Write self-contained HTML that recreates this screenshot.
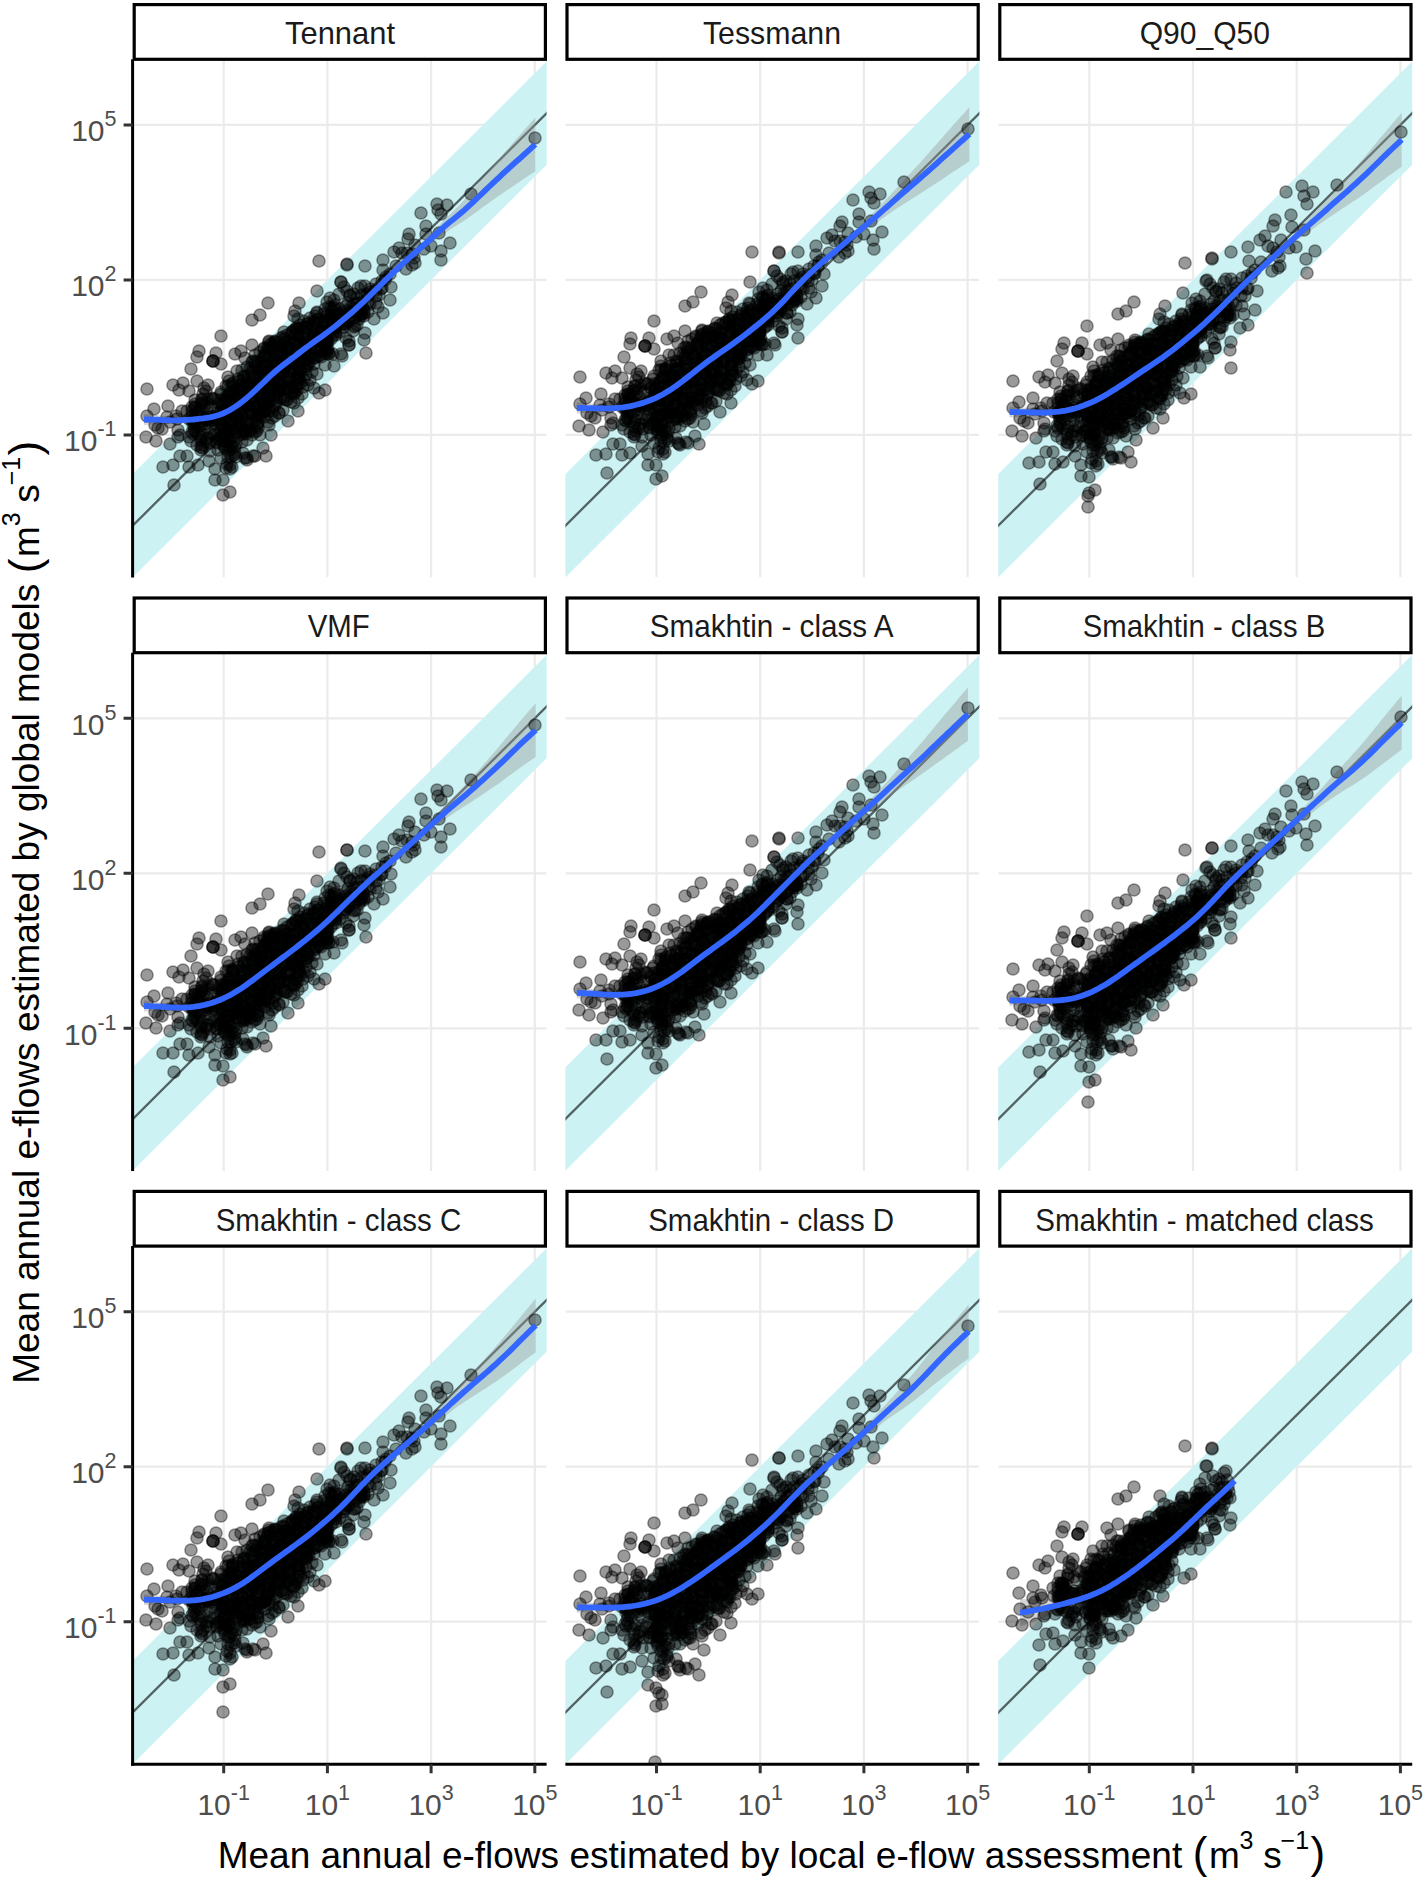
<!DOCTYPE html><html><head><meta charset="utf-8"><title>e-flows</title><style>
html,body{margin:0;padding:0;background:#fff;width:1425px;height:1880px;overflow:hidden}
svg{display:block;font-family:"Liberation Sans", Arial, sans-serif}
</style></head><body>
<svg width="1425" height="1880" viewBox="0 0 1425 1880">
<rect width="1425" height="1880" fill="#fff"/>
<defs>
<clipPath id="c0"><rect x="132.6" y="59.3" width="414.0" height="518.2"/></clipPath>
<clipPath id="c1"><rect x="565.4" y="59.3" width="414.0" height="518.2"/></clipPath>
<clipPath id="c2"><rect x="998.2" y="59.3" width="414.0" height="518.2"/></clipPath>
<clipPath id="c3"><rect x="132.6" y="652.7" width="414.0" height="518.2"/></clipPath>
<clipPath id="c4"><rect x="565.4" y="652.7" width="414.0" height="518.2"/></clipPath>
<clipPath id="c5"><rect x="998.2" y="652.7" width="414.0" height="518.2"/></clipPath>
<clipPath id="c6"><rect x="132.6" y="1246.1" width="414.0" height="518.2"/></clipPath>
<clipPath id="c7"><rect x="565.4" y="1246.1" width="414.0" height="518.2"/></clipPath>
<clipPath id="c8"><rect x="998.2" y="1246.1" width="414.0" height="518.2"/></clipPath>
</defs>
<g clip-path="url(#c0)">
<path d="M223.7 59.3V577.5M327.4 59.3V577.5M431.1 59.3V577.5M534.8 59.3V577.5M132.6 434.9H546.6M132.6 279.9H546.6M132.6 124.9H546.6" stroke="#ebebeb" stroke-width="2.2" fill="none"/>
<path d="M80.8 525.7 L598.5 9.8 L598.5 113.1 L80.8 629Z" fill="#ccf2f3"/>
<path d="M80.8 577.4L598.5 61.5" stroke="#000" stroke-opacity="0.6" stroke-width="2.3"/>
<path d="M144.0 414.0 L147.3 414.2 L150.6 414.5 L153.9 414.8 L157.2 415.1 L160.4 415.5 L163.7 415.9 L167.0 416.3 L170.3 416.6 L173.6 416.8 L176.9 416.9 L180.2 416.9 L183.5 417.0 L186.8 416.9 L190.0 416.8 L193.3 416.7 L196.6 416.5 L199.9 416.2 L203.2 415.8 L206.5 415.4 L209.8 414.9 L213.1 414.3 L216.3 413.5 L219.6 412.6 L222.9 411.4 L226.2 409.9 L229.5 408.2 L232.8 406.2 L236.1 404.1 L239.4 401.7 L242.7 399.3 L245.9 396.6 L249.2 393.8 L252.5 390.9 L255.8 387.8 L259.1 384.6 L262.4 381.4 L265.7 378.2 L269.0 375.1 L272.2 372.1 L275.5 369.2 L278.8 366.5 L282.1 363.9 L285.4 361.3 L288.7 358.9 L292.0 356.4 L295.3 353.9 L298.6 351.4 L301.8 348.9 L305.1 346.4 L308.4 343.9 L311.7 341.5 L315.0 339.1 L318.3 336.8 L321.6 334.5 L324.9 332.2 L328.1 329.7 L331.4 327.2 L334.7 324.6 L338.0 322.0 L341.3 319.3 L344.6 316.5 L347.9 313.7 L351.2 310.9 L354.5 308.0 L357.7 305.0 L361.0 302.0 L364.3 298.9 L367.6 295.7 L370.9 292.5 L374.2 289.3 L377.5 286.0 L380.8 282.8 L384.0 279.5 L387.3 276.2 L390.6 273.0 L393.9 269.8 L397.2 266.7 L400.5 263.7 L403.8 260.7 L407.1 257.5 L410.3 254.3 L413.6 251.1 L416.9 247.9 L420.2 244.7 L423.5 241.5 L426.8 238.2 L430.1 235.0 L433.4 231.5 L436.7 228.0 L439.9 224.5 L443.2 221.0 L446.5 217.7 L449.8 214.5 L453.1 211.3 L456.4 208.1 L459.7 204.8 L463.0 201.2 L466.2 197.6 L469.5 193.9 L472.8 190.1 L476.1 186.2 L479.4 182.3 L482.7 178.4 L486.0 174.5 L489.3 170.6 L492.6 166.6 L495.8 162.8 L499.1 158.9 L502.4 155.1 L505.7 151.3 L509.0 147.5 L512.3 143.8 L515.6 140.0 L518.9 136.3 L522.1 132.5 L525.4 128.7 L528.7 125.0 L532.0 121.3 L535.3 117.6 L535.3 171.2 L532.0 173.4 L528.7 175.6 L525.4 177.8 L522.1 180.0 L518.9 182.2 L515.6 184.5 L512.3 186.7 L509.0 188.9 L505.7 191.1 L502.4 193.4 L499.1 195.6 L495.8 197.9 L492.6 200.2 L489.3 202.5 L486.0 204.9 L482.7 207.3 L479.4 209.7 L476.1 212.2 L472.8 214.6 L469.5 216.9 L466.2 219.2 L463.0 221.4 L459.7 223.5 L456.4 225.5 L453.1 227.6 L449.8 229.8 L446.5 231.9 L443.2 234.2 L439.9 236.6 L436.7 239.0 L433.4 241.5 L430.1 244.1 L426.8 246.7 L423.5 249.3 L420.2 251.8 L416.9 254.3 L413.6 256.9 L410.3 259.4 L407.1 262.0 L403.8 264.8 L400.5 267.8 L397.2 270.9 L393.9 274.0 L390.6 277.1 L387.3 280.4 L384.0 283.6 L380.8 286.9 L377.5 290.2 L374.2 293.4 L370.9 296.7 L367.6 299.9 L364.3 303.0 L361.0 306.1 L357.7 309.2 L354.5 312.1 L351.2 315.0 L347.9 317.9 L344.6 320.6 L341.3 323.4 L338.0 326.1 L334.7 328.8 L331.4 331.4 L328.1 333.9 L324.9 336.3 L321.6 338.6 L318.3 341.0 L315.0 343.3 L311.7 345.6 L308.4 348.0 L305.1 350.5 L301.8 353.0 L298.6 355.5 L295.3 358.0 L292.0 360.5 L288.7 363.0 L285.4 365.5 L282.1 368.0 L278.8 370.6 L275.5 373.3 L272.2 376.2 L269.0 379.2 L265.7 382.3 L262.4 385.5 L259.1 388.7 L255.8 391.9 L252.5 395.0 L249.2 397.9 L245.9 400.8 L242.7 403.4 L239.4 405.9 L236.1 408.2 L232.8 410.3 L229.5 412.3 L226.2 414.1 L222.9 415.6 L219.6 416.9 L216.3 418.0 L213.1 418.9 L209.8 419.6 L206.5 420.2 L203.2 420.8 L199.9 421.3 L196.6 421.8 L193.3 422.2 L190.0 422.6 L186.8 423.0 L183.5 423.3 L180.2 423.5 L176.9 423.7 L173.6 423.9 L170.3 424.0 L167.0 424.1 L163.7 424.2 L160.4 424.3 L157.2 424.3 L153.9 424.4 L150.6 424.6 L147.3 424.7 L144.0 424.9Z" fill="#999" fill-opacity="0.4"/>
<g class="pts" fill="#000" fill-opacity="0.4" stroke="#000" stroke-opacity="0.4" stroke-width="1.5">
<circle cx="248" cy="392" r="6.1"/><circle cx="287" cy="357" r="6.1"/><circle cx="319" cy="261" r="6.1"/><circle cx="222" cy="428" r="6.1"/><circle cx="412" cy="265" r="6.1"/><circle cx="183" cy="383" r="6.1"/><circle cx="304" cy="353" r="6.1"/><circle cx="202" cy="448" r="6.1"/><circle cx="348" cy="322" r="6.1"/><circle cx="266" cy="356" r="6.1"/><circle cx="233" cy="386" r="6.1"/><circle cx="450" cy="243" r="6.1"/><circle cx="235" cy="354" r="6.1"/><circle cx="146" cy="437" r="6.1"/><circle cx="255" cy="367" r="6.1"/><circle cx="298" cy="353" r="6.1"/><circle cx="376" cy="296" r="6.1"/><circle cx="189" cy="419" r="6.1"/><circle cx="326" cy="338" r="6.1"/><circle cx="321" cy="332" r="6.1"/><circle cx="278" cy="376" r="6.1"/><circle cx="304" cy="346" r="6.1"/><circle cx="227" cy="417" r="6.1"/><circle cx="228" cy="377" r="6.1"/><circle cx="193" cy="424" r="6.1"/><circle cx="272" cy="389" r="6.1"/><circle cx="308" cy="363" r="6.1"/><circle cx="279" cy="351" r="6.1"/><circle cx="298" cy="398" r="6.1"/><circle cx="268" cy="349" r="6.1"/><circle cx="288" cy="358" r="6.1"/><circle cx="252" cy="415" r="6.1"/><circle cx="266" cy="375" r="6.1"/><circle cx="306" cy="367" r="6.1"/><circle cx="276" cy="354" r="6.1"/><circle cx="297" cy="351" r="6.1"/><circle cx="361" cy="314" r="6.1"/><circle cx="334" cy="307" r="6.1"/><circle cx="229" cy="424" r="6.1"/><circle cx="173" cy="385" r="6.1"/><circle cx="236" cy="444" r="6.1"/><circle cx="263" cy="389" r="6.1"/><circle cx="218" cy="412" r="6.1"/><circle cx="344" cy="327" r="6.1"/><circle cx="288" cy="348" r="6.1"/><circle cx="229" cy="440" r="6.1"/><circle cx="247" cy="428" r="6.1"/><circle cx="288" cy="389" r="6.1"/><circle cx="415" cy="263" r="6.1"/><circle cx="209" cy="417" r="6.1"/><circle cx="249" cy="431" r="6.1"/><circle cx="264" cy="349" r="6.1"/><circle cx="221" cy="423" r="6.1"/><circle cx="200" cy="410" r="6.1"/><circle cx="253" cy="361" r="6.1"/><circle cx="307" cy="346" r="6.1"/><circle cx="284" cy="339" r="6.1"/><circle cx="402" cy="253" r="6.1"/><circle cx="329" cy="319" r="6.1"/><circle cx="341" cy="354" r="6.1"/><circle cx="274" cy="396" r="6.1"/><circle cx="221" cy="430" r="6.1"/><circle cx="386" cy="277" r="6.1"/><circle cx="233" cy="407" r="6.1"/><circle cx="286" cy="359" r="6.1"/><circle cx="202" cy="424" r="6.1"/><circle cx="315" cy="316" r="6.1"/><circle cx="202" cy="434" r="6.1"/><circle cx="306" cy="375" r="6.1"/><circle cx="281" cy="347" r="6.1"/><circle cx="294" cy="394" r="6.1"/><circle cx="240" cy="391" r="6.1"/><circle cx="277" cy="374" r="6.1"/><circle cx="240" cy="419" r="6.1"/><circle cx="317" cy="313" r="6.1"/><circle cx="347" cy="264" r="6.1"/><circle cx="195" cy="404" r="6.1"/><circle cx="223" cy="480" r="6.1"/><circle cx="308" cy="359" r="6.1"/><circle cx="244" cy="377" r="6.1"/><circle cx="367" cy="294" r="6.1"/><circle cx="298" cy="384" r="6.1"/><circle cx="301" cy="359" r="6.1"/><circle cx="270" cy="397" r="6.1"/><circle cx="245" cy="358" r="6.1"/><circle cx="265" cy="410" r="6.1"/><circle cx="306" cy="346" r="6.1"/><circle cx="276" cy="404" r="6.1"/><circle cx="268" cy="396" r="6.1"/><circle cx="242" cy="408" r="6.1"/><circle cx="230" cy="439" r="6.1"/><circle cx="269" cy="411" r="6.1"/><circle cx="394" cy="252" r="6.1"/><circle cx="362" cy="314" r="6.1"/><circle cx="239" cy="381" r="6.1"/><circle cx="243" cy="432" r="6.1"/><circle cx="266" cy="367" r="6.1"/><circle cx="269" cy="357" r="6.1"/><circle cx="216" cy="417" r="6.1"/><circle cx="421" cy="213" r="6.1"/><circle cx="230" cy="450" r="6.1"/><circle cx="221" cy="394" r="6.1"/><circle cx="203" cy="394" r="6.1"/><circle cx="156" cy="441" r="6.1"/><circle cx="348" cy="303" r="6.1"/><circle cx="272" cy="348" r="6.1"/><circle cx="374" cy="319" r="6.1"/><circle cx="213" cy="361" r="6.1"/><circle cx="207" cy="410" r="6.1"/><circle cx="267" cy="365" r="6.1"/><circle cx="221" cy="458" r="6.1"/><circle cx="268" cy="303" r="6.1"/><circle cx="202" cy="399" r="6.1"/><circle cx="314" cy="364" r="6.1"/><circle cx="283" cy="410" r="6.1"/><circle cx="216" cy="424" r="6.1"/><circle cx="321" cy="331" r="6.1"/><circle cx="288" cy="380" r="6.1"/><circle cx="317" cy="312" r="6.1"/><circle cx="234" cy="413" r="6.1"/><circle cx="215" cy="431" r="6.1"/><circle cx="329" cy="353" r="6.1"/><circle cx="286" cy="400" r="6.1"/><circle cx="224" cy="406" r="6.1"/><circle cx="290" cy="371" r="6.1"/><circle cx="233" cy="402" r="6.1"/><circle cx="291" cy="333" r="6.1"/><circle cx="187" cy="411" r="6.1"/><circle cx="269" cy="425" r="6.1"/><circle cx="170" cy="422" r="6.1"/><circle cx="441" cy="214" r="6.1"/><circle cx="332" cy="324" r="6.1"/><circle cx="260" cy="415" r="6.1"/><circle cx="414" cy="258" r="6.1"/><circle cx="174" cy="485" r="6.1"/><circle cx="353" cy="312" r="6.1"/><circle cx="191" cy="369" r="6.1"/><circle cx="244" cy="376" r="6.1"/><circle cx="346" cy="321" r="6.1"/><circle cx="230" cy="393" r="6.1"/><circle cx="251" cy="414" r="6.1"/><circle cx="237" cy="427" r="6.1"/><circle cx="266" cy="409" r="6.1"/><circle cx="211" cy="406" r="6.1"/><circle cx="383" cy="270" r="6.1"/><circle cx="247" cy="458" r="6.1"/><circle cx="336" cy="335" r="6.1"/><circle cx="256" cy="386" r="6.1"/><circle cx="305" cy="361" r="6.1"/><circle cx="221" cy="411" r="6.1"/><circle cx="209" cy="461" r="6.1"/><circle cx="298" cy="374" r="6.1"/><circle cx="294" cy="393" r="6.1"/><circle cx="334" cy="366" r="6.1"/><circle cx="247" cy="460" r="6.1"/><circle cx="307" cy="366" r="6.1"/><circle cx="269" cy="342" r="6.1"/><circle cx="221" cy="392" r="6.1"/><circle cx="180" cy="435" r="6.1"/><circle cx="325" cy="321" r="6.1"/><circle cx="249" cy="387" r="6.1"/><circle cx="321" cy="357" r="6.1"/><circle cx="225" cy="441" r="6.1"/><circle cx="251" cy="393" r="6.1"/><circle cx="258" cy="405" r="6.1"/><circle cx="291" cy="367" r="6.1"/><circle cx="306" cy="344" r="6.1"/><circle cx="263" cy="376" r="6.1"/><circle cx="258" cy="423" r="6.1"/><circle cx="338" cy="314" r="6.1"/><circle cx="325" cy="390" r="6.1"/><circle cx="260" cy="395" r="6.1"/><circle cx="275" cy="416" r="6.1"/><circle cx="315" cy="347" r="6.1"/><circle cx="342" cy="313" r="6.1"/><circle cx="359" cy="319" r="6.1"/><circle cx="249" cy="422" r="6.1"/><circle cx="232" cy="467" r="6.1"/><circle cx="227" cy="464" r="6.1"/><circle cx="242" cy="401" r="6.1"/><circle cx="412" cy="254" r="6.1"/><circle cx="208" cy="399" r="6.1"/><circle cx="204" cy="421" r="6.1"/><circle cx="282" cy="373" r="6.1"/><circle cx="258" cy="373" r="6.1"/><circle cx="252" cy="345" r="6.1"/><circle cx="195" cy="427" r="6.1"/><circle cx="314" cy="388" r="6.1"/><circle cx="354" cy="294" r="6.1"/><circle cx="246" cy="404" r="6.1"/><circle cx="162" cy="429" r="6.1"/><circle cx="290" cy="379" r="6.1"/><circle cx="192" cy="416" r="6.1"/><circle cx="269" cy="409" r="6.1"/><circle cx="271" cy="377" r="6.1"/><circle cx="218" cy="450" r="6.1"/><circle cx="228" cy="436" r="6.1"/><circle cx="256" cy="365" r="6.1"/><circle cx="366" cy="353" r="6.1"/><circle cx="268" cy="403" r="6.1"/><circle cx="251" cy="385" r="6.1"/><circle cx="285" cy="368" r="6.1"/><circle cx="206" cy="391" r="6.1"/><circle cx="233" cy="397" r="6.1"/><circle cx="197" cy="424" r="6.1"/><circle cx="234" cy="455" r="6.1"/><circle cx="282" cy="353" r="6.1"/><circle cx="268" cy="399" r="6.1"/><circle cx="277" cy="393" r="6.1"/><circle cx="250" cy="410" r="6.1"/><circle cx="301" cy="356" r="6.1"/><circle cx="241" cy="351" r="6.1"/><circle cx="426" cy="234" r="6.1"/><circle cx="376" cy="290" r="6.1"/><circle cx="284" cy="397" r="6.1"/><circle cx="208" cy="403" r="6.1"/><circle cx="226" cy="413" r="6.1"/><circle cx="246" cy="430" r="6.1"/><circle cx="244" cy="432" r="6.1"/><circle cx="264" cy="384" r="6.1"/><circle cx="205" cy="419" r="6.1"/><circle cx="345" cy="324" r="6.1"/><circle cx="286" cy="342" r="6.1"/><circle cx="310" cy="318" r="6.1"/><circle cx="230" cy="492" r="6.1"/><circle cx="195" cy="408" r="6.1"/><circle cx="226" cy="397" r="6.1"/><circle cx="340" cy="332" r="6.1"/><circle cx="326" cy="345" r="6.1"/><circle cx="265" cy="354" r="6.1"/><circle cx="232" cy="446" r="6.1"/><circle cx="279" cy="413" r="6.1"/><circle cx="182" cy="411" r="6.1"/><circle cx="310" cy="380" r="6.1"/><circle cx="269" cy="391" r="6.1"/><circle cx="439" cy="233" r="6.1"/><circle cx="318" cy="319" r="6.1"/><circle cx="273" cy="411" r="6.1"/><circle cx="274" cy="346" r="6.1"/><circle cx="354" cy="318" r="6.1"/><circle cx="251" cy="385" r="6.1"/><circle cx="328" cy="342" r="6.1"/><circle cx="299" cy="337" r="6.1"/><circle cx="331" cy="315" r="6.1"/><circle cx="246" cy="434" r="6.1"/><circle cx="357" cy="325" r="6.1"/><circle cx="272" cy="369" r="6.1"/><circle cx="327" cy="341" r="6.1"/><circle cx="319" cy="356" r="6.1"/><circle cx="278" cy="390" r="6.1"/><circle cx="378" cy="307" r="6.1"/><circle cx="297" cy="390" r="6.1"/><circle cx="409" cy="234" r="6.1"/><circle cx="230" cy="401" r="6.1"/><circle cx="331" cy="315" r="6.1"/><circle cx="370" cy="289" r="6.1"/><circle cx="263" cy="411" r="6.1"/><circle cx="257" cy="431" r="6.1"/><circle cx="332" cy="327" r="6.1"/><circle cx="309" cy="364" r="6.1"/><circle cx="242" cy="409" r="6.1"/><circle cx="245" cy="384" r="6.1"/><circle cx="298" cy="335" r="6.1"/><circle cx="349" cy="313" r="6.1"/><circle cx="228" cy="441" r="6.1"/><circle cx="238" cy="379" r="6.1"/><circle cx="354" cy="304" r="6.1"/><circle cx="255" cy="421" r="6.1"/><circle cx="351" cy="307" r="6.1"/><circle cx="198" cy="434" r="6.1"/><circle cx="328" cy="349" r="6.1"/><circle cx="299" cy="340" r="6.1"/><circle cx="247" cy="367" r="6.1"/><circle cx="333" cy="316" r="6.1"/><circle cx="340" cy="314" r="6.1"/><circle cx="306" cy="354" r="6.1"/><circle cx="281" cy="366" r="6.1"/><circle cx="302" cy="350" r="6.1"/><circle cx="216" cy="353" r="6.1"/><circle cx="297" cy="329" r="6.1"/><circle cx="255" cy="355" r="6.1"/><circle cx="197" cy="381" r="6.1"/><circle cx="316" cy="323" r="6.1"/><circle cx="318" cy="320" r="6.1"/><circle cx="233" cy="415" r="6.1"/><circle cx="283" cy="386" r="6.1"/><circle cx="226" cy="399" r="6.1"/><circle cx="215" cy="399" r="6.1"/><circle cx="535" cy="138" r="6.1"/><circle cx="330" cy="330" r="6.1"/><circle cx="274" cy="406" r="6.1"/><circle cx="327" cy="337" r="6.1"/><circle cx="199" cy="412" r="6.1"/><circle cx="368" cy="303" r="6.1"/><circle cx="257" cy="415" r="6.1"/><circle cx="206" cy="418" r="6.1"/><circle cx="339" cy="294" r="6.1"/><circle cx="349" cy="341" r="6.1"/><circle cx="349" cy="345" r="6.1"/><circle cx="301" cy="383" r="6.1"/><circle cx="147" cy="389" r="6.1"/><circle cx="243" cy="406" r="6.1"/><circle cx="333" cy="354" r="6.1"/><circle cx="231" cy="457" r="6.1"/><circle cx="331" cy="308" r="6.1"/><circle cx="319" cy="341" r="6.1"/><circle cx="235" cy="392" r="6.1"/><circle cx="382" cy="288" r="6.1"/><circle cx="229" cy="381" r="6.1"/><circle cx="250" cy="409" r="6.1"/><circle cx="225" cy="448" r="6.1"/><circle cx="274" cy="386" r="6.1"/><circle cx="207" cy="419" r="6.1"/><circle cx="278" cy="381" r="6.1"/><circle cx="241" cy="389" r="6.1"/><circle cx="233" cy="430" r="6.1"/><circle cx="301" cy="363" r="6.1"/><circle cx="307" cy="324" r="6.1"/><circle cx="224" cy="417" r="6.1"/><circle cx="235" cy="447" r="6.1"/><circle cx="317" cy="341" r="6.1"/><circle cx="249" cy="389" r="6.1"/><circle cx="274" cy="342" r="6.1"/><circle cx="295" cy="311" r="6.1"/><circle cx="268" cy="422" r="6.1"/><circle cx="223" cy="435" r="6.1"/><circle cx="287" cy="381" r="6.1"/><circle cx="241" cy="390" r="6.1"/><circle cx="437" cy="204" r="6.1"/><circle cx="224" cy="445" r="6.1"/><circle cx="178" cy="430" r="6.1"/><circle cx="285" cy="383" r="6.1"/><circle cx="317" cy="291" r="6.1"/><circle cx="259" cy="411" r="6.1"/><circle cx="305" cy="369" r="6.1"/><circle cx="383" cy="260" r="6.1"/><circle cx="229" cy="394" r="6.1"/><circle cx="236" cy="408" r="6.1"/><circle cx="196" cy="432" r="6.1"/><circle cx="237" cy="389" r="6.1"/><circle cx="288" cy="421" r="6.1"/><circle cx="346" cy="338" r="6.1"/><circle cx="226" cy="468" r="6.1"/><circle cx="199" cy="427" r="6.1"/><circle cx="313" cy="323" r="6.1"/><circle cx="261" cy="362" r="6.1"/><circle cx="291" cy="387" r="6.1"/><circle cx="247" cy="406" r="6.1"/><circle cx="274" cy="357" r="6.1"/><circle cx="193" cy="420" r="6.1"/><circle cx="299" cy="362" r="6.1"/><circle cx="217" cy="443" r="6.1"/><circle cx="326" cy="321" r="6.1"/><circle cx="330" cy="329" r="6.1"/><circle cx="265" cy="417" r="6.1"/><circle cx="283" cy="337" r="6.1"/><circle cx="319" cy="393" r="6.1"/><circle cx="424" cy="249" r="6.1"/><circle cx="303" cy="387" r="6.1"/><circle cx="297" cy="378" r="6.1"/><circle cx="260" cy="383" r="6.1"/><circle cx="354" cy="327" r="6.1"/><circle cx="298" cy="411" r="6.1"/><circle cx="245" cy="400" r="6.1"/><circle cx="364" cy="310" r="6.1"/><circle cx="431" cy="246" r="6.1"/><circle cx="300" cy="371" r="6.1"/><circle cx="314" cy="356" r="6.1"/><circle cx="292" cy="363" r="6.1"/><circle cx="327" cy="351" r="6.1"/><circle cx="365" cy="286" r="6.1"/><circle cx="334" cy="309" r="6.1"/><circle cx="226" cy="435" r="6.1"/><circle cx="228" cy="431" r="6.1"/><circle cx="250" cy="369" r="6.1"/><circle cx="189" cy="437" r="6.1"/><circle cx="361" cy="316" r="6.1"/><circle cx="237" cy="371" r="6.1"/><circle cx="315" cy="358" r="6.1"/><circle cx="299" cy="303" r="6.1"/><circle cx="441" cy="260" r="6.1"/><circle cx="223" cy="425" r="6.1"/><circle cx="261" cy="393" r="6.1"/><circle cx="332" cy="311" r="6.1"/><circle cx="334" cy="300" r="6.1"/><circle cx="247" cy="440" r="6.1"/><circle cx="255" cy="456" r="6.1"/><circle cx="155" cy="425" r="6.1"/><circle cx="222" cy="405" r="6.1"/><circle cx="263" cy="386" r="6.1"/><circle cx="180" cy="456" r="6.1"/><circle cx="201" cy="447" r="6.1"/><circle cx="304" cy="332" r="6.1"/><circle cx="294" cy="363" r="6.1"/><circle cx="317" cy="374" r="6.1"/><circle cx="201" cy="417" r="6.1"/><circle cx="364" cy="316" r="6.1"/><circle cx="325" cy="309" r="6.1"/><circle cx="250" cy="431" r="6.1"/><circle cx="304" cy="321" r="6.1"/><circle cx="364" cy="313" r="6.1"/><circle cx="192" cy="432" r="6.1"/><circle cx="237" cy="400" r="6.1"/><circle cx="271" cy="435" r="6.1"/><circle cx="358" cy="288" r="6.1"/><circle cx="251" cy="398" r="6.1"/><circle cx="283" cy="362" r="6.1"/><circle cx="327" cy="323" r="6.1"/><circle cx="213" cy="361" r="6.1"/><circle cx="300" cy="325" r="6.1"/><circle cx="254" cy="383" r="6.1"/><circle cx="304" cy="380" r="6.1"/><circle cx="281" cy="398" r="6.1"/><circle cx="415" cy="245" r="6.1"/><circle cx="334" cy="321" r="6.1"/><circle cx="252" cy="423" r="6.1"/><circle cx="163" cy="467" r="6.1"/><circle cx="221" cy="336" r="6.1"/><circle cx="308" cy="385" r="6.1"/><circle cx="212" cy="398" r="6.1"/><circle cx="272" cy="418" r="6.1"/><circle cx="279" cy="390" r="6.1"/><circle cx="225" cy="441" r="6.1"/><circle cx="362" cy="295" r="6.1"/><circle cx="355" cy="326" r="6.1"/><circle cx="326" cy="349" r="6.1"/><circle cx="252" cy="414" r="6.1"/><circle cx="236" cy="432" r="6.1"/><circle cx="273" cy="380" r="6.1"/><circle cx="315" cy="352" r="6.1"/><circle cx="225" cy="400" r="6.1"/><circle cx="223" cy="411" r="6.1"/><circle cx="213" cy="420" r="6.1"/><circle cx="263" cy="389" r="6.1"/><circle cx="241" cy="421" r="6.1"/><circle cx="223" cy="495" r="6.1"/><circle cx="323" cy="323" r="6.1"/><circle cx="260" cy="315" r="6.1"/><circle cx="228" cy="457" r="6.1"/><circle cx="264" cy="412" r="6.1"/><circle cx="300" cy="370" r="6.1"/><circle cx="291" cy="393" r="6.1"/><circle cx="272" cy="385" r="6.1"/><circle cx="362" cy="302" r="6.1"/><circle cx="263" cy="368" r="6.1"/><circle cx="240" cy="399" r="6.1"/><circle cx="228" cy="451" r="6.1"/><circle cx="368" cy="312" r="6.1"/><circle cx="187" cy="456" r="6.1"/><circle cx="218" cy="418" r="6.1"/><circle cx="347" cy="265" r="6.1"/><circle cx="341" cy="282" r="6.1"/><circle cx="295" cy="391" r="6.1"/><circle cx="344" cy="287" r="6.1"/><circle cx="192" cy="411" r="6.1"/><circle cx="353" cy="309" r="6.1"/><circle cx="296" cy="343" r="6.1"/><circle cx="360" cy="309" r="6.1"/><circle cx="221" cy="437" r="6.1"/><circle cx="365" cy="266" r="6.1"/><circle cx="339" cy="315" r="6.1"/><circle cx="441" cy="251" r="6.1"/><circle cx="293" cy="368" r="6.1"/><circle cx="274" cy="360" r="6.1"/><circle cx="327" cy="302" r="6.1"/><circle cx="215" cy="469" r="6.1"/><circle cx="205" cy="424" r="6.1"/><circle cx="275" cy="341" r="6.1"/><circle cx="265" cy="403" r="6.1"/><circle cx="281" cy="338" r="6.1"/><circle cx="357" cy="303" r="6.1"/><circle cx="379" cy="295" r="6.1"/><circle cx="252" cy="362" r="6.1"/><circle cx="368" cy="296" r="6.1"/><circle cx="284" cy="368" r="6.1"/><circle cx="208" cy="385" r="6.1"/><circle cx="230" cy="447" r="6.1"/><circle cx="299" cy="380" r="6.1"/><circle cx="396" cy="266" r="6.1"/><circle cx="201" cy="437" r="6.1"/><circle cx="198" cy="465" r="6.1"/><circle cx="197" cy="445" r="6.1"/><circle cx="335" cy="322" r="6.1"/><circle cx="313" cy="337" r="6.1"/><circle cx="303" cy="336" r="6.1"/><circle cx="275" cy="361" r="6.1"/><circle cx="266" cy="376" r="6.1"/><circle cx="264" cy="406" r="6.1"/><circle cx="270" cy="372" r="6.1"/><circle cx="382" cy="281" r="6.1"/><circle cx="201" cy="404" r="6.1"/><circle cx="255" cy="390" r="6.1"/><circle cx="196" cy="413" r="6.1"/><circle cx="280" cy="372" r="6.1"/><circle cx="242" cy="413" r="6.1"/><circle cx="294" cy="342" r="6.1"/><circle cx="346" cy="306" r="6.1"/><circle cx="210" cy="451" r="6.1"/><circle cx="189" cy="391" r="6.1"/><circle cx="230" cy="402" r="6.1"/><circle cx="288" cy="379" r="6.1"/><circle cx="310" cy="351" r="6.1"/><circle cx="299" cy="377" r="6.1"/><circle cx="196" cy="419" r="6.1"/><circle cx="260" cy="398" r="6.1"/><circle cx="237" cy="432" r="6.1"/><circle cx="335" cy="328" r="6.1"/><circle cx="326" cy="344" r="6.1"/><circle cx="341" cy="282" r="6.1"/><circle cx="276" cy="342" r="6.1"/><circle cx="296" cy="359" r="6.1"/><circle cx="357" cy="298" r="6.1"/><circle cx="274" cy="344" r="6.1"/><circle cx="270" cy="344" r="6.1"/><circle cx="342" cy="324" r="6.1"/><circle cx="359" cy="315" r="6.1"/><circle cx="336" cy="328" r="6.1"/><circle cx="314" cy="321" r="6.1"/><circle cx="268" cy="347" r="6.1"/><circle cx="353" cy="331" r="6.1"/><circle cx="327" cy="354" r="6.1"/><circle cx="376" cy="303" r="6.1"/><circle cx="438" cy="210" r="6.1"/><circle cx="335" cy="331" r="6.1"/><circle cx="227" cy="413" r="6.1"/><circle cx="259" cy="411" r="6.1"/><circle cx="319" cy="333" r="6.1"/><circle cx="312" cy="344" r="6.1"/><circle cx="363" cy="308" r="6.1"/><circle cx="260" cy="376" r="6.1"/><circle cx="288" cy="348" r="6.1"/><circle cx="426" cy="226" r="6.1"/><circle cx="381" cy="289" r="6.1"/><circle cx="370" cy="304" r="6.1"/><circle cx="297" cy="342" r="6.1"/><circle cx="179" cy="390" r="6.1"/><circle cx="195" cy="400" r="6.1"/><circle cx="217" cy="419" r="6.1"/><circle cx="390" cy="274" r="6.1"/><circle cx="210" cy="434" r="6.1"/><circle cx="391" cy="287" r="6.1"/><circle cx="242" cy="401" r="6.1"/><circle cx="147" cy="416" r="6.1"/><circle cx="271" cy="363" r="6.1"/><circle cx="204" cy="406" r="6.1"/><circle cx="234" cy="441" r="6.1"/><circle cx="237" cy="421" r="6.1"/><circle cx="307" cy="339" r="6.1"/><circle cx="260" cy="435" r="6.1"/><circle cx="213" cy="418" r="6.1"/><circle cx="296" cy="387" r="6.1"/><circle cx="253" cy="401" r="6.1"/><circle cx="322" cy="339" r="6.1"/><circle cx="284" cy="389" r="6.1"/><circle cx="255" cy="362" r="6.1"/><circle cx="212" cy="416" r="6.1"/><circle cx="229" cy="396" r="6.1"/><circle cx="258" cy="428" r="6.1"/><circle cx="219" cy="404" r="6.1"/><circle cx="279" cy="413" r="6.1"/><circle cx="285" cy="366" r="6.1"/><circle cx="233" cy="383" r="6.1"/><circle cx="290" cy="389" r="6.1"/><circle cx="264" cy="348" r="6.1"/><circle cx="258" cy="361" r="6.1"/><circle cx="286" cy="348" r="6.1"/><circle cx="245" cy="458" r="6.1"/><circle cx="193" cy="434" r="6.1"/><circle cx="261" cy="384" r="6.1"/><circle cx="217" cy="439" r="6.1"/><circle cx="260" cy="352" r="6.1"/><circle cx="349" cy="321" r="6.1"/><circle cx="300" cy="328" r="6.1"/><circle cx="234" cy="391" r="6.1"/><circle cx="228" cy="426" r="6.1"/><circle cx="243" cy="434" r="6.1"/><circle cx="247" cy="423" r="6.1"/><circle cx="170" cy="444" r="6.1"/><circle cx="251" cy="390" r="6.1"/><circle cx="305" cy="353" r="6.1"/><circle cx="234" cy="411" r="6.1"/><circle cx="447" cy="205" r="6.1"/><circle cx="276" cy="365" r="6.1"/><circle cx="390" cy="300" r="6.1"/><circle cx="335" cy="305" r="6.1"/><circle cx="226" cy="386" r="6.1"/><circle cx="252" cy="320" r="6.1"/><circle cx="178" cy="437" r="6.1"/><circle cx="210" cy="421" r="6.1"/><circle cx="242" cy="384" r="6.1"/><circle cx="267" cy="387" r="6.1"/><circle cx="173" cy="465" r="6.1"/><circle cx="213" cy="399" r="6.1"/><circle cx="299" cy="374" r="6.1"/><circle cx="201" cy="450" r="6.1"/><circle cx="407" cy="253" r="6.1"/><circle cx="309" cy="323" r="6.1"/><circle cx="313" cy="326" r="6.1"/><circle cx="376" cy="284" r="6.1"/><circle cx="194" cy="422" r="6.1"/><circle cx="290" cy="382" r="6.1"/><circle cx="245" cy="420" r="6.1"/><circle cx="294" cy="316" r="6.1"/><circle cx="314" cy="333" r="6.1"/><circle cx="298" cy="319" r="6.1"/><circle cx="307" cy="327" r="6.1"/><circle cx="311" cy="339" r="6.1"/><circle cx="322" cy="331" r="6.1"/><circle cx="312" cy="372" r="6.1"/><circle cx="289" cy="359" r="6.1"/><circle cx="317" cy="330" r="6.1"/><circle cx="189" cy="467" r="6.1"/><circle cx="197" cy="357" r="6.1"/><circle cx="167" cy="417" r="6.1"/><circle cx="254" cy="377" r="6.1"/><circle cx="291" cy="402" r="6.1"/><circle cx="192" cy="420" r="6.1"/><circle cx="314" cy="358" r="6.1"/><circle cx="370" cy="292" r="6.1"/><circle cx="360" cy="309" r="6.1"/><circle cx="206" cy="439" r="6.1"/><circle cx="237" cy="417" r="6.1"/><circle cx="232" cy="384" r="6.1"/><circle cx="230" cy="465" r="6.1"/><circle cx="364" cy="340" r="6.1"/><circle cx="225" cy="431" r="6.1"/><circle cx="280" cy="384" r="6.1"/><circle cx="293" cy="371" r="6.1"/><circle cx="209" cy="428" r="6.1"/><circle cx="322" cy="332" r="6.1"/><circle cx="243" cy="453" r="6.1"/><circle cx="317" cy="356" r="6.1"/><circle cx="296" cy="328" r="6.1"/><circle cx="257" cy="426" r="6.1"/><circle cx="293" cy="331" r="6.1"/><circle cx="399" cy="248" r="6.1"/><circle cx="471" cy="194" r="6.1"/><circle cx="284" cy="399" r="6.1"/><circle cx="239" cy="389" r="6.1"/><circle cx="242" cy="370" r="6.1"/><circle cx="224" cy="446" r="6.1"/><circle cx="266" cy="456" r="6.1"/><circle cx="239" cy="423" r="6.1"/><circle cx="269" cy="341" r="6.1"/><circle cx="219" cy="439" r="6.1"/><circle cx="203" cy="445" r="6.1"/><circle cx="298" cy="378" r="6.1"/><circle cx="345" cy="324" r="6.1"/><circle cx="313" cy="335" r="6.1"/><circle cx="238" cy="410" r="6.1"/><circle cx="264" cy="362" r="6.1"/><circle cx="258" cy="406" r="6.1"/><circle cx="270" cy="401" r="6.1"/><circle cx="192" cy="407" r="6.1"/><circle cx="204" cy="388" r="6.1"/><circle cx="202" cy="403" r="6.1"/><circle cx="235" cy="425" r="6.1"/><circle cx="297" cy="352" r="6.1"/><circle cx="264" cy="356" r="6.1"/><circle cx="325" cy="365" r="6.1"/><circle cx="260" cy="417" r="6.1"/><circle cx="298" cy="347" r="6.1"/><circle cx="261" cy="399" r="6.1"/><circle cx="350" cy="296" r="6.1"/><circle cx="194" cy="430" r="6.1"/><circle cx="199" cy="413" r="6.1"/><circle cx="328" cy="327" r="6.1"/><circle cx="214" cy="435" r="6.1"/><circle cx="280" cy="373" r="6.1"/><circle cx="324" cy="314" r="6.1"/><circle cx="280" cy="357" r="6.1"/><circle cx="271" cy="373" r="6.1"/><circle cx="278" cy="371" r="6.1"/><circle cx="345" cy="316" r="6.1"/><circle cx="317" cy="349" r="6.1"/><circle cx="221" cy="364" r="6.1"/><circle cx="242" cy="417" r="6.1"/><circle cx="191" cy="441" r="6.1"/><circle cx="320" cy="344" r="6.1"/><circle cx="331" cy="339" r="6.1"/><circle cx="365" cy="333" r="6.1"/><circle cx="246" cy="398" r="6.1"/><circle cx="293" cy="331" r="6.1"/><circle cx="236" cy="457" r="6.1"/><circle cx="168" cy="406" r="6.1"/><circle cx="264" cy="395" r="6.1"/><circle cx="339" cy="309" r="6.1"/><circle cx="264" cy="405" r="6.1"/><circle cx="208" cy="438" r="6.1"/><circle cx="329" cy="354" r="6.1"/><circle cx="296" cy="334" r="6.1"/><circle cx="333" cy="336" r="6.1"/><circle cx="213" cy="361" r="6.1"/><circle cx="408" cy="239" r="6.1"/><circle cx="349" cy="345" r="6.1"/><circle cx="284" cy="332" r="6.1"/><circle cx="252" cy="435" r="6.1"/><circle cx="294" cy="343" r="6.1"/><circle cx="274" cy="379" r="6.1"/><circle cx="289" cy="341" r="6.1"/><circle cx="252" cy="371" r="6.1"/><circle cx="346" cy="311" r="6.1"/><circle cx="327" cy="316" r="6.1"/><circle cx="216" cy="442" r="6.1"/><circle cx="223" cy="411" r="6.1"/><circle cx="215" cy="480" r="6.1"/><circle cx="361" cy="286" r="6.1"/><circle cx="221" cy="438" r="6.1"/><circle cx="243" cy="380" r="6.1"/><circle cx="259" cy="415" r="6.1"/><circle cx="280" cy="391" r="6.1"/><circle cx="201" cy="440" r="6.1"/><circle cx="263" cy="448" r="6.1"/><circle cx="221" cy="400" r="6.1"/><circle cx="327" cy="342" r="6.1"/><circle cx="284" cy="346" r="6.1"/><circle cx="336" cy="325" r="6.1"/><circle cx="285" cy="342" r="6.1"/><circle cx="302" cy="394" r="6.1"/><circle cx="294" cy="403" r="6.1"/><circle cx="222" cy="405" r="6.1"/><circle cx="253" cy="407" r="6.1"/><circle cx="270" cy="385" r="6.1"/><circle cx="341" cy="318" r="6.1"/><circle cx="335" cy="333" r="6.1"/><circle cx="406" cy="269" r="6.1"/><circle cx="304" cy="347" r="6.1"/><circle cx="262" cy="367" r="6.1"/><circle cx="278" cy="388" r="6.1"/><circle cx="292" cy="368" r="6.1"/><circle cx="264" cy="373" r="6.1"/><circle cx="202" cy="400" r="6.1"/><circle cx="275" cy="354" r="6.1"/><circle cx="291" cy="355" r="6.1"/><circle cx="158" cy="428" r="6.1"/><circle cx="206" cy="442" r="6.1"/><circle cx="253" cy="398" r="6.1"/><circle cx="195" cy="407" r="6.1"/><circle cx="240" cy="435" r="6.1"/><circle cx="287" cy="349" r="6.1"/><circle cx="253" cy="377" r="6.1"/><circle cx="257" cy="424" r="6.1"/><circle cx="329" cy="307" r="6.1"/><circle cx="305" cy="327" r="6.1"/><circle cx="254" cy="402" r="6.1"/><circle cx="253" cy="456" r="6.1"/><circle cx="238" cy="395" r="6.1"/><circle cx="307" cy="334" r="6.1"/><circle cx="330" cy="298" r="6.1"/><circle cx="287" cy="400" r="6.1"/><circle cx="177" cy="419" r="6.1"/><circle cx="236" cy="429" r="6.1"/><circle cx="277" cy="401" r="6.1"/><circle cx="385" cy="280" r="6.1"/><circle cx="231" cy="412" r="6.1"/><circle cx="176" cy="416" r="6.1"/><circle cx="154" cy="409" r="6.1"/><circle cx="287" cy="335" r="6.1"/><circle cx="274" cy="399" r="6.1"/><circle cx="210" cy="443" r="6.1"/><circle cx="247" cy="382" r="6.1"/><circle cx="296" cy="329" r="6.1"/><circle cx="321" cy="351" r="6.1"/><circle cx="383" cy="313" r="6.1"/><circle cx="350" cy="295" r="6.1"/><circle cx="264" cy="357" r="6.1"/><circle cx="347" cy="291" r="6.1"/><circle cx="242" cy="442" r="6.1"/><circle cx="255" cy="432" r="6.1"/><circle cx="315" cy="336" r="6.1"/><circle cx="248" cy="376" r="6.1"/><circle cx="306" cy="328" r="6.1"/><circle cx="342" cy="356" r="6.1"/><circle cx="275" cy="367" r="6.1"/><circle cx="228" cy="386" r="6.1"/><circle cx="279" cy="355" r="6.1"/><circle cx="230" cy="469" r="6.1"/><circle cx="208" cy="420" r="6.1"/><circle cx="252" cy="373" r="6.1"/><circle cx="260" cy="370" r="6.1"/><circle cx="222" cy="426" r="6.1"/><circle cx="229" cy="410" r="6.1"/><circle cx="225" cy="419" r="6.1"/><circle cx="325" cy="353" r="6.1"/><circle cx="255" cy="397" r="6.1"/><circle cx="317" cy="341" r="6.1"/><circle cx="289" cy="349" r="6.1"/><circle cx="355" cy="312" r="6.1"/><circle cx="231" cy="429" r="6.1"/><circle cx="231" cy="423" r="6.1"/><circle cx="199" cy="351" r="6.1"/><circle cx="235" cy="453" r="6.1"/>
</g>
<path d="M144.0 419.5 L147.3 419.5 L150.6 419.5 L153.9 419.6 L157.2 419.7 L160.4 419.9 L163.7 420.1 L167.0 420.2 L170.3 420.3 L173.6 420.3 L176.9 420.3 L180.2 420.2 L183.5 420.1 L186.8 419.9 L190.0 419.7 L193.3 419.5 L196.6 419.1 L199.9 418.7 L203.2 418.3 L206.5 417.8 L209.8 417.3 L213.1 416.6 L216.3 415.8 L219.6 414.7 L222.9 413.5 L226.2 412.0 L229.5 410.2 L232.8 408.3 L236.1 406.1 L239.4 403.8 L242.7 401.3 L245.9 398.7 L249.2 395.9 L252.5 392.9 L255.8 389.8 L259.1 386.7 L262.4 383.5 L265.7 380.3 L269.0 377.2 L272.2 374.2 L275.5 371.3 L278.8 368.5 L282.1 365.9 L285.4 363.4 L288.7 360.9 L292.0 358.4 L295.3 356.0 L298.6 353.4 L301.8 350.9 L305.1 348.4 L308.4 346.0 L311.7 343.6 L315.0 341.2 L318.3 338.9 L321.6 336.6 L324.9 334.2 L328.1 331.8 L331.4 329.3 L334.7 326.7 L338.0 324.0 L341.3 321.3 L344.6 318.6 L347.9 315.8 L351.2 313.0 L354.5 310.1 L357.7 307.1 L361.0 304.1 L364.3 301.0 L367.6 297.8 L370.9 294.6 L374.2 291.3 L377.5 288.1 L380.8 284.8 L384.0 281.6 L387.3 278.3 L390.6 275.1 L393.9 271.9 L397.2 268.8 L400.5 265.7 L403.8 262.7 L407.1 259.8 L410.3 256.9 L413.6 254.0 L416.9 251.1 L420.2 248.2 L423.5 245.4 L426.8 242.5 L430.1 239.5 L433.4 236.5 L436.7 233.5 L439.9 230.5 L443.2 227.6 L446.5 224.8 L449.8 222.1 L453.1 219.5 L456.4 216.8 L459.7 214.1 L463.0 211.3 L466.2 208.4 L469.5 205.4 L472.8 202.3 L476.1 199.2 L479.4 196.0 L482.7 192.9 L486.0 189.7 L489.3 186.5 L492.6 183.4 L495.8 180.3 L499.1 177.3 L502.4 174.2 L505.7 171.2 L509.0 168.2 L512.3 165.2 L515.6 162.2 L518.9 159.3 L522.1 156.3 L525.4 153.3 L528.7 150.3 L532.0 147.3 L535.3 144.4" stroke="#3366ff" stroke-width="5.8" fill="none" stroke-linecap="butt"/>
</g>
<rect x="134.2" y="4.6" width="411.2" height="54.7" fill="#fff" stroke="#000" stroke-width="3.2"/>
<text x="340" y="43.7" font-size="31.5" fill="#1a1a1a" text-anchor="middle" textLength="110.0" lengthAdjust="spacingAndGlyphs">Tennant</text>
<path d="M132.6 59.3V577.5" stroke="#000" stroke-width="3"/>
<path d="M123.6 434.9H132.6M123.6 279.9H132.6M123.6 124.9H132.6" stroke="#333" stroke-width="3"/>
<text x="116.5" y="451.2" font-size="30" fill="#4d4d4d" text-anchor="end">10<tspan font-size="21.5" dy="-15">-1</tspan></text>
<text x="116.5" y="296.2" font-size="30" fill="#4d4d4d" text-anchor="end">10<tspan font-size="21.5" dy="-15">2</tspan></text>
<text x="116.5" y="141.2" font-size="30" fill="#4d4d4d" text-anchor="end">10<tspan font-size="21.5" dy="-15">5</tspan></text>
<g clip-path="url(#c1)">
<path d="M656.5 59.3V577.5M760.2 59.3V577.5M863.9 59.3V577.5M967.6 59.3V577.5M565.4 434.9H979.4M565.4 279.9H979.4M565.4 124.9H979.4" stroke="#ebebeb" stroke-width="2.2" fill="none"/>
<path d="M513.5 525.7 L1031.2 9.8 L1031.2 113.1 L513.5 629Z" fill="#ccf2f3"/>
<path d="M513.5 577.4L1031.2 61.5" stroke="#000" stroke-opacity="0.6" stroke-width="2.3"/>
<path d="M576.8 402.6 L580.1 402.8 L583.4 403.0 L586.7 403.3 L590.0 403.5 L593.3 403.8 L596.6 404.1 L599.9 404.4 L603.2 404.7 L606.5 404.8 L609.8 404.9 L613.1 404.9 L616.4 404.8 L619.7 404.7 L623.0 404.4 L626.3 404.1 L629.6 403.6 L632.9 403.0 L636.2 402.3 L639.5 401.5 L642.8 400.6 L646.1 399.5 L649.4 398.4 L652.7 397.1 L656.0 395.7 L659.3 394.2 L662.6 392.4 L665.9 390.6 L669.2 388.5 L672.5 386.3 L675.8 384.0 L679.1 381.6 L682.4 379.1 L685.7 376.6 L689.0 374.0 L692.3 371.4 L695.6 368.8 L698.9 366.2 L702.2 363.6 L705.5 361.1 L708.8 358.6 L712.1 356.2 L715.4 353.9 L718.7 351.6 L722.0 349.4 L725.3 347.1 L728.6 344.8 L731.9 342.4 L735.2 340.1 L738.5 337.6 L741.8 335.1 L745.1 332.6 L748.4 330.1 L751.7 327.5 L755.0 324.8 L758.3 322.1 L761.6 319.4 L764.9 316.6 L768.2 313.7 L771.5 310.7 L774.8 307.6 L778.1 304.4 L781.4 301.0 L784.7 297.6 L787.9 294.1 L791.2 290.5 L794.5 287.0 L797.8 283.5 L801.1 280.1 L804.4 276.7 L807.7 273.5 L811.0 270.3 L814.3 267.2 L817.6 264.2 L820.9 261.3 L824.2 258.5 L827.5 255.7 L830.8 252.9 L834.1 250.1 L837.4 247.3 L840.7 244.2 L844.0 241.0 L847.3 237.9 L850.6 234.7 L853.9 231.6 L857.2 228.4 L860.5 225.3 L863.8 222.3 L867.1 219.0 L870.4 215.6 L873.7 212.3 L877.0 208.9 L880.3 205.5 L883.6 202.1 L886.9 198.6 L890.2 195.2 L893.5 191.6 L896.8 187.9 L900.1 184.3 L903.4 180.7 L906.7 177.2 L910.0 173.6 L913.3 170.1 L916.6 166.5 L919.9 162.9 L923.2 159.2 L926.5 155.5 L929.8 151.8 L933.1 148.0 L936.4 144.3 L939.7 140.5 L943.0 136.8 L946.3 133.0 L949.6 129.3 L952.9 125.6 L956.2 121.8 L959.5 118.1 L962.8 114.4 L966.1 110.7 L969.4 107.0 L969.4 161.2 L966.1 163.4 L962.8 165.6 L959.5 167.7 L956.2 169.9 L952.9 172.1 L949.6 174.3 L946.3 176.5 L943.0 178.7 L939.7 180.9 L936.4 183.1 L933.1 185.3 L929.8 187.4 L926.5 189.6 L923.2 191.7 L919.9 193.8 L916.6 195.9 L913.3 198.0 L910.0 200.1 L906.7 202.2 L903.4 204.3 L900.1 206.4 L896.8 208.6 L893.5 210.7 L890.2 212.9 L886.9 215.3 L883.6 217.7 L880.3 220.0 L877.0 222.4 L873.7 224.7 L870.4 227.0 L867.1 229.3 L863.8 231.5 L860.5 234.0 L857.2 236.4 L853.9 238.9 L850.6 241.4 L847.3 243.9 L844.0 246.4 L840.7 248.9 L837.4 251.4 L834.1 254.2 L830.8 257.0 L827.5 259.8 L824.2 262.6 L820.9 265.5 L817.6 268.4 L814.3 271.4 L811.0 274.4 L807.7 277.6 L804.4 280.9 L801.1 284.2 L797.8 287.7 L794.5 291.2 L791.2 294.7 L787.9 298.2 L784.7 301.7 L781.4 305.2 L778.1 308.5 L774.8 311.7 L771.5 314.8 L768.2 317.8 L764.9 320.7 L761.6 323.5 L758.3 326.3 L755.0 328.9 L751.7 331.6 L748.4 334.2 L745.1 336.8 L741.8 339.3 L738.5 341.8 L735.2 344.2 L731.9 346.6 L728.6 348.9 L725.3 351.2 L722.0 353.5 L718.7 355.7 L715.4 358.0 L712.1 360.4 L708.8 362.7 L705.5 365.2 L702.2 367.7 L698.9 370.3 L695.6 372.9 L692.3 375.5 L689.0 378.1 L685.7 380.7 L682.4 383.2 L679.1 385.7 L675.8 388.1 L672.5 390.5 L669.2 392.7 L665.9 394.7 L662.6 396.6 L659.3 398.3 L656.0 399.9 L652.7 401.4 L649.4 402.8 L646.1 404.1 L642.8 405.3 L639.5 406.3 L636.2 407.3 L632.9 408.1 L629.6 408.9 L626.3 409.6 L623.0 410.2 L619.7 410.7 L616.4 411.1 L613.1 411.5 L609.8 411.7 L606.5 411.9 L603.2 412.1 L599.9 412.3 L596.6 412.4 L593.3 412.5 L590.0 412.7 L586.7 412.9 L583.4 413.1 L580.1 413.3 L576.8 413.5Z" fill="#999" fill-opacity="0.4"/>
<g class="pts" fill="#000" fill-opacity="0.4" stroke="#000" stroke-opacity="0.4" stroke-width="1.5">
<circle cx="750" cy="304" r="6.1"/><circle cx="737" cy="324" r="6.1"/><circle cx="630" cy="453" r="6.1"/><circle cx="693" cy="404" r="6.1"/><circle cx="680" cy="445" r="6.1"/><circle cx="880" cy="194" r="6.1"/><circle cx="818" cy="266" r="6.1"/><circle cx="683" cy="373" r="6.1"/><circle cx="634" cy="437" r="6.1"/><circle cx="686" cy="347" r="6.1"/><circle cx="729" cy="325" r="6.1"/><circle cx="725" cy="349" r="6.1"/><circle cx="746" cy="318" r="6.1"/><circle cx="738" cy="331" r="6.1"/><circle cx="679" cy="368" r="6.1"/><circle cx="717" cy="342" r="6.1"/><circle cx="669" cy="355" r="6.1"/><circle cx="626" cy="407" r="6.1"/><circle cx="658" cy="425" r="6.1"/><circle cx="667" cy="402" r="6.1"/><circle cx="741" cy="376" r="6.1"/><circle cx="668" cy="432" r="6.1"/><circle cx="731" cy="311" r="6.1"/><circle cx="626" cy="421" r="6.1"/><circle cx="693" cy="422" r="6.1"/><circle cx="739" cy="320" r="6.1"/><circle cx="724" cy="393" r="6.1"/><circle cx="711" cy="380" r="6.1"/><circle cx="600" cy="405" r="6.1"/><circle cx="717" cy="390" r="6.1"/><circle cx="634" cy="434" r="6.1"/><circle cx="767" cy="299" r="6.1"/><circle cx="625" cy="403" r="6.1"/><circle cx="720" cy="412" r="6.1"/><circle cx="712" cy="354" r="6.1"/><circle cx="733" cy="320" r="6.1"/><circle cx="733" cy="362" r="6.1"/><circle cx="637" cy="407" r="6.1"/><circle cx="754" cy="322" r="6.1"/><circle cx="703" cy="358" r="6.1"/><circle cx="644" cy="392" r="6.1"/><circle cx="688" cy="341" r="6.1"/><circle cx="768" cy="318" r="6.1"/><circle cx="690" cy="413" r="6.1"/><circle cx="708" cy="366" r="6.1"/><circle cx="657" cy="398" r="6.1"/><circle cx="693" cy="402" r="6.1"/><circle cx="747" cy="350" r="6.1"/><circle cx="847" cy="245" r="6.1"/><circle cx="775" cy="301" r="6.1"/><circle cx="695" cy="436" r="6.1"/><circle cx="666" cy="371" r="6.1"/><circle cx="705" cy="380" r="6.1"/><circle cx="703" cy="385" r="6.1"/><circle cx="882" cy="232" r="6.1"/><circle cx="691" cy="398" r="6.1"/><circle cx="779" cy="252" r="6.1"/><circle cx="648" cy="416" r="6.1"/><circle cx="676" cy="438" r="6.1"/><circle cx="630" cy="432" r="6.1"/><circle cx="661" cy="361" r="6.1"/><circle cx="721" cy="371" r="6.1"/><circle cx="741" cy="356" r="6.1"/><circle cx="665" cy="369" r="6.1"/><circle cx="655" cy="413" r="6.1"/><circle cx="670" cy="380" r="6.1"/><circle cx="654" cy="443" r="6.1"/><circle cx="667" cy="439" r="6.1"/><circle cx="794" cy="300" r="6.1"/><circle cx="758" cy="299" r="6.1"/><circle cx="724" cy="370" r="6.1"/><circle cx="719" cy="350" r="6.1"/><circle cx="661" cy="366" r="6.1"/><circle cx="755" cy="329" r="6.1"/><circle cx="685" cy="384" r="6.1"/><circle cx="649" cy="338" r="6.1"/><circle cx="691" cy="402" r="6.1"/><circle cx="694" cy="388" r="6.1"/><circle cx="702" cy="413" r="6.1"/><circle cx="630" cy="421" r="6.1"/><circle cx="668" cy="416" r="6.1"/><circle cx="739" cy="358" r="6.1"/><circle cx="814" cy="274" r="6.1"/><circle cx="630" cy="411" r="6.1"/><circle cx="702" cy="330" r="6.1"/><circle cx="682" cy="409" r="6.1"/><circle cx="679" cy="444" r="6.1"/><circle cx="779" cy="309" r="6.1"/><circle cx="696" cy="388" r="6.1"/><circle cx="781" cy="310" r="6.1"/><circle cx="642" cy="414" r="6.1"/><circle cx="691" cy="388" r="6.1"/><circle cx="777" cy="313" r="6.1"/><circle cx="726" cy="323" r="6.1"/><circle cx="779" cy="253" r="6.1"/><circle cx="714" cy="352" r="6.1"/><circle cx="675" cy="427" r="6.1"/><circle cx="768" cy="312" r="6.1"/><circle cx="768" cy="320" r="6.1"/><circle cx="688" cy="408" r="6.1"/><circle cx="661" cy="436" r="6.1"/><circle cx="735" cy="342" r="6.1"/><circle cx="767" cy="296" r="6.1"/><circle cx="625" cy="395" r="6.1"/><circle cx="778" cy="305" r="6.1"/><circle cx="842" cy="222" r="6.1"/><circle cx="756" cy="340" r="6.1"/><circle cx="712" cy="341" r="6.1"/><circle cx="736" cy="328" r="6.1"/><circle cx="704" cy="341" r="6.1"/><circle cx="759" cy="312" r="6.1"/><circle cx="793" cy="272" r="6.1"/><circle cx="779" cy="326" r="6.1"/><circle cx="720" cy="325" r="6.1"/><circle cx="606" cy="454" r="6.1"/><circle cx="701" cy="292" r="6.1"/><circle cx="651" cy="397" r="6.1"/><circle cx="697" cy="345" r="6.1"/><circle cx="809" cy="275" r="6.1"/><circle cx="731" cy="390" r="6.1"/><circle cx="745" cy="324" r="6.1"/><circle cx="874" cy="249" r="6.1"/><circle cx="687" cy="366" r="6.1"/><circle cx="662" cy="415" r="6.1"/><circle cx="750" cy="347" r="6.1"/><circle cx="667" cy="437" r="6.1"/><circle cx="664" cy="397" r="6.1"/><circle cx="717" cy="323" r="6.1"/><circle cx="683" cy="355" r="6.1"/><circle cx="702" cy="397" r="6.1"/><circle cx="762" cy="297" r="6.1"/><circle cx="711" cy="403" r="6.1"/><circle cx="741" cy="354" r="6.1"/><circle cx="596" cy="455" r="6.1"/><circle cx="728" cy="345" r="6.1"/><circle cx="785" cy="296" r="6.1"/><circle cx="661" cy="441" r="6.1"/><circle cx="731" cy="403" r="6.1"/><circle cx="675" cy="380" r="6.1"/><circle cx="728" cy="382" r="6.1"/><circle cx="679" cy="376" r="6.1"/><circle cx="620" cy="444" r="6.1"/><circle cx="696" cy="336" r="6.1"/><circle cx="673" cy="404" r="6.1"/><circle cx="747" cy="329" r="6.1"/><circle cx="775" cy="345" r="6.1"/><circle cx="724" cy="346" r="6.1"/><circle cx="732" cy="371" r="6.1"/><circle cx="707" cy="395" r="6.1"/><circle cx="629" cy="400" r="6.1"/><circle cx="754" cy="323" r="6.1"/><circle cx="659" cy="382" r="6.1"/><circle cx="732" cy="366" r="6.1"/><circle cx="736" cy="340" r="6.1"/><circle cx="711" cy="345" r="6.1"/><circle cx="731" cy="357" r="6.1"/><circle cx="655" cy="395" r="6.1"/><circle cx="742" cy="314" r="6.1"/><circle cx="674" cy="336" r="6.1"/><circle cx="730" cy="354" r="6.1"/><circle cx="729" cy="319" r="6.1"/><circle cx="642" cy="419" r="6.1"/><circle cx="636" cy="431" r="6.1"/><circle cx="657" cy="418" r="6.1"/><circle cx="736" cy="339" r="6.1"/><circle cx="727" cy="394" r="6.1"/><circle cx="740" cy="340" r="6.1"/><circle cx="649" cy="409" r="6.1"/><circle cx="759" cy="306" r="6.1"/><circle cx="637" cy="374" r="6.1"/><circle cx="663" cy="424" r="6.1"/><circle cx="708" cy="406" r="6.1"/><circle cx="767" cy="290" r="6.1"/><circle cx="676" cy="419" r="6.1"/><circle cx="751" cy="310" r="6.1"/><circle cx="688" cy="348" r="6.1"/><circle cx="717" cy="329" r="6.1"/><circle cx="822" cy="286" r="6.1"/><circle cx="658" cy="452" r="6.1"/><circle cx="669" cy="392" r="6.1"/><circle cx="580" cy="404" r="6.1"/><circle cx="812" cy="280" r="6.1"/><circle cx="676" cy="361" r="6.1"/><circle cx="708" cy="393" r="6.1"/><circle cx="722" cy="362" r="6.1"/><circle cx="734" cy="354" r="6.1"/><circle cx="677" cy="394" r="6.1"/><circle cx="755" cy="314" r="6.1"/><circle cx="671" cy="375" r="6.1"/><circle cx="669" cy="401" r="6.1"/><circle cx="635" cy="435" r="6.1"/><circle cx="768" cy="295" r="6.1"/><circle cx="728" cy="302" r="6.1"/><circle cx="712" cy="403" r="6.1"/><circle cx="757" cy="304" r="6.1"/><circle cx="718" cy="333" r="6.1"/><circle cx="701" cy="411" r="6.1"/><circle cx="642" cy="446" r="6.1"/><circle cx="708" cy="348" r="6.1"/><circle cx="663" cy="454" r="6.1"/><circle cx="772" cy="304" r="6.1"/><circle cx="659" cy="400" r="6.1"/><circle cx="819" cy="262" r="6.1"/><circle cx="730" cy="331" r="6.1"/><circle cx="751" cy="311" r="6.1"/><circle cx="730" cy="321" r="6.1"/><circle cx="699" cy="444" r="6.1"/><circle cx="722" cy="332" r="6.1"/><circle cx="687" cy="353" r="6.1"/><circle cx="732" cy="369" r="6.1"/><circle cx="704" cy="424" r="6.1"/><circle cx="710" cy="378" r="6.1"/><circle cx="761" cy="317" r="6.1"/><circle cx="625" cy="408" r="6.1"/><circle cx="732" cy="295" r="6.1"/><circle cx="816" cy="246" r="6.1"/><circle cx="643" cy="429" r="6.1"/><circle cx="749" cy="321" r="6.1"/><circle cx="664" cy="378" r="6.1"/><circle cx="753" cy="342" r="6.1"/><circle cx="656" cy="419" r="6.1"/><circle cx="768" cy="322" r="6.1"/><circle cx="782" cy="328" r="6.1"/><circle cx="763" cy="298" r="6.1"/><circle cx="801" cy="281" r="6.1"/><circle cx="754" cy="348" r="6.1"/><circle cx="658" cy="385" r="6.1"/><circle cx="738" cy="336" r="6.1"/><circle cx="692" cy="379" r="6.1"/><circle cx="694" cy="356" r="6.1"/><circle cx="731" cy="364" r="6.1"/><circle cx="639" cy="397" r="6.1"/><circle cx="760" cy="341" r="6.1"/><circle cx="662" cy="476" r="6.1"/><circle cx="609" cy="407" r="6.1"/><circle cx="774" cy="271" r="6.1"/><circle cx="703" cy="390" r="6.1"/><circle cx="698" cy="394" r="6.1"/><circle cx="763" cy="288" r="6.1"/><circle cx="786" cy="281" r="6.1"/><circle cx="685" cy="331" r="6.1"/><circle cx="859" cy="214" r="6.1"/><circle cx="715" cy="336" r="6.1"/><circle cx="904" cy="182" r="6.1"/><circle cx="705" cy="373" r="6.1"/><circle cx="673" cy="385" r="6.1"/><circle cx="702" cy="331" r="6.1"/><circle cx="748" cy="308" r="6.1"/><circle cx="615" cy="399" r="6.1"/><circle cx="700" cy="384" r="6.1"/><circle cx="767" cy="355" r="6.1"/><circle cx="765" cy="300" r="6.1"/><circle cx="768" cy="318" r="6.1"/><circle cx="692" cy="339" r="6.1"/><circle cx="650" cy="428" r="6.1"/><circle cx="712" cy="371" r="6.1"/><circle cx="740" cy="325" r="6.1"/><circle cx="761" cy="309" r="6.1"/><circle cx="697" cy="363" r="6.1"/><circle cx="801" cy="297" r="6.1"/><circle cx="706" cy="367" r="6.1"/><circle cx="656" cy="479" r="6.1"/><circle cx="691" cy="415" r="6.1"/><circle cx="635" cy="386" r="6.1"/><circle cx="664" cy="386" r="6.1"/><circle cx="625" cy="420" r="6.1"/><circle cx="655" cy="399" r="6.1"/><circle cx="698" cy="360" r="6.1"/><circle cx="719" cy="390" r="6.1"/><circle cx="764" cy="328" r="6.1"/><circle cx="816" cy="255" r="6.1"/><circle cx="674" cy="355" r="6.1"/><circle cx="660" cy="399" r="6.1"/><circle cx="731" cy="332" r="6.1"/><circle cx="772" cy="284" r="6.1"/><circle cx="772" cy="298" r="6.1"/><circle cx="811" cy="292" r="6.1"/><circle cx="680" cy="413" r="6.1"/><circle cx="792" cy="296" r="6.1"/><circle cx="668" cy="390" r="6.1"/><circle cx="790" cy="284" r="6.1"/><circle cx="754" cy="321" r="6.1"/><circle cx="708" cy="331" r="6.1"/><circle cx="677" cy="369" r="6.1"/><circle cx="683" cy="399" r="6.1"/><circle cx="634" cy="404" r="6.1"/><circle cx="745" cy="341" r="6.1"/><circle cx="624" cy="429" r="6.1"/><circle cx="645" cy="346" r="6.1"/><circle cx="710" cy="383" r="6.1"/><circle cx="772" cy="303" r="6.1"/><circle cx="674" cy="395" r="6.1"/><circle cx="666" cy="368" r="6.1"/><circle cx="675" cy="369" r="6.1"/><circle cx="706" cy="354" r="6.1"/><circle cx="682" cy="395" r="6.1"/><circle cx="707" cy="334" r="6.1"/><circle cx="744" cy="335" r="6.1"/><circle cx="586" cy="398" r="6.1"/><circle cx="703" cy="334" r="6.1"/><circle cx="656" cy="395" r="6.1"/><circle cx="654" cy="423" r="6.1"/><circle cx="701" cy="364" r="6.1"/><circle cx="650" cy="424" r="6.1"/><circle cx="627" cy="409" r="6.1"/><circle cx="626" cy="411" r="6.1"/><circle cx="646" cy="420" r="6.1"/><circle cx="724" cy="357" r="6.1"/><circle cx="654" cy="321" r="6.1"/><circle cx="685" cy="400" r="6.1"/><circle cx="675" cy="394" r="6.1"/><circle cx="735" cy="386" r="6.1"/><circle cx="748" cy="349" r="6.1"/><circle cx="698" cy="367" r="6.1"/><circle cx="853" cy="200" r="6.1"/><circle cx="696" cy="377" r="6.1"/><circle cx="790" cy="289" r="6.1"/><circle cx="650" cy="404" r="6.1"/><circle cx="727" cy="384" r="6.1"/><circle cx="677" cy="390" r="6.1"/><circle cx="631" cy="414" r="6.1"/><circle cx="668" cy="390" r="6.1"/><circle cx="696" cy="371" r="6.1"/><circle cx="655" cy="390" r="6.1"/><circle cx="662" cy="431" r="6.1"/><circle cx="784" cy="294" r="6.1"/><circle cx="678" cy="406" r="6.1"/><circle cx="681" cy="361" r="6.1"/><circle cx="714" cy="363" r="6.1"/><circle cx="700" cy="389" r="6.1"/><circle cx="774" cy="343" r="6.1"/><circle cx="674" cy="406" r="6.1"/><circle cx="749" cy="327" r="6.1"/><circle cx="715" cy="328" r="6.1"/><circle cx="699" cy="397" r="6.1"/><circle cx="641" cy="424" r="6.1"/><circle cx="707" cy="347" r="6.1"/><circle cx="778" cy="313" r="6.1"/><circle cx="773" cy="303" r="6.1"/><circle cx="625" cy="399" r="6.1"/><circle cx="589" cy="430" r="6.1"/><circle cx="760" cy="327" r="6.1"/><circle cx="611" cy="425" r="6.1"/><circle cx="720" cy="371" r="6.1"/><circle cx="797" cy="295" r="6.1"/><circle cx="637" cy="405" r="6.1"/><circle cx="663" cy="377" r="6.1"/><circle cx="693" cy="357" r="6.1"/><circle cx="759" cy="292" r="6.1"/><circle cx="808" cy="281" r="6.1"/><circle cx="763" cy="305" r="6.1"/><circle cx="702" cy="351" r="6.1"/><circle cx="747" cy="355" r="6.1"/><circle cx="739" cy="367" r="6.1"/><circle cx="659" cy="383" r="6.1"/><circle cx="743" cy="309" r="6.1"/><circle cx="677" cy="362" r="6.1"/><circle cx="707" cy="386" r="6.1"/><circle cx="769" cy="314" r="6.1"/><circle cx="717" cy="354" r="6.1"/><circle cx="665" cy="414" r="6.1"/><circle cx="660" cy="400" r="6.1"/><circle cx="691" cy="376" r="6.1"/><circle cx="698" cy="405" r="6.1"/><circle cx="691" cy="348" r="6.1"/><circle cx="639" cy="377" r="6.1"/><circle cx="713" cy="381" r="6.1"/><circle cx="696" cy="399" r="6.1"/><circle cx="646" cy="405" r="6.1"/><circle cx="667" cy="402" r="6.1"/><circle cx="635" cy="420" r="6.1"/><circle cx="762" cy="345" r="6.1"/><circle cx="639" cy="425" r="6.1"/><circle cx="657" cy="430" r="6.1"/><circle cx="661" cy="370" r="6.1"/><circle cx="622" cy="455" r="6.1"/><circle cx="687" cy="369" r="6.1"/><circle cx="680" cy="408" r="6.1"/><circle cx="751" cy="323" r="6.1"/><circle cx="807" cy="304" r="6.1"/><circle cx="737" cy="352" r="6.1"/><circle cx="654" cy="349" r="6.1"/><circle cx="801" cy="288" r="6.1"/><circle cx="739" cy="345" r="6.1"/><circle cx="687" cy="376" r="6.1"/><circle cx="613" cy="444" r="6.1"/><circle cx="641" cy="371" r="6.1"/><circle cx="782" cy="301" r="6.1"/><circle cx="968" cy="129" r="6.1"/><circle cx="791" cy="274" r="6.1"/><circle cx="628" cy="391" r="6.1"/><circle cx="689" cy="411" r="6.1"/><circle cx="787" cy="291" r="6.1"/><circle cx="745" cy="363" r="6.1"/><circle cx="686" cy="442" r="6.1"/><circle cx="641" cy="389" r="6.1"/><circle cx="679" cy="419" r="6.1"/><circle cx="651" cy="435" r="6.1"/><circle cx="660" cy="410" r="6.1"/><circle cx="717" cy="341" r="6.1"/><circle cx="786" cy="319" r="6.1"/><circle cx="663" cy="449" r="6.1"/><circle cx="864" cy="234" r="6.1"/><circle cx="663" cy="435" r="6.1"/><circle cx="701" cy="335" r="6.1"/><circle cx="685" cy="359" r="6.1"/><circle cx="656" cy="465" r="6.1"/><circle cx="766" cy="306" r="6.1"/><circle cx="738" cy="360" r="6.1"/><circle cx="720" cy="348" r="6.1"/><circle cx="667" cy="339" r="6.1"/><circle cx="701" cy="380" r="6.1"/><circle cx="690" cy="418" r="6.1"/><circle cx="809" cy="269" r="6.1"/><circle cx="660" cy="409" r="6.1"/><circle cx="649" cy="402" r="6.1"/><circle cx="685" cy="357" r="6.1"/><circle cx="613" cy="423" r="6.1"/><circle cx="649" cy="427" r="6.1"/><circle cx="733" cy="317" r="6.1"/><circle cx="724" cy="384" r="6.1"/><circle cx="700" cy="346" r="6.1"/><circle cx="671" cy="366" r="6.1"/><circle cx="734" cy="350" r="6.1"/><circle cx="774" cy="271" r="6.1"/><circle cx="730" cy="342" r="6.1"/><circle cx="654" cy="376" r="6.1"/><circle cx="787" cy="305" r="6.1"/><circle cx="648" cy="384" r="6.1"/><circle cx="630" cy="344" r="6.1"/><circle cx="634" cy="411" r="6.1"/><circle cx="743" cy="372" r="6.1"/><circle cx="750" cy="332" r="6.1"/><circle cx="685" cy="408" r="6.1"/><circle cx="620" cy="399" r="6.1"/><circle cx="764" cy="311" r="6.1"/><circle cx="735" cy="355" r="6.1"/><circle cx="714" cy="370" r="6.1"/><circle cx="827" cy="238" r="6.1"/><circle cx="688" cy="359" r="6.1"/><circle cx="684" cy="348" r="6.1"/><circle cx="745" cy="326" r="6.1"/><circle cx="739" cy="345" r="6.1"/><circle cx="717" cy="359" r="6.1"/><circle cx="757" cy="323" r="6.1"/><circle cx="763" cy="322" r="6.1"/><circle cx="606" cy="373" r="6.1"/><circle cx="822" cy="260" r="6.1"/><circle cx="757" cy="344" r="6.1"/><circle cx="751" cy="341" r="6.1"/><circle cx="639" cy="405" r="6.1"/><circle cx="731" cy="327" r="6.1"/><circle cx="700" cy="372" r="6.1"/><circle cx="748" cy="339" r="6.1"/><circle cx="725" cy="361" r="6.1"/><circle cx="664" cy="394" r="6.1"/><circle cx="748" cy="315" r="6.1"/><circle cx="615" cy="371" r="6.1"/><circle cx="672" cy="408" r="6.1"/><circle cx="705" cy="344" r="6.1"/><circle cx="677" cy="396" r="6.1"/><circle cx="760" cy="344" r="6.1"/><circle cx="687" cy="389" r="6.1"/><circle cx="746" cy="315" r="6.1"/><circle cx="633" cy="391" r="6.1"/><circle cx="788" cy="299" r="6.1"/><circle cx="679" cy="379" r="6.1"/><circle cx="706" cy="401" r="6.1"/><circle cx="670" cy="363" r="6.1"/><circle cx="639" cy="428" r="6.1"/><circle cx="738" cy="319" r="6.1"/><circle cx="702" cy="400" r="6.1"/><circle cx="733" cy="375" r="6.1"/><circle cx="721" cy="349" r="6.1"/><circle cx="793" cy="295" r="6.1"/><circle cx="782" cy="332" r="6.1"/><circle cx="721" cy="378" r="6.1"/><circle cx="648" cy="454" r="6.1"/><circle cx="759" cy="332" r="6.1"/><circle cx="786" cy="299" r="6.1"/><circle cx="685" cy="421" r="6.1"/><circle cx="688" cy="443" r="6.1"/><circle cx="710" cy="355" r="6.1"/><circle cx="667" cy="411" r="6.1"/><circle cx="713" cy="337" r="6.1"/><circle cx="768" cy="305" r="6.1"/><circle cx="669" cy="413" r="6.1"/><circle cx="622" cy="378" r="6.1"/><circle cx="693" cy="391" r="6.1"/><circle cx="640" cy="405" r="6.1"/><circle cx="718" cy="381" r="6.1"/><circle cx="778" cy="294" r="6.1"/><circle cx="685" cy="384" r="6.1"/><circle cx="752" cy="347" r="6.1"/><circle cx="783" cy="282" r="6.1"/><circle cx="641" cy="403" r="6.1"/><circle cx="714" cy="337" r="6.1"/><circle cx="760" cy="332" r="6.1"/><circle cx="705" cy="408" r="6.1"/><circle cx="871" cy="198" r="6.1"/><circle cx="848" cy="233" r="6.1"/><circle cx="829" cy="253" r="6.1"/><circle cx="721" cy="338" r="6.1"/><circle cx="677" cy="371" r="6.1"/><circle cx="680" cy="426" r="6.1"/><circle cx="658" cy="433" r="6.1"/><circle cx="681" cy="389" r="6.1"/><circle cx="691" cy="382" r="6.1"/><circle cx="698" cy="398" r="6.1"/><circle cx="653" cy="379" r="6.1"/><circle cx="781" cy="291" r="6.1"/><circle cx="859" cy="222" r="6.1"/><circle cx="840" cy="241" r="6.1"/><circle cx="697" cy="344" r="6.1"/><circle cx="657" cy="394" r="6.1"/><circle cx="704" cy="358" r="6.1"/><circle cx="720" cy="338" r="6.1"/><circle cx="631" cy="338" r="6.1"/><circle cx="654" cy="414" r="6.1"/><circle cx="683" cy="402" r="6.1"/><circle cx="595" cy="418" r="6.1"/><circle cx="758" cy="355" r="6.1"/><circle cx="761" cy="339" r="6.1"/><circle cx="712" cy="347" r="6.1"/><circle cx="873" cy="240" r="6.1"/><circle cx="659" cy="448" r="6.1"/><circle cx="741" cy="351" r="6.1"/><circle cx="780" cy="279" r="6.1"/><circle cx="793" cy="295" r="6.1"/><circle cx="645" cy="346" r="6.1"/><circle cx="646" cy="404" r="6.1"/><circle cx="670" cy="417" r="6.1"/><circle cx="685" cy="363" r="6.1"/><circle cx="686" cy="387" r="6.1"/><circle cx="703" cy="368" r="6.1"/><circle cx="624" cy="357" r="6.1"/><circle cx="633" cy="397" r="6.1"/><circle cx="712" cy="362" r="6.1"/><circle cx="602" cy="410" r="6.1"/><circle cx="651" cy="388" r="6.1"/><circle cx="726" cy="308" r="6.1"/><circle cx="636" cy="380" r="6.1"/><circle cx="707" cy="389" r="6.1"/><circle cx="787" cy="313" r="6.1"/><circle cx="731" cy="375" r="6.1"/><circle cx="706" cy="375" r="6.1"/><circle cx="726" cy="333" r="6.1"/><circle cx="714" cy="329" r="6.1"/><circle cx="635" cy="386" r="6.1"/><circle cx="794" cy="281" r="6.1"/><circle cx="760" cy="332" r="6.1"/><circle cx="790" cy="312" r="6.1"/><circle cx="704" cy="365" r="6.1"/><circle cx="795" cy="288" r="6.1"/><circle cx="686" cy="393" r="6.1"/><circle cx="697" cy="350" r="6.1"/><circle cx="654" cy="422" r="6.1"/><circle cx="630" cy="368" r="6.1"/><circle cx="661" cy="425" r="6.1"/><circle cx="657" cy="429" r="6.1"/><circle cx="685" cy="398" r="6.1"/><circle cx="773" cy="321" r="6.1"/><circle cx="580" cy="377" r="6.1"/><circle cx="675" cy="389" r="6.1"/><circle cx="628" cy="414" r="6.1"/><circle cx="685" cy="306" r="6.1"/><circle cx="651" cy="402" r="6.1"/><circle cx="579" cy="426" r="6.1"/><circle cx="664" cy="442" r="6.1"/><circle cx="743" cy="331" r="6.1"/><circle cx="634" cy="423" r="6.1"/><circle cx="729" cy="335" r="6.1"/><circle cx="688" cy="372" r="6.1"/><circle cx="729" cy="379" r="6.1"/><circle cx="797" cy="325" r="6.1"/><circle cx="777" cy="276" r="6.1"/><circle cx="635" cy="390" r="6.1"/><circle cx="759" cy="335" r="6.1"/><circle cx="845" cy="242" r="6.1"/><circle cx="752" cy="332" r="6.1"/><circle cx="787" cy="313" r="6.1"/><circle cx="646" cy="384" r="6.1"/><circle cx="665" cy="452" r="6.1"/><circle cx="709" cy="337" r="6.1"/><circle cx="628" cy="419" r="6.1"/><circle cx="668" cy="377" r="6.1"/><circle cx="840" cy="226" r="6.1"/><circle cx="601" cy="394" r="6.1"/><circle cx="738" cy="357" r="6.1"/><circle cx="727" cy="347" r="6.1"/><circle cx="677" cy="417" r="6.1"/><circle cx="720" cy="371" r="6.1"/><circle cx="815" cy="273" r="6.1"/><circle cx="816" cy="298" r="6.1"/><circle cx="628" cy="395" r="6.1"/><circle cx="622" cy="407" r="6.1"/><circle cx="667" cy="409" r="6.1"/><circle cx="765" cy="344" r="6.1"/><circle cx="727" cy="343" r="6.1"/><circle cx="673" cy="420" r="6.1"/><circle cx="702" cy="356" r="6.1"/><circle cx="732" cy="343" r="6.1"/><circle cx="688" cy="419" r="6.1"/><circle cx="642" cy="437" r="6.1"/><circle cx="648" cy="465" r="6.1"/><circle cx="736" cy="372" r="6.1"/><circle cx="869" cy="192" r="6.1"/><circle cx="732" cy="347" r="6.1"/><circle cx="666" cy="370" r="6.1"/><circle cx="768" cy="325" r="6.1"/><circle cx="752" cy="252" r="6.1"/><circle cx="871" cy="221" r="6.1"/><circle cx="814" cy="266" r="6.1"/><circle cx="693" cy="381" r="6.1"/><circle cx="736" cy="379" r="6.1"/><circle cx="759" cy="335" r="6.1"/><circle cx="792" cy="305" r="6.1"/><circle cx="722" cy="342" r="6.1"/><circle cx="797" cy="299" r="6.1"/><circle cx="682" cy="416" r="6.1"/><circle cx="667" cy="408" r="6.1"/><circle cx="711" cy="371" r="6.1"/><circle cx="659" cy="370" r="6.1"/><circle cx="627" cy="417" r="6.1"/><circle cx="739" cy="359" r="6.1"/><circle cx="703" cy="361" r="6.1"/><circle cx="717" cy="379" r="6.1"/><circle cx="755" cy="335" r="6.1"/><circle cx="758" cy="381" r="6.1"/><circle cx="729" cy="320" r="6.1"/><circle cx="782" cy="332" r="6.1"/><circle cx="655" cy="389" r="6.1"/><circle cx="683" cy="416" r="6.1"/><circle cx="658" cy="426" r="6.1"/><circle cx="715" cy="376" r="6.1"/><circle cx="692" cy="353" r="6.1"/><circle cx="764" cy="314" r="6.1"/><circle cx="667" cy="425" r="6.1"/><circle cx="803" cy="274" r="6.1"/><circle cx="791" cy="301" r="6.1"/><circle cx="723" cy="361" r="6.1"/><circle cx="747" cy="312" r="6.1"/><circle cx="662" cy="378" r="6.1"/><circle cx="638" cy="410" r="6.1"/><circle cx="681" cy="412" r="6.1"/><circle cx="603" cy="432" r="6.1"/><circle cx="709" cy="332" r="6.1"/><circle cx="716" cy="364" r="6.1"/><circle cx="680" cy="353" r="6.1"/><circle cx="800" cy="279" r="6.1"/><circle cx="701" cy="346" r="6.1"/><circle cx="750" cy="282" r="6.1"/><circle cx="845" cy="253" r="6.1"/><circle cx="696" cy="369" r="6.1"/><circle cx="670" cy="412" r="6.1"/><circle cx="676" cy="417" r="6.1"/><circle cx="835" cy="241" r="6.1"/><circle cx="723" cy="360" r="6.1"/><circle cx="667" cy="401" r="6.1"/><circle cx="839" cy="257" r="6.1"/><circle cx="716" cy="401" r="6.1"/><circle cx="678" cy="343" r="6.1"/><circle cx="675" cy="381" r="6.1"/><circle cx="766" cy="326" r="6.1"/><circle cx="607" cy="473" r="6.1"/><circle cx="654" cy="396" r="6.1"/><circle cx="669" cy="428" r="6.1"/><circle cx="716" cy="360" r="6.1"/><circle cx="874" cy="203" r="6.1"/><circle cx="630" cy="395" r="6.1"/><circle cx="783" cy="284" r="6.1"/><circle cx="674" cy="377" r="6.1"/><circle cx="612" cy="378" r="6.1"/><circle cx="637" cy="392" r="6.1"/><circle cx="694" cy="381" r="6.1"/><circle cx="764" cy="317" r="6.1"/><circle cx="654" cy="384" r="6.1"/><circle cx="824" cy="274" r="6.1"/><circle cx="693" cy="302" r="6.1"/><circle cx="796" cy="293" r="6.1"/><circle cx="645" cy="383" r="6.1"/><circle cx="632" cy="400" r="6.1"/><circle cx="691" cy="410" r="6.1"/><circle cx="631" cy="399" r="6.1"/><circle cx="779" cy="299" r="6.1"/><circle cx="678" cy="443" r="6.1"/><circle cx="742" cy="333" r="6.1"/><circle cx="641" cy="385" r="6.1"/><circle cx="697" cy="400" r="6.1"/><circle cx="658" cy="416" r="6.1"/><circle cx="803" cy="277" r="6.1"/><circle cx="655" cy="410" r="6.1"/><circle cx="747" cy="380" r="6.1"/><circle cx="758" cy="311" r="6.1"/><circle cx="752" cy="384" r="6.1"/><circle cx="709" cy="372" r="6.1"/><circle cx="671" cy="395" r="6.1"/><circle cx="628" cy="387" r="6.1"/><circle cx="798" cy="338" r="6.1"/><circle cx="698" cy="379" r="6.1"/><circle cx="740" cy="330" r="6.1"/><circle cx="698" cy="342" r="6.1"/><circle cx="717" cy="388" r="6.1"/><circle cx="694" cy="364" r="6.1"/><circle cx="713" cy="357" r="6.1"/><circle cx="724" cy="358" r="6.1"/><circle cx="797" cy="301" r="6.1"/><circle cx="764" cy="305" r="6.1"/><circle cx="723" cy="323" r="6.1"/><circle cx="798" cy="319" r="6.1"/><circle cx="664" cy="386" r="6.1"/><circle cx="681" cy="380" r="6.1"/><circle cx="798" cy="252" r="6.1"/><circle cx="760" cy="313" r="6.1"/><circle cx="723" cy="373" r="6.1"/><circle cx="794" cy="302" r="6.1"/><circle cx="721" cy="379" r="6.1"/><circle cx="714" cy="389" r="6.1"/><circle cx="775" cy="313" r="6.1"/><circle cx="634" cy="427" r="6.1"/><circle cx="628" cy="394" r="6.1"/><circle cx="611" cy="418" r="6.1"/><circle cx="719" cy="391" r="6.1"/><circle cx="749" cy="303" r="6.1"/><circle cx="721" cy="339" r="6.1"/><circle cx="656" cy="390" r="6.1"/><circle cx="696" cy="337" r="6.1"/><circle cx="675" cy="402" r="6.1"/><circle cx="690" cy="369" r="6.1"/><circle cx="655" cy="409" r="6.1"/><circle cx="665" cy="431" r="6.1"/><circle cx="591" cy="416" r="6.1"/><circle cx="659" cy="393" r="6.1"/><circle cx="762" cy="344" r="6.1"/><circle cx="737" cy="312" r="6.1"/><circle cx="691" cy="398" r="6.1"/><circle cx="652" cy="424" r="6.1"/><circle cx="689" cy="374" r="6.1"/><circle cx="629" cy="406" r="6.1"/><circle cx="856" cy="237" r="6.1"/><circle cx="609" cy="404" r="6.1"/><circle cx="659" cy="407" r="6.1"/><circle cx="750" cy="365" r="6.1"/><circle cx="754" cy="323" r="6.1"/><circle cx="661" cy="382" r="6.1"/><circle cx="740" cy="316" r="6.1"/><circle cx="726" cy="334" r="6.1"/><circle cx="723" cy="380" r="6.1"/><circle cx="684" cy="400" r="6.1"/><circle cx="707" cy="332" r="6.1"/><circle cx="726" cy="322" r="6.1"/><circle cx="679" cy="384" r="6.1"/><circle cx="673" cy="376" r="6.1"/><circle cx="732" cy="355" r="6.1"/><circle cx="661" cy="420" r="6.1"/><circle cx="745" cy="341" r="6.1"/><circle cx="701" cy="338" r="6.1"/><circle cx="643" cy="407" r="6.1"/><circle cx="832" cy="235" r="6.1"/><circle cx="710" cy="390" r="6.1"/><circle cx="696" cy="357" r="6.1"/><circle cx="668" cy="413" r="6.1"/><circle cx="688" cy="351" r="6.1"/><circle cx="587" cy="413" r="6.1"/><circle cx="672" cy="383" r="6.1"/><circle cx="747" cy="347" r="6.1"/><circle cx="669" cy="441" r="6.1"/><circle cx="777" cy="316" r="6.1"/><circle cx="731" cy="369" r="6.1"/><circle cx="798" cy="271" r="6.1"/><circle cx="848" cy="251" r="6.1"/><circle cx="727" cy="385" r="6.1"/><circle cx="759" cy="328" r="6.1"/><circle cx="731" cy="334" r="6.1"/><circle cx="641" cy="406" r="6.1"/><circle cx="781" cy="308" r="6.1"/><circle cx="645" cy="346" r="6.1"/><circle cx="676" cy="365" r="6.1"/><circle cx="661" cy="425" r="6.1"/><circle cx="809" cy="288" r="6.1"/><circle cx="795" cy="300" r="6.1"/><circle cx="645" cy="401" r="6.1"/><circle cx="730" cy="381" r="6.1"/><circle cx="753" cy="328" r="6.1"/><circle cx="768" cy="315" r="6.1"/><circle cx="622" cy="425" r="6.1"/><circle cx="803" cy="289" r="6.1"/>
</g>
<path d="M576.8 408.0 L580.1 408.0 L583.4 408.0 L586.7 408.1 L590.0 408.1 L593.3 408.2 L596.6 408.3 L599.9 408.3 L603.2 408.4 L606.5 408.4 L609.8 408.3 L613.1 408.2 L616.4 408.0 L619.7 407.7 L623.0 407.3 L626.3 406.8 L629.6 406.3 L632.9 405.6 L636.2 404.8 L639.5 403.9 L642.8 402.9 L646.1 401.8 L649.4 400.6 L652.7 399.3 L656.0 397.8 L659.3 396.2 L662.6 394.5 L665.9 392.6 L669.2 390.6 L672.5 388.4 L675.8 386.1 L679.1 383.7 L682.4 381.2 L685.7 378.6 L689.0 376.1 L692.3 373.5 L695.6 370.9 L698.9 368.3 L702.2 365.7 L705.5 363.1 L708.8 360.7 L712.1 358.3 L715.4 356.0 L718.7 353.7 L722.0 351.4 L725.3 349.1 L728.6 346.8 L731.9 344.5 L735.2 342.1 L738.5 339.7 L741.8 337.2 L745.1 334.7 L748.4 332.1 L751.7 329.5 L755.0 326.9 L758.3 324.2 L761.6 321.5 L764.9 318.6 L768.2 315.8 L771.5 312.8 L774.8 309.7 L778.1 306.4 L781.4 303.1 L784.7 299.7 L787.9 296.1 L791.2 292.6 L794.5 289.1 L797.8 285.6 L801.1 282.2 L804.4 278.8 L807.7 275.5 L811.0 272.4 L814.3 269.3 L817.6 266.3 L820.9 263.4 L824.2 260.5 L827.5 257.7 L830.8 255.0 L834.1 252.2 L837.4 249.4 L840.7 246.6 L844.0 243.7 L847.3 240.9 L850.6 238.0 L853.9 235.2 L857.2 232.4 L860.5 229.7 L863.8 226.9 L867.1 224.1 L870.4 221.3 L873.7 218.5 L877.0 215.7 L880.3 212.8 L883.6 209.9 L886.9 207.0 L890.2 204.1 L893.5 201.1 L896.8 198.2 L900.1 195.4 L903.4 192.5 L906.7 189.7 L910.0 186.8 L913.3 184.0 L916.6 181.2 L919.9 178.3 L923.2 175.4 L926.5 172.5 L929.8 169.6 L933.1 166.6 L936.4 163.7 L939.7 160.7 L943.0 157.7 L946.3 154.8 L949.6 151.8 L952.9 148.9 L956.2 145.9 L959.5 142.9 L962.8 140.0 L966.1 137.0 L969.4 134.1" stroke="#3366ff" stroke-width="5.8" fill="none" stroke-linecap="butt"/>
</g>
<rect x="567" y="4.6" width="411.2" height="54.7" fill="#fff" stroke="#000" stroke-width="3.2"/>
<text x="772" y="43.7" font-size="31.5" fill="#1a1a1a" text-anchor="middle" textLength="138.1" lengthAdjust="spacingAndGlyphs">Tessmann</text>
<g clip-path="url(#c2)">
<path d="M1089.3 59.3V577.5M1193 59.3V577.5M1296.7 59.3V577.5M1400.4 59.3V577.5M998.2 434.9H1412.2M998.2 279.9H1412.2M998.2 124.9H1412.2" stroke="#ebebeb" stroke-width="2.2" fill="none"/>
<path d="M946.4 525.7 L1464.1 9.8 L1464.1 113.1 L946.4 629Z" fill="#ccf2f3"/>
<path d="M946.4 577.4L1464.1 61.5" stroke="#000" stroke-opacity="0.6" stroke-width="2.3"/>
<path d="M1009.6 406.5 L1012.9 406.8 L1016.2 407.0 L1019.5 407.2 L1022.8 407.5 L1026.1 407.8 L1029.4 408.1 L1032.7 408.5 L1036.0 408.8 L1039.3 409.0 L1042.6 409.1 L1045.9 409.2 L1049.1 409.2 L1052.4 409.2 L1055.7 409.1 L1059.0 408.8 L1062.3 408.5 L1065.6 408.0 L1068.9 407.4 L1072.2 406.7 L1075.5 405.9 L1078.8 404.9 L1082.1 403.8 L1085.4 402.7 L1088.7 401.4 L1092.0 400.0 L1095.3 398.5 L1098.6 396.9 L1101.9 395.1 L1105.2 393.3 L1108.5 391.3 L1111.7 389.3 L1115.0 387.2 L1118.3 385.1 L1121.6 382.9 L1124.9 380.7 L1128.2 378.6 L1131.5 376.3 L1134.8 374.1 L1138.1 371.9 L1141.4 369.7 L1144.7 367.4 L1148.0 365.2 L1151.3 363.1 L1154.6 360.9 L1157.9 358.7 L1161.2 356.4 L1164.5 354.1 L1167.8 351.7 L1171.1 349.2 L1174.4 346.6 L1177.6 344.0 L1180.9 341.4 L1184.2 338.7 L1187.5 336.0 L1190.8 333.3 L1194.1 330.5 L1197.4 327.6 L1200.7 324.7 L1204.0 321.7 L1207.3 318.7 L1210.6 315.6 L1213.9 312.4 L1217.2 309.2 L1220.5 305.9 L1223.8 302.6 L1227.1 299.3 L1230.4 295.9 L1233.7 292.6 L1237.0 289.3 L1240.2 286.0 L1243.5 282.8 L1246.8 279.6 L1250.1 276.4 L1253.4 273.3 L1256.7 270.3 L1260.0 267.2 L1263.3 264.2 L1266.6 261.2 L1269.9 258.2 L1273.2 255.0 L1276.5 251.7 L1279.8 248.3 L1283.1 245.0 L1286.4 241.6 L1289.7 238.3 L1293.0 234.9 L1296.3 231.6 L1299.6 228.2 L1302.9 224.7 L1306.1 221.3 L1309.4 217.9 L1312.7 214.6 L1316.0 211.2 L1319.3 207.8 L1322.6 204.3 L1325.9 200.6 L1329.2 197.0 L1332.5 193.3 L1335.8 189.6 L1339.1 186.0 L1342.4 182.4 L1345.7 178.8 L1349.0 175.1 L1352.3 171.4 L1355.6 167.6 L1358.9 163.8 L1362.2 160.0 L1365.5 156.0 L1368.8 152.1 L1372.0 148.1 L1375.3 144.1 L1378.6 140.1 L1381.9 136.1 L1385.2 132.2 L1388.5 128.2 L1391.8 124.3 L1395.1 120.4 L1398.4 116.6 L1401.7 112.7 L1401.7 166.7 L1398.4 169.0 L1395.1 171.4 L1391.8 173.7 L1388.5 176.1 L1385.2 178.5 L1381.9 180.9 L1378.6 183.4 L1375.3 185.8 L1372.0 188.3 L1368.8 190.7 L1365.5 193.1 L1362.2 195.4 L1358.9 197.7 L1355.6 199.9 L1352.3 202.1 L1349.0 204.3 L1345.7 206.4 L1342.4 208.6 L1339.1 210.8 L1335.8 213.0 L1332.5 215.2 L1329.2 217.4 L1325.9 219.7 L1322.6 221.9 L1319.3 224.3 L1316.0 226.7 L1312.7 229.0 L1309.4 231.3 L1306.1 233.6 L1302.9 236.0 L1299.6 238.4 L1296.3 240.8 L1293.0 243.5 L1289.7 246.2 L1286.4 248.9 L1283.1 251.6 L1279.8 254.3 L1276.5 256.9 L1273.2 259.6 L1269.9 262.3 L1266.6 265.3 L1263.3 268.3 L1260.0 271.4 L1256.7 274.4 L1253.4 277.5 L1250.1 280.6 L1246.8 283.7 L1243.5 286.9 L1240.2 290.1 L1237.0 293.4 L1233.7 296.7 L1230.4 300.1 L1227.1 303.4 L1223.8 306.7 L1220.5 310.0 L1217.2 313.3 L1213.9 316.5 L1210.6 319.7 L1207.3 322.8 L1204.0 325.8 L1200.7 328.8 L1197.4 331.7 L1194.1 334.6 L1190.8 337.4 L1187.5 340.1 L1184.2 342.8 L1180.9 345.5 L1177.6 348.2 L1174.4 350.7 L1171.1 353.3 L1167.8 355.8 L1164.5 358.2 L1161.2 360.5 L1157.9 362.8 L1154.6 365.0 L1151.3 367.2 L1148.0 369.4 L1144.7 371.6 L1141.4 373.8 L1138.1 376.0 L1134.8 378.3 L1131.5 380.5 L1128.2 382.7 L1124.9 384.9 L1121.6 387.1 L1118.3 389.2 L1115.0 391.3 L1111.7 393.4 L1108.5 395.4 L1105.2 397.4 L1101.9 399.2 L1098.6 401.0 L1095.3 402.6 L1092.0 404.1 L1088.7 405.6 L1085.4 407.0 L1082.1 408.3 L1078.8 409.5 L1075.5 410.6 L1072.2 411.5 L1068.9 412.4 L1065.6 413.1 L1062.3 413.8 L1059.0 414.3 L1055.7 414.8 L1052.4 415.2 L1049.1 415.5 L1045.9 415.8 L1042.6 416.0 L1039.3 416.1 L1036.0 416.2 L1032.7 416.3 L1029.4 416.4 L1026.1 416.6 L1022.8 416.7 L1019.5 416.9 L1016.2 417.1 L1012.9 417.3 L1009.6 417.5Z" fill="#999" fill-opacity="0.4"/>
<g class="pts" fill="#000" fill-opacity="0.4" stroke="#000" stroke-opacity="0.4" stroke-width="1.5">
<circle cx="1073" cy="411" r="6.1"/><circle cx="1132" cy="386" r="6.1"/><circle cx="1087" cy="407" r="6.1"/><circle cx="1097" cy="422" r="6.1"/><circle cx="1100" cy="448" r="6.1"/><circle cx="1092" cy="459" r="6.1"/><circle cx="1163" cy="353" r="6.1"/><circle cx="1136" cy="378" r="6.1"/><circle cx="1203" cy="314" r="6.1"/><circle cx="1070" cy="410" r="6.1"/><circle cx="1229" cy="307" r="6.1"/><circle cx="1211" cy="304" r="6.1"/><circle cx="1093" cy="424" r="6.1"/><circle cx="1124" cy="387" r="6.1"/><circle cx="1207" cy="318" r="6.1"/><circle cx="1111" cy="396" r="6.1"/><circle cx="1159" cy="371" r="6.1"/><circle cx="1181" cy="361" r="6.1"/><circle cx="1174" cy="368" r="6.1"/><circle cx="1273" cy="248" r="6.1"/><circle cx="1093" cy="408" r="6.1"/><circle cx="1064" cy="404" r="6.1"/><circle cx="1124" cy="428" r="6.1"/><circle cx="1170" cy="336" r="6.1"/><circle cx="1154" cy="344" r="6.1"/><circle cx="1182" cy="314" r="6.1"/><circle cx="1219" cy="289" r="6.1"/><circle cx="1109" cy="424" r="6.1"/><circle cx="1074" cy="431" r="6.1"/><circle cx="1113" cy="360" r="6.1"/><circle cx="1138" cy="423" r="6.1"/><circle cx="1117" cy="410" r="6.1"/><circle cx="1123" cy="423" r="6.1"/><circle cx="1109" cy="450" r="6.1"/><circle cx="1194" cy="320" r="6.1"/><circle cx="1142" cy="379" r="6.1"/><circle cx="1140" cy="380" r="6.1"/><circle cx="1033" cy="409" r="6.1"/><circle cx="1210" cy="327" r="6.1"/><circle cx="1120" cy="372" r="6.1"/><circle cx="1169" cy="324" r="6.1"/><circle cx="1134" cy="346" r="6.1"/><circle cx="1121" cy="458" r="6.1"/><circle cx="1156" cy="335" r="6.1"/><circle cx="1121" cy="350" r="6.1"/><circle cx="1111" cy="430" r="6.1"/><circle cx="1277" cy="252" r="6.1"/><circle cx="1157" cy="358" r="6.1"/><circle cx="1074" cy="394" r="6.1"/><circle cx="1040" cy="484" r="6.1"/><circle cx="1214" cy="343" r="6.1"/><circle cx="1212" cy="309" r="6.1"/><circle cx="1143" cy="380" r="6.1"/><circle cx="1117" cy="356" r="6.1"/><circle cx="1095" cy="384" r="6.1"/><circle cx="1095" cy="391" r="6.1"/><circle cx="1141" cy="407" r="6.1"/><circle cx="1094" cy="435" r="6.1"/><circle cx="1125" cy="395" r="6.1"/><circle cx="1185" cy="359" r="6.1"/><circle cx="1176" cy="345" r="6.1"/><circle cx="1114" cy="423" r="6.1"/><circle cx="1176" cy="321" r="6.1"/><circle cx="1222" cy="293" r="6.1"/><circle cx="1093" cy="445" r="6.1"/><circle cx="1184" cy="353" r="6.1"/><circle cx="1195" cy="355" r="6.1"/><circle cx="1061" cy="425" r="6.1"/><circle cx="1208" cy="324" r="6.1"/><circle cx="1097" cy="384" r="6.1"/><circle cx="1187" cy="340" r="6.1"/><circle cx="1191" cy="322" r="6.1"/><circle cx="1180" cy="393" r="6.1"/><circle cx="1156" cy="408" r="6.1"/><circle cx="1123" cy="380" r="6.1"/><circle cx="1230" cy="318" r="6.1"/><circle cx="1127" cy="399" r="6.1"/><circle cx="1179" cy="326" r="6.1"/><circle cx="1143" cy="390" r="6.1"/><circle cx="1057" cy="361" r="6.1"/><circle cx="1163" cy="332" r="6.1"/><circle cx="1129" cy="373" r="6.1"/><circle cx="1066" cy="396" r="6.1"/><circle cx="1255" cy="310" r="6.1"/><circle cx="1126" cy="409" r="6.1"/><circle cx="1205" cy="294" r="6.1"/><circle cx="1019" cy="402" r="6.1"/><circle cx="1135" cy="366" r="6.1"/><circle cx="1061" cy="399" r="6.1"/><circle cx="1125" cy="414" r="6.1"/><circle cx="1062" cy="349" r="6.1"/><circle cx="1102" cy="400" r="6.1"/><circle cx="1139" cy="362" r="6.1"/><circle cx="1114" cy="427" r="6.1"/><circle cx="1155" cy="393" r="6.1"/><circle cx="1193" cy="344" r="6.1"/><circle cx="1152" cy="384" r="6.1"/><circle cx="1060" cy="420" r="6.1"/><circle cx="1086" cy="414" r="6.1"/><circle cx="1140" cy="345" r="6.1"/><circle cx="1181" cy="355" r="6.1"/><circle cx="1101" cy="396" r="6.1"/><circle cx="1068" cy="395" r="6.1"/><circle cx="1134" cy="426" r="6.1"/><circle cx="1170" cy="356" r="6.1"/><circle cx="1241" cy="296" r="6.1"/><circle cx="1072" cy="410" r="6.1"/><circle cx="1261" cy="262" r="6.1"/><circle cx="1122" cy="366" r="6.1"/><circle cx="1088" cy="401" r="6.1"/><circle cx="1162" cy="355" r="6.1"/><circle cx="1094" cy="434" r="6.1"/><circle cx="1142" cy="396" r="6.1"/><circle cx="1137" cy="352" r="6.1"/><circle cx="1163" cy="342" r="6.1"/><circle cx="1257" cy="291" r="6.1"/><circle cx="1107" cy="384" r="6.1"/><circle cx="1197" cy="316" r="6.1"/><circle cx="1164" cy="362" r="6.1"/><circle cx="1068" cy="391" r="6.1"/><circle cx="1121" cy="401" r="6.1"/><circle cx="1134" cy="396" r="6.1"/><circle cx="1201" cy="306" r="6.1"/><circle cx="1144" cy="345" r="6.1"/><circle cx="1062" cy="439" r="6.1"/><circle cx="1171" cy="345" r="6.1"/><circle cx="1079" cy="409" r="6.1"/><circle cx="1063" cy="428" r="6.1"/><circle cx="1078" cy="406" r="6.1"/><circle cx="1041" cy="408" r="6.1"/><circle cx="1083" cy="432" r="6.1"/><circle cx="1134" cy="400" r="6.1"/><circle cx="1045" cy="429" r="6.1"/><circle cx="1102" cy="409" r="6.1"/><circle cx="1148" cy="339" r="6.1"/><circle cx="1162" cy="336" r="6.1"/><circle cx="1171" cy="359" r="6.1"/><circle cx="1084" cy="402" r="6.1"/><circle cx="1061" cy="400" r="6.1"/><circle cx="1116" cy="403" r="6.1"/><circle cx="1307" cy="273" r="6.1"/><circle cx="1087" cy="430" r="6.1"/><circle cx="1157" cy="366" r="6.1"/><circle cx="1118" cy="339" r="6.1"/><circle cx="1044" cy="423" r="6.1"/><circle cx="1306" cy="259" r="6.1"/><circle cx="1248" cy="325" r="6.1"/><circle cx="1132" cy="354" r="6.1"/><circle cx="1236" cy="288" r="6.1"/><circle cx="1082" cy="410" r="6.1"/><circle cx="1067" cy="442" r="6.1"/><circle cx="1088" cy="507" r="6.1"/><circle cx="1120" cy="357" r="6.1"/><circle cx="1191" cy="330" r="6.1"/><circle cx="1088" cy="420" r="6.1"/><circle cx="1055" cy="383" r="6.1"/><circle cx="1083" cy="444" r="6.1"/><circle cx="1192" cy="343" r="6.1"/><circle cx="1109" cy="368" r="6.1"/><circle cx="1091" cy="412" r="6.1"/><circle cx="1101" cy="386" r="6.1"/><circle cx="1118" cy="393" r="6.1"/><circle cx="1088" cy="395" r="6.1"/><circle cx="1059" cy="412" r="6.1"/><circle cx="1248" cy="247" r="6.1"/><circle cx="1162" cy="331" r="6.1"/><circle cx="1105" cy="404" r="6.1"/><circle cx="1152" cy="364" r="6.1"/><circle cx="1216" cy="291" r="6.1"/><circle cx="1180" cy="340" r="6.1"/><circle cx="1268" cy="246" r="6.1"/><circle cx="1194" cy="351" r="6.1"/><circle cx="1179" cy="368" r="6.1"/><circle cx="1069" cy="397" r="6.1"/><circle cx="1065" cy="405" r="6.1"/><circle cx="1096" cy="466" r="6.1"/><circle cx="1211" cy="315" r="6.1"/><circle cx="1213" cy="288" r="6.1"/><circle cx="1106" cy="412" r="6.1"/><circle cx="1167" cy="344" r="6.1"/><circle cx="1137" cy="363" r="6.1"/><circle cx="1151" cy="344" r="6.1"/><circle cx="1140" cy="399" r="6.1"/><circle cx="1139" cy="415" r="6.1"/><circle cx="1033" cy="398" r="6.1"/><circle cx="1150" cy="340" r="6.1"/><circle cx="1074" cy="420" r="6.1"/><circle cx="1097" cy="400" r="6.1"/><circle cx="1228" cy="300" r="6.1"/><circle cx="1126" cy="396" r="6.1"/><circle cx="1159" cy="344" r="6.1"/><circle cx="1057" cy="426" r="6.1"/><circle cx="1171" cy="370" r="6.1"/><circle cx="1104" cy="373" r="6.1"/><circle cx="1048" cy="375" r="6.1"/><circle cx="1068" cy="443" r="6.1"/><circle cx="1124" cy="409" r="6.1"/><circle cx="1186" cy="354" r="6.1"/><circle cx="1072" cy="432" r="6.1"/><circle cx="1095" cy="490" r="6.1"/><circle cx="1108" cy="402" r="6.1"/><circle cx="1013" cy="381" r="6.1"/><circle cx="1200" cy="301" r="6.1"/><circle cx="1075" cy="426" r="6.1"/><circle cx="1145" cy="394" r="6.1"/><circle cx="1100" cy="435" r="6.1"/><circle cx="1164" cy="345" r="6.1"/><circle cx="1131" cy="419" r="6.1"/><circle cx="1054" cy="412" r="6.1"/><circle cx="1107" cy="362" r="6.1"/><circle cx="1245" cy="296" r="6.1"/><circle cx="1103" cy="380" r="6.1"/><circle cx="1198" cy="355" r="6.1"/><circle cx="1071" cy="416" r="6.1"/><circle cx="1150" cy="353" r="6.1"/><circle cx="1210" cy="324" r="6.1"/><circle cx="1188" cy="346" r="6.1"/><circle cx="1127" cy="365" r="6.1"/><circle cx="1281" cy="240" r="6.1"/><circle cx="1194" cy="334" r="6.1"/><circle cx="1055" cy="431" r="6.1"/><circle cx="1089" cy="477" r="6.1"/><circle cx="1035" cy="414" r="6.1"/><circle cx="1060" cy="392" r="6.1"/><circle cx="1179" cy="359" r="6.1"/><circle cx="1148" cy="354" r="6.1"/><circle cx="1072" cy="382" r="6.1"/><circle cx="1113" cy="459" r="6.1"/><circle cx="1076" cy="437" r="6.1"/><circle cx="1062" cy="417" r="6.1"/><circle cx="1116" cy="428" r="6.1"/><circle cx="1103" cy="414" r="6.1"/><circle cx="1157" cy="365" r="6.1"/><circle cx="1123" cy="431" r="6.1"/><circle cx="1179" cy="324" r="6.1"/><circle cx="1162" cy="395" r="6.1"/><circle cx="1192" cy="324" r="6.1"/><circle cx="1099" cy="403" r="6.1"/><circle cx="1159" cy="398" r="6.1"/><circle cx="1220" cy="327" r="6.1"/><circle cx="1087" cy="326" r="6.1"/><circle cx="1118" cy="367" r="6.1"/><circle cx="1081" cy="422" r="6.1"/><circle cx="1130" cy="372" r="6.1"/><circle cx="1156" cy="368" r="6.1"/><circle cx="1193" cy="344" r="6.1"/><circle cx="1145" cy="365" r="6.1"/><circle cx="1177" cy="347" r="6.1"/><circle cx="1157" cy="376" r="6.1"/><circle cx="1114" cy="369" r="6.1"/><circle cx="1179" cy="329" r="6.1"/><circle cx="1231" cy="279" r="6.1"/><circle cx="1227" cy="317" r="6.1"/><circle cx="1208" cy="358" r="6.1"/><circle cx="1193" cy="356" r="6.1"/><circle cx="1102" cy="420" r="6.1"/><circle cx="1153" cy="376" r="6.1"/><circle cx="1172" cy="380" r="6.1"/><circle cx="1124" cy="410" r="6.1"/><circle cx="1045" cy="382" r="6.1"/><circle cx="1076" cy="413" r="6.1"/><circle cx="1171" cy="330" r="6.1"/><circle cx="1191" cy="367" r="6.1"/><circle cx="1212" cy="258" r="6.1"/><circle cx="1094" cy="429" r="6.1"/><circle cx="1176" cy="385" r="6.1"/><circle cx="1064" cy="343" r="6.1"/><circle cx="1081" cy="476" r="6.1"/><circle cx="1028" cy="423" r="6.1"/><circle cx="1119" cy="377" r="6.1"/><circle cx="1102" cy="438" r="6.1"/><circle cx="1082" cy="407" r="6.1"/><circle cx="1120" cy="377" r="6.1"/><circle cx="1145" cy="418" r="6.1"/><circle cx="1146" cy="375" r="6.1"/><circle cx="1226" cy="279" r="6.1"/><circle cx="1139" cy="364" r="6.1"/><circle cx="1164" cy="379" r="6.1"/><circle cx="1058" cy="413" r="6.1"/><circle cx="1302" cy="186" r="6.1"/><circle cx="1198" cy="324" r="6.1"/><circle cx="1163" cy="418" r="6.1"/><circle cx="1192" cy="323" r="6.1"/><circle cx="1087" cy="390" r="6.1"/><circle cx="1093" cy="417" r="6.1"/><circle cx="1128" cy="399" r="6.1"/><circle cx="1134" cy="368" r="6.1"/><circle cx="1152" cy="344" r="6.1"/><circle cx="1108" cy="430" r="6.1"/><circle cx="1154" cy="384" r="6.1"/><circle cx="1121" cy="360" r="6.1"/><circle cx="1196" cy="299" r="6.1"/><circle cx="1094" cy="376" r="6.1"/><circle cx="1135" cy="342" r="6.1"/><circle cx="1145" cy="387" r="6.1"/><circle cx="1182" cy="333" r="6.1"/><circle cx="1101" cy="442" r="6.1"/><circle cx="1129" cy="355" r="6.1"/><circle cx="1127" cy="386" r="6.1"/><circle cx="1146" cy="348" r="6.1"/><circle cx="1078" cy="390" r="6.1"/><circle cx="1184" cy="355" r="6.1"/><circle cx="1296" cy="247" r="6.1"/><circle cx="1212" cy="259" r="6.1"/><circle cx="1231" cy="252" r="6.1"/><circle cx="1115" cy="383" r="6.1"/><circle cx="1113" cy="438" r="6.1"/><circle cx="1175" cy="326" r="6.1"/><circle cx="1063" cy="462" r="6.1"/><circle cx="1132" cy="375" r="6.1"/><circle cx="1169" cy="385" r="6.1"/><circle cx="1164" cy="404" r="6.1"/><circle cx="1234" cy="293" r="6.1"/><circle cx="1192" cy="346" r="6.1"/><circle cx="1098" cy="464" r="6.1"/><circle cx="1148" cy="388" r="6.1"/><circle cx="1176" cy="354" r="6.1"/><circle cx="1135" cy="414" r="6.1"/><circle cx="1118" cy="394" r="6.1"/><circle cx="1172" cy="342" r="6.1"/><circle cx="1169" cy="352" r="6.1"/><circle cx="1159" cy="334" r="6.1"/><circle cx="1088" cy="402" r="6.1"/><circle cx="1200" cy="331" r="6.1"/><circle cx="1108" cy="428" r="6.1"/><circle cx="1190" cy="356" r="6.1"/><circle cx="1112" cy="380" r="6.1"/><circle cx="1105" cy="383" r="6.1"/><circle cx="1136" cy="352" r="6.1"/><circle cx="1123" cy="385" r="6.1"/><circle cx="1220" cy="328" r="6.1"/><circle cx="1292" cy="227" r="6.1"/><circle cx="1219" cy="310" r="6.1"/><circle cx="1086" cy="385" r="6.1"/><circle cx="1012" cy="431" r="6.1"/><circle cx="1079" cy="427" r="6.1"/><circle cx="1180" cy="338" r="6.1"/><circle cx="1161" cy="396" r="6.1"/><circle cx="1131" cy="411" r="6.1"/><circle cx="1068" cy="427" r="6.1"/><circle cx="1183" cy="359" r="6.1"/><circle cx="1131" cy="390" r="6.1"/><circle cx="1286" cy="192" r="6.1"/><circle cx="1201" cy="329" r="6.1"/><circle cx="1220" cy="301" r="6.1"/><circle cx="1161" cy="332" r="6.1"/><circle cx="1057" cy="436" r="6.1"/><circle cx="1279" cy="257" r="6.1"/><circle cx="1224" cy="282" r="6.1"/><circle cx="1090" cy="407" r="6.1"/><circle cx="1233" cy="315" r="6.1"/><circle cx="1108" cy="389" r="6.1"/><circle cx="1217" cy="305" r="6.1"/><circle cx="1133" cy="391" r="6.1"/><circle cx="1112" cy="457" r="6.1"/><circle cx="1151" cy="350" r="6.1"/><circle cx="1127" cy="365" r="6.1"/><circle cx="1166" cy="347" r="6.1"/><circle cx="1194" cy="356" r="6.1"/><circle cx="1194" cy="328" r="6.1"/><circle cx="1118" cy="314" r="6.1"/><circle cx="1114" cy="393" r="6.1"/><circle cx="1216" cy="292" r="6.1"/><circle cx="1120" cy="374" r="6.1"/><circle cx="1157" cy="398" r="6.1"/><circle cx="1147" cy="389" r="6.1"/><circle cx="1143" cy="393" r="6.1"/><circle cx="1090" cy="439" r="6.1"/><circle cx="1255" cy="270" r="6.1"/><circle cx="1075" cy="446" r="6.1"/><circle cx="1220" cy="318" r="6.1"/><circle cx="1156" cy="386" r="6.1"/><circle cx="1088" cy="496" r="6.1"/><circle cx="1162" cy="383" r="6.1"/><circle cx="1074" cy="412" r="6.1"/><circle cx="1116" cy="402" r="6.1"/><circle cx="1102" cy="362" r="6.1"/><circle cx="1233" cy="302" r="6.1"/><circle cx="1152" cy="359" r="6.1"/><circle cx="1165" cy="306" r="6.1"/><circle cx="1128" cy="387" r="6.1"/><circle cx="1097" cy="392" r="6.1"/><circle cx="1141" cy="359" r="6.1"/><circle cx="1172" cy="331" r="6.1"/><circle cx="1212" cy="320" r="6.1"/><circle cx="1198" cy="311" r="6.1"/><circle cx="1069" cy="439" r="6.1"/><circle cx="1193" cy="338" r="6.1"/><circle cx="1097" cy="452" r="6.1"/><circle cx="1116" cy="414" r="6.1"/><circle cx="1226" cy="307" r="6.1"/><circle cx="1103" cy="391" r="6.1"/><circle cx="1099" cy="381" r="6.1"/><circle cx="1144" cy="377" r="6.1"/><circle cx="1078" cy="351" r="6.1"/><circle cx="1289" cy="248" r="6.1"/><circle cx="1197" cy="317" r="6.1"/><circle cx="1109" cy="416" r="6.1"/><circle cx="1129" cy="345" r="6.1"/><circle cx="1144" cy="383" r="6.1"/><circle cx="1196" cy="315" r="6.1"/><circle cx="1082" cy="343" r="6.1"/><circle cx="1047" cy="403" r="6.1"/><circle cx="1078" cy="351" r="6.1"/><circle cx="1278" cy="268" r="6.1"/><circle cx="1147" cy="340" r="6.1"/><circle cx="1062" cy="373" r="6.1"/><circle cx="1226" cy="308" r="6.1"/><circle cx="1099" cy="416" r="6.1"/><circle cx="1088" cy="395" r="6.1"/><circle cx="1073" cy="376" r="6.1"/><circle cx="1062" cy="405" r="6.1"/><circle cx="1164" cy="322" r="6.1"/><circle cx="1207" cy="356" r="6.1"/><circle cx="1072" cy="402" r="6.1"/><circle cx="1103" cy="370" r="6.1"/><circle cx="1166" cy="328" r="6.1"/><circle cx="1091" cy="442" r="6.1"/><circle cx="1213" cy="322" r="6.1"/><circle cx="1060" cy="414" r="6.1"/><circle cx="1140" cy="343" r="6.1"/><circle cx="1222" cy="327" r="6.1"/><circle cx="1107" cy="403" r="6.1"/><circle cx="1146" cy="395" r="6.1"/><circle cx="1168" cy="337" r="6.1"/><circle cx="1160" cy="349" r="6.1"/><circle cx="1091" cy="410" r="6.1"/><circle cx="1304" cy="196" r="6.1"/><circle cx="1092" cy="398" r="6.1"/><circle cx="1197" cy="339" r="6.1"/><circle cx="1150" cy="393" r="6.1"/><circle cx="1067" cy="430" r="6.1"/><circle cx="1075" cy="456" r="6.1"/><circle cx="1109" cy="404" r="6.1"/><circle cx="1132" cy="364" r="6.1"/><circle cx="1142" cy="343" r="6.1"/><circle cx="1187" cy="333" r="6.1"/><circle cx="1108" cy="376" r="6.1"/><circle cx="1091" cy="463" r="6.1"/><circle cx="1162" cy="377" r="6.1"/><circle cx="1096" cy="461" r="6.1"/><circle cx="1166" cy="389" r="6.1"/><circle cx="1100" cy="345" r="6.1"/><circle cx="1175" cy="351" r="6.1"/><circle cx="1220" cy="311" r="6.1"/><circle cx="1166" cy="359" r="6.1"/><circle cx="1120" cy="362" r="6.1"/><circle cx="1039" cy="462" r="6.1"/><circle cx="1134" cy="348" r="6.1"/><circle cx="1113" cy="424" r="6.1"/><circle cx="1184" cy="322" r="6.1"/><circle cx="1251" cy="278" r="6.1"/><circle cx="1181" cy="350" r="6.1"/><circle cx="1091" cy="388" r="6.1"/><circle cx="1115" cy="399" r="6.1"/><circle cx="1093" cy="367" r="6.1"/><circle cx="1058" cy="408" r="6.1"/><circle cx="1081" cy="389" r="6.1"/><circle cx="1042" cy="411" r="6.1"/><circle cx="1135" cy="399" r="6.1"/><circle cx="1144" cy="418" r="6.1"/><circle cx="1120" cy="419" r="6.1"/><circle cx="1304" cy="230" r="6.1"/><circle cx="1192" cy="346" r="6.1"/><circle cx="1200" cy="307" r="6.1"/><circle cx="1170" cy="349" r="6.1"/><circle cx="1095" cy="415" r="6.1"/><circle cx="1078" cy="388" r="6.1"/><circle cx="1401" cy="132" r="6.1"/><circle cx="1192" cy="303" r="6.1"/><circle cx="1077" cy="397" r="6.1"/><circle cx="1195" cy="308" r="6.1"/><circle cx="1166" cy="366" r="6.1"/><circle cx="1094" cy="420" r="6.1"/><circle cx="1206" cy="332" r="6.1"/><circle cx="1181" cy="326" r="6.1"/><circle cx="1123" cy="406" r="6.1"/><circle cx="1164" cy="344" r="6.1"/><circle cx="1260" cy="240" r="6.1"/><circle cx="1139" cy="402" r="6.1"/><circle cx="1200" cy="367" r="6.1"/><circle cx="1136" cy="403" r="6.1"/><circle cx="1132" cy="371" r="6.1"/><circle cx="1089" cy="493" r="6.1"/><circle cx="1185" cy="339" r="6.1"/><circle cx="1029" cy="463" r="6.1"/><circle cx="1186" cy="346" r="6.1"/><circle cx="1337" cy="185" r="6.1"/><circle cx="1141" cy="342" r="6.1"/><circle cx="1149" cy="372" r="6.1"/><circle cx="1088" cy="416" r="6.1"/><circle cx="1107" cy="415" r="6.1"/><circle cx="1139" cy="387" r="6.1"/><circle cx="1171" cy="366" r="6.1"/><circle cx="1182" cy="315" r="6.1"/><circle cx="1116" cy="413" r="6.1"/><circle cx="1061" cy="396" r="6.1"/><circle cx="1230" cy="350" r="6.1"/><circle cx="1192" cy="317" r="6.1"/><circle cx="1133" cy="395" r="6.1"/><circle cx="1244" cy="314" r="6.1"/><circle cx="1191" cy="310" r="6.1"/><circle cx="1201" cy="328" r="6.1"/><circle cx="1183" cy="378" r="6.1"/><circle cx="1119" cy="356" r="6.1"/><circle cx="1118" cy="433" r="6.1"/><circle cx="1146" cy="363" r="6.1"/><circle cx="1094" cy="433" r="6.1"/><circle cx="1125" cy="348" r="6.1"/><circle cx="1102" cy="422" r="6.1"/><circle cx="1187" cy="334" r="6.1"/><circle cx="1067" cy="434" r="6.1"/><circle cx="1122" cy="426" r="6.1"/><circle cx="1126" cy="436" r="6.1"/><circle cx="1090" cy="390" r="6.1"/><circle cx="1094" cy="371" r="6.1"/><circle cx="1224" cy="315" r="6.1"/><circle cx="1233" cy="290" r="6.1"/><circle cx="1160" cy="399" r="6.1"/><circle cx="1122" cy="423" r="6.1"/><circle cx="1131" cy="462" r="6.1"/><circle cx="1141" cy="355" r="6.1"/><circle cx="1148" cy="357" r="6.1"/><circle cx="1074" cy="391" r="6.1"/><circle cx="1107" cy="343" r="6.1"/><circle cx="1138" cy="385" r="6.1"/><circle cx="1134" cy="404" r="6.1"/><circle cx="1160" cy="354" r="6.1"/><circle cx="1248" cy="288" r="6.1"/><circle cx="1069" cy="385" r="6.1"/><circle cx="1134" cy="356" r="6.1"/><circle cx="1110" cy="428" r="6.1"/><circle cx="1153" cy="428" r="6.1"/><circle cx="1129" cy="383" r="6.1"/><circle cx="1236" cy="283" r="6.1"/><circle cx="1088" cy="401" r="6.1"/><circle cx="1172" cy="372" r="6.1"/><circle cx="1124" cy="368" r="6.1"/><circle cx="1174" cy="366" r="6.1"/><circle cx="1129" cy="347" r="6.1"/><circle cx="1058" cy="403" r="6.1"/><circle cx="1124" cy="357" r="6.1"/><circle cx="1184" cy="343" r="6.1"/><circle cx="1058" cy="428" r="6.1"/><circle cx="1160" cy="314" r="6.1"/><circle cx="1111" cy="350" r="6.1"/><circle cx="1135" cy="340" r="6.1"/><circle cx="1166" cy="331" r="6.1"/><circle cx="1231" cy="368" r="6.1"/><circle cx="1272" cy="271" r="6.1"/><circle cx="1152" cy="350" r="6.1"/><circle cx="1078" cy="351" r="6.1"/><circle cx="1137" cy="385" r="6.1"/><circle cx="1174" cy="363" r="6.1"/><circle cx="1210" cy="284" r="6.1"/><circle cx="1240" cy="328" r="6.1"/><circle cx="1074" cy="408" r="6.1"/><circle cx="1072" cy="435" r="6.1"/><circle cx="1126" cy="366" r="6.1"/><circle cx="1087" cy="354" r="6.1"/><circle cx="1114" cy="419" r="6.1"/><circle cx="1124" cy="414" r="6.1"/><circle cx="1136" cy="381" r="6.1"/><circle cx="1191" cy="351" r="6.1"/><circle cx="1214" cy="301" r="6.1"/><circle cx="1104" cy="390" r="6.1"/><circle cx="1202" cy="325" r="6.1"/><circle cx="1249" cy="261" r="6.1"/><circle cx="1178" cy="335" r="6.1"/><circle cx="1059" cy="416" r="6.1"/><circle cx="1140" cy="409" r="6.1"/><circle cx="1178" cy="339" r="6.1"/><circle cx="1058" cy="399" r="6.1"/><circle cx="1091" cy="434" r="6.1"/><circle cx="1252" cy="273" r="6.1"/><circle cx="1084" cy="394" r="6.1"/><circle cx="1096" cy="445" r="6.1"/><circle cx="1165" cy="369" r="6.1"/><circle cx="1136" cy="440" r="6.1"/><circle cx="1183" cy="293" r="6.1"/><circle cx="1145" cy="374" r="6.1"/><circle cx="1095" cy="441" r="6.1"/><circle cx="1110" cy="369" r="6.1"/><circle cx="1105" cy="419" r="6.1"/><circle cx="1098" cy="396" r="6.1"/><circle cx="1200" cy="309" r="6.1"/><circle cx="1120" cy="385" r="6.1"/><circle cx="1140" cy="353" r="6.1"/><circle cx="1126" cy="311" r="6.1"/><circle cx="1068" cy="391" r="6.1"/><circle cx="1275" cy="220" r="6.1"/><circle cx="1066" cy="401" r="6.1"/><circle cx="1143" cy="404" r="6.1"/><circle cx="1165" cy="355" r="6.1"/><circle cx="1159" cy="333" r="6.1"/><circle cx="1177" cy="348" r="6.1"/><circle cx="1189" cy="315" r="6.1"/><circle cx="1067" cy="409" r="6.1"/><circle cx="1193" cy="352" r="6.1"/><circle cx="1242" cy="306" r="6.1"/><circle cx="1123" cy="378" r="6.1"/><circle cx="1215" cy="312" r="6.1"/><circle cx="1307" cy="204" r="6.1"/><circle cx="1118" cy="419" r="6.1"/><circle cx="1128" cy="452" r="6.1"/><circle cx="1148" cy="416" r="6.1"/><circle cx="1207" cy="280" r="6.1"/><circle cx="1236" cy="305" r="6.1"/><circle cx="1156" cy="374" r="6.1"/><circle cx="1168" cy="400" r="6.1"/><circle cx="1112" cy="383" r="6.1"/><circle cx="1156" cy="351" r="6.1"/><circle cx="1188" cy="325" r="6.1"/><circle cx="1102" cy="412" r="6.1"/><circle cx="1168" cy="393" r="6.1"/><circle cx="1091" cy="376" r="6.1"/><circle cx="1116" cy="379" r="6.1"/><circle cx="1112" cy="391" r="6.1"/><circle cx="1148" cy="356" r="6.1"/><circle cx="1134" cy="374" r="6.1"/><circle cx="1172" cy="357" r="6.1"/><circle cx="1085" cy="431" r="6.1"/><circle cx="1174" cy="390" r="6.1"/><circle cx="1147" cy="348" r="6.1"/><circle cx="1098" cy="423" r="6.1"/><circle cx="1280" cy="266" r="6.1"/><circle cx="1185" cy="263" r="6.1"/><circle cx="1219" cy="334" r="6.1"/><circle cx="1212" cy="339" r="6.1"/><circle cx="1141" cy="369" r="6.1"/><circle cx="1125" cy="383" r="6.1"/><circle cx="1081" cy="465" r="6.1"/><circle cx="1208" cy="312" r="6.1"/><circle cx="1158" cy="372" r="6.1"/><circle cx="1227" cy="314" r="6.1"/><circle cx="1181" cy="319" r="6.1"/><circle cx="1215" cy="348" r="6.1"/><circle cx="1218" cy="307" r="6.1"/><circle cx="1141" cy="421" r="6.1"/><circle cx="1168" cy="339" r="6.1"/><circle cx="1046" cy="452" r="6.1"/><circle cx="1130" cy="413" r="6.1"/><circle cx="1211" cy="324" r="6.1"/><circle cx="1126" cy="379" r="6.1"/><circle cx="1159" cy="319" r="6.1"/><circle cx="1201" cy="326" r="6.1"/><circle cx="1199" cy="337" r="6.1"/><circle cx="1119" cy="457" r="6.1"/><circle cx="1053" cy="403" r="6.1"/><circle cx="1150" cy="404" r="6.1"/><circle cx="1103" cy="426" r="6.1"/><circle cx="1096" cy="404" r="6.1"/><circle cx="1160" cy="409" r="6.1"/><circle cx="1144" cy="367" r="6.1"/><circle cx="1164" cy="382" r="6.1"/><circle cx="1152" cy="405" r="6.1"/><circle cx="1206" cy="281" r="6.1"/><circle cx="1313" cy="192" r="6.1"/><circle cx="1136" cy="377" r="6.1"/><circle cx="1053" cy="452" r="6.1"/><circle cx="1151" cy="369" r="6.1"/><circle cx="1147" cy="403" r="6.1"/><circle cx="1183" cy="321" r="6.1"/><circle cx="1144" cy="352" r="6.1"/><circle cx="1126" cy="417" r="6.1"/><circle cx="1170" cy="335" r="6.1"/><circle cx="1201" cy="336" r="6.1"/><circle cx="1149" cy="402" r="6.1"/><circle cx="1152" cy="405" r="6.1"/><circle cx="1020" cy="418" r="6.1"/><circle cx="1136" cy="344" r="6.1"/><circle cx="1086" cy="431" r="6.1"/><circle cx="1126" cy="392" r="6.1"/><circle cx="1170" cy="373" r="6.1"/><circle cx="1179" cy="362" r="6.1"/><circle cx="1162" cy="392" r="6.1"/><circle cx="1067" cy="416" r="6.1"/><circle cx="1039" cy="377" r="6.1"/><circle cx="1122" cy="414" r="6.1"/><circle cx="1107" cy="438" r="6.1"/><circle cx="1141" cy="372" r="6.1"/><circle cx="1099" cy="378" r="6.1"/><circle cx="1061" cy="411" r="6.1"/><circle cx="1247" cy="276" r="6.1"/><circle cx="1087" cy="382" r="6.1"/><circle cx="1111" cy="415" r="6.1"/><circle cx="1315" cy="251" r="6.1"/><circle cx="1118" cy="388" r="6.1"/><circle cx="1092" cy="389" r="6.1"/><circle cx="1094" cy="402" r="6.1"/><circle cx="1067" cy="445" r="6.1"/><circle cx="1091" cy="434" r="6.1"/><circle cx="1121" cy="432" r="6.1"/><circle cx="1180" cy="335" r="6.1"/><circle cx="1247" cy="289" r="6.1"/><circle cx="1165" cy="385" r="6.1"/><circle cx="1230" cy="310" r="6.1"/><circle cx="1191" cy="394" r="6.1"/><circle cx="1131" cy="410" r="6.1"/><circle cx="1079" cy="411" r="6.1"/><circle cx="1214" cy="320" r="6.1"/><circle cx="1087" cy="452" r="6.1"/><circle cx="1112" cy="375" r="6.1"/><circle cx="1151" cy="395" r="6.1"/><circle cx="1165" cy="382" r="6.1"/><circle cx="1155" cy="362" r="6.1"/><circle cx="1090" cy="438" r="6.1"/><circle cx="1173" cy="327" r="6.1"/><circle cx="1091" cy="418" r="6.1"/><circle cx="1128" cy="412" r="6.1"/><circle cx="1135" cy="411" r="6.1"/><circle cx="1087" cy="422" r="6.1"/><circle cx="1115" cy="381" r="6.1"/><circle cx="1095" cy="433" r="6.1"/><circle cx="1163" cy="389" r="6.1"/><circle cx="1165" cy="367" r="6.1"/><circle cx="1124" cy="403" r="6.1"/><circle cx="1149" cy="334" r="6.1"/><circle cx="1120" cy="393" r="6.1"/><circle cx="1135" cy="429" r="6.1"/><circle cx="1129" cy="406" r="6.1"/><circle cx="1089" cy="396" r="6.1"/><circle cx="1099" cy="374" r="6.1"/><circle cx="1086" cy="401" r="6.1"/><circle cx="1134" cy="302" r="6.1"/><circle cx="1291" cy="215" r="6.1"/><circle cx="1113" cy="399" r="6.1"/><circle cx="1166" cy="374" r="6.1"/><circle cx="1153" cy="384" r="6.1"/><circle cx="1265" cy="236" r="6.1"/><circle cx="1100" cy="450" r="6.1"/><circle cx="1130" cy="354" r="6.1"/><circle cx="1114" cy="409" r="6.1"/><circle cx="1153" cy="337" r="6.1"/><circle cx="1157" cy="391" r="6.1"/><circle cx="1110" cy="399" r="6.1"/><circle cx="1131" cy="352" r="6.1"/><circle cx="1069" cy="379" r="6.1"/><circle cx="1205" cy="308" r="6.1"/><circle cx="1242" cy="278" r="6.1"/><circle cx="1201" cy="333" r="6.1"/><circle cx="1081" cy="435" r="6.1"/><circle cx="1024" cy="421" r="6.1"/><circle cx="1273" cy="226" r="6.1"/><circle cx="1187" cy="360" r="6.1"/><circle cx="1200" cy="326" r="6.1"/><circle cx="1172" cy="371" r="6.1"/><circle cx="1154" cy="391" r="6.1"/><circle cx="1242" cy="288" r="6.1"/><circle cx="1110" cy="392" r="6.1"/><circle cx="1083" cy="408" r="6.1"/><circle cx="1099" cy="376" r="6.1"/><circle cx="1223" cy="300" r="6.1"/><circle cx="1153" cy="351" r="6.1"/><circle cx="1224" cy="321" r="6.1"/><circle cx="1070" cy="413" r="6.1"/><circle cx="1196" cy="309" r="6.1"/><circle cx="1081" cy="415" r="6.1"/><circle cx="1113" cy="404" r="6.1"/><circle cx="1157" cy="361" r="6.1"/><circle cx="1091" cy="423" r="6.1"/><circle cx="1097" cy="375" r="6.1"/><circle cx="1184" cy="398" r="6.1"/><circle cx="1106" cy="430" r="6.1"/><circle cx="1100" cy="414" r="6.1"/><circle cx="1101" cy="425" r="6.1"/><circle cx="1102" cy="398" r="6.1"/><circle cx="1102" cy="453" r="6.1"/><circle cx="1165" cy="379" r="6.1"/><circle cx="1156" cy="345" r="6.1"/><circle cx="1227" cy="291" r="6.1"/><circle cx="1230" cy="315" r="6.1"/><circle cx="1225" cy="309" r="6.1"/><circle cx="1064" cy="420" r="6.1"/><circle cx="1036" cy="438" r="6.1"/><circle cx="1044" cy="431" r="6.1"/><circle cx="1083" cy="436" r="6.1"/><circle cx="1118" cy="365" r="6.1"/><circle cx="1093" cy="451" r="6.1"/><circle cx="1153" cy="383" r="6.1"/><circle cx="1177" cy="376" r="6.1"/><circle cx="1187" cy="334" r="6.1"/><circle cx="1145" cy="370" r="6.1"/><circle cx="1107" cy="381" r="6.1"/><circle cx="1192" cy="339" r="6.1"/><circle cx="1108" cy="387" r="6.1"/><circle cx="1231" cy="342" r="6.1"/><circle cx="1099" cy="407" r="6.1"/><circle cx="1022" cy="436" r="6.1"/><circle cx="1060" cy="423" r="6.1"/><circle cx="1116" cy="363" r="6.1"/><circle cx="1114" cy="406" r="6.1"/><circle cx="1152" cy="372" r="6.1"/><circle cx="1196" cy="333" r="6.1"/><circle cx="1167" cy="357" r="6.1"/><circle cx="1228" cy="315" r="6.1"/><circle cx="1152" cy="364" r="6.1"/><circle cx="1013" cy="408" r="6.1"/><circle cx="1088" cy="417" r="6.1"/><circle cx="1205" cy="314" r="6.1"/><circle cx="1109" cy="372" r="6.1"/><circle cx="1215" cy="348" r="6.1"/><circle cx="1096" cy="383" r="6.1"/><circle cx="1088" cy="427" r="6.1"/><circle cx="1202" cy="314" r="6.1"/><circle cx="1206" cy="313" r="6.1"/><circle cx="1125" cy="362" r="6.1"/><circle cx="1098" cy="441" r="6.1"/><circle cx="1111" cy="457" r="6.1"/><circle cx="1136" cy="360" r="6.1"/><circle cx="1055" cy="464" r="6.1"/>
</g>
<path d="M1009.6 412.0 L1012.9 412.0 L1016.2 412.0 L1019.5 412.1 L1022.8 412.1 L1026.1 412.2 L1029.4 412.3 L1032.7 412.4 L1036.0 412.5 L1039.3 412.5 L1042.6 412.6 L1045.9 412.5 L1049.1 412.4 L1052.4 412.2 L1055.7 411.9 L1059.0 411.6 L1062.3 411.1 L1065.6 410.6 L1068.9 409.9 L1072.2 409.1 L1075.5 408.2 L1078.8 407.2 L1082.1 406.1 L1085.4 404.8 L1088.7 403.5 L1092.0 402.1 L1095.3 400.6 L1098.6 398.9 L1101.9 397.2 L1105.2 395.3 L1108.5 393.4 L1111.7 391.3 L1115.0 389.3 L1118.3 387.1 L1121.6 385.0 L1124.9 382.8 L1128.2 380.6 L1131.5 378.4 L1134.8 376.2 L1138.1 374.0 L1141.4 371.7 L1144.7 369.5 L1148.0 367.3 L1151.3 365.1 L1154.6 362.9 L1157.9 360.7 L1161.2 358.5 L1164.5 356.1 L1167.8 353.7 L1171.1 351.2 L1174.4 348.7 L1177.6 346.1 L1180.9 343.4 L1184.2 340.8 L1187.5 338.1 L1190.8 335.3 L1194.1 332.5 L1197.4 329.7 L1200.7 326.8 L1204.0 323.8 L1207.3 320.7 L1210.6 317.6 L1213.9 314.5 L1217.2 311.2 L1220.5 308.0 L1223.8 304.7 L1227.1 301.3 L1230.4 298.0 L1233.7 294.7 L1237.0 291.3 L1240.2 288.1 L1243.5 284.8 L1246.8 281.6 L1250.1 278.5 L1253.4 275.4 L1256.7 272.3 L1260.0 269.3 L1263.3 266.3 L1266.6 263.3 L1269.9 260.3 L1273.2 257.3 L1276.5 254.3 L1279.8 251.3 L1283.1 248.3 L1286.4 245.3 L1289.7 242.2 L1293.0 239.2 L1296.3 236.2 L1299.6 233.3 L1302.9 230.3 L1306.1 227.5 L1309.4 224.6 L1312.7 221.8 L1316.0 218.9 L1319.3 216.0 L1322.6 213.1 L1325.9 210.2 L1329.2 207.2 L1332.5 204.2 L1335.8 201.3 L1339.1 198.4 L1342.4 195.5 L1345.7 192.6 L1349.0 189.7 L1352.3 186.7 L1355.6 183.8 L1358.9 180.7 L1362.2 177.7 L1365.5 174.6 L1368.8 171.4 L1372.0 168.2 L1375.3 165.0 L1378.6 161.8 L1381.9 158.5 L1385.2 155.3 L1388.5 152.2 L1391.8 149.0 L1395.1 145.9 L1398.4 142.8 L1401.7 139.7" stroke="#3366ff" stroke-width="5.8" fill="none" stroke-linecap="butt"/>
</g>
<rect x="999.8" y="4.6" width="411.2" height="54.7" fill="#fff" stroke="#000" stroke-width="3.2"/>
<text x="1204.8" y="43.7" font-size="31.5" fill="#1a1a1a" text-anchor="middle" textLength="130.3" lengthAdjust="spacingAndGlyphs">Q90_Q50</text>
<g clip-path="url(#c3)">
<path d="M223.7 652.7V1170.9M327.4 652.7V1170.9M431.1 652.7V1170.9M534.8 652.7V1170.9M132.6 1028.3H546.6M132.6 873.3H546.6M132.6 718.3H546.6" stroke="#ebebeb" stroke-width="2.2" fill="none"/>
<path d="M80.8 1119.1 L598.5 603.2 L598.5 706.5 L80.8 1222.4Z" fill="#ccf2f3"/>
<path d="M80.8 1170.8L598.5 654.9" stroke="#000" stroke-opacity="0.6" stroke-width="2.3"/>
<path d="M144.0 1000.6 L147.3 1000.8 L150.6 1001.1 L153.9 1001.5 L157.2 1001.9 L160.5 1002.3 L163.8 1002.8 L167.0 1003.2 L170.3 1003.7 L173.6 1004.0 L176.9 1004.2 L180.2 1004.4 L183.5 1004.4 L186.8 1004.4 L190.1 1004.3 L193.4 1004.1 L196.7 1003.8 L200.0 1003.4 L203.3 1002.8 L206.5 1002.0 L209.8 1001.2 L213.1 1000.2 L216.4 999.1 L219.7 997.9 L223.0 996.5 L226.3 995.0 L229.6 993.3 L232.9 991.5 L236.2 989.6 L239.5 987.5 L242.8 985.3 L246.0 983.0 L249.3 980.7 L252.6 978.2 L255.9 975.7 L259.2 973.2 L262.5 970.7 L265.8 968.1 L269.1 965.7 L272.4 963.2 L275.7 960.7 L279.0 958.3 L282.3 955.9 L285.5 953.4 L288.8 950.9 L292.1 948.4 L295.4 945.9 L298.7 943.3 L302.0 940.7 L305.3 938.1 L308.6 935.4 L311.9 932.7 L315.2 930.0 L318.5 927.2 L321.7 924.3 L325.0 921.3 L328.3 918.3 L331.6 915.1 L334.9 911.9 L338.2 908.7 L341.5 905.4 L344.8 902.2 L348.1 898.9 L351.4 895.7 L354.7 892.6 L358.0 889.4 L361.2 886.3 L364.5 883.2 L367.8 880.2 L371.1 877.2 L374.4 874.2 L377.7 871.3 L381.0 868.4 L384.3 865.5 L387.6 862.6 L390.9 859.7 L394.2 856.8 L397.5 853.8 L400.7 850.8 L404.0 847.8 L407.3 844.6 L410.6 841.2 L413.9 837.8 L417.2 834.4 L420.5 831.0 L423.8 827.7 L427.1 824.3 L430.4 821.0 L433.7 817.5 L437.0 814.1 L440.2 810.6 L443.5 807.2 L446.8 803.8 L450.1 800.4 L453.4 797.1 L456.7 793.8 L460.0 790.3 L463.3 786.8 L466.6 783.3 L469.9 779.7 L473.2 776.2 L476.5 772.5 L479.7 768.9 L483.0 765.2 L486.3 761.4 L489.6 757.6 L492.9 753.8 L496.2 749.9 L499.5 746.0 L502.8 742.1 L506.1 738.1 L509.4 734.1 L512.7 730.1 L516.0 726.2 L519.2 722.3 L522.5 718.4 L525.8 714.5 L529.1 710.7 L532.4 706.9 L535.7 703.2 L535.7 757.0 L532.4 759.2 L529.1 761.5 L525.8 763.8 L522.5 766.1 L519.2 768.4 L516.0 770.8 L512.7 773.2 L509.4 775.6 L506.1 778.1 L502.8 780.5 L499.5 782.9 L496.2 785.2 L492.9 787.5 L489.6 789.7 L486.3 792.0 L483.0 794.2 L479.7 796.4 L476.5 798.6 L473.2 800.8 L469.9 802.9 L466.6 805.1 L463.3 807.1 L460.0 809.2 L456.7 811.2 L453.4 813.5 L450.1 815.7 L446.8 818.1 L443.5 820.4 L440.2 822.8 L437.0 825.2 L433.7 827.7 L430.4 830.2 L427.1 832.8 L423.8 835.5 L420.5 838.2 L417.2 840.9 L413.9 843.6 L410.6 846.4 L407.3 849.1 L404.0 851.9 L400.7 855.0 L397.5 857.9 L394.2 860.9 L390.9 863.8 L387.6 866.7 L384.3 869.6 L381.0 872.5 L377.7 875.4 L374.4 878.3 L371.1 881.3 L367.8 884.3 L364.5 887.4 L361.2 890.4 L358.0 893.6 L354.7 896.7 L351.4 899.9 L348.1 903.1 L344.8 906.3 L341.5 909.6 L338.2 912.8 L334.9 916.1 L331.6 919.3 L328.3 922.4 L325.0 925.5 L321.7 928.4 L318.5 931.3 L315.2 934.1 L311.9 936.9 L308.6 939.6 L305.3 942.2 L302.0 944.9 L298.7 947.5 L295.4 950.0 L292.1 952.6 L288.8 955.1 L285.5 957.5 L282.3 960.0 L279.0 962.4 L275.7 964.9 L272.4 967.3 L269.1 969.8 L265.8 972.3 L262.5 974.8 L259.2 977.3 L255.9 979.9 L252.6 982.4 L249.3 984.8 L246.0 987.2 L242.8 989.5 L239.5 991.6 L236.2 993.7 L232.9 995.6 L229.6 997.4 L226.3 999.1 L223.0 1000.7 L219.7 1002.2 L216.4 1003.5 L213.1 1004.8 L209.8 1005.9 L206.5 1006.9 L203.3 1007.7 L200.0 1008.4 L196.7 1009.1 L193.4 1009.6 L190.1 1010.1 L186.8 1010.5 L183.5 1010.7 L180.2 1010.9 L176.9 1011.0 L173.6 1011.1 L170.3 1011.1 L167.0 1011.1 L163.8 1011.1 L160.5 1011.1 L157.2 1011.1 L153.9 1011.1 L150.6 1011.2 L147.3 1011.3 L144.0 1011.5Z" fill="#999" fill-opacity="0.4"/>
<g class="pts" fill="#000" fill-opacity="0.4" stroke="#000" stroke-opacity="0.4" stroke-width="1.5">
<circle cx="208" cy="1025" r="6.1"/><circle cx="266" cy="999" r="6.1"/><circle cx="201" cy="1027" r="6.1"/><circle cx="296" cy="964" r="6.1"/><circle cx="278" cy="967" r="6.1"/><circle cx="349" cy="898" r="6.1"/><circle cx="300" cy="917" r="6.1"/><circle cx="293" cy="942" r="6.1"/><circle cx="233" cy="971" r="6.1"/><circle cx="361" cy="871" r="6.1"/><circle cx="268" cy="1013" r="6.1"/><circle cx="376" cy="881" r="6.1"/><circle cx="179" cy="977" r="6.1"/><circle cx="196" cy="1019" r="6.1"/><circle cx="355" cy="910" r="6.1"/><circle cx="268" cy="937" r="6.1"/><circle cx="273" cy="975" r="6.1"/><circle cx="303" cy="979" r="6.1"/><circle cx="342" cy="943" r="6.1"/><circle cx="258" cy="974" r="6.1"/><circle cx="270" cy="935" r="6.1"/><circle cx="279" cy="947" r="6.1"/><circle cx="284" cy="965" r="6.1"/><circle cx="265" cy="969" r="6.1"/><circle cx="238" cy="964" r="6.1"/><circle cx="236" cy="1017" r="6.1"/><circle cx="278" cy="958" r="6.1"/><circle cx="221" cy="1015" r="6.1"/><circle cx="208" cy="989" r="6.1"/><circle cx="340" cy="919" r="6.1"/><circle cx="218" cy="1003" r="6.1"/><circle cx="218" cy="1036" r="6.1"/><circle cx="317" cy="881" r="6.1"/><circle cx="292" cy="964" r="6.1"/><circle cx="415" cy="832" r="6.1"/><circle cx="298" cy="966" r="6.1"/><circle cx="231" cy="994" r="6.1"/><circle cx="294" cy="909" r="6.1"/><circle cx="260" cy="999" r="6.1"/><circle cx="241" cy="1007" r="6.1"/><circle cx="240" cy="998" r="6.1"/><circle cx="288" cy="972" r="6.1"/><circle cx="202" cy="1035" r="6.1"/><circle cx="261" cy="951" r="6.1"/><circle cx="306" cy="959" r="6.1"/><circle cx="204" cy="993" r="6.1"/><circle cx="274" cy="951" r="6.1"/><circle cx="234" cy="1002" r="6.1"/><circle cx="221" cy="977" r="6.1"/><circle cx="297" cy="965" r="6.1"/><circle cx="341" cy="869" r="6.1"/><circle cx="226" cy="984" r="6.1"/><circle cx="316" cy="914" r="6.1"/><circle cx="146" cy="1023" r="6.1"/><circle cx="236" cy="994" r="6.1"/><circle cx="281" cy="954" r="6.1"/><circle cx="284" cy="980" r="6.1"/><circle cx="233" cy="969" r="6.1"/><circle cx="354" cy="888" r="6.1"/><circle cx="276" cy="995" r="6.1"/><circle cx="237" cy="1007" r="6.1"/><circle cx="249" cy="992" r="6.1"/><circle cx="199" cy="938" r="6.1"/><circle cx="341" cy="940" r="6.1"/><circle cx="208" cy="1007" r="6.1"/><circle cx="331" cy="896" r="6.1"/><circle cx="274" cy="991" r="6.1"/><circle cx="390" cy="887" r="6.1"/><circle cx="317" cy="921" r="6.1"/><circle cx="229" cy="982" r="6.1"/><circle cx="383" cy="899" r="6.1"/><circle cx="230" cy="1077" r="6.1"/><circle cx="295" cy="903" r="6.1"/><circle cx="201" cy="1034" r="6.1"/><circle cx="268" cy="894" r="6.1"/><circle cx="321" cy="922" r="6.1"/><circle cx="314" cy="955" r="6.1"/><circle cx="281" cy="931" r="6.1"/><circle cx="259" cy="1003" r="6.1"/><circle cx="305" cy="919" r="6.1"/><circle cx="266" cy="965" r="6.1"/><circle cx="264" cy="1001" r="6.1"/><circle cx="303" cy="928" r="6.1"/><circle cx="441" cy="847" r="6.1"/><circle cx="205" cy="1005" r="6.1"/><circle cx="295" cy="983" r="6.1"/><circle cx="254" cy="967" r="6.1"/><circle cx="244" cy="1019" r="6.1"/><circle cx="334" cy="953" r="6.1"/><circle cx="183" cy="970" r="6.1"/><circle cx="290" cy="981" r="6.1"/><circle cx="222" cy="1000" r="6.1"/><circle cx="233" cy="993" r="6.1"/><circle cx="249" cy="983" r="6.1"/><circle cx="221" cy="985" r="6.1"/><circle cx="216" cy="1002" r="6.1"/><circle cx="331" cy="927" r="6.1"/><circle cx="284" cy="981" r="6.1"/><circle cx="180" cy="1023" r="6.1"/><circle cx="318" cy="910" r="6.1"/><circle cx="232" cy="1032" r="6.1"/><circle cx="203" cy="981" r="6.1"/><circle cx="385" cy="867" r="6.1"/><circle cx="360" cy="893" r="6.1"/><circle cx="201" cy="1037" r="6.1"/><circle cx="282" cy="965" r="6.1"/><circle cx="271" cy="954" r="6.1"/><circle cx="310" cy="972" r="6.1"/><circle cx="258" cy="949" r="6.1"/><circle cx="268" cy="994" r="6.1"/><circle cx="241" cy="975" r="6.1"/><circle cx="304" cy="952" r="6.1"/><circle cx="243" cy="1018" r="6.1"/><circle cx="421" cy="799" r="6.1"/><circle cx="189" cy="1007" r="6.1"/><circle cx="209" cy="1004" r="6.1"/><circle cx="335" cy="915" r="6.1"/><circle cx="226" cy="982" r="6.1"/><circle cx="247" cy="1015" r="6.1"/><circle cx="299" cy="948" r="6.1"/><circle cx="300" cy="940" r="6.1"/><circle cx="242" cy="970" r="6.1"/><circle cx="346" cy="906" r="6.1"/><circle cx="291" cy="994" r="6.1"/><circle cx="228" cy="1027" r="6.1"/><circle cx="289" cy="934" r="6.1"/><circle cx="279" cy="1005" r="6.1"/><circle cx="252" cy="958" r="6.1"/><circle cx="382" cy="874" r="6.1"/><circle cx="297" cy="943" r="6.1"/><circle cx="325" cy="898" r="6.1"/><circle cx="213" cy="985" r="6.1"/><circle cx="325" cy="918" r="6.1"/><circle cx="347" cy="850" r="6.1"/><circle cx="210" cy="1037" r="6.1"/><circle cx="252" cy="986" r="6.1"/><circle cx="333" cy="904" r="6.1"/><circle cx="233" cy="988" r="6.1"/><circle cx="174" cy="1072" r="6.1"/><circle cx="223" cy="1080" r="6.1"/><circle cx="260" cy="987" r="6.1"/><circle cx="196" cy="1006" r="6.1"/><circle cx="242" cy="987" r="6.1"/><circle cx="317" cy="902" r="6.1"/><circle cx="300" cy="928" r="6.1"/><circle cx="224" cy="1019" r="6.1"/><circle cx="299" cy="895" r="6.1"/><circle cx="376" cy="869" r="6.1"/><circle cx="325" cy="954" r="6.1"/><circle cx="374" cy="904" r="6.1"/><circle cx="156" cy="1028" r="6.1"/><circle cx="235" cy="1033" r="6.1"/><circle cx="203" cy="1032" r="6.1"/><circle cx="284" cy="944" r="6.1"/><circle cx="292" cy="961" r="6.1"/><circle cx="441" cy="800" r="6.1"/><circle cx="336" cy="912" r="6.1"/><circle cx="339" cy="881" r="6.1"/><circle cx="233" cy="983" r="6.1"/><circle cx="305" cy="948" r="6.1"/><circle cx="291" cy="925" r="6.1"/><circle cx="216" cy="939" r="6.1"/><circle cx="293" cy="935" r="6.1"/><circle cx="347" cy="850" r="6.1"/><circle cx="289" cy="943" r="6.1"/><circle cx="297" cy="934" r="6.1"/><circle cx="222" cy="1013" r="6.1"/><circle cx="248" cy="963" r="6.1"/><circle cx="227" cy="1000" r="6.1"/><circle cx="312" cy="941" r="6.1"/><circle cx="217" cy="1029" r="6.1"/><circle cx="260" cy="1024" r="6.1"/><circle cx="206" cy="978" r="6.1"/><circle cx="244" cy="994" r="6.1"/><circle cx="230" cy="987" r="6.1"/><circle cx="415" cy="850" r="6.1"/><circle cx="362" cy="887" r="6.1"/><circle cx="221" cy="950" r="6.1"/><circle cx="225" cy="985" r="6.1"/><circle cx="250" cy="1018" r="6.1"/><circle cx="299" cy="951" r="6.1"/><circle cx="260" cy="941" r="6.1"/><circle cx="256" cy="953" r="6.1"/><circle cx="234" cy="996" r="6.1"/><circle cx="176" cy="1003" r="6.1"/><circle cx="329" cy="942" r="6.1"/><circle cx="363" cy="892" r="6.1"/><circle cx="247" cy="969" r="6.1"/><circle cx="340" cy="900" r="6.1"/><circle cx="180" cy="1044" r="6.1"/><circle cx="274" cy="936" r="6.1"/><circle cx="394" cy="839" r="6.1"/><circle cx="253" cy="949" r="6.1"/><circle cx="346" cy="923" r="6.1"/><circle cx="218" cy="997" r="6.1"/><circle cx="284" cy="931" r="6.1"/><circle cx="322" cy="921" r="6.1"/><circle cx="409" cy="822" r="6.1"/><circle cx="254" cy="970" r="6.1"/><circle cx="324" cy="903" r="6.1"/><circle cx="326" cy="934" r="6.1"/><circle cx="268" cy="940" r="6.1"/><circle cx="207" cy="997" r="6.1"/><circle cx="291" cy="985" r="6.1"/><circle cx="238" cy="981" r="6.1"/><circle cx="226" cy="1006" r="6.1"/><circle cx="315" cy="907" r="6.1"/><circle cx="230" cy="1035" r="6.1"/><circle cx="266" cy="1046" r="6.1"/><circle cx="224" cy="994" r="6.1"/><circle cx="251" cy="986" r="6.1"/><circle cx="201" cy="1004" r="6.1"/><circle cx="282" cy="947" r="6.1"/><circle cx="265" cy="969" r="6.1"/><circle cx="212" cy="984" r="6.1"/><circle cx="334" cy="897" r="6.1"/><circle cx="349" cy="930" r="6.1"/><circle cx="264" cy="946" r="6.1"/><circle cx="193" cy="1021" r="6.1"/><circle cx="249" cy="1010" r="6.1"/><circle cx="216" cy="1009" r="6.1"/><circle cx="344" cy="873" r="6.1"/><circle cx="349" cy="930" r="6.1"/><circle cx="251" cy="995" r="6.1"/><circle cx="335" cy="918" r="6.1"/><circle cx="271" cy="987" r="6.1"/><circle cx="335" cy="913" r="6.1"/><circle cx="450" cy="829" r="6.1"/><circle cx="293" cy="923" r="6.1"/><circle cx="236" cy="1014" r="6.1"/><circle cx="225" cy="1033" r="6.1"/><circle cx="170" cy="1009" r="6.1"/><circle cx="320" cy="927" r="6.1"/><circle cx="202" cy="1011" r="6.1"/><circle cx="255" cy="943" r="6.1"/><circle cx="258" cy="984" r="6.1"/><circle cx="245" cy="1044" r="6.1"/><circle cx="248" cy="982" r="6.1"/><circle cx="221" cy="1008" r="6.1"/><circle cx="237" cy="984" r="6.1"/><circle cx="406" cy="857" r="6.1"/><circle cx="319" cy="946" r="6.1"/><circle cx="252" cy="908" r="6.1"/><circle cx="223" cy="996" r="6.1"/><circle cx="223" cy="996" r="6.1"/><circle cx="342" cy="899" r="6.1"/><circle cx="277" cy="992" r="6.1"/><circle cx="208" cy="986" r="6.1"/><circle cx="247" cy="1027" r="6.1"/><circle cx="258" cy="964" r="6.1"/><circle cx="276" cy="939" r="6.1"/><circle cx="282" cy="945" r="6.1"/><circle cx="182" cy="999" r="6.1"/><circle cx="230" cy="1025" r="6.1"/><circle cx="168" cy="993" r="6.1"/><circle cx="245" cy="971" r="6.1"/><circle cx="306" cy="967" r="6.1"/><circle cx="273" cy="971" r="6.1"/><circle cx="243" cy="966" r="6.1"/><circle cx="346" cy="896" r="6.1"/><circle cx="219" cy="989" r="6.1"/><circle cx="275" cy="964" r="6.1"/><circle cx="328" cy="931" r="6.1"/><circle cx="332" cy="909" r="6.1"/><circle cx="322" cy="922" r="6.1"/><circle cx="189" cy="1025" r="6.1"/><circle cx="309" cy="933" r="6.1"/><circle cx="216" cy="1028" r="6.1"/><circle cx="297" cy="982" r="6.1"/><circle cx="314" cy="912" r="6.1"/><circle cx="256" cy="957" r="6.1"/><circle cx="274" cy="988" r="6.1"/><circle cx="304" cy="972" r="6.1"/><circle cx="228" cy="962" r="6.1"/><circle cx="270" cy="962" r="6.1"/><circle cx="252" cy="1022" r="6.1"/><circle cx="362" cy="880" r="6.1"/><circle cx="254" cy="970" r="6.1"/><circle cx="252" cy="1002" r="6.1"/><circle cx="250" cy="1004" r="6.1"/><circle cx="227" cy="1049" r="6.1"/><circle cx="247" cy="1047" r="6.1"/><circle cx="320" cy="930" r="6.1"/><circle cx="333" cy="907" r="6.1"/><circle cx="251" cy="980" r="6.1"/><circle cx="226" cy="971" r="6.1"/><circle cx="195" cy="987" r="6.1"/><circle cx="318" cy="910" r="6.1"/><circle cx="345" cy="910" r="6.1"/><circle cx="234" cy="976" r="6.1"/><circle cx="232" cy="1053" r="6.1"/><circle cx="328" cy="915" r="6.1"/><circle cx="266" cy="977" r="6.1"/><circle cx="329" cy="943" r="6.1"/><circle cx="249" cy="1013" r="6.1"/><circle cx="206" cy="1028" r="6.1"/><circle cx="272" cy="1010" r="6.1"/><circle cx="317" cy="947" r="6.1"/><circle cx="315" cy="938" r="6.1"/><circle cx="290" cy="975" r="6.1"/><circle cx="350" cy="881" r="6.1"/><circle cx="386" cy="863" r="6.1"/><circle cx="258" cy="994" r="6.1"/><circle cx="299" cy="969" r="6.1"/><circle cx="215" cy="985" r="6.1"/><circle cx="240" cy="977" r="6.1"/><circle cx="287" cy="927" r="6.1"/><circle cx="162" cy="1016" r="6.1"/><circle cx="234" cy="1013" r="6.1"/><circle cx="253" cy="1043" r="6.1"/><circle cx="268" cy="975" r="6.1"/><circle cx="244" cy="973" r="6.1"/><circle cx="244" cy="963" r="6.1"/><circle cx="328" cy="923" r="6.1"/><circle cx="257" cy="1012" r="6.1"/><circle cx="319" cy="852" r="6.1"/><circle cx="264" cy="937" r="6.1"/><circle cx="297" cy="922" r="6.1"/><circle cx="247" cy="1045" r="6.1"/><circle cx="260" cy="966" r="6.1"/><circle cx="270" cy="969" r="6.1"/><circle cx="255" cy="992" r="6.1"/><circle cx="213" cy="947" r="6.1"/><circle cx="222" cy="1001" r="6.1"/><circle cx="252" cy="1000" r="6.1"/><circle cx="264" cy="947" r="6.1"/><circle cx="307" cy="958" r="6.1"/><circle cx="260" cy="1006" r="6.1"/><circle cx="285" cy="934" r="6.1"/><circle cx="212" cy="1002" r="6.1"/><circle cx="312" cy="924" r="6.1"/><circle cx="326" cy="938" r="6.1"/><circle cx="330" cy="921" r="6.1"/><circle cx="269" cy="951" r="6.1"/><circle cx="365" cy="851" r="6.1"/><circle cx="199" cy="999" r="6.1"/><circle cx="325" cy="979" r="6.1"/><circle cx="154" cy="996" r="6.1"/><circle cx="319" cy="943" r="6.1"/><circle cx="236" cy="1002" r="6.1"/><circle cx="155" cy="1012" r="6.1"/><circle cx="261" cy="958" r="6.1"/><circle cx="287" cy="961" r="6.1"/><circle cx="222" cy="990" r="6.1"/><circle cx="354" cy="879" r="6.1"/><circle cx="263" cy="978" r="6.1"/><circle cx="264" cy="987" r="6.1"/><circle cx="300" cy="957" r="6.1"/><circle cx="331" cy="903" r="6.1"/><circle cx="209" cy="1014" r="6.1"/><circle cx="368" cy="897" r="6.1"/><circle cx="345" cy="910" r="6.1"/><circle cx="215" cy="1055" r="6.1"/><circle cx="201" cy="992" r="6.1"/><circle cx="260" cy="983" r="6.1"/><circle cx="357" cy="910" r="6.1"/><circle cx="319" cy="924" r="6.1"/><circle cx="288" cy="981" r="6.1"/><circle cx="275" cy="933" r="6.1"/><circle cx="252" cy="961" r="6.1"/><circle cx="236" cy="1029" r="6.1"/><circle cx="226" cy="1053" r="6.1"/><circle cx="198" cy="1021" r="6.1"/><circle cx="353" cy="897" r="6.1"/><circle cx="223" cy="1010" r="6.1"/><circle cx="335" cy="920" r="6.1"/><circle cx="282" cy="937" r="6.1"/><circle cx="368" cy="887" r="6.1"/><circle cx="357" cy="882" r="6.1"/><circle cx="270" cy="992" r="6.1"/><circle cx="341" cy="904" r="6.1"/><circle cx="308" cy="919" r="6.1"/><circle cx="287" cy="973" r="6.1"/><circle cx="275" cy="1007" r="6.1"/><circle cx="242" cy="1028" r="6.1"/><circle cx="215" cy="1065" r="6.1"/><circle cx="366" cy="937" r="6.1"/><circle cx="252" cy="1001" r="6.1"/><circle cx="267" cy="943" r="6.1"/><circle cx="252" cy="933" r="6.1"/><circle cx="258" cy="1016" r="6.1"/><circle cx="279" cy="956" r="6.1"/><circle cx="291" cy="956" r="6.1"/><circle cx="192" cy="995" r="6.1"/><circle cx="206" cy="1005" r="6.1"/><circle cx="383" cy="856" r="6.1"/><circle cx="426" cy="821" r="6.1"/><circle cx="191" cy="1029" r="6.1"/><circle cx="193" cy="1007" r="6.1"/><circle cx="307" cy="925" r="6.1"/><circle cx="202" cy="1021" r="6.1"/><circle cx="279" cy="1004" r="6.1"/><circle cx="287" cy="992" r="6.1"/><circle cx="269" cy="1015" r="6.1"/><circle cx="359" cy="894" r="6.1"/><circle cx="261" cy="957" r="6.1"/><circle cx="269" cy="932" r="6.1"/><circle cx="278" cy="981" r="6.1"/><circle cx="321" cy="947" r="6.1"/><circle cx="408" cy="826" r="6.1"/><circle cx="202" cy="987" r="6.1"/><circle cx="217" cy="1025" r="6.1"/><circle cx="210" cy="1008" r="6.1"/><circle cx="256" cy="974" r="6.1"/><circle cx="269" cy="933" r="6.1"/><circle cx="361" cy="901" r="6.1"/><circle cx="235" cy="1038" r="6.1"/><circle cx="250" cy="956" r="6.1"/><circle cx="250" cy="974" r="6.1"/><circle cx="293" cy="924" r="6.1"/><circle cx="304" cy="913" r="6.1"/><circle cx="326" cy="933" r="6.1"/><circle cx="240" cy="985" r="6.1"/><circle cx="306" cy="946" r="6.1"/><circle cx="327" cy="905" r="6.1"/><circle cx="291" cy="948" r="6.1"/><circle cx="314" cy="950" r="6.1"/><circle cx="273" cy="955" r="6.1"/><circle cx="264" cy="974" r="6.1"/><circle cx="307" cy="954" r="6.1"/><circle cx="195" cy="1014" r="6.1"/><circle cx="245" cy="1007" r="6.1"/><circle cx="235" cy="1007" r="6.1"/><circle cx="407" cy="840" r="6.1"/><circle cx="298" cy="990" r="6.1"/><circle cx="235" cy="1011" r="6.1"/><circle cx="275" cy="960" r="6.1"/><circle cx="238" cy="981" r="6.1"/><circle cx="426" cy="813" r="6.1"/><circle cx="349" cy="926" r="6.1"/><circle cx="298" cy="1003" r="6.1"/><circle cx="210" cy="1020" r="6.1"/><circle cx="239" cy="967" r="6.1"/><circle cx="177" cy="1006" r="6.1"/><circle cx="205" cy="1010" r="6.1"/><circle cx="229" cy="1016" r="6.1"/><circle cx="287" cy="947" r="6.1"/><circle cx="302" cy="926" r="6.1"/><circle cx="414" cy="845" r="6.1"/><circle cx="271" cy="943" r="6.1"/><circle cx="280" cy="983" r="6.1"/><circle cx="281" cy="990" r="6.1"/><circle cx="208" cy="971" r="6.1"/><circle cx="243" cy="992" r="6.1"/><circle cx="222" cy="990" r="6.1"/><circle cx="301" cy="975" r="6.1"/><circle cx="264" cy="939" r="6.1"/><circle cx="327" cy="926" r="6.1"/><circle cx="320" cy="934" r="6.1"/><circle cx="359" cy="904" r="6.1"/><circle cx="189" cy="1055" r="6.1"/><circle cx="194" cy="1009" r="6.1"/><circle cx="350" cy="880" r="6.1"/><circle cx="261" cy="965" r="6.1"/><circle cx="178" cy="1017" r="6.1"/><circle cx="258" cy="1012" r="6.1"/><circle cx="223" cy="1066" r="6.1"/><circle cx="314" cy="924" r="6.1"/><circle cx="237" cy="956" r="6.1"/><circle cx="309" cy="956" r="6.1"/><circle cx="199" cy="1014" r="6.1"/><circle cx="390" cy="861" r="6.1"/><circle cx="280" cy="973" r="6.1"/><circle cx="362" cy="899" r="6.1"/><circle cx="234" cy="1002" r="6.1"/><circle cx="304" cy="924" r="6.1"/><circle cx="245" cy="986" r="6.1"/><circle cx="240" cy="1005" r="6.1"/><circle cx="213" cy="947" r="6.1"/><circle cx="370" cy="877" r="6.1"/><circle cx="244" cy="962" r="6.1"/><circle cx="204" cy="974" r="6.1"/><circle cx="230" cy="978" r="6.1"/><circle cx="391" cy="874" r="6.1"/><circle cx="299" cy="967" r="6.1"/><circle cx="313" cy="917" r="6.1"/><circle cx="267" cy="977" r="6.1"/><circle cx="229" cy="1025" r="6.1"/><circle cx="265" cy="981" r="6.1"/><circle cx="223" cy="1023" r="6.1"/><circle cx="274" cy="937" r="6.1"/><circle cx="318" cy="923" r="6.1"/><circle cx="284" cy="990" r="6.1"/><circle cx="342" cy="910" r="6.1"/><circle cx="334" cy="894" r="6.1"/><circle cx="382" cy="867" r="6.1"/><circle cx="244" cy="997" r="6.1"/><circle cx="197" cy="1011" r="6.1"/><circle cx="237" cy="1009" r="6.1"/><circle cx="233" cy="1015" r="6.1"/><circle cx="173" cy="972" r="6.1"/><circle cx="226" cy="1001" r="6.1"/><circle cx="286" cy="992" r="6.1"/><circle cx="269" cy="1002" r="6.1"/><circle cx="376" cy="888" r="6.1"/><circle cx="379" cy="880" r="6.1"/><circle cx="261" cy="989" r="6.1"/><circle cx="260" cy="978" r="6.1"/><circle cx="261" cy="993" r="6.1"/><circle cx="214" cy="1021" r="6.1"/><circle cx="234" cy="1026" r="6.1"/><circle cx="192" cy="1008" r="6.1"/><circle cx="300" cy="920" r="6.1"/><circle cx="355" cy="897" r="6.1"/><circle cx="260" cy="1004" r="6.1"/><circle cx="158" cy="1015" r="6.1"/><circle cx="268" cy="966" r="6.1"/><circle cx="230" cy="1032" r="6.1"/><circle cx="228" cy="1011" r="6.1"/><circle cx="281" cy="939" r="6.1"/><circle cx="202" cy="990" r="6.1"/><circle cx="325" cy="943" r="6.1"/><circle cx="249" cy="1009" r="6.1"/><circle cx="338" cy="901" r="6.1"/><circle cx="359" cy="899" r="6.1"/><circle cx="297" cy="973" r="6.1"/><circle cx="331" cy="903" r="6.1"/><circle cx="325" cy="910" r="6.1"/><circle cx="282" cy="978" r="6.1"/><circle cx="327" cy="891" r="6.1"/><circle cx="263" cy="962" r="6.1"/><circle cx="187" cy="1044" r="6.1"/><circle cx="210" cy="1029" r="6.1"/><circle cx="221" cy="996" r="6.1"/><circle cx="248" cy="979" r="6.1"/><circle cx="232" cy="970" r="6.1"/><circle cx="447" cy="791" r="6.1"/><circle cx="194" cy="1017" r="6.1"/><circle cx="299" cy="972" r="6.1"/><circle cx="259" cy="999" r="6.1"/><circle cx="248" cy="1014" r="6.1"/><circle cx="361" cy="898" r="6.1"/><circle cx="265" cy="1007" r="6.1"/><circle cx="236" cy="1042" r="6.1"/><circle cx="195" cy="995" r="6.1"/><circle cx="364" cy="925" r="6.1"/><circle cx="229" cy="966" r="6.1"/><circle cx="277" cy="946" r="6.1"/><circle cx="260" cy="959" r="6.1"/><circle cx="225" cy="1026" r="6.1"/><circle cx="301" cy="948" r="6.1"/><circle cx="269" cy="982" r="6.1"/><circle cx="271" cy="967" r="6.1"/><circle cx="257" cy="1015" r="6.1"/><circle cx="239" cy="1009" r="6.1"/><circle cx="370" cy="889" r="6.1"/><circle cx="228" cy="971" r="6.1"/><circle cx="221" cy="1024" r="6.1"/><circle cx="271" cy="1026" r="6.1"/><circle cx="257" cy="1019" r="6.1"/><circle cx="197" cy="944" r="6.1"/><circle cx="196" cy="1000" r="6.1"/><circle cx="313" cy="914" r="6.1"/><circle cx="334" cy="888" r="6.1"/><circle cx="191" cy="956" r="6.1"/><circle cx="237" cy="1002" r="6.1"/><circle cx="311" cy="937" r="6.1"/><circle cx="193" cy="1011" r="6.1"/><circle cx="323" cy="940" r="6.1"/><circle cx="269" cy="957" r="6.1"/><circle cx="237" cy="1018" r="6.1"/><circle cx="213" cy="947" r="6.1"/><circle cx="327" cy="931" r="6.1"/><circle cx="441" cy="837" r="6.1"/><circle cx="336" cy="916" r="6.1"/><circle cx="252" cy="950" r="6.1"/><circle cx="241" cy="937" r="6.1"/><circle cx="357" cy="887" r="6.1"/><circle cx="399" cy="835" r="6.1"/><circle cx="317" cy="932" r="6.1"/><circle cx="283" cy="1002" r="6.1"/><circle cx="223" cy="1010" r="6.1"/><circle cx="258" cy="989" r="6.1"/><circle cx="211" cy="993" r="6.1"/><circle cx="353" cy="894" r="6.1"/><circle cx="335" cy="893" r="6.1"/><circle cx="278" cy="979" r="6.1"/><circle cx="200" cy="997" r="6.1"/><circle cx="274" cy="934" r="6.1"/><circle cx="438" cy="796" r="6.1"/><circle cx="230" cy="1054" r="6.1"/><circle cx="319" cy="931" r="6.1"/><circle cx="173" cy="1053" r="6.1"/><circle cx="294" cy="934" r="6.1"/><circle cx="228" cy="1042" r="6.1"/><circle cx="255" cy="955" r="6.1"/><circle cx="197" cy="968" r="6.1"/><circle cx="269" cy="999" r="6.1"/><circle cx="279" cy="973" r="6.1"/><circle cx="235" cy="940" r="6.1"/><circle cx="170" cy="1031" r="6.1"/><circle cx="286" cy="935" r="6.1"/><circle cx="263" cy="1038" r="6.1"/><circle cx="354" cy="911" r="6.1"/><circle cx="269" cy="952" r="6.1"/><circle cx="365" cy="871" r="6.1"/><circle cx="224" cy="991" r="6.1"/><circle cx="240" cy="1021" r="6.1"/><circle cx="262" cy="1000" r="6.1"/><circle cx="307" cy="916" r="6.1"/><circle cx="261" cy="953" r="6.1"/><circle cx="349" cy="906" r="6.1"/><circle cx="229" cy="1013" r="6.1"/><circle cx="412" cy="842" r="6.1"/><circle cx="249" cy="1017" r="6.1"/><circle cx="296" cy="920" r="6.1"/><circle cx="187" cy="999" r="6.1"/><circle cx="215" cy="1016" r="6.1"/><circle cx="332" cy="899" r="6.1"/><circle cx="189" cy="978" r="6.1"/><circle cx="178" cy="1025" r="6.1"/><circle cx="227" cy="999" r="6.1"/><circle cx="209" cy="1047" r="6.1"/><circle cx="294" cy="985" r="6.1"/><circle cx="192" cy="1020" r="6.1"/><circle cx="332" cy="915" r="6.1"/><circle cx="236" cy="992" r="6.1"/><circle cx="318" cy="941" r="6.1"/><circle cx="310" cy="909" r="6.1"/><circle cx="279" cy="982" r="6.1"/><circle cx="381" cy="875" r="6.1"/><circle cx="300" cy="963" r="6.1"/><circle cx="431" cy="832" r="6.1"/><circle cx="298" cy="939" r="6.1"/><circle cx="228" cy="1036" r="6.1"/><circle cx="274" cy="997" r="6.1"/><circle cx="344" cy="913" r="6.1"/><circle cx="370" cy="874" r="6.1"/><circle cx="311" cy="931" r="6.1"/><circle cx="285" cy="940" r="6.1"/><circle cx="279" cy="954" r="6.1"/><circle cx="260" cy="904" r="6.1"/><circle cx="167" cy="1004" r="6.1"/><circle cx="207" cy="1006" r="6.1"/><circle cx="307" cy="940" r="6.1"/><circle cx="242" cy="1003" r="6.1"/><circle cx="253" cy="964" r="6.1"/><circle cx="323" cy="913" r="6.1"/><circle cx="328" cy="938" r="6.1"/><circle cx="358" cy="873" r="6.1"/><circle cx="234" cy="1040" r="6.1"/><circle cx="329" cy="895" r="6.1"/><circle cx="222" cy="1011" r="6.1"/><circle cx="365" cy="918" r="6.1"/><circle cx="273" cy="1003" r="6.1"/><circle cx="199" cy="1000" r="6.1"/><circle cx="327" cy="912" r="6.1"/><circle cx="302" cy="986" r="6.1"/><circle cx="255" cy="1044" r="6.1"/><circle cx="244" cy="995" r="6.1"/><circle cx="284" cy="924" r="6.1"/><circle cx="308" cy="937" r="6.1"/><circle cx="299" cy="959" r="6.1"/><circle cx="255" cy="1009" r="6.1"/><circle cx="336" cy="923" r="6.1"/><circle cx="229" cy="979" r="6.1"/><circle cx="197" cy="1032" r="6.1"/><circle cx="287" cy="972" r="6.1"/><circle cx="275" cy="963" r="6.1"/><circle cx="296" cy="921" r="6.1"/><circle cx="339" cy="895" r="6.1"/><circle cx="283" cy="930" r="6.1"/><circle cx="347" cy="877" r="6.1"/><circle cx="305" cy="961" r="6.1"/><circle cx="293" cy="937" r="6.1"/><circle cx="269" cy="948" r="6.1"/><circle cx="268" cy="989" r="6.1"/><circle cx="296" cy="926" r="6.1"/><circle cx="396" cy="853" r="6.1"/><circle cx="213" cy="1004" r="6.1"/><circle cx="319" cy="984" r="6.1"/><circle cx="364" cy="898" r="6.1"/><circle cx="219" cy="1024" r="6.1"/><circle cx="317" cy="964" r="6.1"/><circle cx="535" cy="725" r="6.1"/><circle cx="308" cy="954" r="6.1"/><circle cx="327" cy="943" r="6.1"/><circle cx="327" cy="940" r="6.1"/><circle cx="247" cy="954" r="6.1"/><circle cx="292" cy="957" r="6.1"/><circle cx="348" cy="907" r="6.1"/><circle cx="221" cy="1043" r="6.1"/><circle cx="221" cy="921" r="6.1"/><circle cx="333" cy="924" r="6.1"/><circle cx="314" cy="979" r="6.1"/><circle cx="351" cy="892" r="6.1"/><circle cx="147" cy="1002" r="6.1"/><circle cx="276" cy="974" r="6.1"/><circle cx="290" cy="939" r="6.1"/><circle cx="243" cy="1039" r="6.1"/><circle cx="224" cy="1031" r="6.1"/><circle cx="314" cy="947" r="6.1"/><circle cx="288" cy="1013" r="6.1"/><circle cx="471" cy="780" r="6.1"/><circle cx="348" cy="889" r="6.1"/><circle cx="213" cy="1006" r="6.1"/><circle cx="278" cy="957" r="6.1"/><circle cx="339" cy="901" r="6.1"/><circle cx="317" cy="904" r="6.1"/><circle cx="302" cy="944" r="6.1"/><circle cx="311" cy="943" r="6.1"/><circle cx="305" cy="931" r="6.1"/><circle cx="225" cy="1026" r="6.1"/><circle cx="265" cy="944" r="6.1"/><circle cx="202" cy="986" r="6.1"/><circle cx="288" cy="951" r="6.1"/><circle cx="402" cy="841" r="6.1"/><circle cx="231" cy="1042" r="6.1"/><circle cx="192" cy="1003" r="6.1"/><circle cx="243" cy="1021" r="6.1"/><circle cx="333" cy="942" r="6.1"/><circle cx="424" cy="835" r="6.1"/><circle cx="230" cy="1050" r="6.1"/><circle cx="305" cy="934" r="6.1"/><circle cx="312" cy="963" r="6.1"/><circle cx="163" cy="1053" r="6.1"/><circle cx="346" cy="892" r="6.1"/><circle cx="368" cy="881" r="6.1"/><circle cx="290" cy="974" r="6.1"/><circle cx="248" cy="998" r="6.1"/><circle cx="327" cy="931" r="6.1"/><circle cx="255" cy="950" r="6.1"/><circle cx="439" cy="819" r="6.1"/><circle cx="326" cy="910" r="6.1"/><circle cx="254" cy="990" r="6.1"/><circle cx="309" cy="914" r="6.1"/><circle cx="260" cy="977" r="6.1"/><circle cx="330" cy="887" r="6.1"/><circle cx="308" cy="939" r="6.1"/><circle cx="272" cy="982" r="6.1"/><circle cx="341" cy="868" r="6.1"/><circle cx="286" cy="949" r="6.1"/><circle cx="252" cy="1009" r="6.1"/><circle cx="242" cy="981" r="6.1"/><circle cx="291" cy="955" r="6.1"/><circle cx="245" cy="944" r="6.1"/><circle cx="299" cy="933" r="6.1"/><circle cx="383" cy="847" r="6.1"/><circle cx="229" cy="986" r="6.1"/><circle cx="221" cy="980" r="6.1"/><circle cx="354" cy="903" r="6.1"/><circle cx="198" cy="995" r="6.1"/><circle cx="294" cy="995" r="6.1"/><circle cx="147" cy="975" r="6.1"/><circle cx="195" cy="994" r="6.1"/><circle cx="198" cy="1053" r="6.1"/><circle cx="201" cy="1024" r="6.1"/><circle cx="294" cy="986" r="6.1"/><circle cx="274" cy="949" r="6.1"/><circle cx="204" cy="1008" r="6.1"/><circle cx="285" cy="958" r="6.1"/><circle cx="290" cy="956" r="6.1"/><circle cx="233" cy="972" r="6.1"/><circle cx="376" cy="875" r="6.1"/><circle cx="206" cy="1025" r="6.1"/><circle cx="228" cy="1021" r="6.1"/><circle cx="298" cy="911" r="6.1"/><circle cx="378" cy="892" r="6.1"/><circle cx="353" cy="916" r="6.1"/><circle cx="284" cy="992" r="6.1"/><circle cx="296" cy="979" r="6.1"/><circle cx="251" cy="976" r="6.1"/><circle cx="273" cy="946" r="6.1"/><circle cx="301" cy="955" r="6.1"/><circle cx="311" cy="931" r="6.1"/><circle cx="270" cy="988" r="6.1"/><circle cx="364" cy="900" r="6.1"/><circle cx="367" cy="879" r="6.1"/><circle cx="265" cy="961" r="6.1"/><circle cx="195" cy="991" r="6.1"/><circle cx="286" cy="965" r="6.1"/><circle cx="276" cy="934" r="6.1"/><circle cx="345" cy="902" r="6.1"/><circle cx="298" cy="942" r="6.1"/><circle cx="329" cy="907" r="6.1"/><circle cx="223" cy="1020" r="6.1"/><circle cx="224" cy="1030" r="6.1"/><circle cx="192" cy="999" r="6.1"/><circle cx="241" cy="984" r="6.1"/><circle cx="308" cy="976" r="6.1"/><circle cx="412" cy="852" r="6.1"/><circle cx="437" cy="790" r="6.1"/><circle cx="364" cy="894" r="6.1"/><circle cx="315" cy="949" r="6.1"/><circle cx="255" cy="1020" r="6.1"/><circle cx="296" cy="951" r="6.1"/><circle cx="265" cy="1000" r="6.1"/><circle cx="242" cy="956" r="6.1"/><circle cx="246" cy="1020" r="6.1"/><circle cx="298" cy="976" r="6.1"/><circle cx="287" cy="965" r="6.1"/>
</g>
<path d="M144.0 1006.0 L147.3 1006.0 L150.6 1006.2 L153.9 1006.3 L157.2 1006.5 L160.5 1006.7 L163.8 1006.9 L167.0 1007.2 L170.3 1007.4 L173.6 1007.5 L176.9 1007.6 L180.2 1007.6 L183.5 1007.6 L186.8 1007.4 L190.1 1007.2 L193.4 1006.9 L196.7 1006.4 L200.0 1005.9 L203.3 1005.2 L206.5 1004.4 L209.8 1003.5 L213.1 1002.5 L216.4 1001.3 L219.7 1000.0 L223.0 998.6 L226.3 997.0 L229.6 995.4 L232.9 993.6 L236.2 991.6 L239.5 989.6 L242.8 987.4 L246.0 985.1 L249.3 982.7 L252.6 980.3 L255.9 977.8 L259.2 975.3 L262.5 972.7 L265.8 970.2 L269.1 967.7 L272.4 965.3 L275.7 962.8 L279.0 960.4 L282.3 957.9 L285.5 955.5 L288.8 953.0 L292.1 950.5 L295.4 948.0 L298.7 945.4 L302.0 942.8 L305.3 940.2 L308.6 937.5 L311.9 934.8 L315.2 932.0 L318.5 929.2 L321.7 926.4 L325.0 923.4 L328.3 920.3 L331.6 917.2 L334.9 914.0 L338.2 910.8 L341.5 907.5 L344.8 904.2 L348.1 901.0 L351.4 897.8 L354.7 894.6 L358.0 891.5 L361.2 888.4 L364.5 885.3 L367.8 882.2 L371.1 879.2 L374.4 876.3 L377.7 873.3 L381.0 870.4 L384.3 867.5 L387.6 864.6 L390.9 861.7 L394.2 858.8 L397.5 855.9 L400.7 852.9 L404.0 849.9 L407.3 846.8 L410.6 843.8 L413.9 840.7 L417.2 837.7 L420.5 834.6 L423.8 831.6 L427.1 828.6 L430.4 825.6 L433.7 822.6 L437.0 819.6 L440.2 816.7 L443.5 813.8 L446.8 810.9 L450.1 808.1 L453.4 805.3 L456.7 802.5 L460.0 799.7 L463.3 797.0 L466.6 794.2 L469.9 791.3 L473.2 788.5 L476.5 785.6 L479.7 782.6 L483.0 779.7 L486.3 776.7 L489.6 773.7 L492.9 770.6 L496.2 767.6 L499.5 764.4 L502.8 761.3 L506.1 758.1 L509.4 754.9 L512.7 751.7 L516.0 748.5 L519.2 745.3 L522.5 742.2 L525.8 739.2 L529.1 736.1 L532.4 733.1 L535.7 730.1" stroke="#3366ff" stroke-width="5.8" fill="none" stroke-linecap="butt"/>
</g>
<rect x="134.2" y="598" width="411.2" height="54.7" fill="#fff" stroke="#000" stroke-width="3.2"/>
<text x="338.8" y="637.1" font-size="31.5" fill="#1a1a1a" text-anchor="middle" textLength="62.1" lengthAdjust="spacingAndGlyphs">VMF</text>
<path d="M132.6 652.7V1170.9" stroke="#000" stroke-width="3"/>
<path d="M123.6 1028.3H132.6M123.6 873.3H132.6M123.6 718.3H132.6" stroke="#333" stroke-width="3"/>
<text x="116.5" y="1044.6" font-size="30" fill="#4d4d4d" text-anchor="end">10<tspan font-size="21.5" dy="-15">-1</tspan></text>
<text x="116.5" y="889.6" font-size="30" fill="#4d4d4d" text-anchor="end">10<tspan font-size="21.5" dy="-15">2</tspan></text>
<text x="116.5" y="734.6" font-size="30" fill="#4d4d4d" text-anchor="end">10<tspan font-size="21.5" dy="-15">5</tspan></text>
<g clip-path="url(#c4)">
<path d="M656.5 652.7V1170.9M760.2 652.7V1170.9M863.9 652.7V1170.9M967.6 652.7V1170.9M565.4 1028.3H979.4M565.4 873.3H979.4M565.4 718.3H979.4" stroke="#ebebeb" stroke-width="2.2" fill="none"/>
<path d="M513.5 1119.1 L1031.2 603.2 L1031.2 706.5 L513.5 1222.4Z" fill="#ccf2f3"/>
<path d="M513.5 1170.8L1031.2 654.9" stroke="#000" stroke-opacity="0.6" stroke-width="2.3"/>
<path d="M576.8 987.6 L580.1 987.8 L583.4 988.1 L586.7 988.5 L590.0 988.9 L593.2 989.3 L596.5 989.8 L599.8 990.2 L603.1 990.7 L606.4 991.0 L609.7 991.3 L613.0 991.5 L616.2 991.6 L619.5 991.7 L622.8 991.7 L626.1 991.6 L629.4 991.4 L632.7 991.0 L636.0 990.6 L639.3 990.0 L642.5 989.3 L645.8 988.4 L649.1 987.5 L652.4 986.3 L655.7 985.1 L659.0 983.6 L662.3 982.0 L665.5 980.2 L668.8 978.3 L672.1 976.3 L675.4 974.1 L678.7 971.8 L682.0 969.5 L685.3 967.1 L688.5 964.6 L691.8 962.1 L695.1 959.5 L698.4 957.0 L701.7 954.6 L705.0 952.1 L708.3 949.7 L711.6 947.3 L714.8 945.0 L718.1 942.6 L721.4 940.2 L724.7 937.8 L728.0 935.4 L731.3 932.9 L734.6 930.3 L737.8 927.7 L741.1 925.0 L744.4 922.3 L747.7 919.4 L751.0 916.5 L754.3 913.6 L757.6 910.5 L760.9 907.3 L764.1 904.1 L767.4 900.8 L770.7 897.5 L774.0 894.2 L777.3 890.8 L780.6 887.5 L783.9 884.2 L787.1 880.9 L790.4 877.6 L793.7 874.3 L797.0 871.0 L800.3 867.7 L803.6 864.4 L806.9 861.1 L810.1 857.9 L813.4 854.8 L816.7 851.7 L820.0 848.7 L823.3 845.7 L826.6 842.7 L829.9 839.8 L833.2 836.8 L836.4 833.8 L839.7 830.7 L843.0 827.4 L846.3 824.1 L849.6 820.8 L852.9 817.5 L856.2 814.2 L859.4 811.0 L862.7 807.7 L866.0 804.3 L869.3 800.8 L872.6 797.3 L875.9 793.8 L879.2 790.3 L882.5 786.8 L885.7 783.2 L889.0 779.6 L892.3 775.8 L895.6 772.1 L898.9 768.3 L902.2 764.5 L905.5 760.8 L908.7 757.2 L912.0 753.5 L915.3 749.8 L918.6 746.0 L921.9 742.2 L925.2 738.3 L928.5 734.3 L931.7 730.4 L935.0 726.4 L938.3 722.5 L941.6 718.5 L944.9 714.6 L948.2 710.7 L951.5 706.8 L954.8 702.9 L958.0 699.0 L961.3 695.1 L964.6 691.2 L967.9 687.4 L967.9 740.9 L964.6 743.3 L961.3 745.6 L958.0 748.0 L954.8 750.3 L951.5 752.7 L948.2 755.1 L944.9 757.5 L941.6 759.9 L938.3 762.2 L935.0 764.6 L931.7 767.0 L928.5 769.3 L925.2 771.7 L921.9 774.0 L918.6 776.3 L915.3 778.6 L912.0 780.8 L908.7 783.0 L905.5 785.3 L902.2 787.5 L898.9 789.8 L895.6 792.2 L892.3 794.5 L889.0 796.9 L885.7 799.4 L882.5 802.0 L879.2 804.5 L875.9 807.0 L872.6 809.4 L869.3 811.8 L866.0 814.3 L862.7 816.8 L859.4 819.4 L856.2 822.0 L852.9 824.6 L849.6 827.3 L846.3 829.9 L843.0 832.5 L839.7 835.2 L836.4 838.0 L833.2 840.9 L829.9 843.9 L826.6 846.9 L823.3 849.8 L820.0 852.8 L816.7 855.9 L813.4 858.9 L810.1 862.0 L806.9 865.2 L803.6 868.5 L800.3 871.8 L797.0 875.1 L793.7 878.5 L790.4 881.8 L787.1 885.1 L783.9 888.4 L780.6 891.7 L777.3 895.0 L774.0 898.3 L770.7 901.6 L767.4 905.0 L764.1 908.2 L760.9 911.5 L757.6 914.6 L754.3 917.7 L751.0 920.7 L747.7 923.6 L744.4 926.4 L741.1 929.2 L737.8 931.8 L734.6 934.5 L731.3 937.0 L728.0 939.5 L724.7 942.0 L721.4 944.4 L718.1 946.7 L714.8 949.1 L711.6 951.5 L708.3 953.9 L705.0 956.3 L701.7 958.7 L698.4 961.2 L695.1 963.7 L691.8 966.2 L688.5 968.7 L685.3 971.2 L682.0 973.6 L678.7 976.0 L675.4 978.2 L672.1 980.4 L668.8 982.4 L665.5 984.3 L662.3 986.1 L659.0 987.7 L655.7 989.2 L652.4 990.6 L649.1 991.9 L645.8 993.0 L642.5 994.0 L639.3 994.8 L636.0 995.5 L632.7 996.1 L629.4 996.6 L626.1 997.1 L622.8 997.5 L619.5 997.7 L616.2 997.9 L613.0 998.1 L609.7 998.1 L606.4 998.1 L603.1 998.1 L599.8 998.1 L596.5 998.1 L593.2 998.1 L590.0 998.1 L586.7 998.1 L583.4 998.2 L580.1 998.3 L576.8 998.5Z" fill="#999" fill-opacity="0.4"/>
<g class="pts" fill="#000" fill-opacity="0.4" stroke="#000" stroke-opacity="0.4" stroke-width="1.5">
<circle cx="701" cy="929" r="6.1"/><circle cx="697" cy="990" r="6.1"/><circle cx="728" cy="893" r="6.1"/><circle cx="747" cy="913" r="6.1"/><circle cx="700" cy="966" r="6.1"/><circle cx="696" cy="954" r="6.1"/><circle cx="750" cy="921" r="6.1"/><circle cx="659" cy="996" r="6.1"/><circle cx="673" cy="1010" r="6.1"/><circle cx="699" cy="959" r="6.1"/><circle cx="622" cy="965" r="6.1"/><circle cx="674" cy="926" r="6.1"/><circle cx="727" cy="974" r="6.1"/><circle cx="775" cy="931" r="6.1"/><circle cx="639" cy="1013" r="6.1"/><circle cx="675" cy="959" r="6.1"/><circle cx="797" cy="885" r="6.1"/><circle cx="786" cy="867" r="6.1"/><circle cx="724" cy="984" r="6.1"/><circle cx="649" cy="998" r="6.1"/><circle cx="737" cy="915" r="6.1"/><circle cx="641" cy="977" r="6.1"/><circle cx="675" cy="1017" r="6.1"/><circle cx="732" cy="917" r="6.1"/><circle cx="692" cy="954" r="6.1"/><circle cx="847" cy="830" r="6.1"/><circle cx="624" cy="1016" r="6.1"/><circle cx="654" cy="990" r="6.1"/><circle cx="736" cy="968" r="6.1"/><circle cx="673" cy="993" r="6.1"/><circle cx="768" cy="901" r="6.1"/><circle cx="656" cy="1009" r="6.1"/><circle cx="697" cy="982" r="6.1"/><circle cx="704" cy="943" r="6.1"/><circle cx="720" cy="962" r="6.1"/><circle cx="677" cy="959" r="6.1"/><circle cx="668" cy="1021" r="6.1"/><circle cx="702" cy="922" r="6.1"/><circle cx="740" cy="905" r="6.1"/><circle cx="666" cy="985" r="6.1"/><circle cx="822" cy="846" r="6.1"/><circle cx="739" cy="908" r="6.1"/><circle cx="797" cy="888" r="6.1"/><circle cx="782" cy="887" r="6.1"/><circle cx="718" cy="972" r="6.1"/><circle cx="809" cy="862" r="6.1"/><circle cx="711" cy="970" r="6.1"/><circle cx="645" cy="990" r="6.1"/><circle cx="658" cy="1041" r="6.1"/><circle cx="768" cy="904" r="6.1"/><circle cx="812" cy="867" r="6.1"/><circle cx="759" cy="916" r="6.1"/><circle cx="665" cy="979" r="6.1"/><circle cx="641" cy="959" r="6.1"/><circle cx="596" cy="1040" r="6.1"/><circle cx="672" cy="997" r="6.1"/><circle cx="729" cy="915" r="6.1"/><circle cx="760" cy="928" r="6.1"/><circle cx="720" cy="1002" r="6.1"/><circle cx="717" cy="979" r="6.1"/><circle cx="705" cy="998" r="6.1"/><circle cx="772" cy="870" r="6.1"/><circle cx="729" cy="963" r="6.1"/><circle cx="775" cy="898" r="6.1"/><circle cx="696" cy="990" r="6.1"/><circle cx="680" cy="1003" r="6.1"/><circle cx="669" cy="973" r="6.1"/><circle cx="723" cy="938" r="6.1"/><circle cx="729" cy="969" r="6.1"/><circle cx="685" cy="947" r="6.1"/><circle cx="835" cy="826" r="6.1"/><circle cx="628" cy="1002" r="6.1"/><circle cx="781" cy="877" r="6.1"/><circle cx="695" cy="946" r="6.1"/><circle cx="790" cy="898" r="6.1"/><circle cx="685" cy="896" r="6.1"/><circle cx="634" cy="1012" r="6.1"/><circle cx="648" cy="1005" r="6.1"/><circle cx="691" cy="953" r="6.1"/><circle cx="698" cy="970" r="6.1"/><circle cx="678" cy="1033" r="6.1"/><circle cx="726" cy="913" r="6.1"/><circle cx="641" cy="974" r="6.1"/><circle cx="723" cy="964" r="6.1"/><circle cx="773" cy="889" r="6.1"/><circle cx="720" cy="916" r="6.1"/><circle cx="765" cy="887" r="6.1"/><circle cx="690" cy="962" r="6.1"/><circle cx="791" cy="861" r="6.1"/><circle cx="759" cy="922" r="6.1"/><circle cx="654" cy="1012" r="6.1"/><circle cx="717" cy="932" r="6.1"/><circle cx="680" cy="1035" r="6.1"/><circle cx="754" cy="936" r="6.1"/><circle cx="665" cy="990" r="6.1"/><circle cx="669" cy="1018" r="6.1"/><circle cx="683" cy="1006" r="6.1"/><circle cx="646" cy="973" r="6.1"/><circle cx="667" cy="991" r="6.1"/><circle cx="691" cy="989" r="6.1"/><circle cx="661" cy="1005" r="6.1"/><circle cx="663" cy="1039" r="6.1"/><circle cx="781" cy="894" r="6.1"/><circle cx="642" cy="1026" r="6.1"/><circle cx="654" cy="973" r="6.1"/><circle cx="829" cy="839" r="6.1"/><circle cx="675" cy="972" r="6.1"/><circle cx="717" cy="913" r="6.1"/><circle cx="629" cy="994" r="6.1"/><circle cx="682" cy="1006" r="6.1"/><circle cx="630" cy="932" r="6.1"/><circle cx="767" cy="883" r="6.1"/><circle cx="787" cy="877" r="6.1"/><circle cx="628" cy="975" r="6.1"/><circle cx="740" cy="927" r="6.1"/><circle cx="760" cy="901" r="6.1"/><circle cx="675" cy="988" r="6.1"/><circle cx="681" cy="972" r="6.1"/><circle cx="754" cy="911" r="6.1"/><circle cx="864" cy="819" r="6.1"/><circle cx="699" cy="975" r="6.1"/><circle cx="656" cy="989" r="6.1"/><circle cx="669" cy="999" r="6.1"/><circle cx="787" cy="899" r="6.1"/><circle cx="827" cy="825" r="6.1"/><circle cx="691" cy="966" r="6.1"/><circle cx="639" cy="993" r="6.1"/><circle cx="772" cy="884" r="6.1"/><circle cx="768" cy="904" r="6.1"/><circle cx="661" cy="960" r="6.1"/><circle cx="651" cy="991" r="6.1"/><circle cx="755" cy="923" r="6.1"/><circle cx="624" cy="944" r="6.1"/><circle cx="649" cy="1016" r="6.1"/><circle cx="665" cy="1004" r="6.1"/><circle cx="646" cy="992" r="6.1"/><circle cx="591" cy="1002" r="6.1"/><circle cx="656" cy="985" r="6.1"/><circle cx="731" cy="956" r="6.1"/><circle cx="745" cy="953" r="6.1"/><circle cx="609" cy="994" r="6.1"/><circle cx="688" cy="998" r="6.1"/><circle cx="824" cy="860" r="6.1"/><circle cx="663" cy="1024" r="6.1"/><circle cx="779" cy="839" r="6.1"/><circle cx="747" cy="969" r="6.1"/><circle cx="587" cy="999" r="6.1"/><circle cx="658" cy="974" r="6.1"/><circle cx="698" cy="932" r="6.1"/><circle cx="755" cy="913" r="6.1"/><circle cx="761" cy="896" r="6.1"/><circle cx="622" cy="1012" r="6.1"/><circle cx="676" cy="955" r="6.1"/><circle cx="737" cy="902" r="6.1"/><circle cx="721" cy="968" r="6.1"/><circle cx="659" cy="959" r="6.1"/><circle cx="625" cy="995" r="6.1"/><circle cx="655" cy="979" r="6.1"/><circle cx="788" cy="885" r="6.1"/><circle cx="731" cy="965" r="6.1"/><circle cx="629" cy="988" r="6.1"/><circle cx="848" cy="818" r="6.1"/><circle cx="758" cy="968" r="6.1"/><circle cx="723" cy="930" r="6.1"/><circle cx="673" cy="966" r="6.1"/><circle cx="698" cy="989" r="6.1"/><circle cx="695" cy="1027" r="6.1"/><circle cx="678" cy="933" r="6.1"/><circle cx="743" cy="961" r="6.1"/><circle cx="600" cy="991" r="6.1"/><circle cx="693" cy="972" r="6.1"/><circle cx="747" cy="901" r="6.1"/><circle cx="701" cy="955" r="6.1"/><circle cx="675" cy="976" r="6.1"/><circle cx="679" cy="1005" r="6.1"/><circle cx="782" cy="914" r="6.1"/><circle cx="667" cy="1029" r="6.1"/><circle cx="667" cy="1015" r="6.1"/><circle cx="736" cy="962" r="6.1"/><circle cx="662" cy="1021" r="6.1"/><circle cx="644" cy="981" r="6.1"/><circle cx="758" cy="943" r="6.1"/><circle cx="747" cy="939" r="6.1"/><circle cx="663" cy="1004" r="6.1"/><circle cx="752" cy="973" r="6.1"/><circle cx="750" cy="936" r="6.1"/><circle cx="688" cy="932" r="6.1"/><circle cx="722" cy="960" r="6.1"/><circle cx="764" cy="915" r="6.1"/><circle cx="762" cy="884" r="6.1"/><circle cx="729" cy="940" r="6.1"/><circle cx="742" cy="904" r="6.1"/><circle cx="650" cy="993" r="6.1"/><circle cx="727" cy="984" r="6.1"/><circle cx="630" cy="956" r="6.1"/><circle cx="755" cy="902" r="6.1"/><circle cx="731" cy="922" r="6.1"/><circle cx="612" cy="964" r="6.1"/><circle cx="732" cy="924" r="6.1"/><circle cx="646" cy="994" r="6.1"/><circle cx="613" cy="1031" r="6.1"/><circle cx="691" cy="1005" r="6.1"/><circle cx="773" cy="907" r="6.1"/><circle cx="801" cy="884" r="6.1"/><circle cx="845" cy="838" r="6.1"/><circle cx="635" cy="1023" r="6.1"/><circle cx="658" cy="1022" r="6.1"/><circle cx="685" cy="949" r="6.1"/><circle cx="754" cy="911" r="6.1"/><circle cx="748" cy="896" r="6.1"/><circle cx="665" cy="958" r="6.1"/><circle cx="675" cy="984" r="6.1"/><circle cx="637" cy="996" r="6.1"/><circle cx="739" cy="948" r="6.1"/><circle cx="669" cy="1031" r="6.1"/><circle cx="733" cy="946" r="6.1"/><circle cx="716" cy="991" r="6.1"/><circle cx="778" cy="899" r="6.1"/><circle cx="634" cy="1022" r="6.1"/><circle cx="712" cy="936" r="6.1"/><circle cx="779" cy="895" r="6.1"/><circle cx="691" cy="938" r="6.1"/><circle cx="730" cy="911" r="6.1"/><circle cx="809" cy="874" r="6.1"/><circle cx="659" cy="982" r="6.1"/><circle cx="723" cy="950" r="6.1"/><circle cx="761" cy="926" r="6.1"/><circle cx="670" cy="1007" r="6.1"/><circle cx="652" cy="1013" r="6.1"/><circle cx="651" cy="986" r="6.1"/><circle cx="775" cy="887" r="6.1"/><circle cx="750" cy="893" r="6.1"/><circle cx="732" cy="956" r="6.1"/><circle cx="794" cy="886" r="6.1"/><circle cx="803" cy="861" r="6.1"/><circle cx="611" cy="1012" r="6.1"/><circle cx="685" cy="953" r="6.1"/><circle cx="658" cy="1015" r="6.1"/><circle cx="757" cy="911" r="6.1"/><circle cx="728" cy="972" r="6.1"/><circle cx="682" cy="965" r="6.1"/><circle cx="663" cy="1043" r="6.1"/><circle cx="740" cy="915" r="6.1"/><circle cx="739" cy="957" r="6.1"/><circle cx="626" cy="995" r="6.1"/><circle cx="793" cy="881" r="6.1"/><circle cx="706" cy="991" r="6.1"/><circle cx="759" cy="880" r="6.1"/><circle cx="871" cy="782" r="6.1"/><circle cx="783" cy="868" r="6.1"/><circle cx="750" cy="870" r="6.1"/><circle cx="667" cy="929" r="6.1"/><circle cx="720" cy="930" r="6.1"/><circle cx="760" cy="920" r="6.1"/><circle cx="723" cy="970" r="6.1"/><circle cx="646" cy="1009" r="6.1"/><circle cx="642" cy="1002" r="6.1"/><circle cx="615" cy="986" r="6.1"/><circle cx="630" cy="1020" r="6.1"/><circle cx="732" cy="958" r="6.1"/><circle cx="794" cy="868" r="6.1"/><circle cx="674" cy="996" r="6.1"/><circle cx="738" cy="950" r="6.1"/><circle cx="726" cy="912" r="6.1"/><circle cx="752" cy="935" r="6.1"/><circle cx="657" cy="1018" r="6.1"/><circle cx="672" cy="964" r="6.1"/><circle cx="725" cy="944" r="6.1"/><circle cx="703" cy="981" r="6.1"/><circle cx="803" cy="876" r="6.1"/><circle cx="606" cy="959" r="6.1"/><circle cx="696" cy="946" r="6.1"/><circle cx="586" cy="983" r="6.1"/><circle cx="643" cy="1017" r="6.1"/><circle cx="709" cy="963" r="6.1"/><circle cx="654" cy="966" r="6.1"/><circle cx="704" cy="1014" r="6.1"/><circle cx="741" cy="940" r="6.1"/><circle cx="774" cy="857" r="6.1"/><circle cx="718" cy="964" r="6.1"/><circle cx="859" cy="807" r="6.1"/><circle cx="665" cy="1041" r="6.1"/><circle cx="662" cy="1065" r="6.1"/><circle cx="651" cy="1024" r="6.1"/><circle cx="751" cy="930" r="6.1"/><circle cx="763" cy="885" r="6.1"/><circle cx="759" cy="894" r="6.1"/><circle cx="782" cy="918" r="6.1"/><circle cx="779" cy="885" r="6.1"/><circle cx="715" cy="967" r="6.1"/><circle cx="764" cy="892" r="6.1"/><circle cx="639" cy="1016" r="6.1"/><circle cx="703" cy="940" r="6.1"/><circle cx="839" cy="842" r="6.1"/><circle cx="718" cy="929" r="6.1"/><circle cx="662" cy="997" r="6.1"/><circle cx="622" cy="994" r="6.1"/><circle cx="650" cy="1013" r="6.1"/><circle cx="816" cy="832" r="6.1"/><circle cx="696" cy="968" r="6.1"/><circle cx="723" cy="924" r="6.1"/><circle cx="800" cy="866" r="6.1"/><circle cx="698" cy="950" r="6.1"/><circle cx="708" cy="959" r="6.1"/><circle cx="720" cy="940" r="6.1"/><circle cx="741" cy="945" r="6.1"/><circle cx="719" cy="981" r="6.1"/><circle cx="654" cy="910" r="6.1"/><circle cx="840" cy="812" r="6.1"/><circle cx="777" cy="898" r="6.1"/><circle cx="714" cy="928" r="6.1"/><circle cx="816" cy="885" r="6.1"/><circle cx="731" cy="980" r="6.1"/><circle cx="745" cy="916" r="6.1"/><circle cx="745" cy="933" r="6.1"/><circle cx="658" cy="993" r="6.1"/><circle cx="641" cy="992" r="6.1"/><circle cx="693" cy="994" r="6.1"/><circle cx="714" cy="920" r="6.1"/><circle cx="642" cy="1008" r="6.1"/><circle cx="718" cy="923" r="6.1"/><circle cx="634" cy="992" r="6.1"/><circle cx="801" cy="875" r="6.1"/><circle cx="692" cy="943" r="6.1"/><circle cx="738" cy="944" r="6.1"/><circle cx="786" cy="904" r="6.1"/><circle cx="704" cy="956" r="6.1"/><circle cx="763" cy="875" r="6.1"/><circle cx="670" cy="953" r="6.1"/><circle cx="814" cy="861" r="6.1"/><circle cx="676" cy="1009" r="6.1"/><circle cx="688" cy="1033" r="6.1"/><circle cx="702" cy="988" r="6.1"/><circle cx="701" cy="1002" r="6.1"/><circle cx="679" cy="1034" r="6.1"/><circle cx="743" cy="923" r="6.1"/><circle cx="668" cy="979" r="6.1"/><circle cx="845" cy="827" r="6.1"/><circle cx="768" cy="909" r="6.1"/><circle cx="680" cy="981" r="6.1"/><circle cx="580" cy="989" r="6.1"/><circle cx="627" cy="997" r="6.1"/><circle cx="666" cy="978" r="6.1"/><circle cx="874" cy="833" r="6.1"/><circle cx="615" cy="958" r="6.1"/><circle cx="632" cy="988" r="6.1"/><circle cx="731" cy="953" r="6.1"/><circle cx="625" cy="982" r="6.1"/><circle cx="693" cy="992" r="6.1"/><circle cx="792" cy="892" r="6.1"/><circle cx="720" cy="954" r="6.1"/><circle cx="707" cy="959" r="6.1"/><circle cx="701" cy="978" r="6.1"/><circle cx="760" cy="932" r="6.1"/><circle cx="735" cy="976" r="6.1"/><circle cx="698" cy="996" r="6.1"/><circle cx="655" cy="1002" r="6.1"/><circle cx="607" cy="1059" r="6.1"/><circle cx="638" cy="998" r="6.1"/><circle cx="699" cy="955" r="6.1"/><circle cx="579" cy="1010" r="6.1"/><circle cx="793" cy="859" r="6.1"/><circle cx="706" cy="926" r="6.1"/><circle cx="815" cy="860" r="6.1"/><circle cx="686" cy="1032" r="6.1"/><circle cx="703" cy="961" r="6.1"/><circle cx="790" cy="870" r="6.1"/><circle cx="735" cy="934" r="6.1"/><circle cx="661" cy="1014" r="6.1"/><circle cx="738" cy="924" r="6.1"/><circle cx="759" cy="899" r="6.1"/><circle cx="656" cy="1068" r="6.1"/><circle cx="703" cy="949" r="6.1"/><circle cx="641" cy="1013" r="6.1"/><circle cx="630" cy="999" r="6.1"/><circle cx="684" cy="968" r="6.1"/><circle cx="798" cy="905" r="6.1"/><circle cx="719" cy="954" r="6.1"/><circle cx="645" cy="935" r="6.1"/><circle cx="707" cy="976" r="6.1"/><circle cx="680" cy="943" r="6.1"/><circle cx="609" cy="990" r="6.1"/><circle cx="670" cy="996" r="6.1"/><circle cx="685" cy="974" r="6.1"/><circle cx="791" cy="887" r="6.1"/><circle cx="666" cy="961" r="6.1"/><circle cx="752" cy="932" r="6.1"/><circle cx="684" cy="961" r="6.1"/><circle cx="637" cy="962" r="6.1"/><circle cx="842" cy="807" r="6.1"/><circle cx="654" cy="1032" r="6.1"/><circle cx="687" cy="959" r="6.1"/><circle cx="665" cy="1020" r="6.1"/><circle cx="768" cy="911" r="6.1"/><circle cx="738" cy="935" r="6.1"/><circle cx="783" cy="870" r="6.1"/><circle cx="661" cy="1015" r="6.1"/><circle cx="721" cy="961" r="6.1"/><circle cx="754" cy="910" r="6.1"/><circle cx="686" cy="959" r="6.1"/><circle cx="655" cy="984" r="6.1"/><circle cx="880" cy="777" r="6.1"/><circle cx="738" cy="937" r="6.1"/><circle cx="662" cy="970" r="6.1"/><circle cx="717" cy="920" r="6.1"/><circle cx="719" cy="924" r="6.1"/><circle cx="738" cy="947" r="6.1"/><circle cx="793" cy="881" r="6.1"/><circle cx="808" cy="868" r="6.1"/><circle cx="690" cy="992" r="6.1"/><circle cx="874" cy="787" r="6.1"/><circle cx="677" cy="961" r="6.1"/><circle cx="645" cy="972" r="6.1"/><circle cx="690" cy="1008" r="6.1"/><circle cx="763" cy="906" r="6.1"/><circle cx="714" cy="954" r="6.1"/><circle cx="606" cy="1040" r="6.1"/><circle cx="687" cy="943" r="6.1"/><circle cx="707" cy="980" r="6.1"/><circle cx="679" cy="1009" r="6.1"/><circle cx="683" cy="982" r="6.1"/><circle cx="693" cy="940" r="6.1"/><circle cx="774" cy="857" r="6.1"/><circle cx="626" cy="999" r="6.1"/><circle cx="688" cy="938" r="6.1"/><circle cx="752" cy="841" r="6.1"/><circle cx="781" cy="896" r="6.1"/><circle cx="620" cy="1031" r="6.1"/><circle cx="747" cy="936" r="6.1"/><circle cx="668" cy="1006" r="6.1"/><circle cx="580" cy="962" r="6.1"/><circle cx="882" cy="815" r="6.1"/><circle cx="840" cy="826" r="6.1"/><circle cx="707" cy="923" r="6.1"/><circle cx="708" cy="939" r="6.1"/><circle cx="731" cy="923" r="6.1"/><circle cx="729" cy="953" r="6.1"/><circle cx="748" cy="933" r="6.1"/><circle cx="798" cy="924" r="6.1"/><circle cx="654" cy="938" r="6.1"/><circle cx="733" cy="906" r="6.1"/><circle cx="760" cy="915" r="6.1"/><circle cx="720" cy="966" r="6.1"/><circle cx="637" cy="981" r="6.1"/><circle cx="691" cy="1000" r="6.1"/><circle cx="787" cy="899" r="6.1"/><circle cx="672" cy="974" r="6.1"/><circle cx="745" cy="913" r="6.1"/><circle cx="700" cy="974" r="6.1"/><circle cx="683" cy="945" r="6.1"/><circle cx="627" cy="1005" r="6.1"/><circle cx="719" cy="981" r="6.1"/><circle cx="730" cy="971" r="6.1"/><circle cx="628" cy="1007" r="6.1"/><circle cx="691" cy="982" r="6.1"/><circle cx="818" cy="853" r="6.1"/><circle cx="692" cy="966" r="6.1"/><circle cx="648" cy="1053" r="6.1"/><circle cx="671" cy="984" r="6.1"/><circle cx="767" cy="897" r="6.1"/><circle cx="712" cy="971" r="6.1"/><circle cx="682" cy="999" r="6.1"/><circle cx="694" cy="962" r="6.1"/><circle cx="873" cy="824" r="6.1"/><circle cx="722" cy="925" r="6.1"/><circle cx="664" cy="975" r="6.1"/><circle cx="708" cy="947" r="6.1"/><circle cx="634" cy="1015" r="6.1"/><circle cx="664" cy="986" r="6.1"/><circle cx="664" cy="997" r="6.1"/><circle cx="671" cy="964" r="6.1"/><circle cx="660" cy="998" r="6.1"/><circle cx="703" cy="976" r="6.1"/><circle cx="968" cy="708" r="6.1"/><circle cx="693" cy="892" r="6.1"/><circle cx="707" cy="941" r="6.1"/><circle cx="798" cy="838" r="6.1"/><circle cx="869" cy="776" r="6.1"/><circle cx="633" cy="984" r="6.1"/><circle cx="710" cy="959" r="6.1"/><circle cx="636" cy="1020" r="6.1"/><circle cx="731" cy="901" r="6.1"/><circle cx="687" cy="975" r="6.1"/><circle cx="645" cy="935" r="6.1"/><circle cx="684" cy="999" r="6.1"/><circle cx="665" cy="971" r="6.1"/><circle cx="625" cy="986" r="6.1"/><circle cx="625" cy="991" r="6.1"/><circle cx="701" cy="949" r="6.1"/><circle cx="687" cy="953" r="6.1"/><circle cx="611" cy="1004" r="6.1"/><circle cx="739" cy="949" r="6.1"/><circle cx="662" cy="968" r="6.1"/><circle cx="729" cy="909" r="6.1"/><circle cx="787" cy="891" r="6.1"/><circle cx="669" cy="945" r="6.1"/><circle cx="702" cy="991" r="6.1"/><circle cx="712" cy="938" r="6.1"/><circle cx="639" cy="965" r="6.1"/><circle cx="723" cy="947" r="6.1"/><circle cx="750" cy="921" r="6.1"/><circle cx="730" cy="934" r="6.1"/><circle cx="759" cy="922" r="6.1"/><circle cx="706" cy="964" r="6.1"/><circle cx="734" cy="925" r="6.1"/><circle cx="661" cy="1030" r="6.1"/><circle cx="730" cy="944" r="6.1"/><circle cx="718" cy="927" r="6.1"/><circle cx="677" cy="952" r="6.1"/><circle cx="699" cy="1035" r="6.1"/><circle cx="691" cy="978" r="6.1"/><circle cx="654" cy="997" r="6.1"/><circle cx="673" cy="985" r="6.1"/><circle cx="656" cy="979" r="6.1"/><circle cx="737" cy="914" r="6.1"/><circle cx="760" cy="912" r="6.1"/><circle cx="666" cy="960" r="6.1"/><circle cx="730" cy="928" r="6.1"/><circle cx="751" cy="900" r="6.1"/><circle cx="716" cy="951" r="6.1"/><circle cx="816" cy="842" r="6.1"/><circle cx="718" cy="948" r="6.1"/><circle cx="733" cy="947" r="6.1"/><circle cx="680" cy="985" r="6.1"/><circle cx="679" cy="974" r="6.1"/><circle cx="631" cy="986" r="6.1"/><circle cx="684" cy="994" r="6.1"/><circle cx="628" cy="983" r="6.1"/><circle cx="767" cy="885" r="6.1"/><circle cx="654" cy="1004" r="6.1"/><circle cx="738" cy="908" r="6.1"/><circle cx="645" cy="935" r="6.1"/><circle cx="696" cy="978" r="6.1"/><circle cx="666" cy="970" r="6.1"/><circle cx="658" cy="1014" r="6.1"/><circle cx="681" cy="951" r="6.1"/><circle cx="709" cy="929" r="6.1"/><circle cx="848" cy="836" r="6.1"/><circle cx="779" cy="838" r="6.1"/><circle cx="701" cy="982" r="6.1"/><circle cx="712" cy="931" r="6.1"/><circle cx="719" cy="943" r="6.1"/><circle cx="745" cy="930" r="6.1"/><circle cx="744" cy="920" r="6.1"/><circle cx="779" cy="911" r="6.1"/><circle cx="685" cy="1011" r="6.1"/><circle cx="656" cy="1054" r="6.1"/><circle cx="710" cy="981" r="6.1"/><circle cx="702" cy="941" r="6.1"/><circle cx="625" cy="1007" r="6.1"/><circle cx="666" cy="989" r="6.1"/><circle cx="797" cy="912" r="6.1"/><circle cx="762" cy="932" r="6.1"/><circle cx="768" cy="882" r="6.1"/><circle cx="822" cy="873" r="6.1"/><circle cx="801" cy="868" r="6.1"/><circle cx="603" cy="1018" r="6.1"/><circle cx="651" cy="977" r="6.1"/><circle cx="784" cy="880" r="6.1"/><circle cx="635" cy="978" r="6.1"/><circle cx="699" cy="988" r="6.1"/><circle cx="676" cy="1028" r="6.1"/><circle cx="630" cy="1009" r="6.1"/><circle cx="790" cy="875" r="6.1"/><circle cx="664" cy="967" r="6.1"/><circle cx="680" cy="1016" r="6.1"/><circle cx="765" cy="930" r="6.1"/><circle cx="713" cy="972" r="6.1"/><circle cx="760" cy="920" r="6.1"/><circle cx="684" cy="938" r="6.1"/><circle cx="691" cy="983" r="6.1"/><circle cx="708" cy="984" r="6.1"/><circle cx="676" cy="1007" r="6.1"/><circle cx="688" cy="1009" r="6.1"/><circle cx="757" cy="932" r="6.1"/><circle cx="689" cy="1001" r="6.1"/><circle cx="702" cy="1004" r="6.1"/><circle cx="661" cy="951" r="6.1"/><circle cx="723" cy="914" r="6.1"/><circle cx="601" cy="980" r="6.1"/><circle cx="589" cy="1015" r="6.1"/><circle cx="676" cy="951" r="6.1"/><circle cx="691" cy="992" r="6.1"/><circle cx="701" cy="970" r="6.1"/><circle cx="634" cy="999" r="6.1"/><circle cx="696" cy="927" r="6.1"/><circle cx="637" cy="993" r="6.1"/><circle cx="795" cy="886" r="6.1"/><circle cx="726" cy="931" r="6.1"/><circle cx="701" cy="926" r="6.1"/><circle cx="679" cy="969" r="6.1"/><circle cx="720" cy="936" r="6.1"/><circle cx="819" cy="849" r="6.1"/><circle cx="736" cy="918" r="6.1"/><circle cx="753" cy="931" r="6.1"/><circle cx="700" cy="936" r="6.1"/><circle cx="685" cy="921" r="6.1"/><circle cx="746" cy="907" r="6.1"/><circle cx="749" cy="892" r="6.1"/><circle cx="871" cy="805" r="6.1"/><circle cx="859" cy="799" r="6.1"/><circle cx="731" cy="993" r="6.1"/><circle cx="741" cy="944" r="6.1"/><circle cx="671" cy="956" r="6.1"/><circle cx="711" cy="993" r="6.1"/><circle cx="710" cy="973" r="6.1"/><circle cx="681" cy="987" r="6.1"/><circle cx="766" cy="902" r="6.1"/><circle cx="772" cy="889" r="6.1"/><circle cx="742" cy="929" r="6.1"/><circle cx="704" cy="950" r="6.1"/><circle cx="708" cy="922" r="6.1"/><circle cx="726" cy="946" r="6.1"/><circle cx="758" cy="899" r="6.1"/><circle cx="766" cy="892" r="6.1"/><circle cx="794" cy="888" r="6.1"/><circle cx="678" cy="979" r="6.1"/><circle cx="798" cy="858" r="6.1"/><circle cx="758" cy="907" r="6.1"/><circle cx="602" cy="996" r="6.1"/><circle cx="705" cy="964" r="6.1"/><circle cx="635" cy="974" r="6.1"/><circle cx="656" cy="1012" r="6.1"/><circle cx="751" cy="899" r="6.1"/><circle cx="733" cy="952" r="6.1"/><circle cx="663" cy="1013" r="6.1"/><circle cx="662" cy="1005" r="6.1"/><circle cx="660" cy="988" r="6.1"/><circle cx="653" cy="968" r="6.1"/><circle cx="708" cy="996" r="6.1"/><circle cx="692" cy="969" r="6.1"/><circle cx="649" cy="991" r="6.1"/><circle cx="735" cy="915" r="6.1"/><circle cx="761" cy="909" r="6.1"/><circle cx="740" cy="943" r="6.1"/><circle cx="693" cy="1012" r="6.1"/><circle cx="661" cy="975" r="6.1"/><circle cx="795" cy="874" r="6.1"/><circle cx="713" cy="946" r="6.1"/><circle cx="666" cy="957" r="6.1"/><circle cx="656" cy="998" r="6.1"/><circle cx="727" cy="924" r="6.1"/><circle cx="792" cy="882" r="6.1"/><circle cx="753" cy="920" r="6.1"/><circle cx="733" cy="965" r="6.1"/><circle cx="777" cy="862" r="6.1"/><circle cx="649" cy="927" r="6.1"/><circle cx="712" cy="953" r="6.1"/><circle cx="722" cy="923" r="6.1"/><circle cx="654" cy="985" r="6.1"/><circle cx="767" cy="942" r="6.1"/><circle cx="661" cy="1010" r="6.1"/><circle cx="613" cy="1010" r="6.1"/><circle cx="769" cy="901" r="6.1"/><circle cx="643" cy="996" r="6.1"/><circle cx="684" cy="990" r="6.1"/><circle cx="724" cy="960" r="6.1"/><circle cx="747" cy="944" r="6.1"/><circle cx="748" cy="903" r="6.1"/><circle cx="674" cy="965" r="6.1"/><circle cx="620" cy="986" r="6.1"/><circle cx="703" cy="924" r="6.1"/><circle cx="732" cy="885" r="6.1"/><circle cx="699" cy="935" r="6.1"/><circle cx="685" cy="975" r="6.1"/><circle cx="667" cy="1027" r="6.1"/><circle cx="697" cy="976" r="6.1"/><circle cx="701" cy="883" r="6.1"/><circle cx="714" cy="943" r="6.1"/><circle cx="628" cy="982" r="6.1"/><circle cx="648" cy="1043" r="6.1"/><circle cx="709" cy="951" r="6.1"/><circle cx="707" cy="986" r="6.1"/><circle cx="691" cy="988" r="6.1"/><circle cx="677" cy="1007" r="6.1"/><circle cx="714" cy="979" r="6.1"/><circle cx="718" cy="949" r="6.1"/><circle cx="633" cy="979" r="6.1"/><circle cx="763" cy="892" r="6.1"/><circle cx="690" cy="1003" r="6.1"/><circle cx="631" cy="1002" r="6.1"/><circle cx="780" cy="865" r="6.1"/><circle cx="673" cy="986" r="6.1"/><circle cx="655" cy="987" r="6.1"/><circle cx="675" cy="975" r="6.1"/><circle cx="674" cy="945" r="6.1"/><circle cx="803" cy="863" r="6.1"/><circle cx="659" cy="1037" r="6.1"/><circle cx="661" cy="955" r="6.1"/><circle cx="767" cy="876" r="6.1"/><circle cx="655" cy="1000" r="6.1"/><circle cx="697" cy="935" r="6.1"/><circle cx="786" cy="885" r="6.1"/><circle cx="777" cy="901" r="6.1"/><circle cx="726" cy="898" r="6.1"/><circle cx="661" cy="1025" r="6.1"/><circle cx="741" cy="966" r="6.1"/><circle cx="782" cy="918" r="6.1"/><circle cx="682" cy="986" r="6.1"/><circle cx="642" cy="1035" r="6.1"/><circle cx="655" cy="979" r="6.1"/><circle cx="664" cy="1031" r="6.1"/><circle cx="738" cy="922" r="6.1"/><circle cx="797" cy="882" r="6.1"/><circle cx="734" cy="940" r="6.1"/><circle cx="628" cy="979" r="6.1"/><circle cx="762" cy="931" r="6.1"/><circle cx="717" cy="970" r="6.1"/><circle cx="723" cy="928" r="6.1"/><circle cx="853" cy="785" r="6.1"/><circle cx="678" cy="996" r="6.1"/><circle cx="692" cy="929" r="6.1"/><circle cx="766" cy="912" r="6.1"/><circle cx="796" cy="880" r="6.1"/><circle cx="758" cy="927" r="6.1"/><circle cx="814" cy="853" r="6.1"/><circle cx="663" cy="966" r="6.1"/><circle cx="811" cy="879" r="6.1"/><circle cx="778" cy="880" r="6.1"/><circle cx="732" cy="961" r="6.1"/><circle cx="746" cy="904" r="6.1"/><circle cx="657" cy="1019" r="6.1"/><circle cx="733" cy="909" r="6.1"/><circle cx="766" cy="891" r="6.1"/><circle cx="634" cy="1025" r="6.1"/><circle cx="755" cy="927" r="6.1"/><circle cx="719" cy="941" r="6.1"/><circle cx="640" cy="994" r="6.1"/><circle cx="712" cy="994" r="6.1"/><circle cx="681" cy="990" r="6.1"/><circle cx="688" cy="974" r="6.1"/><circle cx="662" cy="999" r="6.1"/><circle cx="729" cy="910" r="6.1"/><circle cx="717" cy="981" r="6.1"/><circle cx="727" cy="975" r="6.1"/><circle cx="711" cy="962" r="6.1"/><circle cx="774" cy="929" r="6.1"/><circle cx="648" cy="973" r="6.1"/><circle cx="669" cy="1003" r="6.1"/><circle cx="712" cy="949" r="6.1"/><circle cx="785" cy="882" r="6.1"/><circle cx="691" cy="945" r="6.1"/><circle cx="695" cy="958" r="6.1"/><circle cx="707" cy="924" r="6.1"/><circle cx="752" cy="920" r="6.1"/><circle cx="725" cy="933" r="6.1"/><circle cx="686" cy="938" r="6.1"/><circle cx="626" cy="1009" r="6.1"/><circle cx="756" cy="929" r="6.1"/><circle cx="807" cy="890" r="6.1"/><circle cx="595" cy="1003" r="6.1"/><circle cx="630" cy="1040" r="6.1"/><circle cx="674" cy="964" r="6.1"/><circle cx="724" cy="975" r="6.1"/><circle cx="661" cy="1016" r="6.1"/><circle cx="735" cy="934" r="6.1"/><circle cx="768" cy="907" r="6.1"/><circle cx="774" cy="893" r="6.1"/><circle cx="743" cy="899" r="6.1"/><circle cx="703" cy="963" r="6.1"/><circle cx="832" cy="821" r="6.1"/><circle cx="750" cy="954" r="6.1"/><circle cx="704" cy="932" r="6.1"/><circle cx="636" cy="968" r="6.1"/><circle cx="650" cy="1017" r="6.1"/><circle cx="696" cy="926" r="6.1"/><circle cx="659" cy="971" r="6.1"/><circle cx="697" cy="934" r="6.1"/><circle cx="635" cy="1008" r="6.1"/><circle cx="682" cy="963" r="6.1"/><circle cx="715" cy="919" r="6.1"/><circle cx="856" cy="821" r="6.1"/><circle cx="639" cy="985" r="6.1"/><circle cx="904" cy="764" r="6.1"/><circle cx="631" cy="926" r="6.1"/><circle cx="726" cy="953" r="6.1"/><circle cx="622" cy="1042" r="6.1"/><circle cx="749" cy="910" r="6.1"/><circle cx="679" cy="958" r="6.1"/><circle cx="757" cy="892" r="6.1"/><circle cx="709" cy="934" r="6.1"/><circle cx="727" cy="938" r="6.1"/><circle cx="778" cy="890" r="6.1"/><circle cx="701" cy="937" r="6.1"/><circle cx="734" cy="930" r="6.1"/><circle cx="709" cy="922" r="6.1"/><circle cx="759" cy="919" r="6.1"/><circle cx="809" cy="855" r="6.1"/><circle cx="690" cy="985" r="6.1"/><circle cx="702" cy="920" r="6.1"/><circle cx="746" cy="917" r="6.1"/><circle cx="758" cy="887" r="6.1"/><circle cx="641" cy="995" r="6.1"/><circle cx="748" cy="938" r="6.1"/><circle cx="635" cy="974" r="6.1"/>
</g>
<path d="M576.8 993.0 L580.1 993.0 L583.4 993.1 L586.7 993.3 L590.0 993.5 L593.2 993.7 L596.5 993.9 L599.8 994.2 L603.1 994.4 L606.4 994.6 L609.7 994.7 L613.0 994.8 L616.2 994.8 L619.5 994.7 L622.8 994.6 L626.1 994.3 L629.4 994.0 L632.7 993.6 L636.0 993.1 L639.3 992.4 L642.5 991.6 L645.8 990.7 L649.1 989.7 L652.4 988.5 L655.7 987.2 L659.0 985.7 L662.3 984.0 L665.5 982.3 L668.8 980.4 L672.1 978.3 L675.4 976.2 L678.7 973.9 L682.0 971.6 L685.3 969.1 L688.5 966.6 L691.8 964.1 L695.1 961.6 L698.4 959.1 L701.7 956.6 L705.0 954.2 L708.3 951.8 L711.6 949.4 L714.8 947.0 L718.1 944.7 L721.4 942.3 L724.7 939.9 L728.0 937.4 L731.3 934.9 L734.6 932.4 L737.8 929.8 L741.1 927.1 L744.4 924.3 L747.7 921.5 L751.0 918.6 L754.3 915.6 L757.6 912.6 L760.9 909.4 L764.1 906.2 L767.4 902.9 L770.7 899.6 L774.0 896.2 L777.3 892.9 L780.6 889.6 L783.9 886.3 L787.1 883.0 L790.4 879.7 L793.7 876.4 L797.0 873.1 L800.3 869.7 L803.6 866.4 L806.9 863.2 L810.1 860.0 L813.4 856.9 L816.7 853.8 L820.0 850.8 L823.3 847.8 L826.6 844.8 L829.9 841.8 L833.2 838.9 L836.4 835.9 L839.7 832.9 L843.0 830.0 L846.3 827.0 L849.6 824.0 L852.9 821.1 L856.2 818.1 L859.4 815.2 L862.7 812.2 L866.0 809.3 L869.3 806.3 L872.6 803.4 L875.9 800.4 L879.2 797.4 L882.5 794.4 L885.7 791.3 L889.0 788.2 L892.3 785.2 L895.6 782.1 L898.9 779.1 L902.2 776.0 L905.5 773.1 L908.7 770.1 L912.0 767.2 L915.3 764.2 L918.6 761.2 L921.9 758.1 L925.2 755.0 L928.5 751.8 L931.7 748.7 L935.0 745.5 L938.3 742.3 L941.6 739.2 L944.9 736.1 L948.2 732.9 L951.5 729.8 L954.8 726.6 L958.0 723.5 L961.3 720.4 L964.6 717.3 L967.9 714.2" stroke="#3366ff" stroke-width="5.8" fill="none" stroke-linecap="butt"/>
</g>
<rect x="567" y="598" width="411.2" height="54.7" fill="#fff" stroke="#000" stroke-width="3.2"/>
<text x="771.6" y="637.1" font-size="31.5" fill="#1a1a1a" text-anchor="middle" textLength="243.8" lengthAdjust="spacingAndGlyphs">Smakhtin - class A</text>
<g clip-path="url(#c5)">
<path d="M1089.3 652.7V1170.9M1193 652.7V1170.9M1296.7 652.7V1170.9M1400.4 652.7V1170.9M998.2 1028.3H1412.2M998.2 873.3H1412.2M998.2 718.3H1412.2" stroke="#ebebeb" stroke-width="2.2" fill="none"/>
<path d="M946.4 1119.1 L1464.1 603.2 L1464.1 706.5 L946.4 1222.4Z" fill="#ccf2f3"/>
<path d="M946.4 1170.8L1464.1 654.9" stroke="#000" stroke-opacity="0.6" stroke-width="2.3"/>
<path d="M1009.6 994.8 L1012.9 995.1 L1016.2 995.3 L1019.5 995.5 L1022.8 995.8 L1026.1 996.0 L1029.4 996.3 L1032.7 996.6 L1036.0 996.9 L1039.3 997.2 L1042.6 997.4 L1045.9 997.5 L1049.1 997.6 L1052.4 997.7 L1055.7 997.7 L1059.0 997.6 L1062.3 997.4 L1065.6 997.1 L1068.9 996.6 L1072.2 996.1 L1075.5 995.4 L1078.8 994.5 L1082.1 993.5 L1085.4 992.4 L1088.7 991.1 L1092.0 989.7 L1095.3 988.1 L1098.6 986.4 L1101.9 984.6 L1105.2 982.6 L1108.5 980.6 L1111.7 978.5 L1115.0 976.3 L1118.3 974.0 L1121.6 971.7 L1124.9 969.3 L1128.2 966.9 L1131.5 964.5 L1134.8 962.1 L1138.1 959.7 L1141.4 957.3 L1144.7 955.0 L1148.0 952.6 L1151.3 950.3 L1154.6 947.9 L1157.9 945.5 L1161.2 943.1 L1164.5 940.7 L1167.8 938.3 L1171.1 935.8 L1174.4 933.3 L1177.6 930.7 L1180.9 928.2 L1184.2 925.5 L1187.5 922.8 L1190.8 920.1 L1194.1 917.2 L1197.4 914.2 L1200.7 911.1 L1204.0 908.0 L1207.3 904.6 L1210.6 901.2 L1213.9 897.7 L1217.2 894.2 L1220.5 890.6 L1223.8 887.0 L1227.1 883.6 L1230.4 880.2 L1233.7 876.8 L1237.0 873.6 L1240.2 870.4 L1243.5 867.3 L1246.8 864.3 L1250.1 861.2 L1253.4 858.2 L1256.7 855.1 L1260.0 852.1 L1263.3 849.0 L1266.6 845.9 L1269.9 842.9 L1273.2 839.6 L1276.5 836.2 L1279.8 832.9 L1283.1 829.5 L1286.4 826.1 L1289.7 822.7 L1293.0 819.3 L1296.3 815.9 L1299.6 812.3 L1302.9 808.7 L1306.1 805.1 L1309.4 801.5 L1312.7 797.9 L1316.0 794.3 L1319.3 790.7 L1322.6 787.2 L1325.9 783.4 L1329.2 779.7 L1332.5 776.0 L1335.8 772.4 L1339.1 768.9 L1342.4 765.4 L1345.7 761.9 L1349.0 758.4 L1352.3 754.8 L1355.6 751.2 L1358.9 747.4 L1362.2 743.6 L1365.5 739.7 L1368.8 735.8 L1372.0 731.8 L1375.3 727.7 L1378.6 723.7 L1381.9 719.6 L1385.2 715.6 L1388.5 711.5 L1391.8 707.5 L1395.1 703.5 L1398.4 699.6 L1401.7 695.7 L1401.7 749.7 L1398.4 752.0 L1395.1 754.5 L1391.8 756.9 L1388.5 759.4 L1385.2 761.9 L1381.9 764.4 L1378.6 767.0 L1375.3 769.5 L1372.0 772.0 L1368.8 774.4 L1365.5 776.8 L1362.2 779.1 L1358.9 781.3 L1355.6 783.5 L1352.3 785.6 L1349.0 787.6 L1345.7 789.6 L1342.4 791.6 L1339.1 793.7 L1335.8 795.8 L1332.5 797.9 L1329.2 800.2 L1325.9 802.4 L1322.6 804.7 L1319.3 807.3 L1316.0 809.8 L1312.7 812.3 L1309.4 814.8 L1306.1 817.4 L1302.9 819.9 L1299.6 822.5 L1296.3 825.1 L1293.0 827.9 L1289.7 830.6 L1286.4 833.4 L1283.1 836.1 L1279.8 838.8 L1276.5 841.5 L1273.2 844.2 L1269.9 847.0 L1266.6 850.1 L1263.3 853.1 L1260.0 856.2 L1256.7 859.3 L1253.4 862.3 L1250.1 865.3 L1246.8 868.4 L1243.5 871.5 L1240.2 874.6 L1237.0 877.7 L1233.7 881.0 L1230.4 884.3 L1227.1 887.7 L1223.8 891.2 L1220.5 894.7 L1217.2 898.3 L1213.9 901.8 L1210.6 905.4 L1207.3 908.8 L1204.0 912.1 L1200.7 915.3 L1197.4 918.4 L1194.1 921.3 L1190.8 924.2 L1187.5 927.0 L1184.2 929.7 L1180.9 932.3 L1177.6 934.9 L1174.4 937.4 L1171.1 939.9 L1167.8 942.4 L1164.5 944.9 L1161.2 947.3 L1157.9 949.7 L1154.6 952.0 L1151.3 954.4 L1148.0 956.8 L1144.7 959.1 L1141.4 961.5 L1138.1 963.8 L1134.8 966.2 L1131.5 968.6 L1128.2 971.0 L1124.9 973.4 L1121.6 975.8 L1118.3 978.1 L1115.0 980.4 L1111.7 982.6 L1108.5 984.7 L1105.2 986.8 L1101.9 988.7 L1098.6 990.5 L1095.3 992.2 L1092.0 993.8 L1088.7 995.3 L1085.4 996.7 L1082.1 997.9 L1078.8 999.1 L1075.5 1000.0 L1072.2 1000.9 L1068.9 1001.6 L1065.6 1002.2 L1062.3 1002.7 L1059.0 1003.1 L1055.7 1003.4 L1052.4 1003.7 L1049.1 1003.9 L1045.9 1004.1 L1042.6 1004.2 L1039.3 1004.3 L1036.0 1004.4 L1032.7 1004.5 L1029.4 1004.6 L1026.1 1004.8 L1022.8 1005.0 L1019.5 1005.1 L1016.2 1005.3 L1012.9 1005.5 L1009.6 1005.8Z" fill="#999" fill-opacity="0.4"/>
<g class="pts" fill="#000" fill-opacity="0.4" stroke="#000" stroke-opacity="0.4" stroke-width="1.5">
<circle cx="1163" cy="940" r="6.1"/><circle cx="1110" cy="981" r="6.1"/><circle cx="1099" cy="985" r="6.1"/><circle cx="1174" cy="955" r="6.1"/><circle cx="1064" cy="932" r="6.1"/><circle cx="1126" cy="947" r="6.1"/><circle cx="1126" cy="1025" r="6.1"/><circle cx="1135" cy="999" r="6.1"/><circle cx="1168" cy="924" r="6.1"/><circle cx="1170" cy="923" r="6.1"/><circle cx="1162" cy="982" r="6.1"/><circle cx="1096" cy="1050" r="6.1"/><circle cx="1157" cy="970" r="6.1"/><circle cx="1133" cy="972" r="6.1"/><circle cx="1132" cy="942" r="6.1"/><circle cx="1171" cy="917" r="6.1"/><circle cx="1134" cy="934" r="6.1"/><circle cx="1148" cy="1003" r="6.1"/><circle cx="1098" cy="1030" r="6.1"/><circle cx="1107" cy="933" r="6.1"/><circle cx="1117" cy="1009" r="6.1"/><circle cx="1158" cy="960" r="6.1"/><circle cx="1234" cy="878" r="6.1"/><circle cx="1059" cy="1005" r="6.1"/><circle cx="1337" cy="772" r="6.1"/><circle cx="1090" cy="1028" r="6.1"/><circle cx="1081" cy="979" r="6.1"/><circle cx="1104" cy="962" r="6.1"/><circle cx="1206" cy="868" r="6.1"/><circle cx="1160" cy="901" r="6.1"/><circle cx="1062" cy="938" r="6.1"/><circle cx="1142" cy="966" r="6.1"/><circle cx="1129" cy="935" r="6.1"/><circle cx="1126" cy="980" r="6.1"/><circle cx="1013" cy="997" r="6.1"/><circle cx="1108" cy="1017" r="6.1"/><circle cx="1120" cy="951" r="6.1"/><circle cx="1118" cy="903" r="6.1"/><circle cx="1120" cy="981" r="6.1"/><circle cx="1214" cy="926" r="6.1"/><circle cx="1135" cy="957" r="6.1"/><circle cx="1173" cy="936" r="6.1"/><circle cx="1192" cy="904" r="6.1"/><circle cx="1146" cy="951" r="6.1"/><circle cx="1163" cy="919" r="6.1"/><circle cx="1192" cy="926" r="6.1"/><circle cx="1090" cy="1007" r="6.1"/><circle cx="1193" cy="930" r="6.1"/><circle cx="1183" cy="930" r="6.1"/><circle cx="1304" cy="789" r="6.1"/><circle cx="1139" cy="990" r="6.1"/><circle cx="1099" cy="966" r="6.1"/><circle cx="1179" cy="949" r="6.1"/><circle cx="1113" cy="988" r="6.1"/><circle cx="1121" cy="939" r="6.1"/><circle cx="1092" cy="1017" r="6.1"/><circle cx="1074" cy="980" r="6.1"/><circle cx="1088" cy="991" r="6.1"/><circle cx="1158" cy="963" r="6.1"/><circle cx="1164" cy="965" r="6.1"/><circle cx="1182" cy="901" r="6.1"/><circle cx="1123" cy="1019" r="6.1"/><circle cx="1093" cy="1041" r="6.1"/><circle cx="1094" cy="1010" r="6.1"/><circle cx="1116" cy="952" r="6.1"/><circle cx="1187" cy="919" r="6.1"/><circle cx="1151" cy="931" r="6.1"/><circle cx="1128" cy="1000" r="6.1"/><circle cx="1045" cy="1018" r="6.1"/><circle cx="1124" cy="978" r="6.1"/><circle cx="1160" cy="986" r="6.1"/><circle cx="1111" cy="940" r="6.1"/><circle cx="1196" cy="895" r="6.1"/><circle cx="1114" cy="995" r="6.1"/><circle cx="1098" cy="1012" r="6.1"/><circle cx="1212" cy="906" r="6.1"/><circle cx="1166" cy="918" r="6.1"/><circle cx="1145" cy="946" r="6.1"/><circle cx="1208" cy="898" r="6.1"/><circle cx="1275" cy="814" r="6.1"/><circle cx="1100" cy="992" r="6.1"/><circle cx="1193" cy="930" r="6.1"/><circle cx="1091" cy="1002" r="6.1"/><circle cx="1058" cy="1001" r="6.1"/><circle cx="1124" cy="998" r="6.1"/><circle cx="1240" cy="903" r="6.1"/><circle cx="1281" cy="827" r="6.1"/><circle cx="1165" cy="968" r="6.1"/><circle cx="1103" cy="1016" r="6.1"/><circle cx="1143" cy="978" r="6.1"/><circle cx="1033" cy="997" r="6.1"/><circle cx="1168" cy="942" r="6.1"/><circle cx="1198" cy="942" r="6.1"/><circle cx="1231" cy="917" r="6.1"/><circle cx="1168" cy="979" r="6.1"/><circle cx="1145" cy="951" r="6.1"/><circle cx="1217" cy="890" r="6.1"/><circle cx="1127" cy="959" r="6.1"/><circle cx="1102" cy="1010" r="6.1"/><circle cx="1044" cy="1020" r="6.1"/><circle cx="1116" cy="1017" r="6.1"/><circle cx="1093" cy="998" r="6.1"/><circle cx="1102" cy="998" r="6.1"/><circle cx="1108" cy="965" r="6.1"/><circle cx="1159" cy="920" r="6.1"/><circle cx="1085" cy="1021" r="6.1"/><circle cx="1154" cy="980" r="6.1"/><circle cx="1173" cy="914" r="6.1"/><circle cx="1149" cy="921" r="6.1"/><circle cx="1039" cy="965" r="6.1"/><circle cx="1151" cy="982" r="6.1"/><circle cx="1191" cy="917" r="6.1"/><circle cx="1201" cy="915" r="6.1"/><circle cx="1147" cy="970" r="6.1"/><circle cx="1162" cy="923" r="6.1"/><circle cx="1114" cy="979" r="6.1"/><circle cx="1110" cy="981" r="6.1"/><circle cx="1132" cy="952" r="6.1"/><circle cx="1123" cy="967" r="6.1"/><circle cx="1151" cy="974" r="6.1"/><circle cx="1124" cy="1002" r="6.1"/><circle cx="1248" cy="898" r="6.1"/><circle cx="1230" cy="896" r="6.1"/><circle cx="1087" cy="1011" r="6.1"/><circle cx="1174" cy="950" r="6.1"/><circle cx="1155" cy="970" r="6.1"/><circle cx="1157" cy="945" r="6.1"/><circle cx="1171" cy="948" r="6.1"/><circle cx="1120" cy="946" r="6.1"/><circle cx="1130" cy="983" r="6.1"/><circle cx="1118" cy="956" r="6.1"/><circle cx="1042" cy="1000" r="6.1"/><circle cx="1065" cy="994" r="6.1"/><circle cx="1100" cy="998" r="6.1"/><circle cx="1249" cy="851" r="6.1"/><circle cx="1156" cy="938" r="6.1"/><circle cx="1144" cy="1005" r="6.1"/><circle cx="1070" cy="999" r="6.1"/><circle cx="1118" cy="954" r="6.1"/><circle cx="1192" cy="933" r="6.1"/><circle cx="1141" cy="942" r="6.1"/><circle cx="1181" cy="906" r="6.1"/><circle cx="1124" cy="1016" r="6.1"/><circle cx="1118" cy="982" r="6.1"/><circle cx="1207" cy="941" r="6.1"/><circle cx="1166" cy="938" r="6.1"/><circle cx="1191" cy="897" r="6.1"/><circle cx="1098" cy="1053" r="6.1"/><circle cx="1100" cy="1040" r="6.1"/><circle cx="1044" cy="1011" r="6.1"/><circle cx="1115" cy="970" r="6.1"/><circle cx="1220" cy="910" r="6.1"/><circle cx="1222" cy="880" r="6.1"/><circle cx="1048" cy="964" r="6.1"/><circle cx="1091" cy="1024" r="6.1"/><circle cx="1054" cy="1000" r="6.1"/><circle cx="1099" cy="964" r="6.1"/><circle cx="1159" cy="985" r="6.1"/><circle cx="1171" cy="932" r="6.1"/><circle cx="1118" cy="1022" r="6.1"/><circle cx="1200" cy="954" r="6.1"/><circle cx="1151" cy="978" r="6.1"/><circle cx="1199" cy="913" r="6.1"/><circle cx="1078" cy="941" r="6.1"/><circle cx="1134" cy="1014" r="6.1"/><circle cx="1078" cy="979" r="6.1"/><circle cx="1149" cy="963" r="6.1"/><circle cx="1109" cy="958" r="6.1"/><circle cx="1105" cy="1006" r="6.1"/><circle cx="1160" cy="932" r="6.1"/><circle cx="1079" cy="1000" r="6.1"/><circle cx="1096" cy="987" r="6.1"/><circle cx="1230" cy="892" r="6.1"/><circle cx="1165" cy="893" r="6.1"/><circle cx="1166" cy="956" r="6.1"/><circle cx="1188" cy="911" r="6.1"/><circle cx="1251" cy="863" r="6.1"/><circle cx="1223" cy="885" r="6.1"/><circle cx="1307" cy="845" r="6.1"/><circle cx="1094" cy="1025" r="6.1"/><circle cx="1184" cy="909" r="6.1"/><circle cx="1072" cy="1025" r="6.1"/><circle cx="1122" cy="1015" r="6.1"/><circle cx="1166" cy="953" r="6.1"/><circle cx="1125" cy="969" r="6.1"/><circle cx="1130" cy="942" r="6.1"/><circle cx="1013" cy="969" r="6.1"/><circle cx="1082" cy="933" r="6.1"/><circle cx="1187" cy="947" r="6.1"/><circle cx="1129" cy="958" r="6.1"/><circle cx="1123" cy="973" r="6.1"/><circle cx="1236" cy="873" r="6.1"/><circle cx="1074" cy="998" r="6.1"/><circle cx="1058" cy="997" r="6.1"/><circle cx="1022" cy="1024" r="6.1"/><circle cx="1129" cy="992" r="6.1"/><circle cx="1082" cy="999" r="6.1"/><circle cx="1116" cy="1002" r="6.1"/><circle cx="1083" cy="998" r="6.1"/><circle cx="1111" cy="976" r="6.1"/><circle cx="1128" cy="988" r="6.1"/><circle cx="1151" cy="967" r="6.1"/><circle cx="1194" cy="937" r="6.1"/><circle cx="1192" cy="890" r="6.1"/><circle cx="1228" cy="884" r="6.1"/><circle cx="1216" cy="880" r="6.1"/><circle cx="1135" cy="928" r="6.1"/><circle cx="1136" cy="972" r="6.1"/><circle cx="1215" cy="930" r="6.1"/><circle cx="1211" cy="910" r="6.1"/><circle cx="1236" cy="870" r="6.1"/><circle cx="1108" cy="990" r="6.1"/><circle cx="1134" cy="988" r="6.1"/><circle cx="1053" cy="1040" r="6.1"/><circle cx="1173" cy="929" r="6.1"/><circle cx="1265" cy="829" r="6.1"/><circle cx="1156" cy="995" r="6.1"/><circle cx="1224" cy="870" r="6.1"/><circle cx="1100" cy="1025" r="6.1"/><circle cx="1159" cy="931" r="6.1"/><circle cx="1148" cy="934" r="6.1"/><circle cx="1150" cy="992" r="6.1"/><circle cx="1152" cy="992" r="6.1"/><circle cx="1140" cy="931" r="6.1"/><circle cx="1401" cy="717" r="6.1"/><circle cx="1124" cy="993" r="6.1"/><circle cx="1115" cy="995" r="6.1"/><circle cx="1137" cy="978" r="6.1"/><circle cx="1116" cy="991" r="6.1"/><circle cx="1114" cy="1009" r="6.1"/><circle cx="1121" cy="990" r="6.1"/><circle cx="1213" cy="907" r="6.1"/><circle cx="1192" cy="933" r="6.1"/><circle cx="1131" cy="1000" r="6.1"/><circle cx="1064" cy="1009" r="6.1"/><circle cx="1062" cy="962" r="6.1"/><circle cx="1096" cy="1012" r="6.1"/><circle cx="1179" cy="954" r="6.1"/><circle cx="1150" cy="940" r="6.1"/><circle cx="1130" cy="959" r="6.1"/><circle cx="1107" cy="951" r="6.1"/><circle cx="1129" cy="943" r="6.1"/><circle cx="1122" cy="972" r="6.1"/><circle cx="1115" cy="1008" r="6.1"/><circle cx="1120" cy="963" r="6.1"/><circle cx="1041" cy="996" r="6.1"/><circle cx="1224" cy="898" r="6.1"/><circle cx="1157" cy="953" r="6.1"/><circle cx="1113" cy="1049" r="6.1"/><circle cx="1192" cy="930" r="6.1"/><circle cx="1139" cy="1003" r="6.1"/><circle cx="1091" cy="977" r="6.1"/><circle cx="1036" cy="1027" r="6.1"/><circle cx="1174" cy="917" r="6.1"/><circle cx="1213" cy="875" r="6.1"/><circle cx="1163" cy="976" r="6.1"/><circle cx="1126" cy="979" r="6.1"/><circle cx="1307" cy="794" r="6.1"/><circle cx="1242" cy="872" r="6.1"/><circle cx="1163" cy="1005" r="6.1"/><circle cx="1166" cy="915" r="6.1"/><circle cx="1062" cy="994" r="6.1"/><circle cx="1245" cy="878" r="6.1"/><circle cx="1101" cy="1008" r="6.1"/><circle cx="1129" cy="966" r="6.1"/><circle cx="1183" cy="908" r="6.1"/><circle cx="1171" cy="951" r="6.1"/><circle cx="1110" cy="958" r="6.1"/><circle cx="1094" cy="989" r="6.1"/><circle cx="1147" cy="927" r="6.1"/><circle cx="1081" cy="1025" r="6.1"/><circle cx="1095" cy="976" r="6.1"/><circle cx="1120" cy="960" r="6.1"/><circle cx="1168" cy="987" r="6.1"/><circle cx="1069" cy="987" r="6.1"/><circle cx="1179" cy="910" r="6.1"/><circle cx="1144" cy="939" r="6.1"/><circle cx="1106" cy="1020" r="6.1"/><circle cx="1306" cy="834" r="6.1"/><circle cx="1140" cy="949" r="6.1"/><circle cx="1233" cy="885" r="6.1"/><circle cx="1149" cy="989" r="6.1"/><circle cx="1142" cy="930" r="6.1"/><circle cx="1224" cy="902" r="6.1"/><circle cx="1180" cy="980" r="6.1"/><circle cx="1125" cy="962" r="6.1"/><circle cx="1208" cy="943" r="6.1"/><circle cx="1179" cy="946" r="6.1"/><circle cx="1081" cy="1005" r="6.1"/><circle cx="1142" cy="963" r="6.1"/><circle cx="1152" cy="951" r="6.1"/><circle cx="1131" cy="1050" r="6.1"/><circle cx="1162" cy="917" r="6.1"/><circle cx="1181" cy="948" r="6.1"/><circle cx="1136" cy="945" r="6.1"/><circle cx="1074" cy="1001" r="6.1"/><circle cx="1086" cy="991" r="6.1"/><circle cx="1198" cy="898" r="6.1"/><circle cx="1193" cy="939" r="6.1"/><circle cx="1296" cy="828" r="6.1"/><circle cx="1082" cy="997" r="6.1"/><circle cx="1183" cy="946" r="6.1"/><circle cx="1125" cy="974" r="6.1"/><circle cx="1157" cy="952" r="6.1"/><circle cx="1172" cy="958" r="6.1"/><circle cx="1227" cy="877" r="6.1"/><circle cx="1121" cy="1020" r="6.1"/><circle cx="1231" cy="846" r="6.1"/><circle cx="1053" cy="992" r="6.1"/><circle cx="1060" cy="1003" r="6.1"/><circle cx="1109" cy="1006" r="6.1"/><circle cx="1163" cy="942" r="6.1"/><circle cx="1157" cy="948" r="6.1"/><circle cx="1110" cy="1017" r="6.1"/><circle cx="1210" cy="909" r="6.1"/><circle cx="1210" cy="872" r="6.1"/><circle cx="1095" cy="974" r="6.1"/><circle cx="1163" cy="956" r="6.1"/><circle cx="1135" cy="954" r="6.1"/><circle cx="1205" cy="895" r="6.1"/><circle cx="1089" cy="1082" r="6.1"/><circle cx="1120" cy="966" r="6.1"/><circle cx="1121" cy="949" r="6.1"/><circle cx="1072" cy="1021" r="6.1"/><circle cx="1165" cy="971" r="6.1"/><circle cx="1061" cy="1014" r="6.1"/><circle cx="1120" cy="1008" r="6.1"/><circle cx="1046" cy="1040" r="6.1"/><circle cx="1095" cy="997" r="6.1"/><circle cx="1166" cy="975" r="6.1"/><circle cx="1103" cy="959" r="6.1"/><circle cx="1190" cy="942" r="6.1"/><circle cx="1176" cy="972" r="6.1"/><circle cx="1113" cy="1013" r="6.1"/><circle cx="1142" cy="983" r="6.1"/><circle cx="1242" cy="885" r="6.1"/><circle cx="1119" cy="969" r="6.1"/><circle cx="1081" cy="1012" r="6.1"/><circle cx="1194" cy="943" r="6.1"/><circle cx="1074" cy="1021" r="6.1"/><circle cx="1190" cy="939" r="6.1"/><circle cx="1136" cy="991" r="6.1"/><circle cx="1179" cy="913" r="6.1"/><circle cx="1102" cy="1028" r="6.1"/><circle cx="1191" cy="909" r="6.1"/><circle cx="1147" cy="962" r="6.1"/><circle cx="1102" cy="1006" r="6.1"/><circle cx="1088" cy="1009" r="6.1"/><circle cx="1136" cy="940" r="6.1"/><circle cx="1028" cy="1011" r="6.1"/><circle cx="1165" cy="926" r="6.1"/><circle cx="1143" cy="968" r="6.1"/><circle cx="1155" cy="980" r="6.1"/><circle cx="1139" cy="963" r="6.1"/><circle cx="1122" cy="1012" r="6.1"/><circle cx="1107" cy="970" r="6.1"/><circle cx="1148" cy="942" r="6.1"/><circle cx="1091" cy="1032" r="6.1"/><circle cx="1143" cy="938" r="6.1"/><circle cx="1128" cy="953" r="6.1"/><circle cx="1058" cy="992" r="6.1"/><circle cx="1191" cy="954" r="6.1"/><circle cx="1039" cy="1050" r="6.1"/><circle cx="1182" cy="919" r="6.1"/><circle cx="1155" cy="939" r="6.1"/><circle cx="1055" cy="1020" r="6.1"/><circle cx="1040" cy="1072" r="6.1"/><circle cx="1107" cy="1028" r="6.1"/><circle cx="1124" cy="980" r="6.1"/><circle cx="1205" cy="881" r="6.1"/><circle cx="1200" cy="918" r="6.1"/><circle cx="1185" cy="926" r="6.1"/><circle cx="1138" cy="943" r="6.1"/><circle cx="1241" cy="878" r="6.1"/><circle cx="1131" cy="978" r="6.1"/><circle cx="1185" cy="850" r="6.1"/><circle cx="1166" cy="946" r="6.1"/><circle cx="1193" cy="925" r="6.1"/><circle cx="1135" cy="1017" r="6.1"/><circle cx="1260" cy="833" r="6.1"/><circle cx="1061" cy="985" r="6.1"/><circle cx="1105" cy="981" r="6.1"/><circle cx="1200" cy="896" r="6.1"/><circle cx="1076" cy="1026" r="6.1"/><circle cx="1199" cy="902" r="6.1"/><circle cx="1141" cy="1009" r="6.1"/><circle cx="1140" cy="932" r="6.1"/><circle cx="1087" cy="944" r="6.1"/><circle cx="1012" cy="1020" r="6.1"/><circle cx="1219" cy="895" r="6.1"/><circle cx="1134" cy="962" r="6.1"/><circle cx="1081" cy="1054" r="6.1"/><circle cx="1164" cy="909" r="6.1"/><circle cx="1111" cy="1046" r="6.1"/><circle cx="1196" cy="902" r="6.1"/><circle cx="1136" cy="1028" r="6.1"/><circle cx="1097" cy="1042" r="6.1"/><circle cx="1229" cy="890" r="6.1"/><circle cx="1146" cy="982" r="6.1"/><circle cx="1118" cy="998" r="6.1"/><circle cx="1159" cy="906" r="6.1"/><circle cx="1072" cy="991" r="6.1"/><circle cx="1219" cy="916" r="6.1"/><circle cx="1226" cy="867" r="6.1"/><circle cx="1212" cy="895" r="6.1"/><circle cx="1068" cy="1032" r="6.1"/><circle cx="1174" cy="977" r="6.1"/><circle cx="1214" cy="905" r="6.1"/><circle cx="1189" cy="902" r="6.1"/><circle cx="1090" cy="980" r="6.1"/><circle cx="1255" cy="856" r="6.1"/><circle cx="1141" cy="995" r="6.1"/><circle cx="1197" cy="902" r="6.1"/><circle cx="1153" cy="924" r="6.1"/><circle cx="1177" cy="963" r="6.1"/><circle cx="1117" cy="945" r="6.1"/><circle cx="1227" cy="896" r="6.1"/><circle cx="1095" cy="1030" r="6.1"/><circle cx="1186" cy="941" r="6.1"/><circle cx="1113" cy="992" r="6.1"/><circle cx="1072" cy="999" r="6.1"/><circle cx="1162" cy="953" r="6.1"/><circle cx="1115" cy="967" r="6.1"/><circle cx="1112" cy="973" r="6.1"/><circle cx="1088" cy="985" r="6.1"/><circle cx="1206" cy="900" r="6.1"/><circle cx="1220" cy="909" r="6.1"/><circle cx="1183" cy="880" r="6.1"/><circle cx="1107" cy="1004" r="6.1"/><circle cx="1093" cy="1035" r="6.1"/><circle cx="1185" cy="945" r="6.1"/><circle cx="1199" cy="923" r="6.1"/><circle cx="1150" cy="981" r="6.1"/><circle cx="1244" cy="891" r="6.1"/><circle cx="1102" cy="988" r="6.1"/><circle cx="1059" cy="1001" r="6.1"/><circle cx="1099" cy="967" r="6.1"/><circle cx="1176" cy="907" r="6.1"/><circle cx="1143" cy="980" r="6.1"/><circle cx="1153" cy="944" r="6.1"/><circle cx="1145" cy="981" r="6.1"/><circle cx="1292" cy="815" r="6.1"/><circle cx="1164" cy="955" r="6.1"/><circle cx="1129" cy="934" r="6.1"/><circle cx="1114" cy="958" r="6.1"/><circle cx="1067" cy="1034" r="6.1"/><circle cx="1058" cy="988" r="6.1"/><circle cx="1073" cy="1000" r="6.1"/><circle cx="1195" cy="894" r="6.1"/><circle cx="1091" cy="1004" r="6.1"/><circle cx="1220" cy="886" r="6.1"/><circle cx="1125" cy="937" r="6.1"/><circle cx="1172" cy="917" r="6.1"/><circle cx="1087" cy="972" r="6.1"/><circle cx="1211" cy="891" r="6.1"/><circle cx="1086" cy="1004" r="6.1"/><circle cx="1230" cy="898" r="6.1"/><circle cx="1134" cy="936" r="6.1"/><circle cx="1057" cy="1024" r="6.1"/><circle cx="1164" cy="991" r="6.1"/><circle cx="1219" cy="876" r="6.1"/><circle cx="1095" cy="1022" r="6.1"/><circle cx="1075" cy="1046" r="6.1"/><circle cx="1133" cy="992" r="6.1"/><circle cx="1100" cy="1038" r="6.1"/><circle cx="1029" cy="1052" r="6.1"/><circle cx="1087" cy="1042" r="6.1"/><circle cx="1093" cy="996" r="6.1"/><circle cx="1064" cy="992" r="6.1"/><circle cx="1060" cy="981" r="6.1"/><circle cx="1081" cy="1066" r="6.1"/><circle cx="1088" cy="985" r="6.1"/><circle cx="1138" cy="1011" r="6.1"/><circle cx="1062" cy="1028" r="6.1"/><circle cx="1172" cy="967" r="6.1"/><circle cx="1206" cy="918" r="6.1"/><circle cx="1102" cy="989" r="6.1"/><circle cx="1255" cy="885" r="6.1"/><circle cx="1150" cy="957" r="6.1"/><circle cx="1212" cy="923" r="6.1"/><circle cx="1108" cy="1000" r="6.1"/><circle cx="1273" cy="835" r="6.1"/><circle cx="1152" cy="937" r="6.1"/><circle cx="1047" cy="992" r="6.1"/><circle cx="1280" cy="847" r="6.1"/><circle cx="1068" cy="984" r="6.1"/><circle cx="1102" cy="979" r="6.1"/><circle cx="1146" cy="956" r="6.1"/><circle cx="1173" cy="953" r="6.1"/><circle cx="1160" cy="935" r="6.1"/><circle cx="1097" cy="993" r="6.1"/><circle cx="1211" cy="901" r="6.1"/><circle cx="1177" cy="933" r="6.1"/><circle cx="1133" cy="979" r="6.1"/><circle cx="1055" cy="1053" r="6.1"/><circle cx="1091" cy="1024" r="6.1"/><circle cx="1091" cy="965" r="6.1"/><circle cx="1164" cy="945" r="6.1"/><circle cx="1113" cy="989" r="6.1"/><circle cx="1069" cy="968" r="6.1"/><circle cx="1184" cy="939" r="6.1"/><circle cx="1273" cy="819" r="6.1"/><circle cx="1099" cy="996" r="6.1"/><circle cx="1242" cy="865" r="6.1"/><circle cx="1169" cy="972" r="6.1"/><circle cx="1087" cy="980" r="6.1"/><circle cx="1103" cy="971" r="6.1"/><circle cx="1289" cy="831" r="6.1"/><circle cx="1069" cy="1028" r="6.1"/><circle cx="1096" cy="1055" r="6.1"/><circle cx="1074" cy="1010" r="6.1"/><circle cx="1141" cy="949" r="6.1"/><circle cx="1199" cy="903" r="6.1"/><circle cx="1197" cy="926" r="6.1"/><circle cx="1177" cy="939" r="6.1"/><circle cx="1175" cy="912" r="6.1"/><circle cx="1067" cy="1019" r="6.1"/><circle cx="1140" cy="987" r="6.1"/><circle cx="1097" cy="964" r="6.1"/><circle cx="1230" cy="924" r="6.1"/><circle cx="1163" cy="932" r="6.1"/><circle cx="1227" cy="899" r="6.1"/><circle cx="1171" cy="957" r="6.1"/><circle cx="1222" cy="909" r="6.1"/><circle cx="1152" cy="992" r="6.1"/><circle cx="1079" cy="999" r="6.1"/><circle cx="1131" cy="940" r="6.1"/><circle cx="1062" cy="1006" r="6.1"/><circle cx="1150" cy="952" r="6.1"/><circle cx="1200" cy="887" r="6.1"/><circle cx="1145" cy="1006" r="6.1"/><circle cx="1126" cy="949" r="6.1"/><circle cx="1156" cy="959" r="6.1"/><circle cx="1126" cy="1005" r="6.1"/><circle cx="1072" cy="972" r="6.1"/><circle cx="1172" cy="957" r="6.1"/><circle cx="1153" cy="1015" r="6.1"/><circle cx="1159" cy="934" r="6.1"/><circle cx="1100" cy="935" r="6.1"/><circle cx="1105" cy="980" r="6.1"/><circle cx="1228" cy="897" r="6.1"/><circle cx="1094" cy="1023" r="6.1"/><circle cx="1088" cy="990" r="6.1"/><circle cx="1061" cy="989" r="6.1"/><circle cx="1024" cy="1009" r="6.1"/><circle cx="1111" cy="1019" r="6.1"/><circle cx="1277" cy="837" r="6.1"/><circle cx="1096" cy="973" r="6.1"/><circle cx="1134" cy="984" r="6.1"/><circle cx="1121" cy="1047" r="6.1"/><circle cx="1193" cy="919" r="6.1"/><circle cx="1200" cy="894" r="6.1"/><circle cx="1073" cy="965" r="6.1"/><circle cx="1226" cy="891" r="6.1"/><circle cx="1313" cy="784" r="6.1"/><circle cx="1137" cy="951" r="6.1"/><circle cx="1109" cy="962" r="6.1"/><circle cx="1143" cy="992" r="6.1"/><circle cx="1112" cy="1015" r="6.1"/><circle cx="1117" cy="1000" r="6.1"/><circle cx="1075" cy="1035" r="6.1"/><circle cx="1075" cy="1016" r="6.1"/><circle cx="1144" cy="943" r="6.1"/><circle cx="1067" cy="1023" r="6.1"/><circle cx="1158" cy="962" r="6.1"/><circle cx="1176" cy="940" r="6.1"/><circle cx="1159" cy="955" r="6.1"/><circle cx="1136" cy="966" r="6.1"/><circle cx="1078" cy="996" r="6.1"/><circle cx="1248" cy="840" r="6.1"/><circle cx="1291" cy="806" r="6.1"/><circle cx="1196" cy="918" r="6.1"/><circle cx="1067" cy="998" r="6.1"/><circle cx="1161" cy="983" r="6.1"/><circle cx="1162" cy="973" r="6.1"/><circle cx="1135" cy="930" r="6.1"/><circle cx="1137" cy="964" r="6.1"/><circle cx="1063" cy="1051" r="6.1"/><circle cx="1069" cy="974" r="6.1"/><circle cx="1086" cy="1021" r="6.1"/><circle cx="1252" cy="859" r="6.1"/><circle cx="1108" cy="996" r="6.1"/><circle cx="1247" cy="872" r="6.1"/><circle cx="1099" cy="976" r="6.1"/><circle cx="1095" cy="1080" r="6.1"/><circle cx="1068" cy="981" r="6.1"/><circle cx="1125" cy="1003" r="6.1"/><circle cx="1102" cy="951" r="6.1"/><circle cx="1248" cy="871" r="6.1"/><circle cx="1098" cy="986" r="6.1"/><circle cx="1257" cy="871" r="6.1"/><circle cx="1084" cy="984" r="6.1"/><circle cx="1215" cy="930" r="6.1"/><circle cx="1061" cy="1000" r="6.1"/><circle cx="1188" cy="933" r="6.1"/><circle cx="1147" cy="935" r="6.1"/><circle cx="1067" cy="1031" r="6.1"/><circle cx="1207" cy="867" r="6.1"/><circle cx="1152" cy="971" r="6.1"/><circle cx="1136" cy="932" r="6.1"/><circle cx="1105" cy="972" r="6.1"/><circle cx="1130" cy="991" r="6.1"/><circle cx="1210" cy="913" r="6.1"/><circle cx="1060" cy="1012" r="6.1"/><circle cx="1187" cy="921" r="6.1"/><circle cx="1212" cy="848" r="6.1"/><circle cx="1162" cy="979" r="6.1"/><circle cx="1107" cy="971" r="6.1"/><circle cx="1113" cy="1027" r="6.1"/><circle cx="1118" cy="928" r="6.1"/><circle cx="1061" cy="988" r="6.1"/><circle cx="1166" cy="960" r="6.1"/><circle cx="1233" cy="895" r="6.1"/><circle cx="1192" cy="911" r="6.1"/><circle cx="1066" cy="985" r="6.1"/><circle cx="1135" cy="987" r="6.1"/><circle cx="1139" cy="976" r="6.1"/><circle cx="1141" cy="968" r="6.1"/><circle cx="1169" cy="910" r="6.1"/><circle cx="1118" cy="982" r="6.1"/><circle cx="1089" cy="1067" r="6.1"/><circle cx="1208" cy="909" r="6.1"/><circle cx="1109" cy="1040" r="6.1"/><circle cx="1090" cy="1029" r="6.1"/><circle cx="1184" cy="930" r="6.1"/><circle cx="1226" cy="891" r="6.1"/><circle cx="1088" cy="993" r="6.1"/><circle cx="1084" cy="992" r="6.1"/><circle cx="1191" cy="980" r="6.1"/><circle cx="1078" cy="941" r="6.1"/><circle cx="1182" cy="902" r="6.1"/><circle cx="1019" cy="990" r="6.1"/><circle cx="1101" cy="1015" r="6.1"/><circle cx="1141" cy="930" r="6.1"/><circle cx="1153" cy="946" r="6.1"/><circle cx="1055" cy="971" r="6.1"/><circle cx="1071" cy="1005" r="6.1"/><circle cx="1167" cy="944" r="6.1"/><circle cx="1132" cy="974" r="6.1"/><circle cx="1165" cy="966" r="6.1"/><circle cx="1279" cy="840" r="6.1"/><circle cx="1225" cy="892" r="6.1"/><circle cx="1067" cy="1006" r="6.1"/><circle cx="1128" cy="974" r="6.1"/><circle cx="1058" cy="1016" r="6.1"/><circle cx="1068" cy="980" r="6.1"/><circle cx="1102" cy="1002" r="6.1"/><circle cx="1108" cy="978" r="6.1"/><circle cx="1123" cy="1011" r="6.1"/><circle cx="1108" cy="991" r="6.1"/><circle cx="1092" cy="1049" r="6.1"/><circle cx="1315" cy="826" r="6.1"/><circle cx="1083" cy="1026" r="6.1"/><circle cx="1218" cy="892" r="6.1"/><circle cx="1057" cy="950" r="6.1"/><circle cx="1233" cy="875" r="6.1"/><circle cx="1094" cy="1024" r="6.1"/><circle cx="1220" cy="901" r="6.1"/><circle cx="1141" cy="957" r="6.1"/><circle cx="1153" cy="963" r="6.1"/><circle cx="1173" cy="938" r="6.1"/><circle cx="1169" cy="926" r="6.1"/><circle cx="1150" cy="935" r="6.1"/><circle cx="1231" cy="938" r="6.1"/><circle cx="1150" cy="957" r="6.1"/><circle cx="1162" cy="970" r="6.1"/><circle cx="1088" cy="1006" r="6.1"/><circle cx="1045" cy="970" r="6.1"/><circle cx="1215" cy="897" r="6.1"/><circle cx="1130" cy="1001" r="6.1"/><circle cx="1122" cy="991" r="6.1"/><circle cx="1123" cy="994" r="6.1"/><circle cx="1191" cy="938" r="6.1"/><circle cx="1159" cy="921" r="6.1"/><circle cx="1143" cy="960" r="6.1"/><circle cx="1170" cy="960" r="6.1"/><circle cx="1088" cy="1007" r="6.1"/><circle cx="1140" cy="997" r="6.1"/><circle cx="1195" cy="942" r="6.1"/><circle cx="1074" cy="984" r="6.1"/><circle cx="1089" cy="985" r="6.1"/><circle cx="1304" cy="814" r="6.1"/><circle cx="1181" cy="937" r="6.1"/><circle cx="1106" cy="994" r="6.1"/><circle cx="1094" cy="961" r="6.1"/><circle cx="1187" cy="921" r="6.1"/><circle cx="1130" cy="970" r="6.1"/><circle cx="1188" cy="937" r="6.1"/><circle cx="1114" cy="1017" r="6.1"/><circle cx="1163" cy="929" r="6.1"/><circle cx="1035" cy="1002" r="6.1"/><circle cx="1160" cy="996" r="6.1"/><circle cx="1167" cy="931" r="6.1"/><circle cx="1205" cy="900" r="6.1"/><circle cx="1125" cy="984" r="6.1"/><circle cx="1119" cy="1046" r="6.1"/><circle cx="1161" cy="918" r="6.1"/><circle cx="1201" cy="922" r="6.1"/><circle cx="1172" cy="935" r="6.1"/><circle cx="1068" cy="1016" r="6.1"/><circle cx="1201" cy="915" r="6.1"/><circle cx="1201" cy="909" r="6.1"/><circle cx="1268" cy="835" r="6.1"/><circle cx="1201" cy="892" r="6.1"/><circle cx="1088" cy="1102" r="6.1"/><circle cx="1247" cy="862" r="6.1"/><circle cx="1146" cy="972" r="6.1"/><circle cx="1183" cy="964" r="6.1"/><circle cx="1093" cy="981" r="6.1"/><circle cx="1134" cy="890" r="6.1"/><circle cx="1155" cy="974" r="6.1"/><circle cx="1156" cy="922" r="6.1"/><circle cx="1122" cy="1002" r="6.1"/><circle cx="1088" cy="1017" r="6.1"/><circle cx="1119" cy="945" r="6.1"/><circle cx="1112" cy="965" r="6.1"/><circle cx="1100" cy="1003" r="6.1"/><circle cx="1079" cy="1017" r="6.1"/><circle cx="1174" cy="942" r="6.1"/><circle cx="1147" cy="990" r="6.1"/><circle cx="1063" cy="1016" r="6.1"/><circle cx="1108" cy="1019" r="6.1"/><circle cx="1117" cy="999" r="6.1"/><circle cx="1181" cy="912" r="6.1"/><circle cx="1135" cy="1002" r="6.1"/><circle cx="1099" cy="971" r="6.1"/><circle cx="1141" cy="960" r="6.1"/><circle cx="1180" cy="922" r="6.1"/><circle cx="1200" cy="908" r="6.1"/><circle cx="1201" cy="920" r="6.1"/><circle cx="1212" cy="848" r="6.1"/><circle cx="1150" cy="928" r="6.1"/><circle cx="1207" cy="904" r="6.1"/><circle cx="1078" cy="941" r="6.1"/><circle cx="1194" cy="920" r="6.1"/><circle cx="1179" cy="916" r="6.1"/><circle cx="1099" cy="1007" r="6.1"/><circle cx="1102" cy="1043" r="6.1"/><circle cx="1231" cy="867" r="6.1"/><circle cx="1093" cy="957" r="6.1"/><circle cx="1174" cy="953" r="6.1"/><circle cx="1177" cy="929" r="6.1"/><circle cx="1033" cy="986" r="6.1"/><circle cx="1077" cy="987" r="6.1"/><circle cx="1083" cy="1021" r="6.1"/><circle cx="1164" cy="969" r="6.1"/><circle cx="1196" cy="886" r="6.1"/><circle cx="1184" cy="985" r="6.1"/><circle cx="1180" cy="925" r="6.1"/><circle cx="1070" cy="1002" r="6.1"/><circle cx="1183" cy="931" r="6.1"/><circle cx="1202" cy="912" r="6.1"/><circle cx="1101" cy="1032" r="6.1"/><circle cx="1066" cy="991" r="6.1"/><circle cx="1131" cy="1007" r="6.1"/><circle cx="1129" cy="948" r="6.1"/><circle cx="1178" cy="943" r="6.1"/><circle cx="1091" cy="1053" r="6.1"/><circle cx="1148" cy="926" r="6.1"/><circle cx="1094" cy="1018" r="6.1"/><circle cx="1216" cy="878" r="6.1"/><circle cx="1121" cy="969" r="6.1"/><circle cx="1096" cy="1034" r="6.1"/><circle cx="1302" cy="782" r="6.1"/><circle cx="1236" cy="886" r="6.1"/><circle cx="1124" cy="945" r="6.1"/><circle cx="1182" cy="925" r="6.1"/><circle cx="1180" cy="927" r="6.1"/><circle cx="1140" cy="978" r="6.1"/><circle cx="1076" cy="1002" r="6.1"/><circle cx="1148" cy="975" r="6.1"/><circle cx="1087" cy="997" r="6.1"/><circle cx="1089" cy="1020" r="6.1"/><circle cx="1122" cy="955" r="6.1"/><circle cx="1136" cy="959" r="6.1"/><circle cx="1278" cy="849" r="6.1"/><circle cx="1112" cy="1046" r="6.1"/><circle cx="1194" cy="906" r="6.1"/><circle cx="1114" cy="982" r="6.1"/><circle cx="1108" cy="1004" r="6.1"/><circle cx="1157" cy="985" r="6.1"/><circle cx="1102" cy="1012" r="6.1"/><circle cx="1272" cy="853" r="6.1"/><circle cx="1086" cy="974" r="6.1"/><circle cx="1094" cy="966" r="6.1"/><circle cx="1286" cy="791" r="6.1"/><circle cx="1128" cy="1041" r="6.1"/><circle cx="1192" cy="909" r="6.1"/><circle cx="1057" cy="1015" r="6.1"/><circle cx="1087" cy="916" r="6.1"/><circle cx="1170" cy="922" r="6.1"/><circle cx="1113" cy="950" r="6.1"/><circle cx="1261" cy="848" r="6.1"/><circle cx="1193" cy="942" r="6.1"/><circle cx="1020" cy="1006" r="6.1"/><circle cx="1090" cy="1015" r="6.1"/><circle cx="1164" cy="945" r="6.1"/><circle cx="1126" cy="900" r="6.1"/><circle cx="1125" cy="961" r="6.1"/><circle cx="1099" cy="982" r="6.1"/><circle cx="1154" cy="931" r="6.1"/><circle cx="1214" cy="887" r="6.1"/><circle cx="1060" cy="1008" r="6.1"/><circle cx="1078" cy="978" r="6.1"/><circle cx="1220" cy="895" r="6.1"/><circle cx="1083" cy="1034" r="6.1"/><circle cx="1116" cy="971" r="6.1"/>
</g>
<path d="M1009.6 1000.3 L1012.9 1000.3 L1016.2 1000.3 L1019.5 1000.3 L1022.8 1000.4 L1026.1 1000.4 L1029.4 1000.5 L1032.7 1000.6 L1036.0 1000.7 L1039.3 1000.7 L1042.6 1000.8 L1045.9 1000.8 L1049.1 1000.8 L1052.4 1000.7 L1055.7 1000.5 L1059.0 1000.3 L1062.3 1000.0 L1065.6 999.6 L1068.9 999.1 L1072.2 998.5 L1075.5 997.7 L1078.8 996.8 L1082.1 995.7 L1085.4 994.5 L1088.7 993.2 L1092.0 991.8 L1095.3 990.2 L1098.6 988.5 L1101.9 986.6 L1105.2 984.7 L1108.5 982.7 L1111.7 980.5 L1115.0 978.3 L1118.3 976.1 L1121.6 973.7 L1124.9 971.3 L1128.2 968.9 L1131.5 966.5 L1134.8 964.1 L1138.1 961.8 L1141.4 959.4 L1144.7 957.0 L1148.0 954.7 L1151.3 952.3 L1154.6 950.0 L1157.9 947.6 L1161.2 945.2 L1164.5 942.8 L1167.8 940.3 L1171.1 937.9 L1174.4 935.4 L1177.6 932.8 L1180.9 930.2 L1184.2 927.6 L1187.5 924.9 L1190.8 922.1 L1194.1 919.3 L1197.4 916.3 L1200.7 913.2 L1204.0 910.0 L1207.3 906.7 L1210.6 903.3 L1213.9 899.8 L1217.2 896.2 L1220.5 892.6 L1223.8 889.1 L1227.1 885.6 L1230.4 882.2 L1233.7 878.9 L1237.0 875.7 L1240.2 872.5 L1243.5 869.4 L1246.8 866.3 L1250.1 863.3 L1253.4 860.2 L1256.7 857.2 L1260.0 854.1 L1263.3 851.1 L1266.6 848.0 L1269.9 845.0 L1273.2 841.9 L1276.5 838.9 L1279.8 835.8 L1283.1 832.8 L1286.4 829.7 L1289.7 826.7 L1293.0 823.6 L1296.3 820.5 L1299.6 817.4 L1302.9 814.3 L1306.1 811.2 L1309.4 808.2 L1312.7 805.1 L1316.0 802.0 L1319.3 799.0 L1322.6 796.0 L1325.9 792.9 L1329.2 789.9 L1332.5 787.0 L1335.8 784.1 L1339.1 781.3 L1342.4 778.5 L1345.7 775.8 L1349.0 773.0 L1352.3 770.2 L1355.6 767.3 L1358.9 764.4 L1362.2 761.3 L1365.5 758.2 L1368.8 755.1 L1372.0 751.9 L1375.3 748.6 L1378.6 745.3 L1381.9 742.0 L1385.2 738.7 L1388.5 735.4 L1391.8 732.2 L1395.1 729.0 L1398.4 725.8 L1401.7 722.7" stroke="#3366ff" stroke-width="5.8" fill="none" stroke-linecap="butt"/>
</g>
<rect x="999.8" y="598" width="411.2" height="54.7" fill="#fff" stroke="#000" stroke-width="3.2"/>
<text x="1204" y="637.1" font-size="31.5" fill="#1a1a1a" text-anchor="middle" textLength="242.6" lengthAdjust="spacingAndGlyphs">Smakhtin - class B</text>
<g clip-path="url(#c6)">
<path d="M223.7 1246.1V1764.3M327.4 1246.1V1764.3M431.1 1246.1V1764.3M534.8 1246.1V1764.3M132.6 1621.7H546.6M132.6 1466.7H546.6M132.6 1311.7H546.6" stroke="#ebebeb" stroke-width="2.2" fill="none"/>
<path d="M80.8 1712.5 L598.5 1196.6 L598.5 1299.9 L80.8 1815.8Z" fill="#ccf2f3"/>
<path d="M80.8 1764.2L598.5 1248.3" stroke="#000" stroke-opacity="0.6" stroke-width="2.3"/>
<path d="M144.0 1594.2 L147.3 1594.4 L150.6 1594.7 L153.9 1595.0 L157.2 1595.3 L160.5 1595.6 L163.8 1596.0 L167.0 1596.4 L170.3 1596.7 L173.6 1597.0 L176.9 1597.3 L180.2 1597.4 L183.5 1597.6 L186.8 1597.6 L190.1 1597.6 L193.4 1597.5 L196.7 1597.4 L200.0 1597.1 L203.3 1596.6 L206.5 1596.0 L209.8 1595.3 L213.1 1594.5 L216.4 1593.6 L219.7 1592.5 L223.0 1591.3 L226.3 1589.9 L229.6 1588.4 L232.9 1586.8 L236.2 1585.1 L239.5 1583.2 L242.8 1581.1 L246.0 1579.0 L249.3 1576.7 L252.6 1574.4 L255.9 1571.9 L259.2 1569.5 L262.5 1567.0 L265.8 1564.5 L269.1 1562.0 L272.4 1559.6 L275.7 1557.2 L279.0 1554.8 L282.3 1552.4 L285.5 1550.1 L288.8 1547.7 L292.1 1545.3 L295.4 1542.9 L298.7 1540.5 L302.0 1538.0 L305.3 1535.5 L308.6 1533.0 L311.9 1530.4 L315.2 1527.7 L318.5 1525.0 L321.7 1522.3 L325.0 1519.4 L328.3 1516.6 L331.6 1513.6 L334.9 1510.6 L338.2 1507.5 L341.5 1504.3 L344.8 1501.0 L348.1 1497.6 L351.4 1494.2 L354.7 1490.7 L358.0 1487.2 L361.2 1483.7 L364.5 1480.3 L367.8 1476.9 L371.1 1473.7 L374.4 1470.5 L377.7 1467.3 L381.0 1464.3 L384.3 1461.3 L387.6 1458.3 L390.9 1455.4 L394.2 1452.5 L397.5 1449.7 L400.7 1446.8 L404.0 1444.0 L407.3 1441.0 L410.6 1437.8 L413.9 1434.6 L417.2 1431.3 L420.5 1428.1 L423.8 1424.8 L427.1 1421.5 L430.4 1418.1 L433.7 1414.6 L437.0 1411.1 L440.2 1407.5 L443.5 1404.0 L446.8 1400.4 L450.1 1396.9 L453.4 1393.3 L456.7 1389.8 L460.0 1386.1 L463.3 1382.4 L466.6 1378.7 L469.9 1375.1 L473.2 1371.6 L476.5 1368.1 L479.7 1364.5 L483.0 1361.0 L486.3 1357.3 L489.6 1353.7 L492.9 1349.9 L496.2 1346.1 L499.5 1342.3 L502.8 1338.4 L506.1 1334.5 L509.4 1330.5 L512.7 1326.5 L516.0 1322.5 L519.2 1318.4 L522.5 1314.4 L525.8 1310.4 L529.1 1306.4 L532.4 1302.4 L535.7 1298.5 L535.7 1352.3 L532.4 1354.7 L529.1 1357.1 L525.8 1359.6 L522.5 1362.1 L519.2 1364.6 L516.0 1367.1 L512.7 1369.6 L509.4 1372.1 L506.1 1374.5 L502.8 1376.8 L499.5 1379.1 L496.2 1381.4 L492.9 1383.6 L489.6 1385.8 L486.3 1387.9 L483.0 1390.0 L479.7 1392.1 L476.5 1394.2 L473.2 1396.2 L469.9 1398.3 L466.6 1400.5 L463.3 1402.7 L460.0 1404.9 L456.7 1407.2 L453.4 1409.7 L450.1 1412.2 L446.8 1414.7 L443.5 1417.2 L440.2 1419.7 L437.0 1422.2 L433.7 1424.7 L430.4 1427.3 L427.1 1430.0 L423.8 1432.6 L420.5 1435.3 L417.2 1437.9 L413.9 1440.5 L410.6 1443.0 L407.3 1445.5 L404.0 1448.1 L400.7 1451.0 L397.5 1453.8 L394.2 1456.7 L390.9 1459.5 L387.6 1462.4 L384.3 1465.4 L381.0 1468.4 L377.7 1471.5 L374.4 1474.6 L371.1 1477.8 L367.8 1481.1 L364.5 1484.4 L361.2 1487.9 L358.0 1491.3 L354.7 1494.8 L351.4 1498.3 L348.1 1501.8 L344.8 1505.2 L341.5 1508.5 L338.2 1511.7 L334.9 1514.7 L331.6 1517.8 L328.3 1520.7 L325.0 1523.6 L321.7 1526.4 L318.5 1529.2 L315.2 1531.9 L311.9 1534.5 L308.6 1537.1 L305.3 1539.7 L302.0 1542.2 L298.7 1544.6 L295.4 1547.1 L292.1 1549.5 L288.8 1551.8 L285.5 1554.2 L282.3 1556.6 L279.0 1558.9 L275.7 1561.3 L272.4 1563.7 L269.1 1566.1 L265.8 1568.6 L262.5 1571.1 L259.2 1573.6 L255.9 1576.1 L252.6 1578.5 L249.3 1580.9 L246.0 1583.1 L242.8 1585.3 L239.5 1587.3 L236.2 1589.2 L232.9 1590.9 L229.6 1592.6 L226.3 1594.1 L223.0 1595.5 L219.7 1596.8 L216.4 1598.0 L213.1 1599.1 L209.8 1600.0 L206.5 1600.8 L203.3 1601.6 L200.0 1602.1 L196.7 1602.6 L193.4 1603.1 L190.1 1603.4 L186.8 1603.7 L183.5 1603.9 L180.2 1604.0 L176.9 1604.1 L173.6 1604.1 L170.3 1604.2 L167.0 1604.2 L163.8 1604.3 L160.5 1604.4 L157.2 1604.5 L153.9 1604.6 L150.6 1604.7 L147.3 1604.9 L144.0 1605.1Z" fill="#999" fill-opacity="0.4"/>
<g class="pts" fill="#000" fill-opacity="0.4" stroke="#000" stroke-opacity="0.4" stroke-width="1.5">
<circle cx="229" cy="1574" r="6.1"/><circle cx="208" cy="1601" r="6.1"/><circle cx="268" cy="1594" r="6.1"/><circle cx="216" cy="1626" r="6.1"/><circle cx="240" cy="1603" r="6.1"/><circle cx="312" cy="1522" r="6.1"/><circle cx="450" cy="1426" r="6.1"/><circle cx="244" cy="1559" r="6.1"/><circle cx="287" cy="1559" r="6.1"/><circle cx="228" cy="1627" r="6.1"/><circle cx="334" cy="1486" r="6.1"/><circle cx="289" cy="1548" r="6.1"/><circle cx="281" cy="1591" r="6.1"/><circle cx="327" cy="1503" r="6.1"/><circle cx="229" cy="1597" r="6.1"/><circle cx="242" cy="1552" r="6.1"/><circle cx="209" cy="1648" r="6.1"/><circle cx="219" cy="1622" r="6.1"/><circle cx="359" cy="1497" r="6.1"/><circle cx="292" cy="1560" r="6.1"/><circle cx="240" cy="1622" r="6.1"/><circle cx="232" cy="1633" r="6.1"/><circle cx="226" cy="1618" r="6.1"/><circle cx="263" cy="1554" r="6.1"/><circle cx="261" cy="1549" r="6.1"/><circle cx="237" cy="1552" r="6.1"/><circle cx="221" cy="1644" r="6.1"/><circle cx="272" cy="1573" r="6.1"/><circle cx="412" cy="1449" r="6.1"/><circle cx="215" cy="1613" r="6.1"/><circle cx="319" cy="1545" r="6.1"/><circle cx="284" cy="1541" r="6.1"/><circle cx="291" cy="1586" r="6.1"/><circle cx="382" cy="1462" r="6.1"/><circle cx="300" cy="1556" r="6.1"/><circle cx="258" cy="1613" r="6.1"/><circle cx="195" cy="1588" r="6.1"/><circle cx="243" cy="1619" r="6.1"/><circle cx="295" cy="1584" r="6.1"/><circle cx="229" cy="1578" r="6.1"/><circle cx="296" cy="1523" r="6.1"/><circle cx="331" cy="1503" r="6.1"/><circle cx="202" cy="1584" r="6.1"/><circle cx="383" cy="1495" r="6.1"/><circle cx="359" cy="1502" r="6.1"/><circle cx="325" cy="1496" r="6.1"/><circle cx="317" cy="1479" r="6.1"/><circle cx="269" cy="1530" r="6.1"/><circle cx="233" cy="1564" r="6.1"/><circle cx="263" cy="1558" r="6.1"/><circle cx="264" cy="1542" r="6.1"/><circle cx="260" cy="1627" r="6.1"/><circle cx="284" cy="1527" r="6.1"/><circle cx="349" cy="1529" r="6.1"/><circle cx="335" cy="1517" r="6.1"/><circle cx="285" cy="1531" r="6.1"/><circle cx="335" cy="1492" r="6.1"/><circle cx="346" cy="1505" r="6.1"/><circle cx="328" cy="1537" r="6.1"/><circle cx="431" cy="1429" r="6.1"/><circle cx="199" cy="1592" r="6.1"/><circle cx="233" cy="1588" r="6.1"/><circle cx="207" cy="1600" r="6.1"/><circle cx="199" cy="1532" r="6.1"/><circle cx="257" cy="1592" r="6.1"/><circle cx="191" cy="1626" r="6.1"/><circle cx="252" cy="1554" r="6.1"/><circle cx="235" cy="1634" r="6.1"/><circle cx="370" cy="1470" r="6.1"/><circle cx="221" cy="1516" r="6.1"/><circle cx="305" cy="1553" r="6.1"/><circle cx="359" cy="1492" r="6.1"/><circle cx="154" cy="1589" r="6.1"/><circle cx="235" cy="1535" r="6.1"/><circle cx="319" cy="1585" r="6.1"/><circle cx="192" cy="1588" r="6.1"/><circle cx="213" cy="1541" r="6.1"/><circle cx="271" cy="1550" r="6.1"/><circle cx="280" cy="1535" r="6.1"/><circle cx="317" cy="1565" r="6.1"/><circle cx="236" cy="1630" r="6.1"/><circle cx="205" cy="1605" r="6.1"/><circle cx="231" cy="1645" r="6.1"/><circle cx="346" cy="1495" r="6.1"/><circle cx="336" cy="1511" r="6.1"/><circle cx="304" cy="1522" r="6.1"/><circle cx="260" cy="1586" r="6.1"/><circle cx="270" cy="1573" r="6.1"/><circle cx="293" cy="1534" r="6.1"/><circle cx="200" cy="1591" r="6.1"/><circle cx="326" cy="1509" r="6.1"/><circle cx="287" cy="1563" r="6.1"/><circle cx="287" cy="1572" r="6.1"/><circle cx="293" cy="1520" r="6.1"/><circle cx="361" cy="1498" r="6.1"/><circle cx="345" cy="1509" r="6.1"/><circle cx="234" cy="1608" r="6.1"/><circle cx="326" cy="1532" r="6.1"/><circle cx="324" cy="1501" r="6.1"/><circle cx="345" cy="1509" r="6.1"/><circle cx="291" cy="1522" r="6.1"/><circle cx="196" cy="1615" r="6.1"/><circle cx="294" cy="1544" r="6.1"/><circle cx="279" cy="1607" r="6.1"/><circle cx="239" cy="1607" r="6.1"/><circle cx="265" cy="1540" r="6.1"/><circle cx="269" cy="1554" r="6.1"/><circle cx="208" cy="1565" r="6.1"/><circle cx="189" cy="1571" r="6.1"/><circle cx="282" cy="1544" r="6.1"/><circle cx="309" cy="1537" r="6.1"/><circle cx="327" cy="1529" r="6.1"/><circle cx="248" cy="1559" r="6.1"/><circle cx="426" cy="1418" r="6.1"/><circle cx="383" cy="1442" r="6.1"/><circle cx="368" cy="1484" r="6.1"/><circle cx="302" cy="1542" r="6.1"/><circle cx="297" cy="1519" r="6.1"/><circle cx="327" cy="1539" r="6.1"/><circle cx="311" cy="1541" r="6.1"/><circle cx="357" cy="1485" r="6.1"/><circle cx="306" cy="1518" r="6.1"/><circle cx="237" cy="1618" r="6.1"/><circle cx="235" cy="1640" r="6.1"/><circle cx="302" cy="1542" r="6.1"/><circle cx="225" cy="1625" r="6.1"/><circle cx="206" cy="1626" r="6.1"/><circle cx="208" cy="1580" r="6.1"/><circle cx="216" cy="1533" r="6.1"/><circle cx="238" cy="1592" r="6.1"/><circle cx="278" cy="1571" r="6.1"/><circle cx="247" cy="1550" r="6.1"/><circle cx="284" cy="1521" r="6.1"/><circle cx="299" cy="1492" r="6.1"/><circle cx="230" cy="1684" r="6.1"/><circle cx="257" cy="1571" r="6.1"/><circle cx="399" cy="1431" r="6.1"/><circle cx="279" cy="1608" r="6.1"/><circle cx="230" cy="1613" r="6.1"/><circle cx="317" cy="1546" r="6.1"/><circle cx="315" cy="1537" r="6.1"/><circle cx="255" cy="1539" r="6.1"/><circle cx="284" cy="1590" r="6.1"/><circle cx="332" cy="1514" r="6.1"/><circle cx="296" cy="1580" r="6.1"/><circle cx="255" cy="1546" r="6.1"/><circle cx="291" cy="1579" r="6.1"/><circle cx="314" cy="1554" r="6.1"/><circle cx="294" cy="1597" r="6.1"/><circle cx="320" cy="1521" r="6.1"/><circle cx="268" cy="1533" r="6.1"/><circle cx="312" cy="1539" r="6.1"/><circle cx="285" cy="1534" r="6.1"/><circle cx="272" cy="1613" r="6.1"/><circle cx="221" cy="1591" r="6.1"/><circle cx="222" cy="1610" r="6.1"/><circle cx="244" cy="1568" r="6.1"/><circle cx="242" cy="1586" r="6.1"/><circle cx="280" cy="1562" r="6.1"/><circle cx="291" cy="1564" r="6.1"/><circle cx="317" cy="1530" r="6.1"/><circle cx="259" cy="1592" r="6.1"/><circle cx="270" cy="1532" r="6.1"/><circle cx="295" cy="1543" r="6.1"/><circle cx="364" cy="1497" r="6.1"/><circle cx="264" cy="1567" r="6.1"/><circle cx="346" cy="1522" r="6.1"/><circle cx="285" cy="1574" r="6.1"/><circle cx="349" cy="1525" r="6.1"/><circle cx="291" cy="1596" r="6.1"/><circle cx="426" cy="1410" r="6.1"/><circle cx="257" cy="1622" r="6.1"/><circle cx="265" cy="1587" r="6.1"/><circle cx="243" cy="1605" r="6.1"/><circle cx="285" cy="1583" r="6.1"/><circle cx="329" cy="1542" r="6.1"/><circle cx="251" cy="1572" r="6.1"/><circle cx="374" cy="1500" r="6.1"/><circle cx="275" cy="1529" r="6.1"/><circle cx="211" cy="1587" r="6.1"/><circle cx="206" cy="1571" r="6.1"/><circle cx="441" cy="1444" r="6.1"/><circle cx="187" cy="1642" r="6.1"/><circle cx="327" cy="1530" r="6.1"/><circle cx="191" cy="1550" r="6.1"/><circle cx="202" cy="1606" r="6.1"/><circle cx="286" cy="1531" r="6.1"/><circle cx="204" cy="1587" r="6.1"/><circle cx="306" cy="1557" r="6.1"/><circle cx="350" cy="1480" r="6.1"/><circle cx="230" cy="1637" r="6.1"/><circle cx="249" cy="1572" r="6.1"/><circle cx="201" cy="1620" r="6.1"/><circle cx="299" cy="1549" r="6.1"/><circle cx="294" cy="1586" r="6.1"/><circle cx="281" cy="1546" r="6.1"/><circle cx="296" cy="1548" r="6.1"/><circle cx="311" cy="1528" r="6.1"/><circle cx="327" cy="1510" r="6.1"/><circle cx="319" cy="1449" r="6.1"/><circle cx="259" cy="1599" r="6.1"/><circle cx="307" cy="1513" r="6.1"/><circle cx="317" cy="1530" r="6.1"/><circle cx="192" cy="1615" r="6.1"/><circle cx="195" cy="1609" r="6.1"/><circle cx="299" cy="1569" r="6.1"/><circle cx="286" cy="1593" r="6.1"/><circle cx="266" cy="1653" r="6.1"/><circle cx="276" cy="1535" r="6.1"/><circle cx="437" cy="1387" r="6.1"/><circle cx="298" cy="1566" r="6.1"/><circle cx="391" cy="1470" r="6.1"/><circle cx="168" cy="1586" r="6.1"/><circle cx="264" cy="1561" r="6.1"/><circle cx="334" cy="1493" r="6.1"/><circle cx="256" cy="1549" r="6.1"/><circle cx="236" cy="1599" r="6.1"/><circle cx="223" cy="1601" r="6.1"/><circle cx="241" cy="1571" r="6.1"/><circle cx="221" cy="1604" r="6.1"/><circle cx="237" cy="1588" r="6.1"/><circle cx="275" cy="1554" r="6.1"/><circle cx="260" cy="1607" r="6.1"/><circle cx="261" cy="1559" r="6.1"/><circle cx="283" cy="1605" r="6.1"/><circle cx="230" cy="1624" r="6.1"/><circle cx="216" cy="1605" r="6.1"/><circle cx="273" cy="1605" r="6.1"/><circle cx="261" cy="1574" r="6.1"/><circle cx="360" cy="1491" r="6.1"/><circle cx="376" cy="1477" r="6.1"/><circle cx="260" cy="1537" r="6.1"/><circle cx="189" cy="1600" r="6.1"/><circle cx="176" cy="1596" r="6.1"/><circle cx="258" cy="1595" r="6.1"/><circle cx="264" cy="1543" r="6.1"/><circle cx="243" cy="1562" r="6.1"/><circle cx="222" cy="1585" r="6.1"/><circle cx="300" cy="1525" r="6.1"/><circle cx="258" cy="1618" r="6.1"/><circle cx="284" cy="1563" r="6.1"/><circle cx="266" cy="1542" r="6.1"/><circle cx="368" cy="1478" r="6.1"/><circle cx="341" cy="1503" r="6.1"/><circle cx="245" cy="1649" r="6.1"/><circle cx="242" cy="1582" r="6.1"/><circle cx="229" cy="1581" r="6.1"/><circle cx="269" cy="1549" r="6.1"/><circle cx="196" cy="1600" r="6.1"/><circle cx="252" cy="1529" r="6.1"/><circle cx="251" cy="1591" r="6.1"/><circle cx="349" cy="1529" r="6.1"/><circle cx="340" cy="1499" r="6.1"/><circle cx="322" cy="1532" r="6.1"/><circle cx="232" cy="1565" r="6.1"/><circle cx="414" cy="1441" r="6.1"/><circle cx="271" cy="1540" r="6.1"/><circle cx="309" cy="1512" r="6.1"/><circle cx="268" cy="1584" r="6.1"/><circle cx="293" cy="1531" r="6.1"/><circle cx="357" cy="1480" r="6.1"/><circle cx="202" cy="1617" r="6.1"/><circle cx="242" cy="1597" r="6.1"/><circle cx="349" cy="1505" r="6.1"/><circle cx="321" cy="1540" r="6.1"/><circle cx="334" cy="1495" r="6.1"/><circle cx="367" cy="1476" r="6.1"/><circle cx="339" cy="1494" r="6.1"/><circle cx="210" cy="1602" r="6.1"/><circle cx="265" cy="1601" r="6.1"/><circle cx="274" cy="1591" r="6.1"/><circle cx="199" cy="1594" r="6.1"/><circle cx="299" cy="1531" r="6.1"/><circle cx="303" cy="1526" r="6.1"/><circle cx="180" cy="1642" r="6.1"/><circle cx="146" cy="1620" r="6.1"/><circle cx="224" cy="1631" r="6.1"/><circle cx="307" cy="1517" r="6.1"/><circle cx="265" cy="1567" r="6.1"/><circle cx="366" cy="1534" r="6.1"/><circle cx="228" cy="1620" r="6.1"/><circle cx="325" cy="1554" r="6.1"/><circle cx="235" cy="1604" r="6.1"/><circle cx="269" cy="1619" r="6.1"/><circle cx="341" cy="1467" r="6.1"/><circle cx="257" cy="1614" r="6.1"/><circle cx="226" cy="1566" r="6.1"/><circle cx="216" cy="1597" r="6.1"/><circle cx="279" cy="1539" r="6.1"/><circle cx="276" cy="1597" r="6.1"/><circle cx="213" cy="1541" r="6.1"/><circle cx="241" cy="1533" r="6.1"/><circle cx="273" cy="1573" r="6.1"/><circle cx="274" cy="1599" r="6.1"/><circle cx="232" cy="1657" r="6.1"/><circle cx="242" cy="1593" r="6.1"/><circle cx="341" cy="1468" r="6.1"/><circle cx="178" cy="1612" r="6.1"/><circle cx="243" cy="1621" r="6.1"/><circle cx="289" cy="1576" r="6.1"/><circle cx="201" cy="1624" r="6.1"/><circle cx="370" cy="1486" r="6.1"/><circle cx="396" cy="1449" r="6.1"/><circle cx="273" cy="1552" r="6.1"/><circle cx="287" cy="1594" r="6.1"/><circle cx="317" cy="1502" r="6.1"/><circle cx="199" cy="1609" r="6.1"/><circle cx="336" cy="1500" r="6.1"/><circle cx="201" cy="1636" r="6.1"/><circle cx="205" cy="1599" r="6.1"/><circle cx="318" cy="1508" r="6.1"/><circle cx="332" cy="1497" r="6.1"/><circle cx="264" cy="1535" r="6.1"/><circle cx="358" cy="1471" r="6.1"/><circle cx="270" cy="1592" r="6.1"/><circle cx="266" cy="1595" r="6.1"/><circle cx="289" cy="1530" r="6.1"/><circle cx="284" cy="1581" r="6.1"/><circle cx="253" cy="1586" r="6.1"/><circle cx="249" cy="1614" r="6.1"/><circle cx="327" cy="1489" r="6.1"/><circle cx="274" cy="1532" r="6.1"/><circle cx="193" cy="1605" r="6.1"/><circle cx="390" cy="1483" r="6.1"/><circle cx="324" cy="1538" r="6.1"/><circle cx="183" cy="1564" r="6.1"/><circle cx="306" cy="1567" r="6.1"/><circle cx="334" cy="1553" r="6.1"/><circle cx="281" cy="1527" r="6.1"/><circle cx="193" cy="1617" r="6.1"/><circle cx="180" cy="1618" r="6.1"/><circle cx="287" cy="1524" r="6.1"/><circle cx="252" cy="1557" r="6.1"/><circle cx="156" cy="1624" r="6.1"/><circle cx="310" cy="1572" r="6.1"/><circle cx="255" cy="1650" r="6.1"/><circle cx="329" cy="1493" r="6.1"/><circle cx="315" cy="1548" r="6.1"/><circle cx="299" cy="1566" r="6.1"/><circle cx="147" cy="1569" r="6.1"/><circle cx="297" cy="1583" r="6.1"/><circle cx="206" cy="1599" r="6.1"/><circle cx="355" cy="1495" r="6.1"/><circle cx="314" cy="1546" r="6.1"/><circle cx="308" cy="1550" r="6.1"/><circle cx="274" cy="1530" r="6.1"/><circle cx="376" cy="1484" r="6.1"/><circle cx="323" cy="1538" r="6.1"/><circle cx="364" cy="1522" r="6.1"/><circle cx="274" cy="1545" r="6.1"/><circle cx="386" cy="1459" r="6.1"/><circle cx="215" cy="1669" r="6.1"/><circle cx="267" cy="1594" r="6.1"/><circle cx="269" cy="1600" r="6.1"/><circle cx="299" cy="1572" r="6.1"/><circle cx="290" cy="1570" r="6.1"/><circle cx="224" cy="1608" r="6.1"/><circle cx="354" cy="1487" r="6.1"/><circle cx="237" cy="1603" r="6.1"/><circle cx="271" cy="1586" r="6.1"/><circle cx="328" cy="1514" r="6.1"/><circle cx="353" cy="1495" r="6.1"/><circle cx="266" cy="1566" r="6.1"/><circle cx="322" cy="1520" r="6.1"/><circle cx="310" cy="1507" r="6.1"/><circle cx="329" cy="1541" r="6.1"/><circle cx="259" cy="1551" r="6.1"/><circle cx="326" cy="1525" r="6.1"/><circle cx="249" cy="1579" r="6.1"/><circle cx="246" cy="1577" r="6.1"/><circle cx="381" cy="1471" r="6.1"/><circle cx="232" cy="1587" r="6.1"/><circle cx="362" cy="1484" r="6.1"/><circle cx="167" cy="1597" r="6.1"/><circle cx="288" cy="1581" r="6.1"/><circle cx="223" cy="1670" r="6.1"/><circle cx="223" cy="1687" r="6.1"/><circle cx="298" cy="1529" r="6.1"/><circle cx="252" cy="1610" r="6.1"/><circle cx="351" cy="1490" r="6.1"/><circle cx="228" cy="1566" r="6.1"/><circle cx="248" cy="1582" r="6.1"/><circle cx="408" cy="1422" r="6.1"/><circle cx="307" cy="1557" r="6.1"/><circle cx="276" cy="1553" r="6.1"/><circle cx="298" cy="1508" r="6.1"/><circle cx="283" cy="1526" r="6.1"/><circle cx="236" cy="1590" r="6.1"/><circle cx="230" cy="1659" r="6.1"/><circle cx="266" cy="1585" r="6.1"/><circle cx="230" cy="1653" r="6.1"/><circle cx="213" cy="1600" r="6.1"/><circle cx="353" cy="1492" r="6.1"/><circle cx="155" cy="1606" r="6.1"/><circle cx="189" cy="1655" r="6.1"/><circle cx="299" cy="1541" r="6.1"/><circle cx="240" cy="1582" r="6.1"/><circle cx="286" cy="1551" r="6.1"/><circle cx="345" cy="1501" r="6.1"/><circle cx="221" cy="1572" r="6.1"/><circle cx="212" cy="1578" r="6.1"/><circle cx="225" cy="1609" r="6.1"/><circle cx="236" cy="1613" r="6.1"/><circle cx="308" cy="1577" r="6.1"/><circle cx="217" cy="1627" r="6.1"/><circle cx="298" cy="1521" r="6.1"/><circle cx="201" cy="1585" r="6.1"/><circle cx="230" cy="1589" r="6.1"/><circle cx="221" cy="1612" r="6.1"/><circle cx="331" cy="1501" r="6.1"/><circle cx="233" cy="1566" r="6.1"/><circle cx="306" cy="1559" r="6.1"/><circle cx="236" cy="1646" r="6.1"/><circle cx="203" cy="1574" r="6.1"/><circle cx="246" cy="1621" r="6.1"/><circle cx="300" cy="1514" r="6.1"/><circle cx="313" cy="1512" r="6.1"/><circle cx="228" cy="1626" r="6.1"/><circle cx="227" cy="1598" r="6.1"/><circle cx="278" cy="1565" r="6.1"/><circle cx="394" cy="1435" r="6.1"/><circle cx="535" cy="1320" r="6.1"/><circle cx="239" cy="1563" r="6.1"/><circle cx="252" cy="1625" r="6.1"/><circle cx="260" cy="1581" r="6.1"/><circle cx="335" cy="1512" r="6.1"/><circle cx="251" cy="1605" r="6.1"/><circle cx="272" cy="1559" r="6.1"/><circle cx="328" cy="1530" r="6.1"/><circle cx="223" cy="1606" r="6.1"/><circle cx="347" cy="1448" r="6.1"/><circle cx="271" cy="1545" r="6.1"/><circle cx="223" cy="1591" r="6.1"/><circle cx="242" cy="1630" r="6.1"/><circle cx="294" cy="1532" r="6.1"/><circle cx="350" cy="1479" r="6.1"/><circle cx="298" cy="1564" r="6.1"/><circle cx="274" cy="1541" r="6.1"/><circle cx="298" cy="1542" r="6.1"/><circle cx="302" cy="1559" r="6.1"/><circle cx="224" cy="1629" r="6.1"/><circle cx="313" cy="1526" r="6.1"/><circle cx="208" cy="1622" r="6.1"/><circle cx="277" cy="1593" r="6.1"/><circle cx="282" cy="1576" r="6.1"/><circle cx="210" cy="1637" r="6.1"/><circle cx="222" cy="1596" r="6.1"/><circle cx="242" cy="1566" r="6.1"/><circle cx="325" cy="1542" r="6.1"/><circle cx="195" cy="1585" r="6.1"/><circle cx="195" cy="1581" r="6.1"/><circle cx="302" cy="1588" r="6.1"/><circle cx="296" cy="1517" r="6.1"/><circle cx="336" cy="1522" r="6.1"/><circle cx="385" cy="1462" r="6.1"/><circle cx="253" cy="1561" r="6.1"/><circle cx="228" cy="1637" r="6.1"/><circle cx="247" cy="1570" r="6.1"/><circle cx="258" cy="1581" r="6.1"/><circle cx="290" cy="1537" r="6.1"/><circle cx="317" cy="1500" r="6.1"/><circle cx="233" cy="1597" r="6.1"/><circle cx="349" cy="1497" r="6.1"/><circle cx="287" cy="1543" r="6.1"/><circle cx="312" cy="1563" r="6.1"/><circle cx="240" cy="1581" r="6.1"/><circle cx="201" cy="1598" r="6.1"/><circle cx="192" cy="1597" r="6.1"/><circle cx="258" cy="1545" r="6.1"/><circle cx="298" cy="1576" r="6.1"/><circle cx="362" cy="1496" r="6.1"/><circle cx="198" cy="1617" r="6.1"/><circle cx="182" cy="1592" r="6.1"/><circle cx="305" cy="1532" r="6.1"/><circle cx="247" cy="1652" r="6.1"/><circle cx="251" cy="1601" r="6.1"/><circle cx="294" cy="1506" r="6.1"/><circle cx="362" cy="1477" r="6.1"/><circle cx="333" cy="1523" r="6.1"/><circle cx="219" cy="1584" r="6.1"/><circle cx="258" cy="1576" r="6.1"/><circle cx="333" cy="1541" r="6.1"/><circle cx="279" cy="1551" r="6.1"/><circle cx="342" cy="1509" r="6.1"/><circle cx="209" cy="1598" r="6.1"/><circle cx="298" cy="1531" r="6.1"/><circle cx="272" cy="1580" r="6.1"/><circle cx="248" cy="1597" r="6.1"/><circle cx="415" cy="1429" r="6.1"/><circle cx="335" cy="1508" r="6.1"/><circle cx="365" cy="1448" r="6.1"/><circle cx="210" cy="1627" r="6.1"/><circle cx="259" cy="1582" r="6.1"/><circle cx="269" cy="1604" r="6.1"/><circle cx="202" cy="1634" r="6.1"/><circle cx="288" cy="1617" r="6.1"/><circle cx="376" cy="1472" r="6.1"/><circle cx="278" cy="1581" r="6.1"/><circle cx="264" cy="1548" r="6.1"/><circle cx="314" cy="1510" r="6.1"/><circle cx="225" cy="1580" r="6.1"/><circle cx="233" cy="1585" r="6.1"/><circle cx="238" cy="1560" r="6.1"/><circle cx="263" cy="1558" r="6.1"/><circle cx="295" cy="1536" r="6.1"/><circle cx="224" cy="1586" r="6.1"/><circle cx="290" cy="1553" r="6.1"/><circle cx="305" cy="1560" r="6.1"/><circle cx="346" cy="1491" r="6.1"/><circle cx="222" cy="1608" r="6.1"/><circle cx="309" cy="1555" r="6.1"/><circle cx="230" cy="1573" r="6.1"/><circle cx="173" cy="1565" r="6.1"/><circle cx="246" cy="1617" r="6.1"/><circle cx="320" cy="1533" r="6.1"/><circle cx="226" cy="1656" r="6.1"/><circle cx="208" cy="1584" r="6.1"/><circle cx="306" cy="1534" r="6.1"/><circle cx="318" cy="1507" r="6.1"/><circle cx="163" cy="1654" r="6.1"/><circle cx="365" cy="1468" r="6.1"/><circle cx="330" cy="1485" r="6.1"/><circle cx="223" cy="1712" r="6.1"/><circle cx="207" cy="1591" r="6.1"/><circle cx="335" cy="1514" r="6.1"/><circle cx="251" cy="1568" r="6.1"/><circle cx="311" cy="1531" r="6.1"/><circle cx="274" cy="1588" r="6.1"/><circle cx="213" cy="1541" r="6.1"/><circle cx="288" cy="1571" r="6.1"/><circle cx="284" cy="1593" r="6.1"/><circle cx="224" cy="1617" r="6.1"/><circle cx="321" cy="1520" r="6.1"/><circle cx="193" cy="1601" r="6.1"/><circle cx="170" cy="1602" r="6.1"/><circle cx="179" cy="1570" r="6.1"/><circle cx="215" cy="1579" r="6.1"/><circle cx="287" cy="1536" r="6.1"/><circle cx="253" cy="1649" r="6.1"/><circle cx="301" cy="1576" r="6.1"/><circle cx="228" cy="1557" r="6.1"/><circle cx="266" cy="1600" r="6.1"/><circle cx="278" cy="1568" r="6.1"/><circle cx="322" cy="1519" r="6.1"/><circle cx="233" cy="1567" r="6.1"/><circle cx="281" cy="1535" r="6.1"/><circle cx="221" cy="1574" r="6.1"/><circle cx="209" cy="1610" r="6.1"/><circle cx="313" cy="1515" r="6.1"/><circle cx="192" cy="1601" r="6.1"/><circle cx="325" cy="1508" r="6.1"/><circle cx="259" cy="1604" r="6.1"/><circle cx="285" cy="1568" r="6.1"/><circle cx="290" cy="1562" r="6.1"/><circle cx="305" cy="1523" r="6.1"/><circle cx="263" cy="1602" r="6.1"/><circle cx="232" cy="1574" r="6.1"/><circle cx="197" cy="1606" r="6.1"/><circle cx="248" cy="1614" r="6.1"/><circle cx="174" cy="1675" r="6.1"/><circle cx="170" cy="1628" r="6.1"/><circle cx="260" cy="1500" r="6.1"/><circle cx="257" cy="1617" r="6.1"/><circle cx="244" cy="1615" r="6.1"/><circle cx="228" cy="1644" r="6.1"/><circle cx="206" cy="1622" r="6.1"/><circle cx="235" cy="1573" r="6.1"/><circle cx="189" cy="1621" r="6.1"/><circle cx="235" cy="1612" r="6.1"/><circle cx="237" cy="1611" r="6.1"/><circle cx="315" cy="1505" r="6.1"/><circle cx="270" cy="1588" r="6.1"/><circle cx="217" cy="1623" r="6.1"/><circle cx="336" cy="1511" r="6.1"/><circle cx="250" cy="1603" r="6.1"/><circle cx="316" cy="1512" r="6.1"/><circle cx="274" cy="1550" r="6.1"/><circle cx="254" cy="1561" r="6.1"/><circle cx="354" cy="1501" r="6.1"/><circle cx="263" cy="1569" r="6.1"/><circle cx="348" cy="1487" r="6.1"/><circle cx="314" cy="1548" r="6.1"/><circle cx="260" cy="1604" r="6.1"/><circle cx="308" cy="1553" r="6.1"/><circle cx="298" cy="1592" r="6.1"/><circle cx="441" cy="1397" r="6.1"/><circle cx="264" cy="1602" r="6.1"/><circle cx="240" cy="1573" r="6.1"/><circle cx="298" cy="1555" r="6.1"/><circle cx="254" cy="1584" r="6.1"/><circle cx="314" cy="1581" r="6.1"/><circle cx="370" cy="1473" r="6.1"/><circle cx="360" cy="1491" r="6.1"/><circle cx="276" cy="1572" r="6.1"/><circle cx="250" cy="1552" r="6.1"/><circle cx="227" cy="1651" r="6.1"/><circle cx="353" cy="1515" r="6.1"/><circle cx="406" cy="1453" r="6.1"/><circle cx="275" cy="1542" r="6.1"/><circle cx="244" cy="1558" r="6.1"/><circle cx="197" cy="1538" r="6.1"/><circle cx="249" cy="1609" r="6.1"/><circle cx="382" cy="1470" r="6.1"/><circle cx="331" cy="1494" r="6.1"/><circle cx="390" cy="1456" r="6.1"/><circle cx="275" cy="1611" r="6.1"/><circle cx="340" cy="1518" r="6.1"/><circle cx="321" cy="1546" r="6.1"/><circle cx="297" cy="1564" r="6.1"/><circle cx="275" cy="1561" r="6.1"/><circle cx="335" cy="1501" r="6.1"/><circle cx="254" cy="1566" r="6.1"/><circle cx="187" cy="1592" r="6.1"/><circle cx="213" cy="1599" r="6.1"/><circle cx="263" cy="1575" r="6.1"/><circle cx="365" cy="1515" r="6.1"/><circle cx="441" cy="1434" r="6.1"/><circle cx="221" cy="1622" r="6.1"/><circle cx="226" cy="1577" r="6.1"/><circle cx="234" cy="1627" r="6.1"/><circle cx="415" cy="1447" r="6.1"/><circle cx="298" cy="1606" r="6.1"/><circle cx="253" cy="1593" r="6.1"/><circle cx="247" cy="1592" r="6.1"/><circle cx="255" cy="1551" r="6.1"/><circle cx="251" cy="1576" r="6.1"/><circle cx="305" cy="1530" r="6.1"/><circle cx="290" cy="1581" r="6.1"/><circle cx="314" cy="1521" r="6.1"/><circle cx="233" cy="1614" r="6.1"/><circle cx="304" cy="1510" r="6.1"/><circle cx="243" cy="1607" r="6.1"/><circle cx="196" cy="1594" r="6.1"/><circle cx="239" cy="1594" r="6.1"/><circle cx="364" cy="1495" r="6.1"/><circle cx="354" cy="1477" r="6.1"/><circle cx="177" cy="1599" r="6.1"/><circle cx="342" cy="1498" r="6.1"/><circle cx="271" cy="1560" r="6.1"/><circle cx="252" cy="1605" r="6.1"/><circle cx="278" cy="1560" r="6.1"/><circle cx="235" cy="1575" r="6.1"/><circle cx="325" cy="1516" r="6.1"/><circle cx="270" cy="1566" r="6.1"/><circle cx="361" cy="1496" r="6.1"/><circle cx="226" cy="1587" r="6.1"/><circle cx="147" cy="1596" r="6.1"/><circle cx="290" cy="1536" r="6.1"/><circle cx="201" cy="1632" r="6.1"/><circle cx="232" cy="1578" r="6.1"/><circle cx="287" cy="1548" r="6.1"/><circle cx="260" cy="1562" r="6.1"/><circle cx="299" cy="1558" r="6.1"/><circle cx="264" cy="1534" r="6.1"/><circle cx="245" cy="1582" r="6.1"/><circle cx="234" cy="1606" r="6.1"/><circle cx="355" cy="1509" r="6.1"/><circle cx="320" cy="1529" r="6.1"/><circle cx="223" cy="1618" r="6.1"/><circle cx="162" cy="1611" r="6.1"/><circle cx="287" cy="1556" r="6.1"/><circle cx="261" cy="1554" r="6.1"/><circle cx="204" cy="1602" r="6.1"/><circle cx="323" cy="1511" r="6.1"/><circle cx="248" cy="1594" r="6.1"/><circle cx="272" cy="1578" r="6.1"/><circle cx="252" cy="1504" r="6.1"/><circle cx="252" cy="1601" r="6.1"/><circle cx="298" cy="1569" r="6.1"/><circle cx="268" cy="1589" r="6.1"/><circle cx="305" cy="1516" r="6.1"/><circle cx="354" cy="1509" r="6.1"/><circle cx="252" cy="1546" r="6.1"/><circle cx="379" cy="1476" r="6.1"/><circle cx="192" cy="1592" r="6.1"/><circle cx="269" cy="1528" r="6.1"/><circle cx="300" cy="1517" r="6.1"/><circle cx="438" cy="1393" r="6.1"/><circle cx="339" cy="1480" r="6.1"/><circle cx="313" cy="1524" r="6.1"/><circle cx="317" cy="1519" r="6.1"/><circle cx="194" cy="1612" r="6.1"/><circle cx="254" cy="1566" r="6.1"/><circle cx="257" cy="1569" r="6.1"/><circle cx="290" cy="1573" r="6.1"/><circle cx="277" cy="1584" r="6.1"/><circle cx="326" cy="1537" r="6.1"/><circle cx="268" cy="1536" r="6.1"/><circle cx="218" cy="1598" r="6.1"/><circle cx="222" cy="1585" r="6.1"/><circle cx="203" cy="1630" r="6.1"/><circle cx="212" cy="1596" r="6.1"/><circle cx="244" cy="1619" r="6.1"/><circle cx="341" cy="1540" r="6.1"/><circle cx="271" cy="1631" r="6.1"/><circle cx="204" cy="1568" r="6.1"/><circle cx="238" cy="1576" r="6.1"/><circle cx="307" cy="1538" r="6.1"/><circle cx="339" cy="1500" r="6.1"/><circle cx="202" cy="1580" r="6.1"/><circle cx="247" cy="1565" r="6.1"/><circle cx="225" cy="1625" r="6.1"/><circle cx="222" cy="1593" r="6.1"/><circle cx="229" cy="1625" r="6.1"/><circle cx="304" cy="1573" r="6.1"/><circle cx="281" cy="1554" r="6.1"/><circle cx="309" cy="1542" r="6.1"/><circle cx="281" cy="1571" r="6.1"/><circle cx="348" cy="1506" r="6.1"/><circle cx="292" cy="1552" r="6.1"/><circle cx="258" cy="1588" r="6.1"/><circle cx="344" cy="1472" r="6.1"/><circle cx="214" cy="1618" r="6.1"/><circle cx="229" cy="1561" r="6.1"/><circle cx="197" cy="1630" r="6.1"/><circle cx="221" cy="1544" r="6.1"/><circle cx="279" cy="1582" r="6.1"/><circle cx="402" cy="1437" r="6.1"/><circle cx="278" cy="1579" r="6.1"/><circle cx="280" cy="1583" r="6.1"/><circle cx="471" cy="1375" r="6.1"/><circle cx="383" cy="1452" r="6.1"/><circle cx="329" cy="1506" r="6.1"/><circle cx="421" cy="1396" r="6.1"/><circle cx="215" cy="1657" r="6.1"/><circle cx="335" cy="1519" r="6.1"/><circle cx="226" cy="1597" r="6.1"/><circle cx="268" cy="1490" r="6.1"/><circle cx="202" cy="1580" r="6.1"/><circle cx="327" cy="1542" r="6.1"/><circle cx="293" cy="1521" r="6.1"/><circle cx="294" cy="1587" r="6.1"/><circle cx="447" cy="1388" r="6.1"/><circle cx="254" cy="1588" r="6.1"/><circle cx="312" cy="1538" r="6.1"/><circle cx="305" cy="1543" r="6.1"/><circle cx="347" cy="1449" r="6.1"/><circle cx="295" cy="1500" r="6.1"/><circle cx="198" cy="1653" r="6.1"/><circle cx="250" cy="1619" r="6.1"/><circle cx="378" cy="1488" r="6.1"/><circle cx="231" cy="1605" r="6.1"/><circle cx="263" cy="1644" r="6.1"/><circle cx="361" cy="1468" r="6.1"/><circle cx="247" cy="1650" r="6.1"/><circle cx="376" cy="1465" r="6.1"/><circle cx="218" cy="1636" r="6.1"/><circle cx="221" cy="1580" r="6.1"/><circle cx="239" cy="1610" r="6.1"/><circle cx="178" cy="1620" r="6.1"/><circle cx="265" cy="1609" r="6.1"/><circle cx="331" cy="1525" r="6.1"/><circle cx="357" cy="1508" r="6.1"/><circle cx="271" cy="1560" r="6.1"/><circle cx="234" cy="1643" r="6.1"/><circle cx="280" cy="1546" r="6.1"/><circle cx="296" cy="1518" r="6.1"/><circle cx="424" cy="1432" r="6.1"/><circle cx="248" cy="1600" r="6.1"/><circle cx="252" cy="1577" r="6.1"/><circle cx="306" cy="1548" r="6.1"/><circle cx="210" cy="1617" r="6.1"/><circle cx="197" cy="1562" r="6.1"/><circle cx="412" cy="1438" r="6.1"/><circle cx="364" cy="1492" r="6.1"/><circle cx="283" cy="1544" r="6.1"/><circle cx="325" cy="1581" r="6.1"/><circle cx="368" cy="1494" r="6.1"/><circle cx="246" cy="1587" r="6.1"/><circle cx="409" cy="1418" r="6.1"/><circle cx="255" cy="1610" r="6.1"/><circle cx="218" cy="1592" r="6.1"/><circle cx="330" cy="1519" r="6.1"/><circle cx="336" cy="1515" r="6.1"/><circle cx="303" cy="1580" r="6.1"/><circle cx="267" cy="1575" r="6.1"/><circle cx="262" cy="1601" r="6.1"/><circle cx="326" cy="1532" r="6.1"/><circle cx="294" cy="1553" r="6.1"/><circle cx="347" cy="1476" r="6.1"/><circle cx="158" cy="1609" r="6.1"/><circle cx="230" cy="1633" r="6.1"/><circle cx="245" cy="1540" r="6.1"/><circle cx="237" cy="1605" r="6.1"/><circle cx="272" cy="1575" r="6.1"/><circle cx="342" cy="1542" r="6.1"/><circle cx="227" cy="1595" r="6.1"/><circle cx="225" cy="1634" r="6.1"/><circle cx="253" cy="1545" r="6.1"/><circle cx="305" cy="1551" r="6.1"/><circle cx="268" cy="1616" r="6.1"/><circle cx="294" cy="1545" r="6.1"/><circle cx="255" cy="1623" r="6.1"/><circle cx="243" cy="1643" r="6.1"/><circle cx="249" cy="1619" r="6.1"/><circle cx="195" cy="1589" r="6.1"/><circle cx="439" cy="1416" r="6.1"/><circle cx="327" cy="1524" r="6.1"/><circle cx="344" cy="1512" r="6.1"/><circle cx="173" cy="1653" r="6.1"/><circle cx="236" cy="1616" r="6.1"/><circle cx="247" cy="1629" r="6.1"/><circle cx="217" cy="1600" r="6.1"/><circle cx="281" cy="1558" r="6.1"/><circle cx="213" cy="1579" r="6.1"/><circle cx="228" cy="1608" r="6.1"/><circle cx="223" cy="1622" r="6.1"/><circle cx="363" cy="1489" r="6.1"/><circle cx="260" cy="1578" r="6.1"/><circle cx="322" cy="1522" r="6.1"/><circle cx="242" cy="1577" r="6.1"/><circle cx="304" cy="1537" r="6.1"/><circle cx="328" cy="1518" r="6.1"/><circle cx="407" cy="1437" r="6.1"/><circle cx="276" cy="1530" r="6.1"/><circle cx="194" cy="1603" r="6.1"/>
</g>
<path d="M144.0 1599.7 L147.3 1599.7 L150.6 1599.7 L153.9 1599.8 L157.2 1599.9 L160.5 1600.0 L163.8 1600.1 L167.0 1600.3 L170.3 1600.5 L173.6 1600.6 L176.9 1600.7 L180.2 1600.7 L183.5 1600.7 L186.8 1600.6 L190.1 1600.5 L193.4 1600.3 L196.7 1600.0 L200.0 1599.6 L203.3 1599.1 L206.5 1598.4 L209.8 1597.7 L213.1 1596.8 L216.4 1595.8 L219.7 1594.6 L223.0 1593.4 L226.3 1592.0 L229.6 1590.5 L232.9 1588.9 L236.2 1587.1 L239.5 1585.2 L242.8 1583.2 L246.0 1581.1 L249.3 1578.8 L252.6 1576.4 L255.9 1574.0 L259.2 1571.5 L262.5 1569.0 L265.8 1566.5 L269.1 1564.1 L272.4 1561.6 L275.7 1559.2 L279.0 1556.8 L282.3 1554.5 L285.5 1552.1 L288.8 1549.8 L292.1 1547.4 L295.4 1545.0 L298.7 1542.6 L302.0 1540.1 L305.3 1537.6 L308.6 1535.1 L311.9 1532.4 L315.2 1529.8 L318.5 1527.1 L321.7 1524.3 L325.0 1521.5 L328.3 1518.6 L331.6 1515.7 L334.9 1512.7 L338.2 1509.6 L341.5 1506.4 L344.8 1503.1 L348.1 1499.7 L351.4 1496.3 L354.7 1492.8 L358.0 1489.3 L361.2 1485.8 L364.5 1482.4 L367.8 1479.0 L371.1 1475.7 L374.4 1472.5 L377.7 1469.4 L381.0 1466.3 L384.3 1463.3 L387.6 1460.4 L390.9 1457.5 L394.2 1454.6 L397.5 1451.7 L400.7 1448.9 L404.0 1446.1 L407.3 1443.2 L410.6 1440.4 L413.9 1437.5 L417.2 1434.6 L420.5 1431.7 L423.8 1428.7 L427.1 1425.7 L430.4 1422.7 L433.7 1419.7 L437.0 1416.6 L440.2 1413.6 L443.5 1410.6 L446.8 1407.6 L450.1 1404.5 L453.4 1401.5 L456.7 1398.5 L460.0 1395.5 L463.3 1392.5 L466.6 1389.6 L469.9 1386.7 L473.2 1383.9 L476.5 1381.1 L479.7 1378.3 L483.0 1375.5 L486.3 1372.6 L489.6 1369.7 L492.9 1366.8 L496.2 1363.8 L499.5 1360.7 L502.8 1357.6 L506.1 1354.5 L509.4 1351.3 L512.7 1348.1 L516.0 1344.8 L519.2 1341.5 L522.5 1338.2 L525.8 1335.0 L529.1 1331.7 L532.4 1328.5 L535.7 1325.4" stroke="#3366ff" stroke-width="5.8" fill="none" stroke-linecap="butt"/>
</g>
<rect x="134.2" y="1191.4" width="411.2" height="54.7" fill="#fff" stroke="#000" stroke-width="3.2"/>
<text x="338.5" y="1230.5" font-size="31.5" fill="#1a1a1a" text-anchor="middle" textLength="245.6" lengthAdjust="spacingAndGlyphs">Smakhtin - class C</text>
<path d="M132.6 1246.1V1765.8" stroke="#000" stroke-width="3"/>
<path d="M123.6 1621.7H132.6M123.6 1466.7H132.6M123.6 1311.7H132.6" stroke="#333" stroke-width="3"/>
<text x="116.5" y="1638" font-size="30" fill="#4d4d4d" text-anchor="end">10<tspan font-size="21.5" dy="-15">-1</tspan></text>
<text x="116.5" y="1483" font-size="30" fill="#4d4d4d" text-anchor="end">10<tspan font-size="21.5" dy="-15">2</tspan></text>
<text x="116.5" y="1328" font-size="30" fill="#4d4d4d" text-anchor="end">10<tspan font-size="21.5" dy="-15">5</tspan></text>
<path d="M131.1 1764.3H546.6" stroke="#000" stroke-width="3"/>
<path d="M223.7 1764.3V1773.3M327.4 1764.3V1773.3M431.1 1764.3V1773.3M534.8 1764.3V1773.3" stroke="#333" stroke-width="3"/>
<text x="223.7" y="1815" font-size="30" fill="#4d4d4d" text-anchor="middle">10<tspan font-size="21.5" dy="-15">-1</tspan></text>
<text x="327.4" y="1815" font-size="30" fill="#4d4d4d" text-anchor="middle">10<tspan font-size="21.5" dy="-15">1</tspan></text>
<text x="431.1" y="1815" font-size="30" fill="#4d4d4d" text-anchor="middle">10<tspan font-size="21.5" dy="-15">3</tspan></text>
<text x="534.8" y="1815" font-size="30" fill="#4d4d4d" text-anchor="middle">10<tspan font-size="21.5" dy="-15">5</tspan></text>
<g clip-path="url(#c7)">
<path d="M656.5 1246.1V1764.3M760.2 1246.1V1764.3M863.9 1246.1V1764.3M967.6 1246.1V1764.3M565.4 1621.7H979.4M565.4 1466.7H979.4M565.4 1311.7H979.4" stroke="#ebebeb" stroke-width="2.2" fill="none"/>
<path d="M513.5 1712.5 L1031.2 1196.6 L1031.2 1299.9 L513.5 1815.8Z" fill="#ccf2f3"/>
<path d="M513.5 1764.2L1031.2 1248.3" stroke="#000" stroke-opacity="0.6" stroke-width="2.3"/>
<path d="M576.8 1601.9 L580.1 1602.1 L583.4 1602.3 L586.7 1602.5 L590.0 1602.8 L593.3 1603.0 L596.6 1603.3 L599.9 1603.6 L603.2 1603.9 L606.4 1604.1 L609.7 1604.2 L613.0 1604.3 L616.3 1604.4 L619.6 1604.3 L622.9 1604.2 L626.2 1604.1 L629.5 1603.8 L632.8 1603.5 L636.1 1603.0 L639.4 1602.5 L642.7 1601.8 L646.0 1601.1 L649.3 1600.3 L652.6 1599.4 L655.8 1598.3 L659.1 1597.1 L662.4 1595.8 L665.7 1594.4 L669.0 1592.8 L672.3 1591.1 L675.6 1589.3 L678.9 1587.4 L682.2 1585.4 L685.5 1583.3 L688.8 1581.2 L692.1 1579.1 L695.4 1576.9 L698.7 1574.6 L701.9 1572.3 L705.2 1569.9 L708.5 1567.5 L711.8 1565.1 L715.1 1562.7 L718.4 1560.3 L721.7 1557.9 L725.0 1555.5 L728.3 1553.1 L731.6 1550.7 L734.9 1548.2 L738.2 1545.7 L741.5 1543.1 L744.8 1540.5 L748.1 1537.9 L751.3 1535.2 L754.6 1532.4 L757.9 1529.6 L761.2 1526.7 L764.5 1523.8 L767.8 1520.8 L771.1 1517.7 L774.4 1514.5 L777.7 1511.2 L781.0 1507.8 L784.3 1504.4 L787.6 1501.0 L790.9 1497.5 L794.2 1494.1 L797.5 1490.8 L800.7 1487.5 L804.0 1484.3 L807.3 1481.2 L810.6 1478.1 L813.9 1475.1 L817.2 1472.1 L820.5 1469.2 L823.8 1466.2 L827.1 1463.4 L830.4 1460.5 L833.7 1457.6 L837.0 1454.7 L840.3 1451.6 L843.6 1448.4 L846.9 1445.1 L850.1 1441.8 L853.4 1438.5 L856.7 1435.2 L860.0 1431.9 L863.3 1428.6 L866.6 1425.1 L869.9 1421.5 L873.2 1418.0 L876.5 1414.4 L879.8 1410.8 L883.1 1407.2 L886.4 1403.7 L889.7 1400.1 L893.0 1396.5 L896.2 1392.8 L899.5 1389.1 L902.8 1385.4 L906.1 1381.7 L909.4 1378.0 L912.7 1374.1 L916.0 1370.2 L919.3 1366.0 L922.6 1361.8 L925.9 1357.5 L929.2 1353.2 L932.5 1348.9 L935.8 1344.7 L939.1 1340.5 L942.4 1336.3 L945.6 1332.3 L948.9 1328.2 L952.2 1324.2 L955.5 1320.2 L958.8 1316.2 L962.1 1312.3 L965.4 1308.4 L968.7 1304.5 L968.7 1358.4 L965.4 1360.8 L962.1 1363.1 L958.8 1365.5 L955.5 1368.0 L952.2 1370.4 L948.9 1372.9 L945.6 1375.4 L942.4 1378.0 L939.1 1380.6 L935.8 1383.2 L932.5 1385.8 L929.2 1388.5 L925.9 1391.3 L922.6 1394.0 L919.3 1396.6 L916.0 1399.2 L912.7 1401.7 L909.4 1404.1 L906.1 1406.5 L902.8 1408.7 L899.5 1410.9 L896.2 1413.2 L893.0 1415.4 L889.7 1417.7 L886.4 1420.1 L883.1 1422.6 L879.8 1425.2 L876.5 1427.7 L873.2 1430.2 L869.9 1432.8 L866.6 1435.3 L863.3 1437.8 L860.0 1440.5 L856.7 1443.1 L853.4 1445.8 L850.1 1448.4 L846.9 1451.0 L843.6 1453.6 L840.3 1456.2 L837.0 1458.9 L833.7 1461.7 L830.4 1464.6 L827.1 1467.5 L823.8 1470.4 L820.5 1473.3 L817.2 1476.2 L813.9 1479.2 L810.6 1482.2 L807.3 1485.3 L804.0 1488.5 L800.7 1491.7 L797.5 1494.9 L794.2 1498.3 L790.9 1501.7 L787.6 1505.1 L784.3 1508.5 L781.0 1512.0 L777.7 1515.3 L774.4 1518.6 L771.1 1521.8 L767.8 1524.9 L764.5 1527.9 L761.2 1530.8 L757.9 1533.7 L754.6 1536.5 L751.3 1539.3 L748.1 1542.0 L744.8 1544.7 L741.5 1547.3 L738.2 1549.8 L734.9 1552.3 L731.6 1554.8 L728.3 1557.2 L725.0 1559.7 L721.7 1562.1 L718.4 1564.5 L715.1 1566.9 L711.8 1569.3 L708.5 1571.7 L705.2 1574.1 L701.9 1576.4 L698.7 1578.7 L695.4 1581.0 L692.1 1583.2 L688.8 1585.4 L685.5 1587.5 L682.2 1589.5 L678.9 1591.5 L675.6 1593.4 L672.3 1595.2 L669.0 1596.9 L665.7 1598.5 L662.4 1599.9 L659.1 1601.3 L655.8 1602.5 L652.6 1603.7 L649.3 1604.7 L646.0 1605.7 L642.7 1606.5 L639.4 1607.3 L636.1 1608.0 L632.8 1608.6 L629.5 1609.1 L626.2 1609.6 L622.9 1610.0 L619.6 1610.4 L616.3 1610.7 L613.0 1610.9 L609.7 1611.1 L606.4 1611.2 L603.2 1611.3 L599.9 1611.5 L596.6 1611.6 L593.3 1611.8 L590.0 1612.0 L586.7 1612.1 L583.4 1612.3 L580.1 1612.6 L576.8 1612.8Z" fill="#999" fill-opacity="0.4"/>
<g class="pts" fill="#000" fill-opacity="0.4" stroke="#000" stroke-opacity="0.4" stroke-width="1.5">
<circle cx="603" cy="1638" r="6.1"/><circle cx="736" cy="1541" r="6.1"/><circle cx="639" cy="1632" r="6.1"/><circle cx="726" cy="1516" r="6.1"/><circle cx="654" cy="1622" r="6.1"/><circle cx="715" cy="1554" r="6.1"/><circle cx="709" cy="1563" r="6.1"/><circle cx="723" cy="1546" r="6.1"/><circle cx="657" cy="1643" r="6.1"/><circle cx="626" cy="1607" r="6.1"/><circle cx="712" cy="1584" r="6.1"/><circle cx="717" cy="1595" r="6.1"/><circle cx="675" cy="1602" r="6.1"/><circle cx="721" cy="1584" r="6.1"/><circle cx="791" cy="1480" r="6.1"/><circle cx="672" cy="1621" r="6.1"/><circle cx="601" cy="1593" r="6.1"/><circle cx="717" cy="1550" r="6.1"/><circle cx="670" cy="1630" r="6.1"/><circle cx="824" cy="1482" r="6.1"/><circle cx="730" cy="1576" r="6.1"/><circle cx="634" cy="1613" r="6.1"/><circle cx="666" cy="1575" r="6.1"/><circle cx="622" cy="1630" r="6.1"/><circle cx="790" cy="1495" r="6.1"/><circle cx="798" cy="1548" r="6.1"/><circle cx="628" cy="1591" r="6.1"/><circle cx="654" cy="1579" r="6.1"/><circle cx="701" cy="1500" r="6.1"/><circle cx="738" cy="1572" r="6.1"/><circle cx="656" cy="1706" r="6.1"/><circle cx="673" cy="1590" r="6.1"/><circle cx="750" cy="1549" r="6.1"/><circle cx="729" cy="1528" r="6.1"/><circle cx="732" cy="1542" r="6.1"/><circle cx="684" cy="1617" r="6.1"/><circle cx="707" cy="1602" r="6.1"/><circle cx="657" cy="1605" r="6.1"/><circle cx="686" cy="1575" r="6.1"/><circle cx="655" cy="1604" r="6.1"/><circle cx="693" cy="1604" r="6.1"/><circle cx="700" cy="1570" r="6.1"/><circle cx="635" cy="1625" r="6.1"/><circle cx="675" cy="1600" r="6.1"/><circle cx="705" cy="1593" r="6.1"/><circle cx="704" cy="1570" r="6.1"/><circle cx="651" cy="1605" r="6.1"/><circle cx="642" cy="1648" r="6.1"/><circle cx="792" cy="1513" r="6.1"/><circle cx="782" cy="1540" r="6.1"/><circle cx="720" cy="1635" r="6.1"/><circle cx="725" cy="1570" r="6.1"/><circle cx="783" cy="1488" r="6.1"/><circle cx="629" cy="1606" r="6.1"/><circle cx="685" cy="1593" r="6.1"/><circle cx="784" cy="1501" r="6.1"/><circle cx="703" cy="1585" r="6.1"/><circle cx="684" cy="1613" r="6.1"/><circle cx="761" cy="1548" r="6.1"/><circle cx="720" cy="1534" r="6.1"/><circle cx="767" cy="1497" r="6.1"/><circle cx="732" cy="1552" r="6.1"/><circle cx="713" cy="1546" r="6.1"/><circle cx="703" cy="1607" r="6.1"/><circle cx="656" cy="1628" r="6.1"/><circle cx="747" cy="1520" r="6.1"/><circle cx="728" cy="1598" r="6.1"/><circle cx="691" cy="1617" r="6.1"/><circle cx="731" cy="1549" r="6.1"/><circle cx="683" cy="1615" r="6.1"/><circle cx="635" cy="1645" r="6.1"/><circle cx="778" cy="1511" r="6.1"/><circle cx="710" cy="1580" r="6.1"/><circle cx="697" cy="1606" r="6.1"/><circle cx="713" cy="1566" r="6.1"/><circle cx="754" cy="1558" r="6.1"/><circle cx="714" cy="1537" r="6.1"/><circle cx="659" cy="1613" r="6.1"/><circle cx="809" cy="1496" r="6.1"/><circle cx="751" cy="1518" r="6.1"/><circle cx="686" cy="1604" r="6.1"/><circle cx="779" cy="1516" r="6.1"/><circle cx="702" cy="1615" r="6.1"/><circle cx="752" cy="1460" r="6.1"/><circle cx="774" cy="1477" r="6.1"/><circle cx="681" cy="1588" r="6.1"/><circle cx="625" cy="1624" r="6.1"/><circle cx="670" cy="1568" r="6.1"/><circle cx="767" cy="1522" r="6.1"/><circle cx="635" cy="1590" r="6.1"/><circle cx="717" cy="1605" r="6.1"/><circle cx="848" cy="1459" r="6.1"/><circle cx="781" cy="1497" r="6.1"/><circle cx="685" cy="1640" r="6.1"/><circle cx="758" cy="1548" r="6.1"/><circle cx="835" cy="1447" r="6.1"/><circle cx="706" cy="1563" r="6.1"/><circle cx="815" cy="1481" r="6.1"/><circle cx="634" cy="1629" r="6.1"/><circle cx="665" cy="1673" r="6.1"/><circle cx="727" cy="1613" r="6.1"/><circle cx="675" cy="1606" r="6.1"/><circle cx="781" cy="1515" r="6.1"/><circle cx="717" cy="1531" r="6.1"/><circle cx="702" cy="1564" r="6.1"/><circle cx="728" cy="1511" r="6.1"/><circle cx="759" cy="1540" r="6.1"/><circle cx="680" cy="1670" r="6.1"/><circle cx="730" cy="1550" r="6.1"/><circle cx="699" cy="1573" r="6.1"/><circle cx="871" cy="1401" r="6.1"/><circle cx="761" cy="1516" r="6.1"/><circle cx="748" cy="1515" r="6.1"/><circle cx="696" cy="1568" r="6.1"/><circle cx="741" cy="1591" r="6.1"/><circle cx="690" cy="1577" r="6.1"/><circle cx="756" cy="1549" r="6.1"/><circle cx="740" cy="1545" r="6.1"/><circle cx="880" cy="1396" r="6.1"/><circle cx="664" cy="1615" r="6.1"/><circle cx="589" cy="1635" r="6.1"/><circle cx="667" cy="1608" r="6.1"/><circle cx="735" cy="1603" r="6.1"/><circle cx="659" cy="1585" r="6.1"/><circle cx="672" cy="1591" r="6.1"/><circle cx="693" cy="1510" r="6.1"/><circle cx="707" cy="1579" r="6.1"/><circle cx="697" cy="1581" r="6.1"/><circle cx="638" cy="1612" r="6.1"/><circle cx="702" cy="1557" r="6.1"/><circle cx="657" cy="1589" r="6.1"/><circle cx="696" cy="1545" r="6.1"/><circle cx="658" cy="1646" r="6.1"/><circle cx="681" cy="1567" r="6.1"/><circle cx="691" cy="1606" r="6.1"/><circle cx="803" cy="1480" r="6.1"/><circle cx="726" cy="1542" r="6.1"/><circle cx="729" cy="1575" r="6.1"/><circle cx="730" cy="1551" r="6.1"/><circle cx="726" cy="1570" r="6.1"/><circle cx="639" cy="1578" r="6.1"/><circle cx="709" cy="1590" r="6.1"/><circle cx="641" cy="1572" r="6.1"/><circle cx="694" cy="1571" r="6.1"/><circle cx="600" cy="1604" r="6.1"/><circle cx="633" cy="1592" r="6.1"/><circle cx="666" cy="1602" r="6.1"/><circle cx="676" cy="1632" r="6.1"/><circle cx="606" cy="1572" r="6.1"/><circle cx="655" cy="1616" r="6.1"/><circle cx="661" cy="1596" r="6.1"/><circle cx="694" cy="1586" r="6.1"/><circle cx="671" cy="1570" r="6.1"/><circle cx="711" cy="1583" r="6.1"/><circle cx="684" cy="1582" r="6.1"/><circle cx="731" cy="1623" r="6.1"/><circle cx="747" cy="1532" r="6.1"/><circle cx="676" cy="1628" r="6.1"/><circle cx="691" cy="1592" r="6.1"/><circle cx="704" cy="1546" r="6.1"/><circle cx="641" cy="1631" r="6.1"/><circle cx="727" cy="1600" r="6.1"/><circle cx="636" cy="1640" r="6.1"/><circle cx="625" cy="1599" r="6.1"/><circle cx="651" cy="1590" r="6.1"/><circle cx="741" cy="1565" r="6.1"/><circle cx="662" cy="1704" r="6.1"/><circle cx="720" cy="1556" r="6.1"/><circle cx="724" cy="1612" r="6.1"/><circle cx="680" cy="1599" r="6.1"/><circle cx="664" cy="1659" r="6.1"/><circle cx="680" cy="1628" r="6.1"/><circle cx="801" cy="1506" r="6.1"/><circle cx="777" cy="1482" r="6.1"/><circle cx="803" cy="1497" r="6.1"/><circle cx="667" cy="1600" r="6.1"/><circle cx="711" cy="1568" r="6.1"/><circle cx="630" cy="1640" r="6.1"/><circle cx="747" cy="1560" r="6.1"/><circle cx="731" cy="1519" r="6.1"/><circle cx="745" cy="1549" r="6.1"/><circle cx="757" cy="1553" r="6.1"/><circle cx="690" cy="1579" r="6.1"/><circle cx="683" cy="1633" r="6.1"/><circle cx="630" cy="1626" r="6.1"/><circle cx="687" cy="1576" r="6.1"/><circle cx="807" cy="1513" r="6.1"/><circle cx="629" cy="1600" r="6.1"/><circle cx="699" cy="1562" r="6.1"/><circle cx="659" cy="1666" r="6.1"/><circle cx="663" cy="1675" r="6.1"/><circle cx="650" cy="1633" r="6.1"/><circle cx="655" cy="1615" r="6.1"/><circle cx="667" cy="1657" r="6.1"/><circle cx="720" cy="1584" r="6.1"/><circle cx="766" cy="1533" r="6.1"/><circle cx="717" cy="1562" r="6.1"/><circle cx="759" cy="1499" r="6.1"/><circle cx="827" cy="1444" r="6.1"/><circle cx="669" cy="1644" r="6.1"/><circle cx="786" cy="1526" r="6.1"/><circle cx="639" cy="1597" r="6.1"/><circle cx="737" cy="1533" r="6.1"/><circle cx="692" cy="1547" r="6.1"/><circle cx="663" cy="1594" r="6.1"/><circle cx="707" cy="1541" r="6.1"/><circle cx="661" cy="1651" r="6.1"/><circle cx="732" cy="1585" r="6.1"/><circle cx="667" cy="1655" r="6.1"/><circle cx="716" cy="1570" r="6.1"/><circle cx="697" cy="1552" r="6.1"/><circle cx="760" cy="1550" r="6.1"/><circle cx="768" cy="1528" r="6.1"/><circle cx="663" cy="1580" r="6.1"/><circle cx="671" cy="1579" r="6.1"/><circle cx="685" cy="1538" r="6.1"/><circle cx="725" cy="1563" r="6.1"/><circle cx="713" cy="1573" r="6.1"/><circle cx="840" cy="1431" r="6.1"/><circle cx="675" cy="1644" r="6.1"/><circle cx="703" cy="1607" r="6.1"/><circle cx="786" cy="1505" r="6.1"/><circle cx="620" cy="1654" r="6.1"/><circle cx="758" cy="1518" r="6.1"/><circle cx="707" cy="1606" r="6.1"/><circle cx="672" cy="1579" r="6.1"/><circle cx="720" cy="1584" r="6.1"/><circle cx="749" cy="1534" r="6.1"/><circle cx="795" cy="1494" r="6.1"/><circle cx="624" cy="1635" r="6.1"/><circle cx="768" cy="1532" r="6.1"/><circle cx="684" cy="1555" r="6.1"/><circle cx="708" cy="1540" r="6.1"/><circle cx="626" cy="1612" r="6.1"/><circle cx="637" cy="1609" r="6.1"/><circle cx="691" cy="1605" r="6.1"/><circle cx="845" cy="1449" r="6.1"/><circle cx="795" cy="1507" r="6.1"/><circle cx="698" cy="1624" r="6.1"/><circle cx="709" cy="1540" r="6.1"/><circle cx="656" cy="1688" r="6.1"/><circle cx="699" cy="1675" r="6.1"/><circle cx="680" cy="1558" r="6.1"/><circle cx="675" cy="1586" r="6.1"/><circle cx="736" cy="1536" r="6.1"/><circle cx="702" cy="1601" r="6.1"/><circle cx="874" cy="1406" r="6.1"/><circle cx="695" cy="1664" r="6.1"/><circle cx="732" cy="1578" r="6.1"/><circle cx="730" cy="1529" r="6.1"/><circle cx="611" cy="1630" r="6.1"/><circle cx="750" cy="1489" r="6.1"/><circle cx="685" cy="1563" r="6.1"/><circle cx="797" cy="1509" r="6.1"/><circle cx="679" cy="1573" r="6.1"/><circle cx="743" cy="1586" r="6.1"/><circle cx="773" cy="1528" r="6.1"/><circle cx="718" cy="1597" r="6.1"/><circle cx="700" cy="1582" r="6.1"/><circle cx="752" cy="1552" r="6.1"/><circle cx="682" cy="1622" r="6.1"/><circle cx="748" cy="1553" r="6.1"/><circle cx="739" cy="1545" r="6.1"/><circle cx="674" cy="1580" r="6.1"/><circle cx="656" cy="1615" r="6.1"/><circle cx="635" cy="1587" r="6.1"/><circle cx="631" cy="1599" r="6.1"/><circle cx="724" cy="1576" r="6.1"/><circle cx="661" cy="1569" r="6.1"/><circle cx="731" cy="1590" r="6.1"/><circle cx="790" cy="1519" r="6.1"/><circle cx="649" cy="1540" r="6.1"/><circle cx="683" cy="1602" r="6.1"/><circle cx="707" cy="1614" r="6.1"/><circle cx="688" cy="1638" r="6.1"/><circle cx="680" cy="1622" r="6.1"/><circle cx="701" cy="1547" r="6.1"/><circle cx="760" cy="1520" r="6.1"/><circle cx="677" cy="1577" r="6.1"/><circle cx="751" cy="1531" r="6.1"/><circle cx="791" cy="1508" r="6.1"/><circle cx="662" cy="1605" r="6.1"/><circle cx="761" cy="1524" r="6.1"/><circle cx="745" cy="1534" r="6.1"/><circle cx="816" cy="1451" r="6.1"/><circle cx="669" cy="1609" r="6.1"/><circle cx="698" cy="1577" r="6.1"/><circle cx="726" cy="1531" r="6.1"/><circle cx="793" cy="1501" r="6.1"/><circle cx="686" cy="1581" r="6.1"/><circle cx="708" cy="1557" r="6.1"/><circle cx="685" cy="1613" r="6.1"/><circle cx="798" cy="1456" r="6.1"/><circle cx="651" cy="1648" r="6.1"/><circle cx="655" cy="1592" r="6.1"/><circle cx="713" cy="1588" r="6.1"/><circle cx="708" cy="1612" r="6.1"/><circle cx="719" cy="1556" r="6.1"/><circle cx="772" cy="1510" r="6.1"/><circle cx="586" cy="1597" r="6.1"/><circle cx="740" cy="1564" r="6.1"/><circle cx="609" cy="1603" r="6.1"/><circle cx="633" cy="1597" r="6.1"/><circle cx="696" cy="1544" r="6.1"/><circle cx="702" cy="1636" r="6.1"/><circle cx="669" cy="1661" r="6.1"/><circle cx="704" cy="1568" r="6.1"/><circle cx="729" cy="1594" r="6.1"/><circle cx="659" cy="1629" r="6.1"/><circle cx="730" cy="1583" r="6.1"/><circle cx="744" cy="1543" r="6.1"/><circle cx="615" cy="1599" r="6.1"/><circle cx="779" cy="1505" r="6.1"/><circle cx="760" cy="1540" r="6.1"/><circle cx="692" cy="1593" r="6.1"/><circle cx="717" cy="1595" r="6.1"/><circle cx="758" cy="1506" r="6.1"/><circle cx="781" cy="1517" r="6.1"/><circle cx="679" cy="1635" r="6.1"/><circle cx="693" cy="1597" r="6.1"/><circle cx="818" cy="1473" r="6.1"/><circle cx="692" cy="1560" r="6.1"/><circle cx="677" cy="1575" r="6.1"/><circle cx="698" cy="1567" r="6.1"/><circle cx="612" cy="1577" r="6.1"/><circle cx="660" cy="1617" r="6.1"/><circle cx="753" cy="1539" r="6.1"/><circle cx="737" cy="1553" r="6.1"/><circle cx="763" cy="1495" r="6.1"/><circle cx="648" cy="1586" r="6.1"/><circle cx="800" cy="1486" r="6.1"/><circle cx="719" cy="1609" r="6.1"/><circle cx="697" cy="1609" r="6.1"/><circle cx="669" cy="1609" r="6.1"/><circle cx="754" cy="1530" r="6.1"/><circle cx="716" cy="1574" r="6.1"/><circle cx="652" cy="1633" r="6.1"/><circle cx="657" cy="1641" r="6.1"/><circle cx="693" cy="1618" r="6.1"/><circle cx="688" cy="1566" r="6.1"/><circle cx="646" cy="1606" r="6.1"/><circle cx="664" cy="1589" r="6.1"/><circle cx="682" cy="1623" r="6.1"/><circle cx="676" cy="1659" r="6.1"/><circle cx="768" cy="1530" r="6.1"/><circle cx="687" cy="1599" r="6.1"/><circle cx="731" cy="1541" r="6.1"/><circle cx="738" cy="1557" r="6.1"/><circle cx="668" cy="1628" r="6.1"/><circle cx="649" cy="1604" r="6.1"/><circle cx="740" cy="1546" r="6.1"/><circle cx="724" cy="1563" r="6.1"/><circle cx="697" cy="1569" r="6.1"/><circle cx="743" cy="1553" r="6.1"/><circle cx="641" cy="1608" r="6.1"/><circle cx="750" cy="1512" r="6.1"/><circle cx="688" cy="1624" r="6.1"/><circle cx="717" cy="1568" r="6.1"/><circle cx="635" cy="1587" r="6.1"/><circle cx="778" cy="1501" r="6.1"/><circle cx="711" cy="1576" r="6.1"/><circle cx="779" cy="1533" r="6.1"/><circle cx="655" cy="1592" r="6.1"/><circle cx="628" cy="1623" r="6.1"/><circle cx="718" cy="1541" r="6.1"/><circle cx="654" cy="1631" r="6.1"/><circle cx="606" cy="1666" r="6.1"/><circle cx="663" cy="1650" r="6.1"/><circle cx="760" cy="1540" r="6.1"/><circle cx="749" cy="1510" r="6.1"/><circle cx="687" cy="1583" r="6.1"/><circle cx="783" cy="1490" r="6.1"/><circle cx="703" cy="1577" r="6.1"/><circle cx="674" cy="1560" r="6.1"/><circle cx="685" cy="1592" r="6.1"/><circle cx="869" cy="1395" r="6.1"/><circle cx="777" cy="1523" r="6.1"/><circle cx="654" cy="1632" r="6.1"/><circle cx="730" cy="1542" r="6.1"/><circle cx="637" cy="1606" r="6.1"/><circle cx="759" cy="1536" r="6.1"/><circle cx="688" cy="1548" r="6.1"/><circle cx="648" cy="1685" r="6.1"/><circle cx="645" cy="1585" r="6.1"/><circle cx="666" cy="1574" r="6.1"/><circle cx="759" cy="1543" r="6.1"/><circle cx="703" cy="1542" r="6.1"/><circle cx="646" cy="1608" r="6.1"/><circle cx="765" cy="1507" r="6.1"/><circle cx="750" cy="1540" r="6.1"/><circle cx="694" cy="1579" r="6.1"/><circle cx="778" cy="1520" r="6.1"/><circle cx="692" cy="1613" r="6.1"/><circle cx="702" cy="1540" r="6.1"/><circle cx="768" cy="1525" r="6.1"/><circle cx="845" cy="1461" r="6.1"/><circle cx="747" cy="1594" r="6.1"/><circle cx="651" cy="1599" r="6.1"/><circle cx="794" cy="1507" r="6.1"/><circle cx="661" cy="1638" r="6.1"/><circle cx="676" cy="1566" r="6.1"/><circle cx="731" cy="1582" r="6.1"/><circle cx="653" cy="1581" r="6.1"/><circle cx="654" cy="1587" r="6.1"/><circle cx="681" cy="1583" r="6.1"/><circle cx="719" cy="1608" r="6.1"/><circle cx="797" cy="1506" r="6.1"/><circle cx="732" cy="1503" r="6.1"/><circle cx="662" cy="1646" r="6.1"/><circle cx="740" cy="1547" r="6.1"/><circle cx="745" cy="1576" r="6.1"/><circle cx="762" cy="1553" r="6.1"/><circle cx="708" cy="1628" r="6.1"/><circle cx="777" cy="1519" r="6.1"/><circle cx="782" cy="1536" r="6.1"/><circle cx="840" cy="1447" r="6.1"/><circle cx="720" cy="1558" r="6.1"/><circle cx="798" cy="1477" r="6.1"/><circle cx="848" cy="1439" r="6.1"/><circle cx="675" cy="1591" r="6.1"/><circle cx="724" cy="1601" r="6.1"/><circle cx="774" cy="1551" r="6.1"/><circle cx="722" cy="1583" r="6.1"/><circle cx="676" cy="1619" r="6.1"/><circle cx="678" cy="1666" r="6.1"/><circle cx="661" cy="1637" r="6.1"/><circle cx="772" cy="1504" r="6.1"/><circle cx="769" cy="1521" r="6.1"/><circle cx="697" cy="1617" r="6.1"/><circle cx="658" cy="1671" r="6.1"/><circle cx="738" cy="1565" r="6.1"/><circle cx="768" cy="1502" r="6.1"/><circle cx="665" cy="1607" r="6.1"/><circle cx="658" cy="1624" r="6.1"/><circle cx="720" cy="1575" r="6.1"/><circle cx="675" cy="1616" r="6.1"/><circle cx="672" cy="1603" r="6.1"/><circle cx="814" cy="1473" r="6.1"/><circle cx="773" cy="1509" r="6.1"/><circle cx="764" cy="1536" r="6.1"/><circle cx="679" cy="1585" r="6.1"/><circle cx="587" cy="1614" r="6.1"/><circle cx="727" cy="1551" r="6.1"/><circle cx="747" cy="1566" r="6.1"/><circle cx="622" cy="1578" r="6.1"/><circle cx="722" cy="1543" r="6.1"/><circle cx="654" cy="1551" r="6.1"/><circle cx="733" cy="1589" r="6.1"/><circle cx="751" cy="1518" r="6.1"/><circle cx="669" cy="1587" r="6.1"/><circle cx="703" cy="1600" r="6.1"/><circle cx="760" cy="1532" r="6.1"/><circle cx="657" cy="1627" r="6.1"/><circle cx="801" cy="1495" r="6.1"/><circle cx="664" cy="1582" r="6.1"/><circle cx="665" cy="1646" r="6.1"/><circle cx="669" cy="1599" r="6.1"/><circle cx="762" cy="1504" r="6.1"/><circle cx="711" cy="1543" r="6.1"/><circle cx="740" cy="1523" r="6.1"/><circle cx="730" cy="1564" r="6.1"/><circle cx="642" cy="1625" r="6.1"/><circle cx="736" cy="1594" r="6.1"/><circle cx="687" cy="1560" r="6.1"/><circle cx="669" cy="1624" r="6.1"/><circle cx="723" cy="1586" r="6.1"/><circle cx="659" cy="1605" r="6.1"/><circle cx="762" cy="1554" r="6.1"/><circle cx="763" cy="1505" r="6.1"/><circle cx="704" cy="1587" r="6.1"/><circle cx="731" cy="1578" r="6.1"/><circle cx="686" cy="1668" r="6.1"/><circle cx="625" cy="1595" r="6.1"/><circle cx="727" cy="1556" r="6.1"/><circle cx="904" cy="1385" r="6.1"/><circle cx="627" cy="1620" r="6.1"/><circle cx="793" cy="1502" r="6.1"/><circle cx="748" cy="1522" r="6.1"/><circle cx="689" cy="1629" r="6.1"/><circle cx="665" cy="1572" r="6.1"/><circle cx="640" cy="1607" r="6.1"/><circle cx="675" cy="1612" r="6.1"/><circle cx="676" cy="1634" r="6.1"/><circle cx="748" cy="1559" r="6.1"/><circle cx="630" cy="1667" r="6.1"/><circle cx="808" cy="1489" r="6.1"/><circle cx="717" cy="1545" r="6.1"/><circle cx="641" cy="1590" r="6.1"/><circle cx="793" cy="1478" r="6.1"/><circle cx="859" cy="1419" r="6.1"/><circle cx="733" cy="1574" r="6.1"/><circle cx="701" cy="1554" r="6.1"/><circle cx="790" cy="1490" r="6.1"/><circle cx="698" cy="1616" r="6.1"/><circle cx="754" cy="1531" r="6.1"/><circle cx="859" cy="1428" r="6.1"/><circle cx="660" cy="1616" r="6.1"/><circle cx="693" cy="1621" r="6.1"/><circle cx="712" cy="1624" r="6.1"/><circle cx="811" cy="1501" r="6.1"/><circle cx="641" cy="1586" r="6.1"/><circle cx="666" cy="1599" r="6.1"/><circle cx="679" cy="1630" r="6.1"/><circle cx="689" cy="1604" r="6.1"/><circle cx="690" cy="1617" r="6.1"/><circle cx="864" cy="1441" r="6.1"/><circle cx="715" cy="1537" r="6.1"/><circle cx="787" cy="1520" r="6.1"/><circle cx="674" cy="1578" r="6.1"/><circle cx="688" cy="1555" r="6.1"/><circle cx="775" cy="1508" r="6.1"/><circle cx="767" cy="1565" r="6.1"/><circle cx="871" cy="1427" r="6.1"/><circle cx="737" cy="1532" r="6.1"/><circle cx="731" cy="1535" r="6.1"/><circle cx="772" cy="1490" r="6.1"/><circle cx="697" cy="1609" r="6.1"/><circle cx="729" cy="1533" r="6.1"/><circle cx="613" cy="1654" r="6.1"/><circle cx="685" cy="1566" r="6.1"/><circle cx="645" cy="1602" r="6.1"/><circle cx="782" cy="1507" r="6.1"/><circle cx="832" cy="1440" r="6.1"/><circle cx="659" cy="1693" r="6.1"/><circle cx="801" cy="1488" r="6.1"/><circle cx="631" cy="1617" r="6.1"/><circle cx="763" cy="1511" r="6.1"/><circle cx="704" cy="1574" r="6.1"/><circle cx="674" cy="1541" r="6.1"/><circle cx="730" cy="1597" r="6.1"/><circle cx="743" cy="1517" r="6.1"/><circle cx="645" cy="1547" r="6.1"/><circle cx="746" cy="1522" r="6.1"/><circle cx="678" cy="1548" r="6.1"/><circle cx="650" cy="1638" r="6.1"/><circle cx="660" cy="1625" r="6.1"/><circle cx="731" cy="1559" r="6.1"/><circle cx="847" cy="1452" r="6.1"/><circle cx="733" cy="1573" r="6.1"/><circle cx="720" cy="1558" r="6.1"/><circle cx="735" cy="1533" r="6.1"/><circle cx="698" cy="1600" r="6.1"/><circle cx="667" cy="1616" r="6.1"/><circle cx="677" cy="1632" r="6.1"/><circle cx="664" cy="1623" r="6.1"/><circle cx="704" cy="1650" r="6.1"/><circle cx="809" cy="1483" r="6.1"/><circle cx="708" cy="1559" r="6.1"/><circle cx="696" cy="1616" r="6.1"/><circle cx="607" cy="1692" r="6.1"/><circle cx="658" cy="1637" r="6.1"/><circle cx="746" cy="1525" r="6.1"/><circle cx="738" cy="1527" r="6.1"/><circle cx="627" cy="1610" r="6.1"/><circle cx="797" cy="1503" r="6.1"/><circle cx="632" cy="1600" r="6.1"/><circle cx="630" cy="1544" r="6.1"/><circle cx="634" cy="1643" r="6.1"/><circle cx="692" cy="1584" r="6.1"/><circle cx="691" cy="1628" r="6.1"/><circle cx="722" cy="1573" r="6.1"/><circle cx="798" cy="1528" r="6.1"/><circle cx="711" cy="1594" r="6.1"/><circle cx="655" cy="1597" r="6.1"/><circle cx="630" cy="1569" r="6.1"/><circle cx="774" cy="1514" r="6.1"/><circle cx="658" cy="1587" r="6.1"/><circle cx="626" cy="1626" r="6.1"/><circle cx="710" cy="1592" r="6.1"/><circle cx="693" cy="1564" r="6.1"/><circle cx="754" cy="1529" r="6.1"/><circle cx="636" cy="1581" r="6.1"/><circle cx="644" cy="1593" r="6.1"/><circle cx="722" cy="1541" r="6.1"/><circle cx="745" cy="1553" r="6.1"/><circle cx="661" cy="1658" r="6.1"/><circle cx="693" cy="1613" r="6.1"/><circle cx="779" cy="1458" r="6.1"/><circle cx="741" cy="1566" r="6.1"/><circle cx="673" cy="1613" r="6.1"/><circle cx="779" cy="1458" r="6.1"/><circle cx="738" cy="1554" r="6.1"/><circle cx="643" cy="1638" r="6.1"/><circle cx="613" cy="1627" r="6.1"/><circle cx="662" cy="1615" r="6.1"/><circle cx="665" cy="1585" r="6.1"/><circle cx="755" cy="1521" r="6.1"/><circle cx="660" cy="1606" r="6.1"/><circle cx="731" cy="1607" r="6.1"/><circle cx="661" cy="1573" r="6.1"/><circle cx="701" cy="1602" r="6.1"/><circle cx="797" cy="1535" r="6.1"/><circle cx="750" cy="1540" r="6.1"/><circle cx="665" cy="1624" r="6.1"/><circle cx="681" cy="1611" r="6.1"/><circle cx="628" cy="1595" r="6.1"/><circle cx="705" cy="1630" r="6.1"/><circle cx="718" cy="1592" r="6.1"/><circle cx="772" cy="1510" r="6.1"/><circle cx="723" cy="1595" r="6.1"/><circle cx="737" cy="1520" r="6.1"/><circle cx="639" cy="1606" r="6.1"/><circle cx="688" cy="1669" r="6.1"/><circle cx="768" cy="1512" r="6.1"/><circle cx="744" cy="1539" r="6.1"/><circle cx="733" cy="1525" r="6.1"/><circle cx="727" cy="1602" r="6.1"/><circle cx="649" cy="1613" r="6.1"/><circle cx="715" cy="1552" r="6.1"/><circle cx="819" cy="1470" r="6.1"/><circle cx="666" cy="1591" r="6.1"/><circle cx="717" cy="1538" r="6.1"/><circle cx="670" cy="1622" r="6.1"/><circle cx="661" cy="1631" r="6.1"/><circle cx="681" cy="1607" r="6.1"/><circle cx="738" cy="1542" r="6.1"/><circle cx="767" cy="1505" r="6.1"/><circle cx="968" cy="1326" r="6.1"/><circle cx="672" cy="1618" r="6.1"/><circle cx="648" cy="1622" r="6.1"/><circle cx="705" cy="1585" r="6.1"/><circle cx="694" cy="1598" r="6.1"/><circle cx="726" cy="1530" r="6.1"/><circle cx="682" cy="1605" r="6.1"/><circle cx="602" cy="1609" r="6.1"/><circle cx="680" cy="1577" r="6.1"/><circle cx="705" cy="1585" r="6.1"/><circle cx="685" cy="1623" r="6.1"/><circle cx="658" cy="1618" r="6.1"/><circle cx="718" cy="1580" r="6.1"/><circle cx="733" cy="1557" r="6.1"/><circle cx="760" cy="1535" r="6.1"/><circle cx="595" cy="1620" r="6.1"/><circle cx="625" cy="1608" r="6.1"/><circle cx="750" cy="1557" r="6.1"/><circle cx="759" cy="1543" r="6.1"/><circle cx="659" cy="1573" r="6.1"/><circle cx="710" cy="1598" r="6.1"/><circle cx="712" cy="1596" r="6.1"/><circle cx="732" cy="1564" r="6.1"/><circle cx="688" cy="1558" r="6.1"/><circle cx="752" cy="1540" r="6.1"/><circle cx="681" cy="1627" r="6.1"/><circle cx="681" cy="1590" r="6.1"/><circle cx="780" cy="1485" r="6.1"/><circle cx="787" cy="1497" r="6.1"/><circle cx="679" cy="1667" r="6.1"/><circle cx="669" cy="1560" r="6.1"/><circle cx="654" cy="1612" r="6.1"/><circle cx="788" cy="1505" r="6.1"/><circle cx="707" cy="1542" r="6.1"/><circle cx="726" cy="1567" r="6.1"/><circle cx="685" cy="1513" r="6.1"/><circle cx="694" cy="1563" r="6.1"/><circle cx="634" cy="1647" r="6.1"/><circle cx="654" cy="1598" r="6.1"/><circle cx="693" cy="1644" r="6.1"/><circle cx="679" cy="1581" r="6.1"/><circle cx="759" cy="1519" r="6.1"/><circle cx="688" cy="1566" r="6.1"/><circle cx="611" cy="1620" r="6.1"/><circle cx="765" cy="1552" r="6.1"/><circle cx="822" cy="1496" r="6.1"/><circle cx="739" cy="1569" r="6.1"/><circle cx="596" cy="1668" r="6.1"/><circle cx="724" cy="1592" r="6.1"/><circle cx="747" cy="1557" r="6.1"/><circle cx="650" cy="1607" r="6.1"/><circle cx="775" cy="1554" r="6.1"/><circle cx="768" cy="1524" r="6.1"/><circle cx="697" cy="1596" r="6.1"/><circle cx="822" cy="1467" r="6.1"/><circle cx="698" cy="1550" r="6.1"/><circle cx="663" cy="1636" r="6.1"/><circle cx="719" cy="1574" r="6.1"/><circle cx="882" cy="1438" r="6.1"/><circle cx="693" cy="1584" r="6.1"/><circle cx="706" cy="1546" r="6.1"/><circle cx="732" cy="1582" r="6.1"/><circle cx="750" cy="1577" r="6.1"/><circle cx="646" cy="1586" r="6.1"/><circle cx="663" cy="1669" r="6.1"/><circle cx="690" cy="1638" r="6.1"/><circle cx="707" cy="1574" r="6.1"/><circle cx="714" cy="1606" r="6.1"/><circle cx="655" cy="1762" r="6.1"/><circle cx="716" cy="1591" r="6.1"/><circle cx="874" cy="1458" r="6.1"/><circle cx="661" cy="1639" r="6.1"/><circle cx="649" cy="1637" r="6.1"/><circle cx="753" cy="1543" r="6.1"/><circle cx="706" cy="1544" r="6.1"/><circle cx="775" cy="1519" r="6.1"/><circle cx="677" cy="1567" r="6.1"/><circle cx="814" cy="1482" r="6.1"/><circle cx="757" cy="1512" r="6.1"/><circle cx="716" cy="1621" r="6.1"/><circle cx="757" cy="1547" r="6.1"/><circle cx="591" cy="1618" r="6.1"/><circle cx="723" cy="1532" r="6.1"/><circle cx="782" cy="1540" r="6.1"/><circle cx="634" cy="1634" r="6.1"/><circle cx="758" cy="1527" r="6.1"/><circle cx="637" cy="1593" r="6.1"/><circle cx="752" cy="1556" r="6.1"/><circle cx="691" cy="1634" r="6.1"/><circle cx="738" cy="1569" r="6.1"/><circle cx="787" cy="1512" r="6.1"/><circle cx="741" cy="1526" r="6.1"/><circle cx="741" cy="1561" r="6.1"/><circle cx="690" cy="1632" r="6.1"/><circle cx="853" cy="1403" r="6.1"/><circle cx="794" cy="1509" r="6.1"/><circle cx="731" cy="1553" r="6.1"/><circle cx="812" cy="1488" r="6.1"/><circle cx="615" cy="1570" r="6.1"/><circle cx="673" cy="1635" r="6.1"/><circle cx="685" cy="1593" r="6.1"/><circle cx="656" cy="1593" r="6.1"/><circle cx="706" cy="1621" r="6.1"/><circle cx="744" cy="1538" r="6.1"/><circle cx="767" cy="1517" r="6.1"/><circle cx="696" cy="1587" r="6.1"/><circle cx="803" cy="1484" r="6.1"/><circle cx="622" cy="1607" r="6.1"/><circle cx="670" cy="1589" r="6.1"/><circle cx="691" cy="1555" r="6.1"/><circle cx="709" cy="1574" r="6.1"/><circle cx="729" cy="1586" r="6.1"/><circle cx="658" cy="1637" r="6.1"/><circle cx="729" cy="1527" r="6.1"/><circle cx="839" cy="1464" r="6.1"/><circle cx="722" cy="1550" r="6.1"/><circle cx="625" cy="1603" r="6.1"/><circle cx="856" cy="1443" r="6.1"/><circle cx="646" cy="1627" r="6.1"/><circle cx="785" cy="1502" r="6.1"/><circle cx="723" cy="1565" r="6.1"/><circle cx="684" cy="1604" r="6.1"/><circle cx="643" cy="1610" r="6.1"/><circle cx="624" cy="1556" r="6.1"/><circle cx="622" cy="1669" r="6.1"/><circle cx="701" cy="1544" r="6.1"/><circle cx="682" cy="1632" r="6.1"/><circle cx="687" cy="1570" r="6.1"/><circle cx="580" cy="1576" r="6.1"/><circle cx="662" cy="1582" r="6.1"/><circle cx="733" cy="1528" r="6.1"/><circle cx="718" cy="1547" r="6.1"/><circle cx="792" cy="1503" r="6.1"/><circle cx="763" cy="1526" r="6.1"/><circle cx="630" cy="1613" r="6.1"/><circle cx="742" cy="1522" r="6.1"/><circle cx="609" cy="1606" r="6.1"/><circle cx="767" cy="1503" r="6.1"/><circle cx="642" cy="1661" r="6.1"/><circle cx="786" cy="1487" r="6.1"/><circle cx="733" cy="1567" r="6.1"/><circle cx="645" cy="1547" r="6.1"/><circle cx="691" cy="1612" r="6.1"/><circle cx="680" cy="1644" r="6.1"/><circle cx="842" cy="1426" r="6.1"/><circle cx="701" cy="1592" r="6.1"/><circle cx="666" cy="1572" r="6.1"/><circle cx="721" cy="1595" r="6.1"/><circle cx="685" cy="1570" r="6.1"/><circle cx="739" cy="1571" r="6.1"/><circle cx="628" cy="1594" r="6.1"/><circle cx="745" cy="1549" r="6.1"/><circle cx="752" cy="1599" r="6.1"/><circle cx="677" cy="1600" r="6.1"/><circle cx="686" cy="1554" r="6.1"/><circle cx="711" cy="1554" r="6.1"/><circle cx="580" cy="1604" r="6.1"/><circle cx="655" cy="1619" r="6.1"/><circle cx="639" cy="1636" r="6.1"/><circle cx="758" cy="1566" r="6.1"/><circle cx="712" cy="1554" r="6.1"/><circle cx="794" cy="1487" r="6.1"/><circle cx="829" cy="1459" r="6.1"/><circle cx="676" cy="1570" r="6.1"/><circle cx="701" cy="1633" r="6.1"/><circle cx="736" cy="1586" r="6.1"/><circle cx="579" cy="1630" r="6.1"/><circle cx="668" cy="1648" r="6.1"/><circle cx="704" cy="1591" r="6.1"/><circle cx="654" cy="1658" r="6.1"/><circle cx="634" cy="1604" r="6.1"/><circle cx="642" cy="1618" r="6.1"/><circle cx="656" cy="1598" r="6.1"/><circle cx="796" cy="1500" r="6.1"/><circle cx="764" cy="1521" r="6.1"/><circle cx="702" cy="1619" r="6.1"/><circle cx="661" cy="1599" r="6.1"/><circle cx="704" cy="1550" r="6.1"/><circle cx="702" cy="1593" r="6.1"/><circle cx="683" cy="1561" r="6.1"/><circle cx="628" cy="1616" r="6.1"/><circle cx="759" cy="1513" r="6.1"/><circle cx="709" cy="1584" r="6.1"/><circle cx="641" cy="1604" r="6.1"/><circle cx="717" cy="1608" r="6.1"/><circle cx="816" cy="1509" r="6.1"/><circle cx="760" cy="1553" r="6.1"/><circle cx="700" cy="1554" r="6.1"/><circle cx="667" cy="1579" r="6.1"/><circle cx="676" cy="1598" r="6.1"/><circle cx="665" cy="1591" r="6.1"/><circle cx="737" cy="1562" r="6.1"/><circle cx="694" cy="1591" r="6.1"/><circle cx="758" cy="1594" r="6.1"/><circle cx="787" cy="1521" r="6.1"/><circle cx="740" cy="1538" r="6.1"/><circle cx="667" cy="1639" r="6.1"/><circle cx="726" cy="1541" r="6.1"/><circle cx="816" cy="1462" r="6.1"/><circle cx="739" cy="1527" r="6.1"/><circle cx="654" cy="1523" r="6.1"/><circle cx="648" cy="1672" r="6.1"/><circle cx="661" cy="1564" r="6.1"/><circle cx="718" cy="1567" r="6.1"/><circle cx="703" cy="1558" r="6.1"/><circle cx="749" cy="1529" r="6.1"/><circle cx="764" cy="1512" r="6.1"/><circle cx="713" cy="1597" r="6.1"/><circle cx="697" cy="1553" r="6.1"/><circle cx="637" cy="1575" r="6.1"/><circle cx="711" cy="1564" r="6.1"/><circle cx="710" cy="1608" r="6.1"/><circle cx="702" cy="1538" r="6.1"/><circle cx="620" cy="1599" r="6.1"/><circle cx="699" cy="1614" r="6.1"/><circle cx="809" cy="1475" r="6.1"/><circle cx="645" cy="1547" r="6.1"/><circle cx="693" cy="1557" r="6.1"/><circle cx="667" cy="1543" r="6.1"/><circle cx="739" cy="1580" r="6.1"/><circle cx="725" cy="1570" r="6.1"/><circle cx="631" cy="1538" r="6.1"/><circle cx="711" cy="1624" r="6.1"/><circle cx="662" cy="1695" r="6.1"/><circle cx="670" cy="1618" r="6.1"/><circle cx="774" cy="1478" r="6.1"/><circle cx="873" cy="1447" r="6.1"/><circle cx="712" cy="1556" r="6.1"/><circle cx="628" cy="1587" r="6.1"/>
</g>
<path d="M576.8 1607.3 L580.1 1607.3 L583.4 1607.3 L586.7 1607.3 L590.0 1607.4 L593.3 1607.4 L596.6 1607.5 L599.9 1607.5 L603.2 1607.6 L606.4 1607.6 L609.7 1607.6 L613.0 1607.6 L616.3 1607.5 L619.6 1607.4 L622.9 1607.1 L626.2 1606.8 L629.5 1606.5 L632.8 1606.0 L636.1 1605.5 L639.4 1604.9 L642.7 1604.2 L646.0 1603.4 L649.3 1602.5 L652.6 1601.5 L655.8 1600.4 L659.1 1599.2 L662.4 1597.9 L665.7 1596.4 L669.0 1594.8 L672.3 1593.1 L675.6 1591.3 L678.9 1589.4 L682.2 1587.5 L685.5 1585.4 L688.8 1583.3 L692.1 1581.2 L695.4 1578.9 L698.7 1576.7 L701.9 1574.4 L705.2 1572.0 L708.5 1569.6 L711.8 1567.2 L715.1 1564.8 L718.4 1562.4 L721.7 1560.0 L725.0 1557.6 L728.3 1555.2 L731.6 1552.7 L734.9 1550.3 L738.2 1547.8 L741.5 1545.2 L744.8 1542.6 L748.1 1540.0 L751.3 1537.2 L754.6 1534.5 L757.9 1531.7 L761.2 1528.8 L764.5 1525.8 L767.8 1522.8 L771.1 1519.7 L774.4 1516.5 L777.7 1513.3 L781.0 1509.9 L784.3 1506.5 L787.6 1503.0 L790.9 1499.6 L794.2 1496.2 L797.5 1492.9 L800.7 1489.6 L804.0 1486.4 L807.3 1483.2 L810.6 1480.2 L813.9 1477.1 L817.2 1474.2 L820.5 1471.2 L823.8 1468.3 L827.1 1465.4 L830.4 1462.6 L833.7 1459.7 L837.0 1456.8 L840.3 1453.9 L843.6 1451.0 L846.9 1448.1 L850.1 1445.1 L853.4 1442.1 L856.7 1439.2 L860.0 1436.2 L863.3 1433.2 L866.6 1430.2 L869.9 1427.2 L873.2 1424.1 L876.5 1421.0 L879.8 1418.0 L883.1 1414.9 L886.4 1411.9 L889.7 1408.9 L893.0 1405.9 L896.2 1403.0 L899.5 1400.0 L902.8 1397.1 L906.1 1394.1 L909.4 1391.1 L912.7 1387.9 L916.0 1384.7 L919.3 1381.3 L922.6 1377.9 L925.9 1374.4 L929.2 1370.9 L932.5 1367.4 L935.8 1363.9 L939.1 1360.5 L942.4 1357.2 L945.6 1353.8 L948.9 1350.6 L952.2 1347.3 L955.5 1344.1 L958.8 1340.9 L962.1 1337.7 L965.4 1334.6 L968.7 1331.5" stroke="#3366ff" stroke-width="5.8" fill="none" stroke-linecap="butt"/>
</g>
<rect x="567" y="1191.4" width="411.2" height="54.7" fill="#fff" stroke="#000" stroke-width="3.2"/>
<text x="771.2" y="1230.5" font-size="31.5" fill="#1a1a1a" text-anchor="middle" textLength="246.0" lengthAdjust="spacingAndGlyphs">Smakhtin - class D</text>
<path d="M565.4 1764.3H979.4" stroke="#000" stroke-width="3"/>
<path d="M656.5 1764.3V1773.3M760.2 1764.3V1773.3M863.9 1764.3V1773.3M967.6 1764.3V1773.3" stroke="#333" stroke-width="3"/>
<text x="656.5" y="1815" font-size="30" fill="#4d4d4d" text-anchor="middle">10<tspan font-size="21.5" dy="-15">-1</tspan></text>
<text x="760.2" y="1815" font-size="30" fill="#4d4d4d" text-anchor="middle">10<tspan font-size="21.5" dy="-15">1</tspan></text>
<text x="863.9" y="1815" font-size="30" fill="#4d4d4d" text-anchor="middle">10<tspan font-size="21.5" dy="-15">3</tspan></text>
<text x="967.6" y="1815" font-size="30" fill="#4d4d4d" text-anchor="middle">10<tspan font-size="21.5" dy="-15">5</tspan></text>
<g clip-path="url(#c8)">
<path d="M1089.3 1246.1V1764.3M1193 1246.1V1764.3M1296.7 1246.1V1764.3M1400.4 1246.1V1764.3M998.2 1621.7H1412.2M998.2 1466.7H1412.2M998.2 1311.7H1412.2" stroke="#ebebeb" stroke-width="2.2" fill="none"/>
<path d="M946.4 1712.5 L1464.1 1196.6 L1464.1 1299.9 L946.4 1815.8Z" fill="#ccf2f3"/>
<path d="M946.4 1764.2L1464.1 1248.3" stroke="#000" stroke-opacity="0.6" stroke-width="2.3"/>
<path d="M1020.1 1598.9 L1021.9 1599.0 L1023.7 1599.1 L1025.5 1599.2 L1027.3 1599.2 L1029.1 1599.3 L1030.9 1599.3 L1032.7 1599.3 L1034.5 1599.3 L1036.3 1599.3 L1038.1 1599.3 L1039.9 1599.3 L1041.8 1599.3 L1043.6 1599.3 L1045.4 1599.2 L1047.2 1599.2 L1049.0 1599.2 L1050.8 1599.1 L1052.6 1599.1 L1054.4 1599.0 L1056.2 1599.0 L1058.0 1598.9 L1059.8 1598.8 L1061.6 1598.8 L1063.4 1598.7 L1065.2 1598.4 L1067.0 1598.1 L1068.8 1597.8 L1070.6 1597.5 L1072.4 1597.1 L1074.2 1596.8 L1076.0 1596.5 L1077.8 1596.1 L1079.6 1595.7 L1081.4 1595.3 L1083.2 1594.9 L1085.1 1594.5 L1086.9 1594.0 L1088.7 1593.5 L1090.5 1592.9 L1092.3 1592.2 L1094.1 1591.4 L1095.9 1590.7 L1097.7 1589.9 L1099.5 1589.0 L1101.3 1588.2 L1103.1 1587.3 L1104.9 1586.4 L1106.7 1585.4 L1108.5 1584.4 L1110.3 1583.4 L1112.1 1582.3 L1113.9 1581.2 L1115.7 1580.1 L1117.5 1579.0 L1119.3 1577.8 L1121.1 1576.6 L1122.9 1575.4 L1124.7 1574.2 L1126.5 1573.0 L1128.4 1571.7 L1130.2 1570.4 L1132.0 1569.1 L1133.8 1567.8 L1135.6 1566.5 L1137.4 1565.1 L1139.2 1563.7 L1141.0 1562.3 L1142.8 1560.9 L1144.6 1559.5 L1146.4 1558.1 L1148.2 1556.7 L1150.0 1555.2 L1151.8 1553.8 L1153.6 1552.3 L1155.4 1550.9 L1157.2 1549.4 L1159.0 1548.0 L1160.8 1546.5 L1162.6 1545.0 L1164.4 1543.5 L1166.2 1542.0 L1168.0 1540.5 L1169.8 1539.0 L1171.7 1537.4 L1173.5 1535.8 L1175.3 1534.2 L1177.1 1532.6 L1178.9 1531.0 L1180.7 1529.3 L1182.5 1527.7 L1184.3 1526.0 L1186.1 1524.3 L1187.9 1522.6 L1189.7 1520.9 L1191.5 1519.2 L1193.3 1517.4 L1195.1 1515.5 L1196.9 1513.7 L1198.7 1511.9 L1200.5 1510.0 L1202.3 1508.2 L1204.1 1506.4 L1205.9 1504.5 L1207.7 1502.7 L1209.5 1501.0 L1211.3 1499.2 L1213.1 1497.4 L1215.0 1495.6 L1216.8 1493.8 L1218.6 1492.1 L1220.4 1490.3 L1222.2 1488.5 L1224.0 1486.6 L1225.8 1484.8 L1227.6 1483.0 L1229.4 1481.2 L1231.2 1479.3 L1233.0 1477.5 L1234.8 1475.6 L1234.8 1486.0 L1233.0 1487.6 L1231.2 1489.2 L1229.4 1490.8 L1227.6 1492.4 L1225.8 1494.0 L1224.0 1495.6 L1222.2 1497.2 L1220.4 1498.7 L1218.6 1500.3 L1216.8 1501.8 L1215.0 1503.4 L1213.1 1505.0 L1211.3 1506.5 L1209.5 1508.1 L1207.7 1509.7 L1205.9 1511.3 L1204.1 1512.9 L1202.3 1514.5 L1200.5 1516.1 L1198.7 1517.7 L1196.9 1519.3 L1195.1 1521.0 L1193.3 1522.6 L1191.5 1524.3 L1189.7 1526.1 L1187.9 1527.8 L1186.1 1529.5 L1184.3 1531.2 L1182.5 1532.9 L1180.7 1534.5 L1178.9 1536.2 L1177.1 1537.8 L1175.3 1539.4 L1173.5 1541.0 L1171.7 1542.6 L1169.8 1544.1 L1168.0 1545.7 L1166.2 1547.2 L1164.4 1548.7 L1162.6 1550.2 L1160.8 1551.7 L1159.0 1553.1 L1157.2 1554.6 L1155.4 1556.1 L1153.6 1557.5 L1151.8 1559.0 L1150.0 1560.4 L1148.2 1561.8 L1146.4 1563.3 L1144.6 1564.7 L1142.8 1566.1 L1141.0 1567.5 L1139.2 1568.9 L1137.4 1570.3 L1135.6 1571.6 L1133.8 1573.0 L1132.0 1574.3 L1130.2 1575.6 L1128.4 1576.9 L1126.5 1578.1 L1124.7 1579.4 L1122.9 1580.6 L1121.1 1581.8 L1119.3 1583.0 L1117.5 1584.2 L1115.7 1585.3 L1113.9 1586.4 L1112.1 1587.5 L1110.3 1588.5 L1108.5 1589.6 L1106.7 1590.6 L1104.9 1591.5 L1103.1 1592.5 L1101.3 1593.3 L1099.5 1594.2 L1097.7 1595.0 L1095.9 1595.8 L1094.1 1596.6 L1092.3 1597.3 L1090.5 1598.1 L1088.7 1598.8 L1086.9 1599.7 L1085.1 1600.5 L1083.2 1601.3 L1081.4 1602.0 L1079.6 1602.8 L1077.8 1603.5 L1076.0 1604.3 L1074.2 1605.0 L1072.4 1605.7 L1070.6 1606.4 L1068.8 1607.0 L1067.0 1607.7 L1065.2 1608.3 L1063.4 1609.0 L1061.6 1609.8 L1059.8 1610.6 L1058.0 1611.4 L1056.2 1612.2 L1054.4 1613.0 L1052.6 1613.7 L1050.8 1614.5 L1049.0 1615.3 L1047.2 1616.0 L1045.4 1616.8 L1043.6 1617.5 L1041.8 1618.2 L1039.9 1619.0 L1038.1 1619.7 L1036.3 1620.4 L1034.5 1621.1 L1032.7 1621.9 L1030.9 1622.6 L1029.1 1623.2 L1027.3 1623.9 L1025.5 1624.6 L1023.7 1625.3 L1021.9 1625.9 L1020.1 1626.5Z" fill="#999" fill-opacity="0.4"/>
<g class="pts" fill="#000" fill-opacity="0.4" stroke="#000" stroke-opacity="0.4" stroke-width="1.5">
<circle cx="1118" cy="1597" r="6.1"/><circle cx="1168" cy="1535" r="6.1"/><circle cx="1194" cy="1538" r="6.1"/><circle cx="1201" cy="1489" r="6.1"/><circle cx="1141" cy="1556" r="6.1"/><circle cx="1148" cy="1569" r="6.1"/><circle cx="1123" cy="1559" r="6.1"/><circle cx="1154" cy="1526" r="6.1"/><circle cx="1087" cy="1631" r="6.1"/><circle cx="1124" cy="1587" r="6.1"/><circle cx="1053" cy="1588" r="6.1"/><circle cx="1160" cy="1536" r="6.1"/><circle cx="1039" cy="1645" r="6.1"/><circle cx="1105" cy="1575" r="6.1"/><circle cx="1060" cy="1598" r="6.1"/><circle cx="1194" cy="1517" r="6.1"/><circle cx="1171" cy="1524" r="6.1"/><circle cx="1158" cy="1556" r="6.1"/><circle cx="1061" cy="1583" r="6.1"/><circle cx="1155" cy="1556" r="6.1"/><circle cx="1136" cy="1618" r="6.1"/><circle cx="1183" cy="1534" r="6.1"/><circle cx="1159" cy="1526" r="6.1"/><circle cx="1117" cy="1593" r="6.1"/><circle cx="1177" cy="1534" r="6.1"/><circle cx="1208" cy="1540" r="6.1"/><circle cx="1151" cy="1561" r="6.1"/><circle cx="1141" cy="1525" r="6.1"/><circle cx="1126" cy="1550" r="6.1"/><circle cx="1091" cy="1559" r="6.1"/><circle cx="1114" cy="1579" r="6.1"/><circle cx="1114" cy="1554" r="6.1"/><circle cx="1101" cy="1569" r="6.1"/><circle cx="1158" cy="1554" r="6.1"/><circle cx="1210" cy="1508" r="6.1"/><circle cx="1205" cy="1498" r="6.1"/><circle cx="1143" cy="1585" r="6.1"/><circle cx="1065" cy="1588" r="6.1"/><circle cx="1118" cy="1614" r="6.1"/><circle cx="1139" cy="1544" r="6.1"/><circle cx="1087" cy="1573" r="6.1"/><circle cx="1153" cy="1569" r="6.1"/><circle cx="1090" cy="1576" r="6.1"/><circle cx="1113" cy="1600" r="6.1"/><circle cx="1099" cy="1585" r="6.1"/><circle cx="1168" cy="1519" r="6.1"/><circle cx="1129" cy="1571" r="6.1"/><circle cx="1121" cy="1565" r="6.1"/><circle cx="1103" cy="1582" r="6.1"/><circle cx="1061" cy="1584" r="6.1"/><circle cx="1111" cy="1611" r="6.1"/><circle cx="1169" cy="1565" r="6.1"/><circle cx="1152" cy="1584" r="6.1"/><circle cx="1114" cy="1574" r="6.1"/><circle cx="1134" cy="1579" r="6.1"/><circle cx="1177" cy="1539" r="6.1"/><circle cx="1063" cy="1587" r="6.1"/><circle cx="1130" cy="1594" r="6.1"/><circle cx="1144" cy="1597" r="6.1"/><circle cx="1191" cy="1513" r="6.1"/><circle cx="1182" cy="1497" r="6.1"/><circle cx="1215" cy="1529" r="6.1"/><circle cx="1073" cy="1559" r="6.1"/><circle cx="1219" cy="1479" r="6.1"/><circle cx="1224" cy="1504" r="6.1"/><circle cx="1099" cy="1591" r="6.1"/><circle cx="1110" cy="1609" r="6.1"/><circle cx="1062" cy="1589" r="6.1"/><circle cx="1113" cy="1638" r="6.1"/><circle cx="1113" cy="1570" r="6.1"/><circle cx="1214" cy="1505" r="6.1"/><circle cx="1059" cy="1600" r="6.1"/><circle cx="1162" cy="1572" r="6.1"/><circle cx="1187" cy="1542" r="6.1"/><circle cx="1042" cy="1598" r="6.1"/><circle cx="1125" cy="1596" r="6.1"/><circle cx="1192" cy="1528" r="6.1"/><circle cx="1156" cy="1531" r="6.1"/><circle cx="1094" cy="1610" r="6.1"/><circle cx="1189" cy="1534" r="6.1"/><circle cx="1161" cy="1538" r="6.1"/><circle cx="1118" cy="1524" r="6.1"/><circle cx="1132" cy="1569" r="6.1"/><circle cx="1187" cy="1517" r="6.1"/><circle cx="1157" cy="1547" r="6.1"/><circle cx="1147" cy="1553" r="6.1"/><circle cx="1110" cy="1585" r="6.1"/><circle cx="1172" cy="1553" r="6.1"/><circle cx="1096" cy="1567" r="6.1"/><circle cx="1157" cy="1551" r="6.1"/><circle cx="1137" cy="1556" r="6.1"/><circle cx="1173" cy="1525" r="6.1"/><circle cx="1090" cy="1575" r="6.1"/><circle cx="1141" cy="1564" r="6.1"/><circle cx="1130" cy="1554" r="6.1"/><circle cx="1151" cy="1575" r="6.1"/><circle cx="1207" cy="1466" r="6.1"/><circle cx="1156" cy="1566" r="6.1"/><circle cx="1143" cy="1572" r="6.1"/><circle cx="1172" cy="1552" r="6.1"/><circle cx="1064" cy="1587" r="6.1"/><circle cx="1125" cy="1577" r="6.1"/><circle cx="1116" cy="1595" r="6.1"/><circle cx="1197" cy="1500" r="6.1"/><circle cx="1164" cy="1549" r="6.1"/><circle cx="1199" cy="1512" r="6.1"/><circle cx="1123" cy="1611" r="6.1"/><circle cx="1178" cy="1538" r="6.1"/><circle cx="1123" cy="1604" r="6.1"/><circle cx="1095" cy="1614" r="6.1"/><circle cx="1092" cy="1608" r="6.1"/><circle cx="1068" cy="1574" r="6.1"/><circle cx="1096" cy="1624" r="6.1"/><circle cx="1147" cy="1523" r="6.1"/><circle cx="1082" cy="1527" r="6.1"/><circle cx="1046" cy="1634" r="6.1"/><circle cx="1167" cy="1553" r="6.1"/><circle cx="1078" cy="1534" r="6.1"/><circle cx="1095" cy="1570" r="6.1"/><circle cx="1124" cy="1595" r="6.1"/><circle cx="1135" cy="1524" r="6.1"/><circle cx="1087" cy="1603" r="6.1"/><circle cx="1103" cy="1565" r="6.1"/><circle cx="1152" cy="1584" r="6.1"/><circle cx="1088" cy="1599" r="6.1"/><circle cx="1126" cy="1585" r="6.1"/><circle cx="1144" cy="1529" r="6.1"/><circle cx="1134" cy="1487" r="6.1"/><circle cx="1162" cy="1574" r="6.1"/><circle cx="1095" cy="1590" r="6.1"/><circle cx="1044" cy="1616" r="6.1"/><circle cx="1212" cy="1449" r="6.1"/><circle cx="1229" cy="1492" r="6.1"/><circle cx="1126" cy="1545" r="6.1"/><circle cx="1230" cy="1525" r="6.1"/><circle cx="1213" cy="1476" r="6.1"/><circle cx="1067" cy="1599" r="6.1"/><circle cx="1191" cy="1505" r="6.1"/><circle cx="1094" cy="1616" r="6.1"/><circle cx="1053" cy="1633" r="6.1"/><circle cx="1197" cy="1505" r="6.1"/><circle cx="1061" cy="1608" r="6.1"/><circle cx="1128" cy="1593" r="6.1"/><circle cx="1145" cy="1597" r="6.1"/><circle cx="1098" cy="1585" r="6.1"/><circle cx="1162" cy="1563" r="6.1"/><circle cx="1059" cy="1596" r="6.1"/><circle cx="1148" cy="1595" r="6.1"/><circle cx="1082" cy="1590" r="6.1"/><circle cx="1071" cy="1598" r="6.1"/><circle cx="1228" cy="1487" r="6.1"/><circle cx="1121" cy="1553" r="6.1"/><circle cx="1118" cy="1550" r="6.1"/><circle cx="1125" cy="1579" r="6.1"/><circle cx="1129" cy="1531" r="6.1"/><circle cx="1102" cy="1546" r="6.1"/><circle cx="1099" cy="1560" r="6.1"/><circle cx="1201" cy="1519" r="6.1"/><circle cx="1078" cy="1534" r="6.1"/><circle cx="1126" cy="1616" r="6.1"/><circle cx="1220" cy="1503" r="6.1"/><circle cx="1134" cy="1606" r="6.1"/><circle cx="1092" cy="1637" r="6.1"/><circle cx="1141" cy="1538" r="6.1"/><circle cx="1151" cy="1530" r="6.1"/><circle cx="1096" cy="1643" r="6.1"/><circle cx="1159" cy="1577" r="6.1"/><circle cx="1116" cy="1547" r="6.1"/><circle cx="1139" cy="1595" r="6.1"/><circle cx="1130" cy="1561" r="6.1"/><circle cx="1093" cy="1630" r="6.1"/><circle cx="1100" cy="1628" r="6.1"/><circle cx="1112" cy="1572" r="6.1"/><circle cx="1140" cy="1590" r="6.1"/><circle cx="1107" cy="1546" r="6.1"/><circle cx="1096" cy="1639" r="6.1"/><circle cx="1206" cy="1466" r="6.1"/><circle cx="1108" cy="1609" r="6.1"/><circle cx="1177" cy="1529" r="6.1"/><circle cx="1130" cy="1566" r="6.1"/><circle cx="1164" cy="1583" r="6.1"/><circle cx="1191" cy="1535" r="6.1"/><circle cx="1102" cy="1632" r="6.1"/><circle cx="1131" cy="1593" r="6.1"/><circle cx="1161" cy="1513" r="6.1"/><circle cx="1093" cy="1551" r="6.1"/><circle cx="1103" cy="1554" r="6.1"/><circle cx="1073" cy="1594" r="6.1"/><circle cx="1227" cy="1480" r="6.1"/><circle cx="1167" cy="1524" r="6.1"/><circle cx="1119" cy="1586" r="6.1"/><circle cx="1125" cy="1573" r="6.1"/><circle cx="1102" cy="1602" r="6.1"/><circle cx="1222" cy="1482" r="6.1"/><circle cx="1062" cy="1557" r="6.1"/><circle cx="1088" cy="1578" r="6.1"/><circle cx="1147" cy="1557" r="6.1"/><circle cx="1189" cy="1535" r="6.1"/><circle cx="1083" cy="1624" r="6.1"/><circle cx="1181" cy="1501" r="6.1"/><circle cx="1184" cy="1517" r="6.1"/><circle cx="1099" cy="1561" r="6.1"/><circle cx="1171" cy="1530" r="6.1"/><circle cx="1212" cy="1505" r="6.1"/><circle cx="1124" cy="1592" r="6.1"/><circle cx="1226" cy="1471" r="6.1"/><circle cx="1156" cy="1530" r="6.1"/><circle cx="1139" cy="1530" r="6.1"/><circle cx="1108" cy="1597" r="6.1"/><circle cx="1069" cy="1620" r="6.1"/><circle cx="1166" cy="1541" r="6.1"/><circle cx="1123" cy="1565" r="6.1"/><circle cx="1156" cy="1586" r="6.1"/><circle cx="1074" cy="1577" r="6.1"/><circle cx="1127" cy="1570" r="6.1"/><circle cx="1126" cy="1591" r="6.1"/><circle cx="1174" cy="1570" r="6.1"/><circle cx="1125" cy="1558" r="6.1"/><circle cx="1160" cy="1496" r="6.1"/><circle cx="1106" cy="1611" r="6.1"/><circle cx="1133" cy="1578" r="6.1"/><circle cx="1211" cy="1500" r="6.1"/><circle cx="1136" cy="1579" r="6.1"/><circle cx="1078" cy="1571" r="6.1"/><circle cx="1072" cy="1565" r="6.1"/><circle cx="1118" cy="1499" r="6.1"/><circle cx="1150" cy="1523" r="6.1"/><circle cx="1154" cy="1533" r="6.1"/><circle cx="1219" cy="1516" r="6.1"/><circle cx="1075" cy="1608" r="6.1"/><circle cx="1105" cy="1565" r="6.1"/><circle cx="1121" cy="1636" r="6.1"/><circle cx="1131" cy="1550" r="6.1"/><circle cx="1068" cy="1623" r="6.1"/><circle cx="1087" cy="1589" r="6.1"/><circle cx="1117" cy="1541" r="6.1"/><circle cx="1165" cy="1556" r="6.1"/><circle cx="1135" cy="1526" r="6.1"/><circle cx="1091" cy="1641" r="6.1"/><circle cx="1153" cy="1539" r="6.1"/><circle cx="1131" cy="1536" r="6.1"/><circle cx="1098" cy="1572" r="6.1"/><circle cx="1169" cy="1521" r="6.1"/><circle cx="1108" cy="1589" r="6.1"/><circle cx="1145" cy="1557" r="6.1"/><circle cx="1054" cy="1596" r="6.1"/><circle cx="1225" cy="1494" r="6.1"/><circle cx="1193" cy="1526" r="6.1"/><circle cx="1045" cy="1568" r="6.1"/><circle cx="1087" cy="1565" r="6.1"/><circle cx="1224" cy="1499" r="6.1"/><circle cx="1067" cy="1622" r="6.1"/><circle cx="1057" cy="1609" r="6.1"/><circle cx="1112" cy="1560" r="6.1"/><circle cx="1148" cy="1539" r="6.1"/><circle cx="1035" cy="1602" r="6.1"/><circle cx="1118" cy="1580" r="6.1"/><circle cx="1090" cy="1590" r="6.1"/><circle cx="1188" cy="1507" r="6.1"/><circle cx="1193" cy="1535" r="6.1"/><circle cx="1129" cy="1586" r="6.1"/><circle cx="1108" cy="1560" r="6.1"/><circle cx="1068" cy="1578" r="6.1"/><circle cx="1097" cy="1603" r="6.1"/><circle cx="1200" cy="1499" r="6.1"/><circle cx="1121" cy="1549" r="6.1"/><circle cx="1081" cy="1653" r="6.1"/><circle cx="1129" cy="1565" r="6.1"/><circle cx="1165" cy="1565" r="6.1"/><circle cx="1036" cy="1624" r="6.1"/><circle cx="1141" cy="1567" r="6.1"/><circle cx="1089" cy="1668" r="6.1"/><circle cx="1108" cy="1578" r="6.1"/><circle cx="1097" cy="1576" r="6.1"/><circle cx="1088" cy="1585" r="6.1"/><circle cx="1163" cy="1550" r="6.1"/><circle cx="1182" cy="1498" r="6.1"/><circle cx="1120" cy="1601" r="6.1"/><circle cx="1187" cy="1517" r="6.1"/><circle cx="1140" cy="1573" r="6.1"/><circle cx="1144" cy="1566" r="6.1"/><circle cx="1091" cy="1584" r="6.1"/><circle cx="1184" cy="1537" r="6.1"/><circle cx="1173" cy="1509" r="6.1"/><circle cx="1207" cy="1502" r="6.1"/><circle cx="1160" cy="1587" r="6.1"/><circle cx="1189" cy="1498" r="6.1"/><circle cx="1122" cy="1604" r="6.1"/><circle cx="1200" cy="1549" r="6.1"/><circle cx="1060" cy="1606" r="6.1"/><circle cx="1135" cy="1575" r="6.1"/><circle cx="1181" cy="1543" r="6.1"/><circle cx="1132" cy="1539" r="6.1"/><circle cx="1121" cy="1572" r="6.1"/><circle cx="1093" cy="1625" r="6.1"/><circle cx="1159" cy="1526" r="6.1"/><circle cx="1190" cy="1538" r="6.1"/><circle cx="1205" cy="1492" r="6.1"/><circle cx="1094" cy="1585" r="6.1"/><circle cx="1063" cy="1610" r="6.1"/><circle cx="1191" cy="1533" r="6.1"/><circle cx="1012" cy="1621" r="6.1"/><circle cx="1210" cy="1511" r="6.1"/><circle cx="1094" cy="1576" r="6.1"/><circle cx="1175" cy="1508" r="6.1"/><circle cx="1171" cy="1512" r="6.1"/><circle cx="1153" cy="1605" r="6.1"/><circle cx="1117" cy="1593" r="6.1"/><circle cx="1104" cy="1582" r="6.1"/><circle cx="1198" cy="1538" r="6.1"/><circle cx="1135" cy="1543" r="6.1"/><circle cx="1160" cy="1527" r="6.1"/><circle cx="1055" cy="1614" r="6.1"/><circle cx="1103" cy="1608" r="6.1"/><circle cx="1178" cy="1518" r="6.1"/><circle cx="1141" cy="1533" r="6.1"/><circle cx="1013" cy="1573" r="6.1"/><circle cx="1179" cy="1511" r="6.1"/><circle cx="1123" cy="1582" r="6.1"/><circle cx="1162" cy="1512" r="6.1"/><circle cx="1033" cy="1586" r="6.1"/><circle cx="1115" cy="1562" r="6.1"/><circle cx="1173" cy="1547" r="6.1"/><circle cx="1166" cy="1550" r="6.1"/><circle cx="1126" cy="1543" r="6.1"/><circle cx="1103" cy="1597" r="6.1"/><circle cx="1165" cy="1562" r="6.1"/><circle cx="1070" cy="1593" r="6.1"/><circle cx="1140" cy="1528" r="6.1"/><circle cx="1137" cy="1559" r="6.1"/><circle cx="1128" cy="1593" r="6.1"/><circle cx="1146" cy="1575" r="6.1"/><circle cx="1194" cy="1511" r="6.1"/><circle cx="1079" cy="1593" r="6.1"/><circle cx="1119" cy="1568" r="6.1"/><circle cx="1100" cy="1592" r="6.1"/><circle cx="1111" cy="1598" r="6.1"/><circle cx="1149" cy="1554" r="6.1"/><circle cx="1148" cy="1522" r="6.1"/><circle cx="1094" cy="1615" r="6.1"/><circle cx="1179" cy="1508" r="6.1"/><circle cx="1206" cy="1516" r="6.1"/><circle cx="1063" cy="1583" r="6.1"/><circle cx="1200" cy="1484" r="6.1"/><circle cx="1072" cy="1616" r="6.1"/><circle cx="1077" cy="1580" r="6.1"/><circle cx="1211" cy="1509" r="6.1"/><circle cx="1062" cy="1600" r="6.1"/><circle cx="1110" cy="1563" r="6.1"/><circle cx="1076" cy="1617" r="6.1"/><circle cx="1179" cy="1541" r="6.1"/><circle cx="1172" cy="1539" r="6.1"/><circle cx="1067" cy="1612" r="6.1"/><circle cx="1202" cy="1509" r="6.1"/><circle cx="1183" cy="1526" r="6.1"/><circle cx="1129" cy="1539" r="6.1"/><circle cx="1129" cy="1530" r="6.1"/><circle cx="1081" cy="1604" r="6.1"/><circle cx="1104" cy="1557" r="6.1"/><circle cx="1166" cy="1554" r="6.1"/><circle cx="1093" cy="1598" r="6.1"/><circle cx="1072" cy="1593" r="6.1"/><circle cx="1074" cy="1594" r="6.1"/><circle cx="1107" cy="1528" r="6.1"/><circle cx="1144" cy="1535" r="6.1"/><circle cx="1223" cy="1487" r="6.1"/><circle cx="1145" cy="1542" r="6.1"/><circle cx="1060" cy="1576" r="6.1"/><circle cx="1079" cy="1609" r="6.1"/><circle cx="1064" cy="1602" r="6.1"/><circle cx="1078" cy="1534" r="6.1"/><circle cx="1192" cy="1522" r="6.1"/><circle cx="1174" cy="1548" r="6.1"/><circle cx="1218" cy="1494" r="6.1"/><circle cx="1193" cy="1521" r="6.1"/><circle cx="1116" cy="1579" r="6.1"/><circle cx="1150" cy="1573" r="6.1"/><circle cx="1139" cy="1548" r="6.1"/><circle cx="1100" cy="1603" r="6.1"/><circle cx="1169" cy="1506" r="6.1"/><circle cx="1206" cy="1498" r="6.1"/><circle cx="1149" cy="1582" r="6.1"/><circle cx="1187" cy="1515" r="6.1"/><circle cx="1153" cy="1564" r="6.1"/><circle cx="1201" cy="1512" r="6.1"/><circle cx="1172" cy="1561" r="6.1"/><circle cx="1197" cy="1522" r="6.1"/><circle cx="1152" cy="1527" r="6.1"/><circle cx="1184" cy="1526" r="6.1"/><circle cx="1111" cy="1571" r="6.1"/><circle cx="1090" cy="1619" r="6.1"/><circle cx="1119" cy="1541" r="6.1"/><circle cx="1061" cy="1595" r="6.1"/><circle cx="1141" cy="1531" r="6.1"/><circle cx="1081" cy="1642" r="6.1"/><circle cx="1105" cy="1599" r="6.1"/><circle cx="1066" cy="1585" r="6.1"/><circle cx="1097" cy="1559" r="6.1"/><circle cx="1179" cy="1549" r="6.1"/><circle cx="1150" cy="1574" r="6.1"/><circle cx="1058" cy="1583" r="6.1"/><circle cx="1196" cy="1492" r="6.1"/><circle cx="1163" cy="1514" r="6.1"/><circle cx="1138" cy="1568" r="6.1"/><circle cx="1039" cy="1565" r="6.1"/><circle cx="1220" cy="1488" r="6.1"/><circle cx="1136" cy="1585" r="6.1"/><circle cx="1113" cy="1563" r="6.1"/><circle cx="1117" cy="1570" r="6.1"/><circle cx="1094" cy="1601" r="6.1"/><circle cx="1164" cy="1520" r="6.1"/><circle cx="1136" cy="1562" r="6.1"/><circle cx="1082" cy="1593" r="6.1"/><circle cx="1172" cy="1512" r="6.1"/><circle cx="1111" cy="1635" r="6.1"/><circle cx="1064" cy="1527" r="6.1"/><circle cx="1126" cy="1574" r="6.1"/><circle cx="1048" cy="1561" r="6.1"/><circle cx="1109" cy="1629" r="6.1"/><circle cx="1103" cy="1575" r="6.1"/><circle cx="1118" cy="1601" r="6.1"/><circle cx="1216" cy="1481" r="6.1"/><circle cx="1101" cy="1570" r="6.1"/><circle cx="1164" cy="1562" r="6.1"/><circle cx="1174" cy="1545" r="6.1"/><circle cx="1180" cy="1522" r="6.1"/><circle cx="1131" cy="1588" r="6.1"/><circle cx="1068" cy="1609" r="6.1"/><circle cx="1200" cy="1493" r="6.1"/><circle cx="1111" cy="1535" r="6.1"/><circle cx="1164" cy="1516" r="6.1"/><circle cx="1135" cy="1608" r="6.1"/><circle cx="1171" cy="1551" r="6.1"/><circle cx="1161" cy="1575" r="6.1"/><circle cx="1063" cy="1584" r="6.1"/><circle cx="1153" cy="1541" r="6.1"/><circle cx="1226" cy="1493" r="6.1"/><circle cx="1214" cy="1488" r="6.1"/><circle cx="1141" cy="1588" r="6.1"/><circle cx="1074" cy="1591" r="6.1"/><circle cx="1128" cy="1630" r="6.1"/><circle cx="1200" cy="1509" r="6.1"/><circle cx="1183" cy="1504" r="6.1"/><circle cx="1171" cy="1526" r="6.1"/><circle cx="1166" cy="1568" r="6.1"/><circle cx="1139" cy="1546" r="6.1"/><circle cx="1137" cy="1554" r="6.1"/><circle cx="1133" cy="1583" r="6.1"/><circle cx="1155" cy="1527" r="6.1"/><circle cx="1058" cy="1592" r="6.1"/><circle cx="1112" cy="1568" r="6.1"/><circle cx="1195" cy="1513" r="6.1"/><circle cx="1142" cy="1555" r="6.1"/><circle cx="1086" cy="1612" r="6.1"/><circle cx="1155" cy="1544" r="6.1"/><circle cx="1089" cy="1612" r="6.1"/><circle cx="1094" cy="1560" r="6.1"/><circle cx="1020" cy="1609" r="6.1"/><circle cx="1128" cy="1549" r="6.1"/><circle cx="1203" cy="1498" r="6.1"/><circle cx="1171" cy="1539" r="6.1"/><circle cx="1159" cy="1515" r="6.1"/><circle cx="1058" cy="1610" r="6.1"/><circle cx="1124" cy="1608" r="6.1"/><circle cx="1114" cy="1604" r="6.1"/><circle cx="1164" cy="1504" r="6.1"/><circle cx="1120" cy="1562" r="6.1"/><circle cx="1137" cy="1532" r="6.1"/><circle cx="1201" cy="1509" r="6.1"/><circle cx="1227" cy="1498" r="6.1"/><circle cx="1194" cy="1503" r="6.1"/><circle cx="1091" cy="1593" r="6.1"/><circle cx="1185" cy="1446" r="6.1"/><circle cx="1097" cy="1568" r="6.1"/><circle cx="1120" cy="1556" r="6.1"/><circle cx="1081" cy="1597" r="6.1"/><circle cx="1160" cy="1541" r="6.1"/><circle cx="1211" cy="1490" r="6.1"/><circle cx="1094" cy="1614" r="6.1"/><circle cx="1182" cy="1520" r="6.1"/><circle cx="1116" cy="1585" r="6.1"/><circle cx="1171" cy="1546" r="6.1"/><circle cx="1129" cy="1544" r="6.1"/><circle cx="1164" cy="1544" r="6.1"/><circle cx="1215" cy="1529" r="6.1"/><circle cx="1102" cy="1619" r="6.1"/><circle cx="1207" cy="1538" r="6.1"/><circle cx="1086" cy="1584" r="6.1"/><circle cx="1108" cy="1576" r="6.1"/><circle cx="1033" cy="1598" r="6.1"/><circle cx="1165" cy="1522" r="6.1"/><circle cx="1220" cy="1510" r="6.1"/><circle cx="1155" cy="1567" r="6.1"/><circle cx="1197" cy="1499" r="6.1"/><circle cx="1063" cy="1641" r="6.1"/><circle cx="1057" cy="1546" r="6.1"/><circle cx="1130" cy="1538" r="6.1"/><circle cx="1198" cy="1494" r="6.1"/><circle cx="1151" cy="1551" r="6.1"/><circle cx="1220" cy="1497" r="6.1"/><circle cx="1109" cy="1553" r="6.1"/><circle cx="1165" cy="1559" r="6.1"/><circle cx="1121" cy="1547" r="6.1"/><circle cx="1192" cy="1506" r="6.1"/><circle cx="1085" cy="1612" r="6.1"/><circle cx="1180" cy="1518" r="6.1"/><circle cx="1127" cy="1555" r="6.1"/><circle cx="1118" cy="1556" r="6.1"/><circle cx="1187" cy="1518" r="6.1"/><circle cx="1113" cy="1545" r="6.1"/><circle cx="1055" cy="1644" r="6.1"/><circle cx="1208" cy="1508" r="6.1"/><circle cx="1058" cy="1588" r="6.1"/><circle cx="1138" cy="1574" r="6.1"/><circle cx="1166" cy="1548" r="6.1"/><circle cx="1154" cy="1564" r="6.1"/><circle cx="1208" cy="1497" r="6.1"/><circle cx="1107" cy="1565" r="6.1"/><circle cx="1178" cy="1520" r="6.1"/><circle cx="1112" cy="1607" r="6.1"/><circle cx="1163" cy="1527" r="6.1"/><circle cx="1178" cy="1534" r="6.1"/><circle cx="1162" cy="1558" r="6.1"/><circle cx="1092" cy="1580" r="6.1"/><circle cx="1138" cy="1602" r="6.1"/><circle cx="1116" cy="1609" r="6.1"/><circle cx="1169" cy="1533" r="6.1"/><circle cx="1167" cy="1532" r="6.1"/><circle cx="1212" cy="1448" r="6.1"/><circle cx="1136" cy="1585" r="6.1"/><circle cx="1108" cy="1586" r="6.1"/><circle cx="1045" cy="1614" r="6.1"/><circle cx="1090" cy="1600" r="6.1"/><circle cx="1114" cy="1609" r="6.1"/><circle cx="1136" cy="1564" r="6.1"/><circle cx="1185" cy="1525" r="6.1"/><circle cx="1115" cy="1565" r="6.1"/><circle cx="1153" cy="1543" r="6.1"/><circle cx="1185" cy="1522" r="6.1"/><circle cx="1170" cy="1518" r="6.1"/><circle cx="1177" cy="1531" r="6.1"/><circle cx="1163" cy="1596" r="6.1"/><circle cx="1108" cy="1611" r="6.1"/><circle cx="1149" cy="1571" r="6.1"/><circle cx="1072" cy="1613" r="6.1"/><circle cx="1101" cy="1600" r="6.1"/><circle cx="1088" cy="1584" r="6.1"/><circle cx="1140" cy="1545" r="6.1"/><circle cx="1107" cy="1586" r="6.1"/><circle cx="1113" cy="1606" r="6.1"/><circle cx="1131" cy="1592" r="6.1"/><circle cx="1151" cy="1571" r="6.1"/><circle cx="1155" cy="1563" r="6.1"/><circle cx="1156" cy="1555" r="6.1"/><circle cx="1168" cy="1579" r="6.1"/><circle cx="1191" cy="1549" r="6.1"/><circle cx="1132" cy="1558" r="6.1"/><circle cx="1074" cy="1612" r="6.1"/><circle cx="1157" cy="1577" r="6.1"/><circle cx="1019" cy="1593" r="6.1"/><circle cx="1121" cy="1545" r="6.1"/><circle cx="1092" cy="1588" r="6.1"/><circle cx="1172" cy="1519" r="6.1"/><circle cx="1193" cy="1526" r="6.1"/><circle cx="1096" cy="1604" r="6.1"/><circle cx="1090" cy="1618" r="6.1"/><circle cx="1151" cy="1551" r="6.1"/><circle cx="1068" cy="1575" r="6.1"/><circle cx="1147" cy="1531" r="6.1"/><circle cx="1089" cy="1654" r="6.1"/><circle cx="1099" cy="1590" r="6.1"/><circle cx="1040" cy="1665" r="6.1"/><circle cx="1163" cy="1569" r="6.1"/><circle cx="1149" cy="1517" r="6.1"/><circle cx="1132" cy="1548" r="6.1"/><circle cx="1179" cy="1544" r="6.1"/><circle cx="1084" cy="1577" r="6.1"/><circle cx="1192" cy="1526" r="6.1"/><circle cx="1163" cy="1520" r="6.1"/><circle cx="1144" cy="1560" r="6.1"/><circle cx="1191" cy="1574" r="6.1"/><circle cx="1184" cy="1505" r="6.1"/><circle cx="1140" cy="1580" r="6.1"/><circle cx="1093" cy="1599" r="6.1"/><circle cx="1156" cy="1517" r="6.1"/><circle cx="1160" cy="1578" r="6.1"/><circle cx="1151" cy="1533" r="6.1"/><circle cx="1134" cy="1530" r="6.1"/><circle cx="1113" cy="1587" r="6.1"/><circle cx="1069" cy="1568" r="6.1"/><circle cx="1196" cy="1498" r="6.1"/><circle cx="1163" cy="1535" r="6.1"/><circle cx="1062" cy="1532" r="6.1"/><circle cx="1107" cy="1578" r="6.1"/><circle cx="1157" cy="1548" r="6.1"/><circle cx="1100" cy="1630" r="6.1"/><circle cx="1166" cy="1513" r="6.1"/><circle cx="1163" cy="1537" r="6.1"/><circle cx="1100" cy="1616" r="6.1"/><circle cx="1114" cy="1581" r="6.1"/><circle cx="1121" cy="1612" r="6.1"/><circle cx="1109" cy="1588" r="6.1"/><circle cx="1070" cy="1596" r="6.1"/><circle cx="1124" cy="1541" r="6.1"/><circle cx="1115" cy="1589" r="6.1"/><circle cx="1168" cy="1572" r="6.1"/><circle cx="1101" cy="1580" r="6.1"/><circle cx="1126" cy="1496" r="6.1"/><circle cx="1102" cy="1604" r="6.1"/><circle cx="1186" cy="1529" r="6.1"/><circle cx="1095" cy="1621" r="6.1"/><circle cx="1093" cy="1605" r="6.1"/><circle cx="1184" cy="1578" r="6.1"/><circle cx="1231" cy="1518" r="6.1"/><circle cx="1091" cy="1571" r="6.1"/><circle cx="1086" cy="1568" r="6.1"/><circle cx="1167" cy="1537" r="6.1"/><circle cx="1137" cy="1536" r="6.1"/><circle cx="1182" cy="1515" r="6.1"/><circle cx="1205" cy="1478" r="6.1"/><circle cx="1081" cy="1572" r="6.1"/><circle cx="1083" cy="1591" r="6.1"/><circle cx="1141" cy="1545" r="6.1"/><circle cx="1148" cy="1530" r="6.1"/><circle cx="1141" cy="1562" r="6.1"/><circle cx="1192" cy="1529" r="6.1"/><circle cx="1091" cy="1614" r="6.1"/><circle cx="1222" cy="1510" r="6.1"/><circle cx="1058" cy="1597" r="6.1"/><circle cx="1134" cy="1533" r="6.1"/><circle cx="1041" cy="1595" r="6.1"/><circle cx="1212" cy="1522" r="6.1"/><circle cx="1230" cy="1498" r="6.1"/><circle cx="1069" cy="1562" r="6.1"/><circle cx="1091" cy="1615" r="6.1"/><circle cx="1095" cy="1568" r="6.1"/><circle cx="1102" cy="1595" r="6.1"/><circle cx="1213" cy="1506" r="6.1"/><circle cx="1148" cy="1542" r="6.1"/><circle cx="1199" cy="1510" r="6.1"/><circle cx="1088" cy="1584" r="6.1"/><circle cx="1145" cy="1575" r="6.1"/><circle cx="1109" cy="1599" r="6.1"/><circle cx="1186" cy="1536" r="6.1"/><circle cx="1028" cy="1612" r="6.1"/><circle cx="1093" cy="1575" r="6.1"/><circle cx="1147" cy="1583" r="6.1"/><circle cx="1075" cy="1635" r="6.1"/><circle cx="1116" cy="1571" r="6.1"/><circle cx="1149" cy="1546" r="6.1"/><circle cx="1022" cy="1625" r="6.1"/><circle cx="1214" cy="1525" r="6.1"/><circle cx="1143" cy="1556" r="6.1"/><circle cx="1075" cy="1625" r="6.1"/><circle cx="1224" cy="1473" r="6.1"/><circle cx="1088" cy="1601" r="6.1"/>
</g>
<path d="M1020.1 1612.7 L1021.9 1612.5 L1023.7 1612.2 L1025.5 1611.9 L1027.3 1611.6 L1029.1 1611.3 L1030.9 1610.9 L1032.7 1610.6 L1034.5 1610.2 L1036.3 1609.9 L1038.1 1609.5 L1039.9 1609.1 L1041.8 1608.8 L1043.6 1608.4 L1045.4 1608.0 L1047.2 1607.6 L1049.0 1607.2 L1050.8 1606.8 L1052.6 1606.4 L1054.4 1606.0 L1056.2 1605.6 L1058.0 1605.2 L1059.8 1604.7 L1061.6 1604.3 L1063.4 1603.8 L1065.2 1603.4 L1067.0 1602.9 L1068.8 1602.4 L1070.6 1601.9 L1072.4 1601.4 L1074.2 1600.9 L1076.0 1600.4 L1077.8 1599.8 L1079.6 1599.3 L1081.4 1598.7 L1083.2 1598.1 L1085.1 1597.5 L1086.9 1596.8 L1088.7 1596.2 L1090.5 1595.5 L1092.3 1594.8 L1094.1 1594.0 L1095.9 1593.3 L1097.7 1592.5 L1099.5 1591.6 L1101.3 1590.8 L1103.1 1589.9 L1104.9 1588.9 L1106.7 1588.0 L1108.5 1587.0 L1110.3 1586.0 L1112.1 1584.9 L1113.9 1583.8 L1115.7 1582.7 L1117.5 1581.6 L1119.3 1580.4 L1121.1 1579.2 L1122.9 1578.0 L1124.7 1576.8 L1126.5 1575.6 L1128.4 1574.3 L1130.2 1573.0 L1132.0 1571.7 L1133.8 1570.4 L1135.6 1569.0 L1137.4 1567.7 L1139.2 1566.3 L1141.0 1564.9 L1142.8 1563.5 L1144.6 1562.1 L1146.4 1560.7 L1148.2 1559.3 L1150.0 1557.8 L1151.8 1556.4 L1153.6 1554.9 L1155.4 1553.5 L1157.2 1552.0 L1159.0 1550.6 L1160.8 1549.1 L1162.6 1547.6 L1164.4 1546.1 L1166.2 1544.6 L1168.0 1543.1 L1169.8 1541.5 L1171.7 1540.0 L1173.5 1538.4 L1175.3 1536.8 L1177.1 1535.2 L1178.9 1533.6 L1180.7 1531.9 L1182.5 1530.3 L1184.3 1528.6 L1186.1 1526.9 L1187.9 1525.2 L1189.7 1523.5 L1191.5 1521.7 L1193.3 1520.0 L1195.1 1518.3 L1196.9 1516.5 L1198.7 1514.8 L1200.5 1513.0 L1202.3 1511.3 L1204.1 1509.6 L1205.9 1507.9 L1207.7 1506.2 L1209.5 1504.5 L1211.3 1502.8 L1213.1 1501.2 L1215.0 1499.5 L1216.8 1497.8 L1218.6 1496.2 L1220.4 1494.5 L1222.2 1492.8 L1224.0 1491.1 L1225.8 1489.4 L1227.6 1487.7 L1229.4 1486.0 L1231.2 1484.3 L1233.0 1482.5 L1234.8 1480.8" stroke="#3366ff" stroke-width="5.8" fill="none" stroke-linecap="butt"/>
</g>
<rect x="999.8" y="1191.4" width="411.2" height="54.7" fill="#fff" stroke="#000" stroke-width="3.2"/>
<text x="1204.5" y="1230.5" font-size="31.5" fill="#1a1a1a" text-anchor="middle" textLength="338.5" lengthAdjust="spacingAndGlyphs">Smakhtin - matched class</text>
<path d="M998.2 1764.3H1412.2" stroke="#000" stroke-width="3"/>
<path d="M1089.3 1764.3V1773.3M1193 1764.3V1773.3M1296.7 1764.3V1773.3M1400.4 1764.3V1773.3" stroke="#333" stroke-width="3"/>
<text x="1089.3" y="1815" font-size="30" fill="#4d4d4d" text-anchor="middle">10<tspan font-size="21.5" dy="-15">-1</tspan></text>
<text x="1193" y="1815" font-size="30" fill="#4d4d4d" text-anchor="middle">10<tspan font-size="21.5" dy="-15">1</tspan></text>
<text x="1296.7" y="1815" font-size="30" fill="#4d4d4d" text-anchor="middle">10<tspan font-size="21.5" dy="-15">3</tspan></text>
<text x="1400.4" y="1815" font-size="30" fill="#4d4d4d" text-anchor="middle">10<tspan font-size="21.5" dy="-15">5</tspan></text>
<g fill="#000" transform="translate(217.7 1867.5)"><text x="0" y="0" font-size="37">Mean annual e-flows estimated by local e-flow assessment</text><text x="975.0" y="0.8" font-size="44">(</text><text x="991.2" y="0.0" font-size="37">m</text><text x="1021.9" y="-18.9" font-size="25">3</text><text x="1045.5" y="0.0" font-size="37">s</text><text x="1062.9" y="-18.9" font-size="25">−1</text><text x="1092.7" y="0.8" font-size="44">)</text></g>
<g fill="#000" transform="translate(38.9 1383.8) rotate(-90)"><text x="0" y="0" font-size="37">Mean annual e-flows estimated by global models</text><text x="810.6" y="0.8" font-size="44">(</text><text x="826.8" y="0.0" font-size="37">m</text><text x="857.5" y="-18.9" font-size="25">3</text><text x="881.1" y="0.0" font-size="37">s</text><text x="898.5" y="-18.9" font-size="25">−1</text><text x="928.3" y="0.8" font-size="44">)</text></g>
</svg></body></html>
